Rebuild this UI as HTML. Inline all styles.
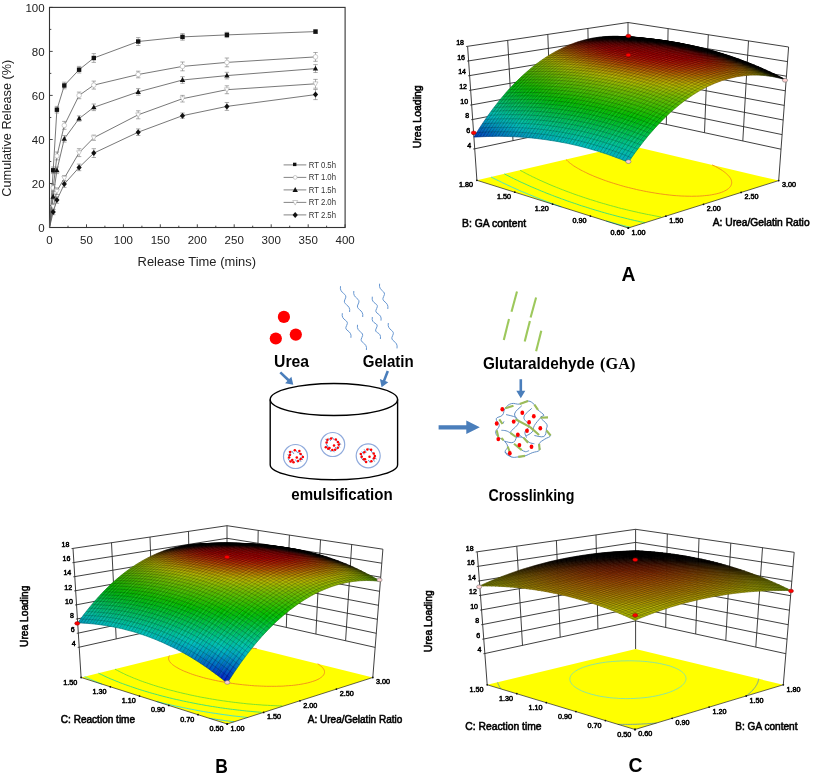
<!DOCTYPE html>
<html lang="en"><head><meta charset="utf-8"><title>Urea loading and release</title>
<style>html,body{margin:0;padding:0;background:#fff}svg{display:block}</style></head>
<body>
<svg width="813" height="777" viewBox="0 0 813 777">
<rect width="813" height="777" fill="#fff"/>
<g id="release-chart">
<rect x="49.5" y="7.4" width="295.6" height="220.1" fill="#fff" stroke="#333" stroke-width="1.1"/>
<path d="M49.5 227.5v-3.2M68 227.5v-1.8M86.5 227.5v-3.2M104.9 227.5v-1.8M123.4 227.5v-3.2M141.9 227.5v-1.8M160.3 227.5v-3.2M178.8 227.5v-1.8M197.3 227.5v-3.2M215.8 227.5v-1.8M234.2 227.5v-3.2M252.7 227.5v-1.8M271.2 227.5v-3.2M289.7 227.5v-1.8M308.2 227.5v-3.2M326.6 227.5v-1.8M345.1 227.5v-3.2M49.5 227.5h3.2M49.5 205.5h1.8M49.5 183.5h3.2M49.5 161.5h1.8M49.5 139.5h3.2M49.5 117.5h1.8M49.5 95.4h3.2M49.5 73.4h1.8M49.5 51.4h3.2M49.5 29.4h1.8M49.5 7.4h3.2" stroke="#333" stroke-width="0.9" fill="none"/>
<text x="49.5" y="243.8" font-size="11.5" text-anchor="middle" font-family='"Liberation Sans", sans-serif' fill="#222">0</text>
<text x="86.5" y="243.8" font-size="11.5" text-anchor="middle" font-family='"Liberation Sans", sans-serif' fill="#222">50</text>
<text x="123.4" y="243.8" font-size="11.5" text-anchor="middle" font-family='"Liberation Sans", sans-serif' fill="#222">100</text>
<text x="160.3" y="243.8" font-size="11.5" text-anchor="middle" font-family='"Liberation Sans", sans-serif' fill="#222">150</text>
<text x="197.3" y="243.8" font-size="11.5" text-anchor="middle" font-family='"Liberation Sans", sans-serif' fill="#222">200</text>
<text x="234.2" y="243.8" font-size="11.5" text-anchor="middle" font-family='"Liberation Sans", sans-serif' fill="#222">250</text>
<text x="271.2" y="243.8" font-size="11.5" text-anchor="middle" font-family='"Liberation Sans", sans-serif' fill="#222">300</text>
<text x="308.2" y="243.8" font-size="11.5" text-anchor="middle" font-family='"Liberation Sans", sans-serif' fill="#222">350</text>
<text x="345.1" y="243.8" font-size="11.5" text-anchor="middle" font-family='"Liberation Sans", sans-serif' fill="#222">400</text>
<text x="44.6" y="231.6" font-size="11.5" text-anchor="end" font-family='"Liberation Sans", sans-serif' fill="#222">0</text>
<text x="44.6" y="187.6" font-size="11.5" text-anchor="end" font-family='"Liberation Sans", sans-serif' fill="#222">20</text>
<text x="44.6" y="143.6" font-size="11.5" text-anchor="end" font-family='"Liberation Sans", sans-serif' fill="#222">40</text>
<text x="44.6" y="99.5" font-size="11.5" text-anchor="end" font-family='"Liberation Sans", sans-serif' fill="#222">60</text>
<text x="44.6" y="55.5" font-size="11.5" text-anchor="end" font-family='"Liberation Sans", sans-serif' fill="#222">80</text>
<text x="44.6" y="11.5" font-size="11.5" text-anchor="end" font-family='"Liberation Sans", sans-serif' fill="#222">100</text>
<text x="196.8" y="265.6" font-size="13.2" text-anchor="middle" font-family='"Liberation Sans", sans-serif' textLength="118.5" lengthAdjust="spacingAndGlyphs" fill="#222">Release Time (mins)</text>
<text x="11.4" y="128.2" font-size="13" text-anchor="middle" font-family='"Liberation Sans", sans-serif' textLength="137" lengthAdjust="spacingAndGlyphs" transform="rotate(-90 11.4 128.2)" fill="#222">Cumulative Release (%)</text>
<polyline points="49.5,227.5 53.2,170.3 56.9,109.7 64.3,85.5 79.1,69.7 93.8,58 138.2,41.5 182.5,36.9 226.9,34.9 315.5,31.6" fill="none" stroke="#555" stroke-width="0.8"/>
<path d="M53.2 167v6.6M51 167h4.4M51 173.6h4.4M56.9 106.4v6.6M54.7 106.4h4.4M54.7 113h4.4M64.3 82.2v6.6M62.1 82.2h4.4M62.1 88.8h4.4M79.1 66.4v6.6M76.9 66.4h4.4M76.9 73h4.4M93.8 53.6v8.8M91.6 53.6h4.4M91.6 62.4h4.4M138.2 37.6v7.9M136 37.6h4.4M136 45.5h4.4M182.5 33.6v6.6M180.3 33.6h4.4M180.3 40.2h4.4M226.9 32.3v5.3M224.7 32.3h4.4M224.7 37.6h4.4M315.5 29.9v3.5M313.3 29.9h4.4M313.3 33.4h4.4" stroke="#777" stroke-width="0.6" fill="none"/>
<rect x="51" y="168.1" width="4.4" height="4.4" fill="#111"/>
<rect x="54.7" y="107.5" width="4.4" height="4.4" fill="#111"/>
<rect x="62.1" y="83.3" width="4.4" height="4.4" fill="#111"/>
<rect x="76.9" y="67.5" width="4.4" height="4.4" fill="#111"/>
<rect x="91.6" y="55.8" width="4.4" height="4.4" fill="#111"/>
<rect x="136" y="39.3" width="4.4" height="4.4" fill="#111"/>
<rect x="180.3" y="34.7" width="4.4" height="4.4" fill="#111"/>
<rect x="224.7" y="32.7" width="4.4" height="4.4" fill="#111"/>
<rect x="313.3" y="29.4" width="4.4" height="4.4" fill="#111"/>
<polyline points="49.5,227.5 53.2,187.9 56.9,156 64.3,125.4 79.1,95.4 93.8,85.1 138.2,74.5 182.5,66.4 226.9,62.4 315.5,56.9" fill="none" stroke="#555" stroke-width="0.8"/>
<path d="M53.2 184.6v6.6M51 184.6h4.4M51 191.2h4.4M56.9 152v7.9M54.7 152h4.4M54.7 159.9h4.4M64.3 121.4v7.9M62.1 121.4h4.4M62.1 129.3h4.4M79.1 92.1v6.6M76.9 92.1h4.4M76.9 98.7h4.4M93.8 81.1v7.9M91.6 81.1h4.4M91.6 89.1h4.4M138.2 71.2v6.6M136 71.2h4.4M136 77.8h4.4M182.5 62v8.8M180.3 62h4.4M180.3 70.8h4.4M226.9 58v8.8M224.7 58h4.4M224.7 66.8h4.4M315.5 52.5v8.8M313.3 52.5h4.4M313.3 61.3h4.4" stroke="#777" stroke-width="0.6" fill="none"/>
<circle cx="53.2" cy="187.9" r="2.3" fill="#fff" stroke="#aaa" stroke-width="0.6"/>
<circle cx="56.9" cy="156" r="2.3" fill="#fff" stroke="#aaa" stroke-width="0.6"/>
<circle cx="64.3" cy="125.4" r="2.3" fill="#fff" stroke="#aaa" stroke-width="0.6"/>
<circle cx="79.1" cy="95.4" r="2.3" fill="#fff" stroke="#aaa" stroke-width="0.6"/>
<circle cx="93.8" cy="85.1" r="2.3" fill="#fff" stroke="#aaa" stroke-width="0.6"/>
<circle cx="138.2" cy="74.5" r="2.3" fill="#fff" stroke="#aaa" stroke-width="0.6"/>
<circle cx="182.5" cy="66.4" r="2.3" fill="#fff" stroke="#aaa" stroke-width="0.6"/>
<circle cx="226.9" cy="62.4" r="2.3" fill="#fff" stroke="#aaa" stroke-width="0.6"/>
<circle cx="315.5" cy="56.9" r="2.3" fill="#fff" stroke="#aaa" stroke-width="0.6"/>
<polyline points="49.5,227.5 53.2,196.7 56.9,170.3 64.3,138.8 79.1,118.6 93.8,107.3 138.2,91.9 182.5,80 226.9,75.6 315.5,68.6" fill="none" stroke="#555" stroke-width="0.8"/>
<path d="M53.2 194v5.3M51 194h4.4M51 199.3h4.4M56.9 167v6.6M54.7 167h4.4M54.7 173.6h4.4M64.3 135.5v6.6M62.1 135.5h4.4M62.1 142.1h4.4M79.1 115.9v5.3M76.9 115.9h4.4M76.9 121.2h4.4M93.8 104v6.6M91.6 104h4.4M91.6 110.6h4.4M138.2 88.6v6.6M136 88.6h4.4M136 95.2h4.4M182.5 76.7v6.6M180.3 76.7h4.4M180.3 83.3h4.4M226.9 72.3v6.6M224.7 72.3h4.4M224.7 78.9h4.4M315.5 64.6v7.9M313.3 64.6h4.4M313.3 72.5h4.4" stroke="#777" stroke-width="0.6" fill="none"/>
<polygon points="53.2,193.8 55.9,198.7 50.5,198.7" fill="#111"/>
<polygon points="56.9,167.4 59.6,172.3 54.2,172.3" fill="#111"/>
<polygon points="64.3,135.9 67,140.8 61.6,140.8" fill="#111"/>
<polygon points="79.1,115.7 81.8,120.6 76.4,120.6" fill="#111"/>
<polygon points="93.8,104.4 96.5,109.3 91.1,109.3" fill="#111"/>
<polygon points="138.2,89 140.9,93.9 135.5,93.9" fill="#111"/>
<polygon points="182.5,77.1 185.2,82 179.8,82" fill="#111"/>
<polygon points="226.9,72.7 229.6,77.6 224.2,77.6" fill="#111"/>
<polygon points="315.5,65.7 318.2,70.6 312.8,70.6" fill="#111"/>
<polyline points="49.5,227.5 53.2,206.6 56.9,191.2 64.3,178.2 79.1,152.7 93.8,137.7 138.2,114.8 182.5,98.7 226.9,89.7 315.5,83.8" fill="none" stroke="#555" stroke-width="0.8"/>
<path d="M53.2 204v5.3M51 204h4.4M51 209.2h4.4M56.9 187.9v6.6M54.7 187.9h4.4M54.7 194.5h4.4M64.3 175.6v5.3M62.1 175.6h4.4M62.1 180.8h4.4M79.1 148.7v7.9M76.9 148.7h4.4M76.9 156.6h4.4M93.8 135.1v5.3M91.6 135.1h4.4M91.6 140.3h4.4M138.2 110.8v7.9M136 110.8h4.4M136 118.8h4.4M182.5 95.4v6.6M180.3 95.4h4.4M180.3 102h4.4M226.9 85.8v7.9M224.7 85.8h4.4M224.7 93.7h4.4M315.5 79.4v8.8M313.3 79.4h4.4M313.3 88.2h4.4" stroke="#777" stroke-width="0.6" fill="none"/>
<polygon points="53.2,209.3 55.7,204.7 50.7,204.7" fill="#fff" stroke="#aaa" stroke-width="0.6"/>
<polygon points="56.9,193.9 59.4,189.3 54.4,189.3" fill="#fff" stroke="#aaa" stroke-width="0.6"/>
<polygon points="64.3,180.9 66.8,176.3 61.8,176.3" fill="#fff" stroke="#aaa" stroke-width="0.6"/>
<polygon points="79.1,155.4 81.6,150.8 76.6,150.8" fill="#fff" stroke="#aaa" stroke-width="0.6"/>
<polygon points="93.8,140.4 96.3,135.8 91.3,135.8" fill="#fff" stroke="#aaa" stroke-width="0.6"/>
<polygon points="138.2,117.5 140.7,112.9 135.7,112.9" fill="#fff" stroke="#aaa" stroke-width="0.6"/>
<polygon points="182.5,101.4 185,96.8 180,96.8" fill="#fff" stroke="#aaa" stroke-width="0.6"/>
<polygon points="226.9,92.4 229.4,87.8 224.4,87.8" fill="#fff" stroke="#aaa" stroke-width="0.6"/>
<polygon points="315.5,86.5 318,81.9 313,81.9" fill="#fff" stroke="#aaa" stroke-width="0.6"/>
<polyline points="49.5,227.5 53.2,212.1 56.9,200 64.3,184.1 79.1,167.4 93.8,153.1 138.2,132.2 182.5,115.7 226.9,106.4 315.5,94.6" fill="none" stroke="#555" stroke-width="0.8"/>
<path d="M53.2 209.5v5.3M51 209.5h4.4M51 214.7h4.4M56.9 196.7v6.6M54.7 196.7h4.4M54.7 203.3h4.4M64.3 180.8v6.6M62.1 180.8h4.4M62.1 187.4h4.4M79.1 164.1v6.6M76.9 164.1h4.4M76.9 170.7h4.4M93.8 148.7v8.8M91.6 148.7h4.4M91.6 157.5h4.4M138.2 128.9v6.6M136 128.9h4.4M136 135.5h4.4M182.5 113v5.3M180.3 113h4.4M180.3 118.3h4.4M226.9 102.5v7.9M224.7 102.5h4.4M224.7 110.4h4.4M315.5 89.5v10.1M313.3 89.5h4.4M313.3 99.6h4.4" stroke="#777" stroke-width="0.6" fill="none"/>
<polygon points="53.2,209.1 55.8,212.1 53.2,215.1 50.6,212.1" fill="#111"/>
<polygon points="56.9,197 59.5,200 56.9,203 54.3,200" fill="#111"/>
<polygon points="64.3,181.1 66.9,184.1 64.3,187.1 61.7,184.1" fill="#111"/>
<polygon points="79.1,164.4 81.7,167.4 79.1,170.4 76.5,167.4" fill="#111"/>
<polygon points="93.8,150.1 96.4,153.1 93.8,156.1 91.2,153.1" fill="#111"/>
<polygon points="138.2,129.2 140.8,132.2 138.2,135.2 135.6,132.2" fill="#111"/>
<polygon points="182.5,112.7 185.1,115.7 182.5,118.7 179.9,115.7" fill="#111"/>
<polygon points="226.9,103.4 229.5,106.4 226.9,109.4 224.3,106.4" fill="#111"/>
<polygon points="315.5,91.6 318.1,94.6 315.5,97.6 312.9,94.6" fill="#111"/>
<line x1="283.6" x2="306.3" y1="164.9" y2="164.9" stroke="#666" stroke-width="0.8"/>
<rect x="293" y="162.7" width="3.4" height="3.4" fill="#111"/>
<text x="308.7" y="167.8" font-size="8.2" text-anchor="start" font-family='"Liberation Sans", sans-serif' textLength="27.3" lengthAdjust="spacingAndGlyphs" fill="#333">RT 0.5h</text>
<line x1="283.6" x2="306.3" y1="177.4" y2="177.4" stroke="#666" stroke-width="0.8"/>
<circle cx="295.2" cy="177.4" r="1.9" fill="#fff" stroke="#aaa" stroke-width="0.6"/>
<text x="308.7" y="180.3" font-size="8.2" text-anchor="start" font-family='"Liberation Sans", sans-serif' textLength="27.3" lengthAdjust="spacingAndGlyphs" fill="#333">RT 1.0h</text>
<line x1="283.6" x2="306.3" y1="189.9" y2="189.9" stroke="#666" stroke-width="0.8"/>
<polygon points="295.2,187 297.9,191.9 292.5,191.9" fill="#111"/>
<text x="308.7" y="192.8" font-size="8.2" text-anchor="start" font-family='"Liberation Sans", sans-serif' textLength="27.3" lengthAdjust="spacingAndGlyphs" fill="#333">RT 1.5h</text>
<line x1="283.6" x2="306.3" y1="202.4" y2="202.4" stroke="#666" stroke-width="0.8"/>
<polygon points="295.2,205.1 297.7,200.5 292.7,200.5" fill="#fff" stroke="#aaa" stroke-width="0.6"/>
<text x="308.7" y="205.3" font-size="8.2" text-anchor="start" font-family='"Liberation Sans", sans-serif' textLength="27.3" lengthAdjust="spacingAndGlyphs" fill="#333">RT 2.0h</text>
<line x1="283.6" x2="306.3" y1="214.9" y2="214.9" stroke="#666" stroke-width="0.8"/>
<polygon points="295.2,211.9 297.8,214.9 295.2,217.9 292.6,214.9" fill="#111"/>
<text x="308.7" y="217.8" font-size="8.2" text-anchor="start" font-family='"Liberation Sans", sans-serif' textLength="27.3" lengthAdjust="spacingAndGlyphs" fill="#333">RT 2.5h</text>
</g>
<g id="schematic">
<circle cx="283.9" cy="316.9" r="6.1" fill="#f00"/>
<circle cx="275.8" cy="338.5" r="6.1" fill="#f00"/>
<circle cx="295.8" cy="334.6" r="6.1" fill="#f00"/>
<path d="M340.5 286.2C339 294.2 348.6 293.1 345.1 299.1S351.1 304 349.6 312M353.8 291C352.3 299 361.8 298 358.2 304S364.2 309 362.7 317M379.6 283.7C378.1 291.7 387.2 290.4 383.7 296.4S389.3 301 387.8 309M372.3 296.7C370.8 304.7 380.1 302.6 376.6 308.6S382.5 312.6 381 320.6M342.3 313.2C340.8 321.2 350.1 319.5 346.6 325.5S352.4 329.8 350.9 337.8M357.5 324.8C356 332.8 365.4 331.4 361.9 337.4S367.9 342 366.4 350M372.3 317C370.8 325 379.9 322 376.4 328S381.9 331 380.4 339M388.3 323C386.8 331 396.1 329.7 392.6 335.7S398.5 340.4 397 348.4" fill="none" stroke="#6797d2" stroke-width="1"/>
<text x="274.1" y="367.3" font-size="16" text-anchor="start" font-family='"Liberation Sans", sans-serif' textLength="35" lengthAdjust="spacingAndGlyphs" font-weight="bold" >Urea</text>
<text x="362.7" y="367.3" font-size="16" text-anchor="start" font-family='"Liberation Sans", sans-serif' textLength="51" lengthAdjust="spacingAndGlyphs" font-weight="bold" >Gelatin</text>
<polygon points="279.4,373.2 287.4,380.9 285.1,383.2 293.3,384.8 291.4,376.7 289.2,379 281.2,371.4" fill="#4a7ebb"/>
<polygon points="386.6,370.5 382.9,380.2 379.9,379.1 381.6,387.2 388.3,382.3 385.3,381.1 389,371.5" fill="#4a7ebb"/>
<polygon points="519.5,379.2 519.5,390.8 516.3,390.8 520.8,398.3 525.3,390.8 522.1,390.8 522.1,379.2" fill="#4a7ebb"/>
<polygon points="438.6,429.4 466.3,429.4 466.3,434.1 479.8,427.3 466.3,420.5 466.3,425.2 438.6,425.2" fill="#4a7ebb"/>
<path d="M270.2 399.5V464.7A63.7 15 0 0 0 397.6 464.7V399.5" fill="none" stroke="#000" stroke-width="1.4"/>
<ellipse cx="333.9" cy="399.5" rx="63.7" ry="16" fill="none" stroke="#000" stroke-width="1.4"/>
<circle cx="295.5" cy="456.5" r="12" fill="#fff" stroke="#8faadc" stroke-width="1.2"/>
<path d="M300.7 457.1l2.2 3M298.9 458.8l2.2 3M295.3 459.5l2.2 3M291.1 459.2l2.2 3M288 458.6l2.2 3M287.8 454.4l2.2 3M288.8 451.7l2.2 3M291.7 450.9l2.2 3M295.6 450.1l2.2 3M298.4 451.9l2.2 3M300.9 453.8l2.2 3" stroke="#3f78c0" stroke-width="0.8" fill="none"/>
<circle cx="302.9" cy="457.1" r="1.25" fill="#f00"/>
<circle cx="300.7" cy="458.9" r="1.25" fill="#f00"/>
<circle cx="298.1" cy="460.9" r="1.25" fill="#f00"/>
<circle cx="293.5" cy="462.2" r="1.25" fill="#f00"/>
<circle cx="290.6" cy="461.4" r="1.25" fill="#f00"/>
<circle cx="289" cy="457.5" r="1.25" fill="#f00"/>
<circle cx="289.9" cy="454.9" r="1.25" fill="#f00"/>
<circle cx="290.2" cy="452" r="1.25" fill="#f00"/>
<circle cx="294.8" cy="450.3" r="1.25" fill="#f00"/>
<circle cx="299.4" cy="451.1" r="1.25" fill="#f00"/>
<circle cx="300.6" cy="454.1" r="1.25" fill="#f00"/>
<circle cx="296.8" cy="457.5" r="1.25" fill="#f00"/>
<circle cx="292.3" cy="459.9" r="1.25" fill="#f00"/>
<circle cx="332.7" cy="444.5" r="12" fill="#fff" stroke="#8faadc" stroke-width="1.2"/>
<path d="M337.6 444.4l2.2 3M335 446.9l2.2 3M332.2 449.2l2.2 3M329 448.9l2.2 3M326.5 445.7l2.2 3M326 443.7l2.2 3M325.5 438.9l2.2 3M328.6 437.9l2.2 3M332.1 437.1l2.2 3M335.8 439.4l2.2 3M338.6 441.6l2.2 3" stroke="#3f78c0" stroke-width="0.8" fill="none"/>
<circle cx="338.9" cy="444.4" r="1.25" fill="#f00"/>
<circle cx="337.8" cy="447.8" r="1.25" fill="#f00"/>
<circle cx="335.1" cy="449.7" r="1.25" fill="#f00"/>
<circle cx="332.3" cy="449.9" r="1.25" fill="#f00"/>
<circle cx="328.2" cy="448.8" r="1.25" fill="#f00"/>
<circle cx="325.8" cy="447.2" r="1.25" fill="#f00"/>
<circle cx="326.6" cy="442.4" r="1.25" fill="#f00"/>
<circle cx="327.5" cy="439.8" r="1.25" fill="#f00"/>
<circle cx="331.1" cy="438.6" r="1.25" fill="#f00"/>
<circle cx="335.8" cy="439.5" r="1.25" fill="#f00"/>
<circle cx="337.9" cy="442" r="1.25" fill="#f00"/>
<circle cx="334" cy="445.5" r="1.25" fill="#f00"/>
<circle cx="329.5" cy="447.9" r="1.25" fill="#f00"/>
<circle cx="368.2" cy="455.8" r="12" fill="#fff" stroke="#8faadc" stroke-width="1.2"/>
<path d="M374.2 456.3l2.2 3M372.5 458.6l2.2 3M368.3 460l2.2 3M363.2 459.4l2.2 3M360.7 457.1l2.2 3M360.3 453.7l2.2 3M361.8 451.5l2.2 3M364.2 449.4l2.2 3M368.5 447.9l2.2 3M370.7 450.4l2.2 3M373.4 453.3l2.2 3" stroke="#3f78c0" stroke-width="0.8" fill="none"/>
<circle cx="374.8" cy="456" r="1.25" fill="#f00"/>
<circle cx="374" cy="458.3" r="1.25" fill="#f00"/>
<circle cx="371.4" cy="461.2" r="1.25" fill="#f00"/>
<circle cx="366.1" cy="462" r="1.25" fill="#f00"/>
<circle cx="363.8" cy="459.3" r="1.25" fill="#f00"/>
<circle cx="361.7" cy="456.8" r="1.25" fill="#f00"/>
<circle cx="360.8" cy="454" r="1.25" fill="#f00"/>
<circle cx="364.3" cy="452.2" r="1.25" fill="#f00"/>
<circle cx="367.4" cy="449.5" r="1.25" fill="#f00"/>
<circle cx="371.1" cy="449.8" r="1.25" fill="#f00"/>
<circle cx="373.7" cy="453.5" r="1.25" fill="#f00"/>
<circle cx="369.5" cy="456.8" r="1.25" fill="#f00"/>
<circle cx="365" cy="459.2" r="1.25" fill="#f00"/>
<text x="291.3" y="500.4" font-size="16" text-anchor="start" font-family='"Liberation Sans", sans-serif' textLength="101.4" lengthAdjust="spacingAndGlyphs" font-weight="bold" >emulsification</text>
<line x1="517" y1="291.4" x2="511.5" y2="311.7" stroke="#9dc85c" stroke-width="2.1"/>
<line x1="536.1" y1="297.5" x2="530.6" y2="317.5" stroke="#9dc85c" stroke-width="2.1"/>
<line x1="509" y1="319" x2="503.8" y2="340" stroke="#9dc85c" stroke-width="2.1"/>
<line x1="529.9" y1="320.9" x2="524.7" y2="341.5" stroke="#9dc85c" stroke-width="2.1"/>
<line x1="541.3" y1="330.7" x2="536.1" y2="351.3" stroke="#9dc85c" stroke-width="2.1"/>
<text x="482.9" y="369.2" font-size="16" text-anchor="start" font-family='"Liberation Sans", sans-serif' textLength="111.6" lengthAdjust="spacingAndGlyphs" font-weight="bold" >Glutaraldehyde</text>
<text x="600" y="369.2" font-size="16.5" text-anchor="start" font-family='"Liberation Serif", serif' textLength="35.4" lengthAdjust="spacingAndGlyphs" font-weight="bold" >(GA)</text>
<path d="M511.4 403.6C514.3 402.8 516.4 404.6 519.7 404.1C523.1 403.6 525.2 400.9 528.1 401C531 401.1 532.4 402.9 534.4 404.6C536.4 406.4 536.1 407.8 538 409.9C539.9 412 543.3 413.5 543.8 415.1C544.3 416.7 540 415.8 540.6 417.7C541.3 419.6 545.8 422 546.9 424.5C548.1 427 545.7 428.1 546.4 430.3C547.1 432.4 550.9 433.7 550.6 435.5C550.3 437.3 547.1 437.5 544.8 439.1C542.5 440.8 540.1 441.6 539.1 443.8C538 446 541 448.3 539.6 450.1C538.2 451.9 535.2 451.6 532.3 452.7C529.3 453.9 527.8 455 525 455.9C522.1 456.7 520.9 456.7 518.2 456.9C515.4 457.1 514 457.9 511.4 456.9C508.8 456 505.8 454.3 505.1 452.2C504.4 450.1 508 448.9 507.7 446.5C507.4 444.1 505.4 442.1 503.5 440.2C501.6 438.3 499.9 438.7 498.3 437C496.7 435.4 495.5 434.1 495.7 431.8C495.9 429.5 499.2 428.2 499.3 425.5C499.4 422.9 495.6 420.8 496.2 418.8C496.8 416.7 500.7 417.2 502.5 415.1C504.3 413 503.3 410.6 505.1 408.3C506.9 406 508.4 404.4 511.4 403.6M521.8 405.7C520.4 407.4 515.1 410.7 514.5 414C513.9 417.4 519.3 419.1 518.7 422.4C518.1 425.8 513 428.7 511.4 430.8C509.7 432.9 510.5 432.4 510.3 432.9M531.8 408.3C530.2 410.1 524.4 413.7 523.9 417.2C523.4 420.6 528.9 422.6 529.1 425.5C529.3 428.5 525.5 429.4 525 431.8C524.4 434.2 526.2 436.4 526.5 437.6M540.1 418.2C539 419.7 535.9 422.8 534.4 425.5C532.8 428.3 533.9 429.7 532.3 431.8C530.6 433.9 527.3 435.2 526 436M506.1 414.6C508 415.1 513.7 416.2 515.5 417.2C517.4 418.1 515.5 418.9 515.5 419.3M501.4 430.3C502.4 430.4 504.4 430.3 506.1 430.8C507.9 431.3 509.5 432.4 510.3 432.9M516.1 437C517.5 437.2 520.8 436.5 523.4 437.6C526 438.6 526.9 441 529.1 442.3C531.3 443.5 533.3 443.5 534.4 443.8M504.6 441.2C506.3 441.4 510.8 443.6 513.5 442.3C516.1 441 516.2 435.8 517.8 434.7C519.5 433.7 521 436.6 521.8 437M521.8 450.1C522.6 450.4 524 451.6 525.5 451.7C526.9 451.8 528.4 450.8 529.1 450.6M534.4 435.5C536.2 435.7 541.4 437.6 543.8 436.5C546.2 435.5 545.9 431.5 546.4 430.3M502.5 424L504 421.4M505.1 452.2L511.4 456.9" fill="none" stroke="#4f81bd" stroke-width="0.9"/>
<path d="M519.7 404.1L528.1 401M505.1 408.3L513.5 405.7M534.4 404.6L538 409.9M540.6 417.7L548 417.4M499.3 419.3L502.5 424M515.5 419.3L530.2 427.1M530.2 427.1L539.1 435M546.4 430.3L550.6 435.5M496.7 430.3L498.3 437M510.3 432.9L516.1 437M523.4 437.6L528.1 442.8M501.4 438.1L503.5 440.2M539.1 443.8L539.6 450.1M514 443.8L521.8 450.1M507.7 446.5L509.8 452.2M518.2 456.9L525 455.9" fill="none" stroke="#9bbb59" stroke-width="2.1"/>
<ellipse cx="502.3" cy="409.3" rx="1.9" ry="2.2" fill="#f00"/>
<ellipse cx="522.3" cy="412.8" rx="1.9" ry="2.2" fill="#f00"/>
<ellipse cx="533.8" cy="416.3" rx="1.9" ry="2.2" fill="#f00"/>
<ellipse cx="496.7" cy="423.5" rx="1.9" ry="2.2" fill="#f00"/>
<ellipse cx="513.7" cy="421.6" rx="1.9" ry="2.2" fill="#f00"/>
<ellipse cx="529.1" cy="422.2" rx="1.9" ry="2.2" fill="#f00"/>
<ellipse cx="540.3" cy="428.2" rx="1.9" ry="2.2" fill="#f00"/>
<ellipse cx="527" cy="430.8" rx="1.9" ry="2.2" fill="#f00"/>
<ellipse cx="517.8" cy="434.7" rx="1.9" ry="2.2" fill="#f00"/>
<ellipse cx="498.3" cy="439.1" rx="1.9" ry="2.2" fill="#f00"/>
<ellipse cx="519.4" cy="445.1" rx="1.9" ry="2.2" fill="#f00"/>
<ellipse cx="531.5" cy="446.8" rx="1.9" ry="2.2" fill="#f00"/>
<ellipse cx="509.8" cy="453.3" rx="1.9" ry="2.2" fill="#f00"/>
<text x="488.4" y="500.7" font-size="16" text-anchor="start" font-family='"Liberation Sans", sans-serif' textLength="86.1" lengthAdjust="spacingAndGlyphs" font-weight="bold" >Crosslinking</text>
</g>
<g id="plot-A">
<path d="M474.7 148.8L628 116.2M628 116.2L781 149.2M473.7 134.2L628 102.8M628 102.8L782.1 134.6M472.7 119.5L628 89.4M628 89.4L783.2 120M471.7 104.9L628 76.1M628 76.1L784.3 105.4M470.6 90.2L628 62.7M628 62.7L785.4 90.8M469.6 75.6L628 49.3M628 49.3L786.4 76.2M468.6 60.9L628 35.9M628 35.9L787.5 61.6M467.6 46.3L628 22.5M628 22.5L788.6 47M513 140.7L507.7 40.3M551.4 132.5L547.8 34.4M589.7 124.4L587.9 28.4M742.8 141L748.5 40.9M704.5 132.7L708.3 34.8M666.3 124.5L668.1 28.6M476.9 180.3L467.6 46.3M628 145L628 22.5M778.7 180.6L788.6 47" stroke="#2a2a2a" stroke-width="0.9" fill="none"/>
<polygon points="476.9,180.3 628.3,228 778.7,180.6 628,145" fill="#ffff00"/>
<polyline points="606.1,221 606.9,221.2 608.2,221.6 609.6,222 611,222.3 612.3,222.7 613.7,223.1 615.1,223.4 616.4,223.8 617.8,224.2 619.2,224.5 620.6,224.9 622,225.2 622,225.2 623.4,225.6 624.8,225.9 626.2,226.3 627.6,226.6 629,227 630.5,227.3" fill="none" stroke="#30e0e0" stroke-width="0.9"/>
<polyline points="491,177 491.9,177.5 493.8,178.4 495.2,179.1 496.6,179.8 498.5,180.7 499.4,181.2 501.3,182.1 502.8,182.9 504.2,183.5 506.2,184.4 507.1,184.9 509.1,185.8 511.1,186.7 512.1,187.2 514.1,188.1 516.2,189 517.2,189.5 519.3,190.4 521.3,191.3 522.7,191.9 524.5,192.6 526.6,193.5 528.7,194.4 529.8,194.8 532,195.7 534.1,196.6 536.3,197.5 537.4,197.9 539.6,198.8 541.9,199.7 544.1,200.5 546.4,201.4 547.5,201.8 549.8,202.7 552.1,203.6 554.4,204.4 556.7,205.2 559.1,206.1 561.4,206.9" fill="none" stroke="#30e0e0" stroke-width="0.9"/>
<polyline points="504.4,173.9 506.2,174.8 507.1,175.3 508.9,176.2 510.2,176.9 511.6,177.6 513.5,178.5 514.4,179 516.3,179.9 517.5,180.4 519.2,181.3 521.1,182.2 522.1,182.6 524.1,183.5 526.1,184.4 527.1,184.9 529.1,185.8 531.1,186.7 532.1,187.1 534.2,188 536.3,188.9 537.3,189.3 539.4,190.2 541.5,191.1 543.4,191.8 544.7,192.4 546.9,193.3 549.1,194.1 551.3,195 552.4,195.4 554.6,196.3 556.9,197.1 559.1,197.9 561.4,198.8 562.6,199.2 564.9,200 567.2,200.9 569.6,201.7 571.9,202.5 574.3,203.3 576.7,204.1 579.2,205 581.6,205.8 582.9,206.2 585.3,206.9 587.8,207.7 590.3,208.5 592.8,209.3 595.4,210.1 597.9,210.8 599.2,211.2 601.8,212 604.4,212.7 607.1,213.5 609.7,214.2 612.4,214.9 615.1,215.6 617.9,216.4 620.6,217.1 622,217.4 624.8,218.1 627.6,218.8 630.4,219.5 633.1,220.1 634.7,220.5 637.6,221.1 640.5,221.8 642.6,222.2 644.9,222.8" fill="none" stroke="#30e080" stroke-width="0.9"/>
<polyline points="520.1,170.2 520.9,170.7 522.6,171.6 523.5,172.1 525.2,173 526.3,173.6 527.9,174.4 529.4,175.2 530.6,175.7 532.4,176.7 533.4,177.1 535.2,178 536.5,178.6 538.1,179.4 540,180.3 541,180.7 543,181.6 545,182.5 546,182.9 548,183.8 550,184.7 551,185.1 553.1,186 555.2,186.8 556.3,187.3 558.4,188.1 560.6,189 562.7,189.8 563.8,190.2 566,191.1 568.2,191.9 570.5,192.7 572.8,193.6 573.9,194 576.2,194.8 578.5,195.6 580.9,196.4 583.2,197.2 585.6,198 588,198.8 590.4,199.6 592.9,200.3 595.3,201.1 596.6,201.5 599.1,202.3 601.6,203 603.3,203.5 605.5,204.1 608.1,204.9 610.7,205.6 613.3,206.3 616,207 618.7,207.8 621.4,208.5 624.1,209.1 626.5,209.7 628.3,210.2 631.1,210.8 634,211.5 636.8,212.1 638.3,212.5 641.2,213.1 644.1,213.7 646.7,214.3 648.6,214.6 651.6,215.2 654.1,215.7 656.2,216.1 659.3,216.7 660.9,216.9" fill="none" stroke="#70e030" stroke-width="0.9"/>
<polyline points="566.1,159.5 566.8,160.2 567.6,161 568.1,161.5 568.7,162 569.7,162.9 570.5,163.5 571.2,164 572.4,164.9 573.2,165.5 573.9,166 575.4,166.9 576.1,167.3 577.7,168.3 578.5,168.7 580,169.6 580.9,170.1 582.5,170.9 583.5,171.4 585.3,172.3 586.2,172.7 588,173.6 589,174.1 590.9,174.9 592.8,175.7 593.8,176.2 595.9,177 597.9,177.8 599,178.2 601.1,179 603.2,179.8 605.4,180.6 606.6,181 608.8,181.8 611.1,182.5 613.5,183.3 615.9,184 618.3,184.7 620.8,185.5 623.3,186.2 625.8,186.9 628.4,187.5 631.1,188.2 633.8,188.8 636.5,189.5 639.1,190.1 640.8,190.4 643.7,191 646.6,191.6 648.3,191.9 651.1,192.4 654.2,192.9 655.8,193.2 659.1,193.7 660.7,193.9 664.1,194.4 665.8,194.6 669.3,195 671.1,195.2 674,195.5 676.7,195.7 678.7,195.8 681.1,196 684.3,196.1 687,196.2 689.2,196.2 691.5,196.3 694,196.2 696.5,196.2 699.2,196.1 702.2,195.9 704.3,195.7 706.2,195.5 709.3,195.2 711.6,194.8 714.7,194.2 716.2,193.9 718.9,193.2 721.4,192.4 723.6,191.5 724.5,191 726.3,190.1 727.1,189.6 728.5,188.5 729.1,188 729.7,187.4 730.4,186.5 730.9,185.7 731.2,185 731.4,184.4 731.6,183.7 731.7,183 731.7,182.3 731.6,181.6 731.5,180.9 731.3,180.2 731,179.4 730.7,178.8 730.4,178.2 730,177.7 729.6,177 728.9,176.2 728.3,175.5 727.8,174.9 727.2,174.4 726.2,173.5 725.5,172.9 724.9,172.4 723.8,171.6 723,171 722.3,170.5 720.9,169.6 720.1,169.1 719,168.5 717.9,167.8 717,167.3 715.5,166.5 714.7,166.1 713,165.3 712.1,164.9" fill="none" stroke="#f08a1e" stroke-width="0.9"/>
<path d="M476.9 180.3L628.3 228L778.7 180.6" stroke="#222" stroke-width="0.7" fill="none"/>
<text x="631.6" y="234.8" font-size="7" text-anchor="start" font-family='"Liberation Sans", sans-serif' textLength="14" lengthAdjust="spacingAndGlyphs" stroke="#000" stroke-width="0.5">1.00</text>
<text x="669.2" y="223" font-size="7" text-anchor="start" font-family='"Liberation Sans", sans-serif' textLength="14" lengthAdjust="spacingAndGlyphs" stroke="#000" stroke-width="0.5">1.50</text>
<text x="706.8" y="211.1" font-size="7" text-anchor="start" font-family='"Liberation Sans", sans-serif' textLength="14" lengthAdjust="spacingAndGlyphs" stroke="#000" stroke-width="0.5">2.00</text>
<text x="744.4" y="199.2" font-size="7" text-anchor="start" font-family='"Liberation Sans", sans-serif' textLength="14" lengthAdjust="spacingAndGlyphs" stroke="#000" stroke-width="0.5">2.50</text>
<text x="782" y="187.4" font-size="7" text-anchor="start" font-family='"Liberation Sans", sans-serif' textLength="14" lengthAdjust="spacingAndGlyphs" stroke="#000" stroke-width="0.5">3.00</text>
<text x="624.5" y="235" font-size="7" text-anchor="end" font-family='"Liberation Sans", sans-serif' textLength="14" lengthAdjust="spacingAndGlyphs" stroke="#000" stroke-width="0.5">0.60</text>
<text x="586.6" y="223.1" font-size="7" text-anchor="end" font-family='"Liberation Sans", sans-serif' textLength="14" lengthAdjust="spacingAndGlyphs" stroke="#000" stroke-width="0.5">0.90</text>
<text x="548.8" y="211.2" font-size="7" text-anchor="end" font-family='"Liberation Sans", sans-serif' textLength="14" lengthAdjust="spacingAndGlyphs" stroke="#000" stroke-width="0.5">1.20</text>
<text x="510.9" y="199.2" font-size="7" text-anchor="end" font-family='"Liberation Sans", sans-serif' textLength="14" lengthAdjust="spacingAndGlyphs" stroke="#000" stroke-width="0.5">1.50</text>
<text x="473.1" y="187.3" font-size="7" text-anchor="end" font-family='"Liberation Sans", sans-serif' textLength="14" lengthAdjust="spacingAndGlyphs" stroke="#000" stroke-width="0.5">1.80</text>
<circle cx="628.3" cy="228" r="0.9" fill="#111"/>
<circle cx="665.9" cy="216.2" r="0.9" fill="#111"/>
<circle cx="703.5" cy="204.3" r="0.9" fill="#111"/>
<circle cx="741.1" cy="192.4" r="0.9" fill="#111"/>
<circle cx="778.7" cy="180.6" r="0.9" fill="#111"/>
<circle cx="628.3" cy="228" r="0.9" fill="#111"/>
<circle cx="590.4" cy="216.1" r="0.9" fill="#111"/>
<circle cx="552.6" cy="204.2" r="0.9" fill="#111"/>
<circle cx="514.8" cy="192.2" r="0.9" fill="#111"/>
<circle cx="476.9" cy="180.3" r="0.9" fill="#111"/>
<text x="471.1" y="147.6" font-size="7" text-anchor="end" font-family='"Liberation Sans", sans-serif' stroke="#000" stroke-width="0.5">4</text>
<line x1="473.2" y1="149" x2="474.7" y2="148.8" stroke="#222" stroke-width="0.8"/>
<text x="470.1" y="133" font-size="7" text-anchor="end" font-family='"Liberation Sans", sans-serif' stroke="#000" stroke-width="0.5">6</text>
<line x1="472.2" y1="134.4" x2="473.7" y2="134.2" stroke="#222" stroke-width="0.8"/>
<text x="469.1" y="118.3" font-size="7" text-anchor="end" font-family='"Liberation Sans", sans-serif' stroke="#000" stroke-width="0.5">8</text>
<line x1="471.2" y1="119.7" x2="472.7" y2="119.5" stroke="#222" stroke-width="0.8"/>
<text x="468.1" y="103.7" font-size="7" text-anchor="end" font-family='"Liberation Sans", sans-serif' stroke="#000" stroke-width="0.5">10</text>
<line x1="470.2" y1="105.1" x2="471.7" y2="104.9" stroke="#222" stroke-width="0.8"/>
<text x="467" y="89" font-size="7" text-anchor="end" font-family='"Liberation Sans", sans-serif' stroke="#000" stroke-width="0.5">12</text>
<line x1="469.1" y1="90.4" x2="470.6" y2="90.2" stroke="#222" stroke-width="0.8"/>
<text x="466" y="74.4" font-size="7" text-anchor="end" font-family='"Liberation Sans", sans-serif' stroke="#000" stroke-width="0.5">14</text>
<line x1="468.1" y1="75.8" x2="469.6" y2="75.6" stroke="#222" stroke-width="0.8"/>
<text x="465" y="59.7" font-size="7" text-anchor="end" font-family='"Liberation Sans", sans-serif' stroke="#000" stroke-width="0.5">16</text>
<line x1="467.1" y1="61.1" x2="468.6" y2="60.9" stroke="#222" stroke-width="0.8"/>
<text x="464" y="45.1" font-size="7" text-anchor="end" font-family='"Liberation Sans", sans-serif' stroke="#000" stroke-width="0.5">18</text>
<line x1="466.1" y1="46.5" x2="467.6" y2="46.3" stroke="#222" stroke-width="0.8"/>
<defs><linearGradient id="gA39" gradientUnits="userSpaceOnUse" x1="475.8" x2="630" y1="0" y2="0"><stop offset="0" stop-color="#003cb9"/><stop offset=".042" stop-color="#0078b8"/><stop offset=".084" stop-color="#00aeb7"/><stop offset=".127" stop-color="#00b588"/><stop offset=".17" stop-color="#00b456"/><stop offset=".214" stop-color="#00b225"/><stop offset=".258" stop-color="#06af00"/><stop offset=".303" stop-color="#2cad00"/><stop offset=".348" stop-color="#4fab00"/><stop offset=".393" stop-color="#6ea800"/><stop offset=".439" stop-color="#90a400"/><stop offset=".485" stop-color="#9e9100"/><stop offset=".531" stop-color="#956700"/><stop offset=".577" stop-color="#864000"/><stop offset=".624" stop-color="#6b2100"/><stop offset=".671" stop-color="#3c0b00"/><stop offset=".718" stop-color="#0d0100"/><stop offset=".765" stop-color="#000000"/><stop offset=".812" stop-color="#000000"/><stop offset=".859" stop-color="#000000"/><stop offset=".906" stop-color="#000000"/><stop offset=".953" stop-color="#000000"/><stop offset="1" stop-color="#000000"/></linearGradient><linearGradient id="gA38" gradientUnits="userSpaceOnUse" x1="479.6" x2="634" y1="0" y2="0"><stop offset="0" stop-color="#0045b9"/><stop offset=".042" stop-color="#0080b8"/><stop offset=".084" stop-color="#00b7b7"/><stop offset=".127" stop-color="#00b680"/><stop offset=".17" stop-color="#00b44d"/><stop offset=".214" stop-color="#00b21d"/><stop offset=".258" stop-color="#0db000"/><stop offset=".303" stop-color="#33ad00"/><stop offset=".348" stop-color="#56ab00"/><stop offset=".394" stop-color="#76a800"/><stop offset=".439" stop-color="#98a400"/><stop offset=".485" stop-color="#9f8800"/><stop offset=".531" stop-color="#975e00"/><stop offset=".578" stop-color="#883800"/><stop offset=".624" stop-color="#6f1b00"/><stop offset=".671" stop-color="#410800"/><stop offset=".718" stop-color="#100100"/><stop offset=".765" stop-color="#000000"/><stop offset=".812" stop-color="#000000"/><stop offset=".859" stop-color="#000000"/><stop offset=".906" stop-color="#000000"/><stop offset=".953" stop-color="#000000"/><stop offset="1" stop-color="#000000"/></linearGradient><linearGradient id="gA37" gradientUnits="userSpaceOnUse" x1="483.4" x2="638" y1="0" y2="0"><stop offset="0" stop-color="#004db9"/><stop offset=".042" stop-color="#0088b8"/><stop offset=".084" stop-color="#00b8b0"/><stop offset=".127" stop-color="#00b679"/><stop offset=".171" stop-color="#00b446"/><stop offset=".215" stop-color="#00b316"/><stop offset=".259" stop-color="#14b000"/><stop offset=".304" stop-color="#3aae00"/><stop offset=".349" stop-color="#5dab00"/><stop offset=".394" stop-color="#7ea900"/><stop offset=".44" stop-color="#a0a500"/><stop offset=".486" stop-color="#a07f00"/><stop offset=".532" stop-color="#995500"/><stop offset=".578" stop-color="#8a3100"/><stop offset=".625" stop-color="#731600"/><stop offset=".672" stop-color="#470600"/><stop offset=".718" stop-color="#160000"/><stop offset=".765" stop-color="#020000"/><stop offset=".812" stop-color="#000000"/><stop offset=".859" stop-color="#000000"/><stop offset=".906" stop-color="#000000"/><stop offset=".953" stop-color="#000000"/><stop offset="1" stop-color="#000000"/></linearGradient><linearGradient id="gA36" gradientUnits="userSpaceOnUse" x1="487.1" x2="642" y1="0" y2="0"><stop offset="0" stop-color="#0055b9"/><stop offset=".042" stop-color="#0090b8"/><stop offset=".084" stop-color="#00b8a8"/><stop offset=".127" stop-color="#00b672"/><stop offset=".171" stop-color="#00b53f"/><stop offset=".215" stop-color="#00b30f"/><stop offset=".259" stop-color="#1bb100"/><stop offset=".304" stop-color="#40ae00"/><stop offset=".349" stop-color="#63ac00"/><stop offset=".394" stop-color="#87a900"/><stop offset=".44" stop-color="#a5a200"/><stop offset=".486" stop-color="#a17600"/><stop offset=".532" stop-color="#9a4d00"/><stop offset=".579" stop-color="#8d2a00"/><stop offset=".625" stop-color="#771000"/><stop offset=".672" stop-color="#4d0300"/><stop offset=".719" stop-color="#1b0000"/><stop offset=".766" stop-color="#030000"/><stop offset=".813" stop-color="#000000"/><stop offset=".86" stop-color="#000000"/><stop offset=".906" stop-color="#000000"/><stop offset=".953" stop-color="#000000"/><stop offset="1" stop-color="#000000"/></linearGradient><linearGradient id="gA35" gradientUnits="userSpaceOnUse" x1="490.9" x2="645.9" y1="0" y2="0"><stop offset="0" stop-color="#005db9"/><stop offset=".042" stop-color="#0097b9"/><stop offset=".085" stop-color="#00b8a1"/><stop offset=".128" stop-color="#00b76b"/><stop offset=".171" stop-color="#00b538"/><stop offset=".215" stop-color="#00b308"/><stop offset=".26" stop-color="#21b100"/><stop offset=".304" stop-color="#46af00"/><stop offset=".349" stop-color="#69ac00"/><stop offset=".395" stop-color="#8eaa00"/><stop offset=".441" stop-color="#a69b00"/><stop offset=".487" stop-color="#a26f00"/><stop offset=".533" stop-color="#9b4500"/><stop offset=".579" stop-color="#8f2300"/><stop offset=".626" stop-color="#7a0c00"/><stop offset=".672" stop-color="#530100"/><stop offset=".719" stop-color="#210000"/><stop offset=".766" stop-color="#050000"/><stop offset=".813" stop-color="#000000"/><stop offset=".86" stop-color="#000000"/><stop offset=".907" stop-color="#000000"/><stop offset=".953" stop-color="#000000"/><stop offset="1" stop-color="#000000"/></linearGradient><linearGradient id="gA34" gradientUnits="userSpaceOnUse" x1="494.7" x2="649.9" y1="0" y2="0"><stop offset="0" stop-color="#0064b9"/><stop offset=".042" stop-color="#009fb9"/><stop offset=".085" stop-color="#00b89a"/><stop offset=".128" stop-color="#00b765"/><stop offset=".171" stop-color="#00b531"/><stop offset=".215" stop-color="#00b402"/><stop offset=".26" stop-color="#27b200"/><stop offset=".305" stop-color="#4caf00"/><stop offset=".35" stop-color="#6fad00"/><stop offset=".395" stop-color="#95aa00"/><stop offset=".441" stop-color="#a69400"/><stop offset=".487" stop-color="#a36700"/><stop offset=".533" stop-color="#9c3d00"/><stop offset=".58" stop-color="#911d00"/><stop offset=".626" stop-color="#7d0800"/><stop offset=".673" stop-color="#590000"/><stop offset=".72" stop-color="#270000"/><stop offset=".766" stop-color="#060000"/><stop offset=".813" stop-color="#000000"/><stop offset=".86" stop-color="#000000"/><stop offset=".907" stop-color="#000000"/><stop offset=".953" stop-color="#000000"/><stop offset="1" stop-color="#000000"/></linearGradient><linearGradient id="gA33" gradientUnits="userSpaceOnUse" x1="498.6" x2="653.9" y1="0" y2="0"><stop offset="0" stop-color="#006bba"/><stop offset=".042" stop-color="#00a5b9"/><stop offset=".085" stop-color="#00b893"/><stop offset=".128" stop-color="#00b75f"/><stop offset=".172" stop-color="#00b62b"/><stop offset=".216" stop-color="#02b400"/><stop offset=".26" stop-color="#2cb200"/><stop offset=".305" stop-color="#52af00"/><stop offset=".35" stop-color="#74ad00"/><stop offset=".396" stop-color="#9cab00"/><stop offset=".442" stop-color="#a78c00"/><stop offset=".488" stop-color="#a35f00"/><stop offset=".534" stop-color="#9d3600"/><stop offset=".58" stop-color="#921600"/><stop offset=".627" stop-color="#800500"/><stop offset=".673" stop-color="#5e0000"/><stop offset=".72" stop-color="#2c0000"/><stop offset=".767" stop-color="#080000"/><stop offset=".813" stop-color="#000000"/><stop offset=".86" stop-color="#000000"/><stop offset=".907" stop-color="#000000"/><stop offset=".953" stop-color="#000000"/><stop offset="1" stop-color="#000000"/></linearGradient><linearGradient id="gA32" gradientUnits="userSpaceOnUse" x1="502.4" x2="657.9" y1="0" y2="0"><stop offset="0" stop-color="#0072ba"/><stop offset=".042" stop-color="#00abb9"/><stop offset=".085" stop-color="#00b88e"/><stop offset=".128" stop-color="#00b759"/><stop offset=".172" stop-color="#00b625"/><stop offset=".216" stop-color="#08b400"/><stop offset=".261" stop-color="#31b200"/><stop offset=".306" stop-color="#57b000"/><stop offset=".351" stop-color="#7cad00"/><stop offset=".396" stop-color="#a3ab00"/><stop offset=".442" stop-color="#a78500"/><stop offset=".488" stop-color="#a45800"/><stop offset=".534" stop-color="#9e2f00"/><stop offset=".581" stop-color="#941200"/><stop offset=".627" stop-color="#830100"/><stop offset=".674" stop-color="#640000"/><stop offset=".72" stop-color="#310000"/><stop offset=".767" stop-color="#090000"/><stop offset=".814" stop-color="#000000"/><stop offset=".86" stop-color="#000000"/><stop offset=".907" stop-color="#000000"/><stop offset=".954" stop-color="#000000"/><stop offset="1" stop-color="#000000"/></linearGradient><linearGradient id="gA31" gradientUnits="userSpaceOnUse" x1="506.2" x2="661.9" y1="0" y2="0"><stop offset="0" stop-color="#0079ba"/><stop offset=".042" stop-color="#00b2b9"/><stop offset=".085" stop-color="#00b888"/><stop offset=".128" stop-color="#00b853"/><stop offset=".172" stop-color="#00b61f"/><stop offset=".216" stop-color="#0eb500"/><stop offset=".261" stop-color="#37b300"/><stop offset=".306" stop-color="#5cb000"/><stop offset=".351" stop-color="#82ae00"/><stop offset=".397" stop-color="#a9ab00"/><stop offset=".442" stop-color="#a87e00"/><stop offset=".488" stop-color="#a45000"/><stop offset=".535" stop-color="#9f2900"/><stop offset=".581" stop-color="#950d00"/><stop offset=".627" stop-color="#860000"/><stop offset=".674" stop-color="#690000"/><stop offset=".721" stop-color="#370000"/><stop offset=".767" stop-color="#0b0000"/><stop offset=".814" stop-color="#000000"/><stop offset=".861" stop-color="#000000"/><stop offset=".907" stop-color="#000000"/><stop offset=".954" stop-color="#000000"/><stop offset="1" stop-color="#000000"/></linearGradient><linearGradient id="gA30" gradientUnits="userSpaceOnUse" x1="510" x2="665.9" y1="0" y2="0"><stop offset="0" stop-color="#007fba"/><stop offset=".042" stop-color="#00b8b9"/><stop offset=".085" stop-color="#00b982"/><stop offset=".129" stop-color="#00b84d"/><stop offset=".173" stop-color="#00b61a"/><stop offset=".217" stop-color="#13b500"/><stop offset=".261" stop-color="#3bb300"/><stop offset=".306" stop-color="#61b100"/><stop offset=".352" stop-color="#88ae00"/><stop offset=".397" stop-color="#aca800"/><stop offset=".443" stop-color="#a87900"/><stop offset=".489" stop-color="#a54a00"/><stop offset=".535" stop-color="#a02400"/><stop offset=".581" stop-color="#970a00"/><stop offset=".628" stop-color="#880000"/><stop offset=".674" stop-color="#6e0000"/><stop offset=".721" stop-color="#3d0000"/><stop offset=".768" stop-color="#0c0000"/><stop offset=".814" stop-color="#000000"/><stop offset=".861" stop-color="#000000"/><stop offset=".907" stop-color="#000000"/><stop offset=".954" stop-color="#000000"/><stop offset="1" stop-color="#000000"/></linearGradient><linearGradient id="gA29" gradientUnits="userSpaceOnUse" x1="513.9" x2="669.9" y1="0" y2="0"><stop offset="0" stop-color="#0085ba"/><stop offset=".042" stop-color="#00bab4"/><stop offset=".085" stop-color="#00b97d"/><stop offset=".129" stop-color="#00b848"/><stop offset=".173" stop-color="#00b715"/><stop offset=".217" stop-color="#17b500"/><stop offset=".262" stop-color="#40b400"/><stop offset=".307" stop-color="#66b100"/><stop offset=".352" stop-color="#8eaf00"/><stop offset=".398" stop-color="#aca300"/><stop offset=".443" stop-color="#a97300"/><stop offset=".489" stop-color="#a54400"/><stop offset=".536" stop-color="#a11f00"/><stop offset=".582" stop-color="#990600"/><stop offset=".628" stop-color="#8b0000"/><stop offset=".675" stop-color="#720000"/><stop offset=".721" stop-color="#430000"/><stop offset=".768" stop-color="#100000"/><stop offset=".815" stop-color="#000000"/><stop offset=".861" stop-color="#000000"/><stop offset=".907" stop-color="#000000"/><stop offset=".954" stop-color="#000000"/><stop offset="1" stop-color="#000000"/></linearGradient><linearGradient id="gA28" gradientUnits="userSpaceOnUse" x1="517.7" x2="673.9" y1="0" y2="0"><stop offset="0" stop-color="#008aba"/><stop offset=".043" stop-color="#00bab0"/><stop offset=".086" stop-color="#00b978"/><stop offset=".129" stop-color="#00b843"/><stop offset=".173" stop-color="#00b710"/><stop offset=".217" stop-color="#1cb600"/><stop offset=".262" stop-color="#44b400"/><stop offset=".307" stop-color="#6ab200"/><stop offset=".352" stop-color="#93af00"/><stop offset=".398" stop-color="#ac9f00"/><stop offset=".444" stop-color="#aa6e00"/><stop offset=".49" stop-color="#a63f00"/><stop offset=".536" stop-color="#a21b00"/><stop offset=".582" stop-color="#9a0300"/><stop offset=".629" stop-color="#8d0000"/><stop offset=".675" stop-color="#750000"/><stop offset=".722" stop-color="#490000"/><stop offset=".768" stop-color="#160000"/><stop offset=".815" stop-color="#020000"/><stop offset=".861" stop-color="#000000"/><stop offset=".908" stop-color="#000000"/><stop offset=".954" stop-color="#000000"/><stop offset="1" stop-color="#000000"/></linearGradient><linearGradient id="gA27" gradientUnits="userSpaceOnUse" x1="521.5" x2="677.9" y1="0" y2="0"><stop offset="0" stop-color="#008fbb"/><stop offset=".043" stop-color="#00baab"/><stop offset=".086" stop-color="#00b973"/><stop offset=".129" stop-color="#00b83e"/><stop offset=".173" stop-color="#00b70c"/><stop offset=".218" stop-color="#20b600"/><stop offset=".262" stop-color="#49b400"/><stop offset=".307" stop-color="#6eb200"/><stop offset=".353" stop-color="#97af00"/><stop offset=".398" stop-color="#ad9b00"/><stop offset=".444" stop-color="#aa6900"/><stop offset=".49" stop-color="#a63b00"/><stop offset=".536" stop-color="#a21600"/><stop offset=".583" stop-color="#9c0100"/><stop offset=".629" stop-color="#8f0000"/><stop offset=".676" stop-color="#790000"/><stop offset=".722" stop-color="#4f0000"/><stop offset=".769" stop-color="#1c0000"/><stop offset=".815" stop-color="#030000"/><stop offset=".861" stop-color="#000000"/><stop offset=".908" stop-color="#000000"/><stop offset=".954" stop-color="#000000"/><stop offset="1" stop-color="#000000"/></linearGradient><linearGradient id="gA26" gradientUnits="userSpaceOnUse" x1="525.4" x2="681.9" y1="0" y2="0"><stop offset="0" stop-color="#0095bb"/><stop offset=".043" stop-color="#00baa6"/><stop offset=".086" stop-color="#00b96f"/><stop offset=".13" stop-color="#00b93a"/><stop offset=".174" stop-color="#00b707"/><stop offset=".218" stop-color="#23b600"/><stop offset=".263" stop-color="#4cb500"/><stop offset=".308" stop-color="#71b300"/><stop offset=".353" stop-color="#9cb000"/><stop offset=".399" stop-color="#ad9600"/><stop offset=".445" stop-color="#ab6400"/><stop offset=".491" stop-color="#a73700"/><stop offset=".537" stop-color="#a31300"/><stop offset=".583" stop-color="#9d0000"/><stop offset=".63" stop-color="#900000"/><stop offset=".676" stop-color="#7c0000"/><stop offset=".722" stop-color="#560000"/><stop offset=".769" stop-color="#220000"/><stop offset=".815" stop-color="#050000"/><stop offset=".862" stop-color="#000000"/><stop offset=".908" stop-color="#000000"/><stop offset=".954" stop-color="#000000"/><stop offset="1" stop-color="#000000"/></linearGradient><linearGradient id="gA25" gradientUnits="userSpaceOnUse" x1="529.3" x2="685.8" y1="0" y2="0"><stop offset="0" stop-color="#0099bb"/><stop offset=".043" stop-color="#00baa2"/><stop offset=".086" stop-color="#00ba6b"/><stop offset=".13" stop-color="#00b936"/><stop offset=".174" stop-color="#00b804"/><stop offset=".218" stop-color="#27b600"/><stop offset=".263" stop-color="#4fb500"/><stop offset=".308" stop-color="#75b300"/><stop offset=".354" stop-color="#a0b000"/><stop offset=".399" stop-color="#ae9200"/><stop offset=".445" stop-color="#ab6000"/><stop offset=".491" stop-color="#a73300"/><stop offset=".537" stop-color="#a31100"/><stop offset=".584" stop-color="#9e0000"/><stop offset=".63" stop-color="#920000"/><stop offset=".676" stop-color="#7f0000"/><stop offset=".723" stop-color="#5c0000"/><stop offset=".769" stop-color="#280000"/><stop offset=".816" stop-color="#070000"/><stop offset=".862" stop-color="#000000"/><stop offset=".908" stop-color="#000000"/><stop offset=".954" stop-color="#000000"/><stop offset="1" stop-color="#000000"/></linearGradient><linearGradient id="gA24" gradientUnits="userSpaceOnUse" x1="533.1" x2="689.8" y1="0" y2="0"><stop offset="0" stop-color="#009dbb"/><stop offset=".043" stop-color="#00bb9e"/><stop offset=".086" stop-color="#00ba67"/><stop offset=".13" stop-color="#00b932"/><stop offset=".174" stop-color="#00b801"/><stop offset=".219" stop-color="#2ab600"/><stop offset=".263" stop-color="#52b500"/><stop offset=".309" stop-color="#78b300"/><stop offset=".354" stop-color="#a3b100"/><stop offset=".4" stop-color="#ae8f00"/><stop offset=".446" stop-color="#ac5d00"/><stop offset=".492" stop-color="#a83100"/><stop offset=".538" stop-color="#a41000"/><stop offset=".584" stop-color="#9f0000"/><stop offset=".63" stop-color="#940000"/><stop offset=".677" stop-color="#820000"/><stop offset=".723" stop-color="#620000"/><stop offset=".77" stop-color="#2e0000"/><stop offset=".816" stop-color="#080000"/><stop offset=".862" stop-color="#000000"/><stop offset=".908" stop-color="#000000"/><stop offset=".954" stop-color="#000000"/><stop offset="1" stop-color="#000000"/></linearGradient><linearGradient id="gA23" gradientUnits="userSpaceOnUse" x1="537" x2="693.8" y1="0" y2="0"><stop offset="0" stop-color="#00a2bb"/><stop offset=".043" stop-color="#00bb9a"/><stop offset=".086" stop-color="#00ba64"/><stop offset=".13" stop-color="#00b92f"/><stop offset=".174" stop-color="#01b800"/><stop offset=".219" stop-color="#2db700"/><stop offset=".264" stop-color="#55b500"/><stop offset=".309" stop-color="#7bb400"/><stop offset=".354" stop-color="#a6b100"/><stop offset=".4" stop-color="#af8c00"/><stop offset=".446" stop-color="#ac5b00"/><stop offset=".492" stop-color="#a82f00"/><stop offset=".538" stop-color="#a40e00"/><stop offset=".584" stop-color="#a00000"/><stop offset=".631" stop-color="#950000"/><stop offset=".677" stop-color="#860000"/><stop offset=".723" stop-color="#680000"/><stop offset=".77" stop-color="#340000"/><stop offset=".816" stop-color="#0a0000"/><stop offset=".862" stop-color="#000000"/><stop offset=".908" stop-color="#000000"/><stop offset=".954" stop-color="#000000"/><stop offset="1" stop-color="#000000"/></linearGradient><linearGradient id="gA22" gradientUnits="userSpaceOnUse" x1="540.8" x2="697.8" y1="0" y2="0"><stop offset="0" stop-color="#00a5bc"/><stop offset=".043" stop-color="#00bb98"/><stop offset=".086" stop-color="#00ba61"/><stop offset=".13" stop-color="#00b92c"/><stop offset=".175" stop-color="#03b800"/><stop offset=".219" stop-color="#2fb700"/><stop offset=".264" stop-color="#57b600"/><stop offset=".309" stop-color="#7eb400"/><stop offset=".355" stop-color="#a9b200"/><stop offset=".401" stop-color="#af8a00"/><stop offset=".446" stop-color="#ac5900"/><stop offset=".492" stop-color="#a92d00"/><stop offset=".539" stop-color="#a50e00"/><stop offset=".585" stop-color="#a10000"/><stop offset=".631" stop-color="#970000"/><stop offset=".678" stop-color="#890000"/><stop offset=".724" stop-color="#6e0000"/><stop offset=".77" stop-color="#3a0000"/><stop offset=".816" stop-color="#0b0000"/><stop offset=".863" stop-color="#000000"/><stop offset=".909" stop-color="#000000"/><stop offset=".954" stop-color="#000000"/><stop offset="1" stop-color="#000000"/></linearGradient><linearGradient id="gA21" gradientUnits="userSpaceOnUse" x1="544.7" x2="701.8" y1="0" y2="0"><stop offset="0" stop-color="#00a9bc"/><stop offset=".043" stop-color="#00bb94"/><stop offset=".087" stop-color="#00ba5e"/><stop offset=".131" stop-color="#00b929"/><stop offset=".175" stop-color="#06b900"/><stop offset=".22" stop-color="#31b700"/><stop offset=".265" stop-color="#5ab600"/><stop offset=".31" stop-color="#81b400"/><stop offset=".355" stop-color="#abb200"/><stop offset=".401" stop-color="#af8900"/><stop offset=".447" stop-color="#ad5700"/><stop offset=".493" stop-color="#a92d00"/><stop offset=".539" stop-color="#a50e00"/><stop offset=".585" stop-color="#a20000"/><stop offset=".632" stop-color="#990000"/><stop offset=".678" stop-color="#8b0000"/><stop offset=".724" stop-color="#710000"/><stop offset=".77" stop-color="#400000"/><stop offset=".817" stop-color="#0e0000"/><stop offset=".863" stop-color="#000000"/><stop offset=".909" stop-color="#000000"/><stop offset=".954" stop-color="#000000"/><stop offset="1" stop-color="#000000"/></linearGradient><linearGradient id="gA20" gradientUnits="userSpaceOnUse" x1="548.6" x2="705.7" y1="0" y2="0"><stop offset="0" stop-color="#00acbc"/><stop offset=".043" stop-color="#00bb92"/><stop offset=".087" stop-color="#00ba5c"/><stop offset=".131" stop-color="#00ba27"/><stop offset=".175" stop-color="#08b900"/><stop offset=".22" stop-color="#33b700"/><stop offset=".265" stop-color="#5bb600"/><stop offset=".31" stop-color="#82b500"/><stop offset=".356" stop-color="#adb300"/><stop offset=".401" stop-color="#b08800"/><stop offset=".447" stop-color="#ad5700"/><stop offset=".493" stop-color="#aa2c00"/><stop offset=".539" stop-color="#a60e00"/><stop offset=".586" stop-color="#a20000"/><stop offset=".632" stop-color="#9b0000"/><stop offset=".678" stop-color="#8d0000"/><stop offset=".725" stop-color="#740000"/><stop offset=".771" stop-color="#470000"/><stop offset=".817" stop-color="#130000"/><stop offset=".863" stop-color="#000000"/><stop offset=".909" stop-color="#000000"/><stop offset=".955" stop-color="#000000"/><stop offset="1" stop-color="#000000"/></linearGradient><linearGradient id="gA19" gradientUnits="userSpaceOnUse" x1="552.5" x2="709.7" y1="0" y2="0"><stop offset="0" stop-color="#00aebc"/><stop offset=".043" stop-color="#00bb8f"/><stop offset=".087" stop-color="#00bb5a"/><stop offset=".131" stop-color="#00ba25"/><stop offset=".175" stop-color="#0ab900"/><stop offset=".22" stop-color="#35b800"/><stop offset=".265" stop-color="#5db600"/><stop offset=".311" stop-color="#84b500"/><stop offset=".356" stop-color="#aeb300"/><stop offset=".402" stop-color="#b08700"/><stop offset=".448" stop-color="#ae5700"/><stop offset=".494" stop-color="#aa2d00"/><stop offset=".54" stop-color="#a60f00"/><stop offset=".586" stop-color="#a30000"/><stop offset=".632" stop-color="#9c0000"/><stop offset=".679" stop-color="#8f0000"/><stop offset=".725" stop-color="#780000"/><stop offset=".771" stop-color="#4d0000"/><stop offset=".817" stop-color="#190000"/><stop offset=".863" stop-color="#020000"/><stop offset=".909" stop-color="#000000"/><stop offset=".955" stop-color="#000000"/><stop offset="1" stop-color="#000000"/></linearGradient><linearGradient id="gA18" gradientUnits="userSpaceOnUse" x1="556.3" x2="713.7" y1="0" y2="0"><stop offset="0" stop-color="#00b1bc"/><stop offset=".043" stop-color="#00bc8e"/><stop offset=".087" stop-color="#00bb58"/><stop offset=".131" stop-color="#00ba23"/><stop offset=".176" stop-color="#0bb900"/><stop offset=".22" stop-color="#36b800"/><stop offset=".266" stop-color="#5db600"/><stop offset=".311" stop-color="#85b500"/><stop offset=".356" stop-color="#aeb300"/><stop offset=".402" stop-color="#b18800"/><stop offset=".448" stop-color="#ae5700"/><stop offset=".494" stop-color="#ab2e00"/><stop offset=".54" stop-color="#a70f00"/><stop offset=".587" stop-color="#a30000"/><stop offset=".633" stop-color="#9e0000"/><stop offset=".679" stop-color="#900000"/><stop offset=".725" stop-color="#7b0000"/><stop offset=".771" stop-color="#530000"/><stop offset=".817" stop-color="#1f0000"/><stop offset=".863" stop-color="#040000"/><stop offset=".909" stop-color="#000000"/><stop offset=".955" stop-color="#000000"/><stop offset="1" stop-color="#000000"/></linearGradient><linearGradient id="gA17" gradientUnits="userSpaceOnUse" x1="560.2" x2="717.6" y1="0" y2="0"><stop offset="0" stop-color="#00b3bd"/><stop offset=".043" stop-color="#00bc8c"/><stop offset=".087" stop-color="#00bb56"/><stop offset=".131" stop-color="#00ba22"/><stop offset=".176" stop-color="#0cb900"/><stop offset=".221" stop-color="#37b800"/><stop offset=".266" stop-color="#5eb700"/><stop offset=".311" stop-color="#85b500"/><stop offset=".357" stop-color="#afb400"/><stop offset=".403" stop-color="#b18800"/><stop offset=".449" stop-color="#af5900"/><stop offset=".495" stop-color="#ac2f00"/><stop offset=".541" stop-color="#a71100"/><stop offset=".587" stop-color="#a30000"/><stop offset=".633" stop-color="#9f0000"/><stop offset=".679" stop-color="#920000"/><stop offset=".726" stop-color="#7f0000"/><stop offset=".772" stop-color="#5a0000"/><stop offset=".818" stop-color="#250000"/><stop offset=".864" stop-color="#060000"/><stop offset=".909" stop-color="#000000"/><stop offset=".955" stop-color="#000000"/><stop offset="1" stop-color="#000000"/></linearGradient><linearGradient id="gA16" gradientUnits="userSpaceOnUse" x1="564.1" x2="721.6" y1="0" y2="0"><stop offset="0" stop-color="#00b5bd"/><stop offset=".043" stop-color="#00bc8b"/><stop offset=".087" stop-color="#00bb55"/><stop offset=".132" stop-color="#00ba21"/><stop offset=".176" stop-color="#0dba00"/><stop offset=".221" stop-color="#37b800"/><stop offset=".266" stop-color="#5eb700"/><stop offset=".312" stop-color="#85b600"/><stop offset=".357" stop-color="#afb400"/><stop offset=".403" stop-color="#b28a00"/><stop offset=".449" stop-color="#af5a00"/><stop offset=".495" stop-color="#ac3200"/><stop offset=".541" stop-color="#a81300"/><stop offset=".587" stop-color="#a40100"/><stop offset=".634" stop-color="#a00000"/><stop offset=".68" stop-color="#940000"/><stop offset=".726" stop-color="#820000"/><stop offset=".772" stop-color="#600000"/><stop offset=".818" stop-color="#2b0000"/><stop offset=".864" stop-color="#070000"/><stop offset=".909" stop-color="#000000"/><stop offset=".955" stop-color="#000000"/><stop offset="1" stop-color="#000000"/></linearGradient><linearGradient id="gA15" gradientUnits="userSpaceOnUse" x1="568" x2="725.6" y1="0" y2="0"><stop offset="0" stop-color="#00b6bd"/><stop offset=".044" stop-color="#00bc8a"/><stop offset=".087" stop-color="#00bb54"/><stop offset=".132" stop-color="#00bb21"/><stop offset=".176" stop-color="#0dba00"/><stop offset=".221" stop-color="#37b900"/><stop offset=".267" stop-color="#5fb700"/><stop offset=".312" stop-color="#84b600"/><stop offset=".358" stop-color="#aeb400"/><stop offset=".404" stop-color="#b28c00"/><stop offset=".449" stop-color="#b05d00"/><stop offset=".496" stop-color="#ad3500"/><stop offset=".542" stop-color="#a91500"/><stop offset=".588" stop-color="#a40400"/><stop offset=".634" stop-color="#a10000"/><stop offset=".68" stop-color="#960000"/><stop offset=".726" stop-color="#850000"/><stop offset=".772" stop-color="#660000"/><stop offset=".818" stop-color="#310000"/><stop offset=".864" stop-color="#090000"/><stop offset=".91" stop-color="#000000"/><stop offset=".955" stop-color="#000000"/><stop offset="1" stop-color="#000000"/></linearGradient><linearGradient id="gA14" gradientUnits="userSpaceOnUse" x1="571.9" x2="729.5" y1="0" y2="0"><stop offset="0" stop-color="#00b8bd"/><stop offset=".044" stop-color="#00bc89"/><stop offset=".088" stop-color="#00bc54"/><stop offset=".132" stop-color="#00bb21"/><stop offset=".177" stop-color="#0dba00"/><stop offset=".222" stop-color="#37b900"/><stop offset=".267" stop-color="#5eb700"/><stop offset=".312" stop-color="#84b600"/><stop offset=".358" stop-color="#adb400"/><stop offset=".404" stop-color="#b28f00"/><stop offset=".45" stop-color="#b06000"/><stop offset=".496" stop-color="#ad3900"/><stop offset=".542" stop-color="#a91900"/><stop offset=".588" stop-color="#a50700"/><stop offset=".634" stop-color="#a10000"/><stop offset=".681" stop-color="#970000"/><stop offset=".727" stop-color="#890000"/><stop offset=".773" stop-color="#6b0000"/><stop offset=".818" stop-color="#380000"/><stop offset=".864" stop-color="#0b0000"/><stop offset=".91" stop-color="#000000"/><stop offset=".955" stop-color="#000000"/><stop offset="1" stop-color="#000000"/></linearGradient><linearGradient id="gA13" gradientUnits="userSpaceOnUse" x1="575.8" x2="733.5" y1="0" y2="0"><stop offset="0" stop-color="#00b9bd"/><stop offset=".044" stop-color="#00bd89"/><stop offset=".088" stop-color="#00bc54"/><stop offset=".132" stop-color="#00bb21"/><stop offset=".177" stop-color="#0dba00"/><stop offset=".222" stop-color="#37b900"/><stop offset=".267" stop-color="#5db800"/><stop offset=".313" stop-color="#83b600"/><stop offset=".358" stop-color="#acb500"/><stop offset=".404" stop-color="#b39200"/><stop offset=".45" stop-color="#b06500"/><stop offset=".496" stop-color="#ae3d00"/><stop offset=".543" stop-color="#aa1e00"/><stop offset=".589" stop-color="#a60b00"/><stop offset=".635" stop-color="#a20000"/><stop offset=".681" stop-color="#990000"/><stop offset=".727" stop-color="#8b0000"/><stop offset=".773" stop-color="#700000"/><stop offset=".819" stop-color="#3e0200"/><stop offset=".864" stop-color="#0d0100"/><stop offset=".91" stop-color="#000000"/><stop offset=".955" stop-color="#000000"/><stop offset="1" stop-color="#000000"/></linearGradient><linearGradient id="gA12" gradientUnits="userSpaceOnUse" x1="579.7" x2="737.4" y1="0" y2="0"><stop offset="0" stop-color="#00b9be"/><stop offset=".044" stop-color="#00bd89"/><stop offset=".088" stop-color="#00bc54"/><stop offset=".132" stop-color="#00bb21"/><stop offset=".177" stop-color="#0dba00"/><stop offset=".222" stop-color="#35b900"/><stop offset=".268" stop-color="#5cb800"/><stop offset=".313" stop-color="#81b700"/><stop offset=".359" stop-color="#aab500"/><stop offset=".405" stop-color="#b39500"/><stop offset=".451" stop-color="#b16900"/><stop offset=".497" stop-color="#ae4200"/><stop offset=".543" stop-color="#aa2400"/><stop offset=".589" stop-color="#a60f00"/><stop offset=".635" stop-color="#a20400"/><stop offset=".681" stop-color="#9b0000"/><stop offset=".727" stop-color="#8d0000"/><stop offset=".773" stop-color="#740100"/><stop offset=".819" stop-color="#450500"/><stop offset=".865" stop-color="#110300"/><stop offset=".91" stop-color="#000000"/><stop offset=".955" stop-color="#000000"/><stop offset="1" stop-color="#000000"/></linearGradient><linearGradient id="gA11" gradientUnits="userSpaceOnUse" x1="583.5" x2="741.3" y1="0" y2="0"><stop offset="0" stop-color="#00b9be"/><stop offset=".044" stop-color="#00bd89"/><stop offset=".088" stop-color="#00bc55"/><stop offset=".133" stop-color="#00bb21"/><stop offset=".177" stop-color="#0bbb00"/><stop offset=".223" stop-color="#35ba00"/><stop offset=".268" stop-color="#5bb800"/><stop offset=".314" stop-color="#7fb700"/><stop offset=".359" stop-color="#a7b500"/><stop offset=".405" stop-color="#b39a00"/><stop offset=".451" stop-color="#b16f00"/><stop offset=".497" stop-color="#af4800"/><stop offset=".543" stop-color="#ab2900"/><stop offset=".59" stop-color="#a71400"/><stop offset=".636" stop-color="#a30900"/><stop offset=".682" stop-color="#9d0300"/><stop offset=".728" stop-color="#8f0300"/><stop offset=".774" stop-color="#780600"/><stop offset=".819" stop-color="#4c0800"/><stop offset=".865" stop-color="#170500"/><stop offset=".91" stop-color="#010000"/><stop offset=".955" stop-color="#000000"/><stop offset="1" stop-color="#000000"/></linearGradient><linearGradient id="gA10" gradientUnits="userSpaceOnUse" x1="587.4" x2="745.3" y1="0" y2="0"><stop offset="0" stop-color="#00babe"/><stop offset=".044" stop-color="#00bd8a"/><stop offset=".088" stop-color="#00bc55"/><stop offset=".133" stop-color="#00bc23"/><stop offset=".178" stop-color="#0abb00"/><stop offset=".223" stop-color="#33ba00"/><stop offset=".268" stop-color="#59b800"/><stop offset=".314" stop-color="#7cb700"/><stop offset=".36" stop-color="#a4b600"/><stop offset=".406" stop-color="#b49f00"/><stop offset=".452" stop-color="#b27500"/><stop offset=".498" stop-color="#af4e00"/><stop offset=".544" stop-color="#ac3000"/><stop offset=".59" stop-color="#a71a00"/><stop offset=".636" stop-color="#a30e00"/><stop offset=".682" stop-color="#9f0900"/><stop offset=".728" stop-color="#910800"/><stop offset=".774" stop-color="#7b0b00"/><stop offset=".82" stop-color="#520d00"/><stop offset=".865" stop-color="#1d0800"/><stop offset=".91" stop-color="#030100"/><stop offset=".955" stop-color="#000000"/><stop offset="1" stop-color="#000000"/></linearGradient><linearGradient id="gA9" gradientUnits="userSpaceOnUse" x1="591.3" x2="749.2" y1="0" y2="0"><stop offset="0" stop-color="#00b9be"/><stop offset=".044" stop-color="#00bd8b"/><stop offset=".088" stop-color="#00bd56"/><stop offset=".133" stop-color="#00bc24"/><stop offset=".178" stop-color="#08bb00"/><stop offset=".223" stop-color="#31ba00"/><stop offset=".269" stop-color="#57b900"/><stop offset=".314" stop-color="#79b700"/><stop offset=".36" stop-color="#a0b600"/><stop offset=".406" stop-color="#b4a400"/><stop offset=".452" stop-color="#b27b00"/><stop offset=".498" stop-color="#b05500"/><stop offset=".544" stop-color="#ac3700"/><stop offset=".59" stop-color="#a82200"/><stop offset=".636" stop-color="#a41400"/><stop offset=".683" stop-color="#a00f00"/><stop offset=".728" stop-color="#920e00"/><stop offset=".774" stop-color="#7f1100"/><stop offset=".82" stop-color="#591300"/><stop offset=".865" stop-color="#240c00"/><stop offset=".91" stop-color="#050200"/><stop offset=".955" stop-color="#000000"/><stop offset="1" stop-color="#000000"/></linearGradient><linearGradient id="gA8" gradientUnits="userSpaceOnUse" x1="595.2" x2="753.1" y1="0" y2="0"><stop offset="0" stop-color="#00b8be"/><stop offset=".044" stop-color="#00be8c"/><stop offset=".088" stop-color="#00bd58"/><stop offset=".133" stop-color="#00bc26"/><stop offset=".178" stop-color="#06bb00"/><stop offset=".224" stop-color="#2fba00"/><stop offset=".269" stop-color="#54b900"/><stop offset=".315" stop-color="#76b700"/><stop offset=".361" stop-color="#9cb600"/><stop offset=".406" stop-color="#b4aa00"/><stop offset=".453" stop-color="#b28200"/><stop offset=".499" stop-color="#b05d00"/><stop offset=".545" stop-color="#ad3f00"/><stop offset=".591" stop-color="#a82a00"/><stop offset=".637" stop-color="#a41d00"/><stop offset=".683" stop-color="#a11600"/><stop offset=".729" stop-color="#941500"/><stop offset=".775" stop-color="#821900"/><stop offset=".82" stop-color="#5f1b00"/><stop offset=".865" stop-color="#2a1100"/><stop offset=".911" stop-color="#070400"/><stop offset=".955" stop-color="#000000"/><stop offset="1" stop-color="#000000"/></linearGradient><linearGradient id="gA7" gradientUnits="userSpaceOnUse" x1="599.1" x2="757" y1="0" y2="0"><stop offset="0" stop-color="#00b7bf"/><stop offset=".044" stop-color="#00be8d"/><stop offset=".089" stop-color="#00bd5a"/><stop offset=".133" stop-color="#00bc28"/><stop offset=".179" stop-color="#04bb00"/><stop offset=".224" stop-color="#2cbb00"/><stop offset=".269" stop-color="#51b900"/><stop offset=".315" stop-color="#73b800"/><stop offset=".361" stop-color="#98b600"/><stop offset=".407" stop-color="#b4af00"/><stop offset=".453" stop-color="#b28900"/><stop offset=".499" stop-color="#b06600"/><stop offset=".545" stop-color="#ad4800"/><stop offset=".591" stop-color="#a93300"/><stop offset=".637" stop-color="#a52600"/><stop offset=".683" stop-color="#a11f00"/><stop offset=".729" stop-color="#961f00"/><stop offset=".775" stop-color="#852200"/><stop offset=".82" stop-color="#652300"/><stop offset=".866" stop-color="#311700"/><stop offset=".911" stop-color="#090600"/><stop offset=".956" stop-color="#000000"/><stop offset="1" stop-color="#000000"/></linearGradient><linearGradient id="gA6" gradientUnits="userSpaceOnUse" x1="603" x2="760.9" y1="0" y2="0"><stop offset="0" stop-color="#00b6bf"/><stop offset=".044" stop-color="#00be90"/><stop offset=".089" stop-color="#00bd5d"/><stop offset=".134" stop-color="#00bc2a"/><stop offset=".179" stop-color="#01bc00"/><stop offset=".224" stop-color="#29bb00"/><stop offset=".27" stop-color="#4eb900"/><stop offset=".315" stop-color="#70b800"/><stop offset=".361" stop-color="#93b700"/><stop offset=".407" stop-color="#b4b500"/><stop offset=".453" stop-color="#b39000"/><stop offset=".499" stop-color="#b16f00"/><stop offset=".546" stop-color="#ae5200"/><stop offset=".592" stop-color="#aa3c00"/><stop offset=".638" stop-color="#a52f00"/><stop offset=".684" stop-color="#a12900"/><stop offset=".729" stop-color="#982900"/><stop offset=".775" stop-color="#882c00"/><stop offset=".821" stop-color="#6a2c00"/><stop offset=".866" stop-color="#371f00"/><stop offset=".911" stop-color="#0a0700"/><stop offset=".956" stop-color="#000000"/><stop offset="1" stop-color="#000000"/></linearGradient><linearGradient id="gA5" gradientUnits="userSpaceOnUse" x1="606.9" x2="764.8" y1="0" y2="0"><stop offset="0" stop-color="#00b5bf"/><stop offset=".044" stop-color="#00be92"/><stop offset=".089" stop-color="#00bd5f"/><stop offset=".134" stop-color="#00bd2d"/><stop offset=".179" stop-color="#00bc00"/><stop offset=".224" stop-color="#26bb00"/><stop offset=".27" stop-color="#4bba00"/><stop offset=".316" stop-color="#6bb800"/><stop offset=".362" stop-color="#8eb700"/><stop offset=".408" stop-color="#aeb500"/><stop offset=".454" stop-color="#b39900"/><stop offset=".5" stop-color="#b17900"/><stop offset=".546" stop-color="#af5c00"/><stop offset=".592" stop-color="#aa4700"/><stop offset=".638" stop-color="#a63a00"/><stop offset=".684" stop-color="#a23400"/><stop offset=".73" stop-color="#9a3400"/><stop offset=".775" stop-color="#8a3700"/><stop offset=".821" stop-color="#6f3700"/><stop offset=".866" stop-color="#3e2700"/><stop offset=".911" stop-color="#0e0b00"/><stop offset=".956" stop-color="#000000"/><stop offset="1" stop-color="#000000"/></linearGradient><linearGradient id="gA4" gradientUnits="userSpaceOnUse" x1="610.8" x2="768.7" y1="0" y2="0"><stop offset="0" stop-color="#00b2bf"/><stop offset=".044" stop-color="#00bf95"/><stop offset=".089" stop-color="#00be62"/><stop offset=".134" stop-color="#00bd31"/><stop offset=".179" stop-color="#00bc04"/><stop offset=".225" stop-color="#23bb00"/><stop offset=".27" stop-color="#46ba00"/><stop offset=".316" stop-color="#67b900"/><stop offset=".362" stop-color="#88b700"/><stop offset=".408" stop-color="#a9b500"/><stop offset=".454" stop-color="#b3a200"/><stop offset=".5" stop-color="#b18200"/><stop offset=".546" stop-color="#af6800"/><stop offset=".593" stop-color="#ab5200"/><stop offset=".639" stop-color="#a64500"/><stop offset=".684" stop-color="#a23f00"/><stop offset=".73" stop-color="#9c4000"/><stop offset=".776" stop-color="#8d4300"/><stop offset=".821" stop-color="#744300"/><stop offset=".866" stop-color="#443100"/><stop offset=".911" stop-color="#121000"/><stop offset=".956" stop-color="#000000"/><stop offset="1" stop-color="#000000"/></linearGradient><linearGradient id="gA3" gradientUnits="userSpaceOnUse" x1="614.7" x2="772.6" y1="0" y2="0"><stop offset="0" stop-color="#00b0bf"/><stop offset=".044" stop-color="#00bf98"/><stop offset=".089" stop-color="#00be65"/><stop offset=".134" stop-color="#00bd34"/><stop offset=".18" stop-color="#00bc08"/><stop offset=".225" stop-color="#1fbc00"/><stop offset=".271" stop-color="#42ba00"/><stop offset=".317" stop-color="#63b900"/><stop offset=".363" stop-color="#81b700"/><stop offset=".409" stop-color="#a2b600"/><stop offset=".455" stop-color="#b4ab00"/><stop offset=".501" stop-color="#b28c00"/><stop offset=".547" stop-color="#b07300"/><stop offset=".593" stop-color="#ab5e00"/><stop offset=".639" stop-color="#a75100"/><stop offset=".685" stop-color="#a34c00"/><stop offset=".731" stop-color="#9d4d00"/><stop offset=".776" stop-color="#8f4f00"/><stop offset=".821" stop-color="#784f00"/><stop offset=".867" stop-color="#4b3b00"/><stop offset=".911" stop-color="#151400"/><stop offset=".956" stop-color="#000000"/><stop offset="1" stop-color="#000000"/></linearGradient><linearGradient id="gA2" gradientUnits="userSpaceOnUse" x1="618.6" x2="776.5" y1="0" y2="0"><stop offset="0" stop-color="#00adc0"/><stop offset=".045" stop-color="#00bf9b"/><stop offset=".089" stop-color="#00be69"/><stop offset=".134" stop-color="#00bd38"/><stop offset=".18" stop-color="#00bd0b"/><stop offset=".225" stop-color="#1bbc00"/><stop offset=".271" stop-color="#3ebb00"/><stop offset=".317" stop-color="#5eb900"/><stop offset=".363" stop-color="#7ab800"/><stop offset=".409" stop-color="#9bb600"/><stop offset=".455" stop-color="#b4b200"/><stop offset=".501" stop-color="#b29700"/><stop offset=".547" stop-color="#b07e00"/><stop offset=".593" stop-color="#ac6b00"/><stop offset=".639" stop-color="#a85e00"/><stop offset=".685" stop-color="#a45900"/><stop offset=".731" stop-color="#9e5a00"/><stop offset=".776" stop-color="#915c00"/><stop offset=".822" stop-color="#7b5b00"/><stop offset=".867" stop-color="#524700"/><stop offset=".911" stop-color="#1c1c00"/><stop offset=".956" stop-color="#020300"/><stop offset="1" stop-color="#000000"/></linearGradient><linearGradient id="gA1" gradientUnits="userSpaceOnUse" x1="622.5" x2="780.4" y1="0" y2="0"><stop offset="0" stop-color="#00abc0"/><stop offset=".045" stop-color="#00bf9f"/><stop offset=".089" stop-color="#00be6d"/><stop offset=".135" stop-color="#00be3d"/><stop offset=".18" stop-color="#00bd10"/><stop offset=".226" stop-color="#16bc00"/><stop offset=".271" stop-color="#3abb00"/><stop offset=".317" stop-color="#59b900"/><stop offset=".363" stop-color="#75b800"/><stop offset=".409" stop-color="#93b600"/><stop offset=".456" stop-color="#acb400"/><stop offset=".502" stop-color="#b2a200"/><stop offset=".548" stop-color="#b08a00"/><stop offset=".594" stop-color="#ad7800"/><stop offset=".64" stop-color="#a86c00"/><stop offset=".686" stop-color="#a46700"/><stop offset=".731" stop-color="#9f6800"/><stop offset=".777" stop-color="#936900"/><stop offset=".822" stop-color="#7f6800"/><stop offset=".867" stop-color="#595400"/><stop offset=".912" stop-color="#202300"/><stop offset=".956" stop-color="#040500"/><stop offset="1" stop-color="#000000"/></linearGradient><linearGradient id="gA0" gradientUnits="userSpaceOnUse" x1="626.4" x2="784.2" y1="0" y2="0"><stop offset="0" stop-color="#00a7c0"/><stop offset=".045" stop-color="#00bfa3"/><stop offset=".09" stop-color="#00be71"/><stop offset=".135" stop-color="#00be41"/><stop offset=".18" stop-color="#00bd15"/><stop offset=".226" stop-color="#11bc00"/><stop offset=".272" stop-color="#34bb00"/><stop offset=".318" stop-color="#53ba00"/><stop offset=".364" stop-color="#6fb800"/><stop offset=".41" stop-color="#8bb700"/><stop offset=".456" stop-color="#a4b500"/><stop offset=".502" stop-color="#b2ac00"/><stop offset=".548" stop-color="#b09600"/><stop offset=".594" stop-color="#ad8500"/><stop offset=".64" stop-color="#a97900"/><stop offset=".686" stop-color="#a57400"/><stop offset=".732" stop-color="#a07500"/><stop offset=".777" stop-color="#957700"/><stop offset=".822" stop-color="#827500"/><stop offset=".867" stop-color="#5d5f00"/><stop offset=".912" stop-color="#232a00"/><stop offset=".956" stop-color="#050700"/><stop offset="1" stop-color="#000000"/></linearGradient></defs>
<g stroke-width="0.6" stroke-linejoin="round"><path d="M477.7,136.9L484.1,126.7L490.6,117L497.3,108L503.9,99.5L510.7,91.6L517.5,84.2L524.4,77.4L531.4,71.1L538.4,65.4L545.4,60.2L552.5,55.6L559.6,51.4L566.8,47.8L574,44.7L581.2,42.1L588.5,40L595.7,38.4L603,37.3L610.2,36.6L617.5,36.4L624.7,36.7L632,37.5L628,37.3L620.8,36.6L613.5,36.3L606.2,36.5L599,37.2L591.7,38.3L584.5,40L577.2,42.1L570,44.7L562.8,47.9L555.7,51.5L548.6,55.6L541.5,60.3L534.4,65.5L527.5,71.3L520.5,77.5L513.6,84.4L506.8,91.7L500.1,99.7L493.4,108.2L486.8,117.3L480.3,126.9L473.9,137.1Z" fill="url(#gA39)" stroke="url(#gA39)"/><path d="M481.5,136.7L487.9,126.5L494.5,116.8L501.1,107.8L507.8,99.3L514.6,91.4L521.4,84L528.3,77.3L535.3,71L542.3,65.3L549.4,60.1L556.5,55.5L563.6,51.4L570.8,47.8L578,44.7L585.2,42.1L592.4,40.1L599.7,38.5L607,37.4L614.2,36.8L621.5,36.6L628.7,37L636,37.8L632,37.5L624.7,36.7L617.5,36.4L610.2,36.6L603,37.3L595.7,38.4L588.5,40L581.2,42.1L574,44.7L566.8,47.8L559.6,51.4L552.5,55.6L545.4,60.2L538.4,65.4L531.4,71.1L524.4,77.4L517.5,84.2L510.7,91.6L503.9,99.5L497.3,108L490.6,117L484.1,126.7L477.7,136.9Z" fill="url(#gA38)" stroke="url(#gA38)"/><path d="M485.2,136.6L491.7,126.3L498.3,116.7L504.9,107.7L511.7,99.2L518.5,91.3L525.3,83.9L532.2,77.2L539.2,70.9L546.2,65.2L553.3,60.1L560.4,55.5L567.6,51.4L574.8,47.8L582,44.8L589.2,42.2L596.4,40.2L603.7,38.6L610.9,37.6L618.2,37L625.5,36.9L632.7,37.2L640,38L636,37.8L628.7,37L621.5,36.6L614.2,36.8L607,37.4L599.7,38.5L592.4,40.1L585.2,42.1L578,44.7L570.8,47.8L563.6,51.4L556.5,55.5L549.4,60.1L542.3,65.3L535.3,71L528.3,77.3L521.4,84L514.6,91.4L507.8,99.3L501.1,107.8L494.5,116.8L487.9,126.5L481.5,136.7Z" fill="url(#gA37)" stroke="url(#gA37)"/><path d="M489,136.4L495.5,126.2L502.1,116.6L508.8,107.6L515.5,99.1L522.3,91.2L529.2,83.9L536.2,77.1L543.1,70.9L550.2,65.2L557.3,60.1L564.4,55.5L571.5,51.4L578.7,47.9L585.9,44.9L593.2,42.3L600.4,40.3L607.7,38.8L614.9,37.8L622.2,37.2L629.5,37.1L636.7,37.5L644,38.4L640,38L632.7,37.2L625.5,36.9L618.2,37L610.9,37.6L603.7,38.6L596.4,40.2L589.2,42.2L582,44.8L574.8,47.8L567.6,51.4L560.4,55.5L553.3,60.1L546.2,65.2L539.2,70.9L532.2,77.2L525.3,83.9L518.5,91.3L511.7,99.2L504.9,107.7L498.3,116.7L491.7,126.3L485.2,136.6Z" fill="url(#gA36)" stroke="url(#gA36)"/><path d="M492.8,136.4L499.4,126.2L506,116.5L512.7,107.5L519.4,99.1L526.2,91.2L533.1,83.9L540.1,77.1L547.1,70.9L554.1,65.3L561.2,60.2L568.4,55.6L575.5,51.5L582.7,48L589.9,45L597.2,42.5L604.4,40.5L611.7,39L618.9,38L626.2,37.5L633.5,37.4L640.7,37.9L647.9,38.7L644,38.4L636.7,37.5L629.5,37.1L622.2,37.2L614.9,37.8L607.7,38.8L600.4,40.3L593.2,42.3L585.9,44.9L578.7,47.9L571.5,51.4L564.4,55.5L557.3,60.1L550.2,65.2L543.1,70.9L536.2,77.1L529.2,83.9L522.3,91.2L515.5,99.1L508.8,107.6L502.1,116.6L495.5,126.2L489,136.4Z" fill="url(#gA35)" stroke="url(#gA35)"/><path d="M496.7,136.3L503.2,126.1L509.8,116.5L516.5,107.5L523.3,99L530.1,91.2L537,83.9L544,77.1L551,71L558.1,65.3L565.2,60.2L572.3,55.7L579.5,51.7L586.7,48.2L593.9,45.2L601.2,42.7L608.4,40.7L615.7,39.3L622.9,38.3L630.2,37.8L637.5,37.8L644.7,38.2L651.9,39.2L647.9,38.7L640.7,37.9L633.5,37.4L626.2,37.5L618.9,38L611.7,39L604.4,40.5L597.2,42.5L589.9,45L582.7,48L575.5,51.5L568.4,55.6L561.2,60.2L554.1,65.3L547.1,70.9L540.1,77.1L533.1,83.9L526.2,91.2L519.4,99.1L512.7,107.5L506,116.5L499.4,126.2L492.8,136.4Z" fill="url(#gA34)" stroke="url(#gA34)"/><path d="M500.5,136.3L507,126.1L513.7,116.5L520.4,107.5L527.2,99.1L534,91.2L541,83.9L547.9,77.2L555,71.1L562,65.4L569.1,60.4L576.3,55.8L583.5,51.8L590.7,48.4L597.9,45.4L605.2,43L612.4,41L619.7,39.6L626.9,38.6L634.2,38.2L641.5,38.2L648.7,38.7L655.9,39.6L651.9,39.2L644.7,38.2L637.5,37.8L630.2,37.8L622.9,38.3L615.7,39.3L608.4,40.7L601.2,42.7L593.9,45.2L586.7,48.2L579.5,51.7L572.3,55.7L565.2,60.2L558.1,65.3L551,71L544,77.1L537,83.9L530.1,91.2L523.3,99L516.5,107.5L509.8,116.5L503.2,126.1L496.7,136.3Z" fill="url(#gA33)" stroke="url(#gA33)"/><path d="M504.3,136.4L510.9,126.2L517.5,116.6L524.3,107.6L531.1,99.2L537.9,91.3L544.9,84L551.9,77.3L558.9,71.2L566,65.6L573.1,60.5L580.3,56L587.5,52.1L594.7,48.6L601.9,45.7L609.2,43.2L616.4,41.3L623.7,39.9L630.9,39L638.2,38.6L645.5,38.6L652.7,39.1L659.9,40.1L655.9,39.6L648.7,38.7L641.5,38.2L634.2,38.2L626.9,38.6L619.7,39.6L612.4,41L605.2,43L597.9,45.4L590.7,48.4L583.5,51.8L576.3,55.8L569.1,60.4L562,65.4L555,71.1L547.9,77.2L541,83.9L534,91.2L527.2,99.1L520.4,107.5L513.7,116.5L507,126.1L500.5,136.3Z" fill="url(#gA32)" stroke="url(#gA32)"/><path d="M508.1,136.5L514.7,126.3L521.4,116.7L528.1,107.7L535,99.3L541.9,91.4L548.8,84.2L555.8,77.5L562.9,71.4L569.9,65.8L577.1,60.8L584.2,56.3L591.4,52.3L598.7,48.9L605.9,46L613.2,43.6L620.4,41.7L627.7,40.3L634.9,39.4L642.2,39L649.5,39.1L656.7,39.6L663.9,40.6L659.9,40.1L652.7,39.1L645.5,38.6L638.2,38.6L630.9,39L623.7,39.9L616.4,41.3L609.2,43.2L601.9,45.7L594.7,48.6L587.5,52.1L580.3,56L573.1,60.5L566,65.6L558.9,71.2L551.9,77.3L544.9,84L537.9,91.3L531.1,99.2L524.3,107.6L517.5,116.6L510.9,126.2L504.3,136.4Z" fill="url(#gA31)" stroke="url(#gA31)"/><path d="M511.9,136.6L518.6,126.4L525.3,116.8L532,107.8L538.9,99.4L545.8,91.6L552.7,84.4L559.7,77.7L566.8,71.6L573.9,66L581,61L588.2,56.5L595.4,52.6L602.7,49.2L609.9,46.3L617.2,44L624.4,42.1L631.7,40.7L639,39.9L646.2,39.5L653.5,39.6L660.7,40.2L667.9,41.2L663.9,40.6L656.7,39.6L649.5,39.1L642.2,39L634.9,39.4L627.7,40.3L620.4,41.7L613.2,43.6L605.9,46L598.7,48.9L591.4,52.3L584.2,56.3L577.1,60.8L569.9,65.8L562.9,71.4L555.8,77.5L548.8,84.2L541.9,91.4L535,99.3L528.1,107.7L521.4,116.7L514.7,126.3L508.1,136.5Z" fill="url(#gA30)" stroke="url(#gA30)"/><path d="M515.8,136.8L522.4,126.6L529.1,117L535.9,108L542.8,99.6L549.7,91.8L556.7,84.6L563.7,77.9L570.8,71.8L577.9,66.3L585,61.3L592.2,56.9L599.4,53L606.6,49.6L613.9,46.7L621.2,44.4L628.4,42.5L635.7,41.2L643,40.4L650.2,40L657.5,40.2L664.7,40.8L671.9,41.8L667.9,41.2L660.7,40.2L653.5,39.6L646.2,39.5L639,39.9L631.7,40.7L624.4,42.1L617.2,44L609.9,46.3L602.7,49.2L595.4,52.6L588.2,56.5L581,61L573.9,66L566.8,71.6L559.7,77.7L552.7,84.4L545.8,91.6L538.9,99.4L532,107.8L525.3,116.8L518.6,126.4L511.9,136.6Z" fill="url(#gA29)" stroke="url(#gA29)"/><path d="M519.6,137L526.3,126.8L533,117.3L539.8,108.3L546.7,99.9L553.6,92.1L560.6,84.9L567.6,78.2L574.7,72.1L581.8,66.6L589,61.6L596.2,57.2L603.4,53.3L610.6,50L617.9,47.1L625.2,44.8L632.4,43L639.7,41.7L647,40.9L654.2,40.6L661.5,40.8L668.7,41.4L675.9,42.5L671.9,41.8L664.7,40.8L657.5,40.2L650.2,40L643,40.4L635.7,41.2L628.4,42.5L621.2,44.4L613.9,46.7L606.6,49.6L599.4,53L592.2,56.9L585,61.3L577.9,66.3L570.8,71.8L563.7,77.9L556.7,84.6L549.7,91.8L542.8,99.6L535.9,108L529.1,117L522.4,126.6L515.8,136.8Z" fill="url(#gA28)" stroke="url(#gA28)"/><path d="M523.5,137.3L530.1,127.1L536.9,117.5L543.7,108.6L550.6,100.2L557.5,92.4L564.5,85.2L571.6,78.6L578.7,72.5L585.8,67L593,62L600.2,57.6L607.4,53.8L614.6,50.4L621.9,47.6L629.2,45.3L636.4,43.6L643.7,42.3L651,41.5L658.2,41.2L665.5,41.4L672.7,42.1L679.9,43.2L675.9,42.5L668.7,41.4L661.5,40.8L654.2,40.6L647,40.9L639.7,41.7L632.4,43L625.2,44.8L617.9,47.1L610.6,50L603.4,53.3L596.2,57.2L589,61.6L581.8,66.6L574.7,72.1L567.6,78.2L560.6,84.9L553.6,92.1L546.7,99.9L539.8,108.3L533,117.3L526.3,126.8L519.6,137Z" fill="url(#gA27)" stroke="url(#gA27)"/><path d="M527.3,137.6L534,127.4L540.8,117.8L547.6,108.9L554.5,100.5L561.5,92.7L568.5,85.5L575.5,78.9L582.6,72.9L589.8,67.4L597,62.5L604.2,58.1L611.4,54.2L618.6,50.9L625.9,48.1L633.2,45.9L640.4,44.1L647.7,42.9L655,42.1L662.2,41.9L669.5,42.1L676.7,42.8L683.9,44L679.9,43.2L672.7,42.1L665.5,41.4L658.2,41.2L651,41.5L643.7,42.3L636.4,43.6L629.2,45.3L621.9,47.6L614.6,50.4L607.4,53.8L600.2,57.6L593,62L585.8,67L578.7,72.5L571.6,78.6L564.5,85.2L557.5,92.4L550.6,100.2L543.7,108.6L536.9,117.5L530.1,127.1L523.5,137.3Z" fill="url(#gA26)" stroke="url(#gA26)"/><path d="M531.2,137.9L537.9,127.8L544.7,118.2L551.5,109.2L558.4,100.9L565.4,93.1L572.4,85.9L579.5,79.3L586.6,73.3L593.8,67.8L600.9,62.9L608.2,58.6L615.4,54.8L622.6,51.5L629.9,48.7L637.2,46.5L644.4,44.8L651.7,43.5L659,42.8L666.2,42.6L673.5,42.8L680.7,43.6L687.8,44.8L683.9,44L676.7,42.8L669.5,42.1L662.2,41.9L655,42.1L647.7,42.9L640.4,44.1L633.2,45.9L625.9,48.1L618.6,50.9L611.4,54.2L604.2,58.1L597,62.5L589.8,67.4L582.6,72.9L575.5,78.9L568.5,85.5L561.5,92.7L554.5,100.5L547.6,108.9L540.8,117.8L534,127.4L527.3,137.6Z" fill="url(#gA25)" stroke="url(#gA25)"/><path d="M535,138.3L541.8,128.2L548.6,118.6L555.4,109.7L562.4,101.3L569.3,93.6L576.4,86.4L583.5,79.8L590.6,73.8L597.7,68.3L604.9,63.5L612.1,59.1L619.4,55.3L626.6,52.1L633.9,49.3L641.2,47.1L648.4,45.4L655.7,44.2L663,43.5L670.2,43.3L677.4,43.6L684.6,44.4L691.8,45.6L687.8,44.8L680.7,43.6L673.5,42.8L666.2,42.6L659,42.8L651.7,43.5L644.4,44.8L637.2,46.5L629.9,48.7L622.6,51.5L615.4,54.8L608.2,58.6L600.9,62.9L593.8,67.8L586.6,73.3L579.5,79.3L572.4,85.9L565.4,93.1L558.4,100.9L551.5,109.2L544.7,118.2L537.9,127.8L531.2,137.9Z" fill="url(#gA24)" stroke="url(#gA24)"/><path d="M538.9,138.8L545.6,128.6L552.5,119.1L559.3,110.1L566.3,101.8L573.3,94L580.3,86.9L587.4,80.3L594.5,74.3L601.7,68.9L608.9,64L616.1,59.7L623.4,55.9L630.6,52.7L637.9,50L645.2,47.8L652.4,46.1L659.7,45L667,44.3L674.2,44.1L681.4,44.5L688.6,45.2L695.8,46.5L691.8,45.6L684.6,44.4L677.4,43.6L670.2,43.3L663,43.5L655.7,44.2L648.4,45.4L641.2,47.1L633.9,49.3L626.6,52.1L619.4,55.3L612.1,59.1L604.9,63.5L597.7,68.3L590.6,73.8L583.5,79.8L576.4,86.4L569.3,93.6L562.4,101.3L555.4,109.7L548.6,118.6L541.8,128.2L535,138.3Z" fill="url(#gA23)" stroke="url(#gA23)"/><path d="M542.8,139.3L549.5,129.1L556.4,119.5L563.3,110.6L570.2,102.3L577.2,94.6L584.3,87.4L591.4,80.9L598.5,74.9L605.7,69.5L612.9,64.6L620.1,60.3L627.4,56.6L634.6,53.4L641.9,50.7L649.2,48.5L656.5,46.9L663.7,45.8L671,45.1L678.2,45L685.4,45.3L692.6,46.1L699.8,47.4L695.8,46.5L688.6,45.2L681.4,44.5L674.2,44.1L667,44.3L659.7,45L652.4,46.1L645.2,47.8L637.9,50L630.6,52.7L623.4,55.9L616.1,59.7L608.9,64L601.7,68.9L594.5,74.3L587.4,80.3L580.3,86.9L573.3,94L566.3,101.8L559.3,110.1L552.5,119.1L545.6,128.6L538.9,138.8Z" fill="url(#gA22)" stroke="url(#gA22)"/><path d="M546.6,139.8L553.4,129.6L560.3,120.1L567.2,111.2L574.1,102.9L581.2,95.1L588.2,88L595.3,81.5L602.5,75.5L609.7,70.1L616.9,65.3L624.1,61L631.4,57.3L638.6,54.1L645.9,51.4L653.2,49.3L660.5,47.7L667.7,46.6L675,46L682.2,45.9L689.4,46.2L696.6,47.1L703.8,48.4L699.8,47.4L692.6,46.1L685.4,45.3L678.2,45L671,45.1L663.7,45.8L656.5,46.9L649.2,48.5L641.9,50.7L634.6,53.4L627.4,56.6L620.1,60.3L612.9,64.6L605.7,69.5L598.5,74.9L591.4,80.9L584.3,87.4L577.2,94.6L570.2,102.3L563.3,110.6L556.4,119.5L549.5,129.1L542.8,139.3Z" fill="url(#gA21)" stroke="url(#gA21)"/><path d="M550.5,140.4L557.3,130.2L564.2,120.7L571.1,111.8L578.1,103.5L585.1,95.8L592.2,88.6L599.3,82.1L606.5,76.2L613.7,70.8L620.9,66L628.1,61.7L635.4,58L642.6,54.9L649.9,52.2L657.2,50.1L664.5,48.5L671.7,47.5L679,46.9L686.2,46.8L693.4,47.2L700.6,48.1L707.7,49.4L703.8,48.4L696.6,47.1L689.4,46.2L682.2,45.9L675,46L667.7,46.6L660.5,47.7L653.2,49.3L645.9,51.4L638.6,54.1L631.4,57.3L624.1,61L616.9,65.3L609.7,70.1L602.5,75.5L595.3,81.5L588.2,88L581.2,95.1L574.1,102.9L567.2,111.2L560.3,120.1L553.4,129.6L546.6,139.8Z" fill="url(#gA20)" stroke="url(#gA20)"/><path d="M554.4,141L561.2,130.8L568.1,121.3L575,112.4L582,104.1L589.1,96.4L596.1,89.3L603.3,82.8L610.4,76.9L617.6,71.5L624.9,66.7L632.1,62.5L639.4,58.8L646.6,55.7L653.9,53.1L661.2,51L668.5,49.4L675.7,48.4L683,47.8L690.2,47.8L697.4,48.2L704.6,49.1L711.7,50.5L707.7,49.4L700.6,48.1L693.4,47.2L686.2,46.8L679,46.9L671.7,47.5L664.5,48.5L657.2,50.1L649.9,52.2L642.6,54.9L635.4,58L628.1,61.7L620.9,66L613.7,70.8L606.5,76.2L599.3,82.1L592.2,88.6L585.1,95.8L578.1,103.5L571.1,111.8L564.2,120.7L557.3,130.2L550.5,140.4Z" fill="url(#gA19)" stroke="url(#gA19)"/><path d="M558.3,141.7L565.1,131.5L572,122L578.9,113.1L585.9,104.8L593,97.1L600.1,90.1L607.2,83.6L614.4,77.6L621.6,72.3L628.8,67.5L636.1,63.3L643.4,59.7L650.6,56.5L657.9,54L665.2,51.9L672.5,50.4L679.7,49.3L687,48.8L694.2,48.8L701.4,49.3L708.5,50.2L715.7,51.6L711.7,50.5L704.6,49.1L697.4,48.2L690.2,47.8L683,47.8L675.7,48.4L668.5,49.4L661.2,51L653.9,53.1L646.6,55.7L639.4,58.8L632.1,62.5L624.9,66.7L617.6,71.5L610.4,76.9L603.3,82.8L596.1,89.3L589.1,96.4L582,104.1L575,112.4L568.1,121.3L561.2,130.8L554.4,141Z" fill="url(#gA18)" stroke="url(#gA18)"/><path d="M562.2,142.4L569,132.2L575.9,122.7L582.9,113.8L589.9,105.6L596.9,97.9L604.1,90.8L611.2,84.3L618.4,78.5L625.6,73.1L632.8,68.4L640.1,64.2L647.4,60.6L654.6,57.5L661.9,54.9L669.2,52.9L676.4,51.4L683.7,50.4L690.9,49.9L698.2,49.9L705.4,50.4L712.5,51.3L719.6,52.8L715.7,51.6L708.5,50.2L701.4,49.3L694.2,48.8L687,48.8L679.7,49.3L672.5,50.4L665.2,51.9L657.9,54L650.6,56.5L643.4,59.7L636.1,63.3L628.8,67.5L621.6,72.3L614.4,77.6L607.2,83.6L600.1,90.1L593,97.1L585.9,104.8L578.9,113.1L572,122L565.1,131.5L558.3,141.7Z" fill="url(#gA17)" stroke="url(#gA17)"/><path d="M566,143.1L572.9,133L579.8,123.5L586.8,114.6L593.8,106.4L600.9,98.7L608,91.6L615.2,85.2L622.4,79.3L629.6,74L636.8,69.3L644.1,65.1L651.3,61.5L658.6,58.4L665.9,55.9L673.2,53.9L680.4,52.4L687.7,51.4L694.9,51L702.1,51L709.3,51.5L716.5,52.5L723.6,54L719.6,52.8L712.5,51.3L705.4,50.4L698.2,49.9L690.9,49.9L683.7,50.4L676.4,51.4L669.2,52.9L661.9,54.9L654.6,57.5L647.4,60.6L640.1,64.2L632.8,68.4L625.6,73.1L618.4,78.5L611.2,84.3L604.1,90.8L596.9,97.9L589.9,105.6L582.9,113.8L575.9,122.7L569,132.2L562.2,142.4Z" fill="url(#gA16)" stroke="url(#gA16)"/><path d="M569.9,143.9L576.8,133.8L583.7,124.3L590.7,115.5L597.8,107.2L604.8,99.6L612,92.5L619.1,86.1L626.3,80.2L633.6,74.9L640.8,70.2L648.1,66.1L655.3,62.5L662.6,59.4L669.9,56.9L677.2,54.9L684.4,53.5L691.7,52.5L698.9,52.1L706.1,52.2L713.3,52.7L720.4,53.7L727.5,55.3L723.6,54L716.5,52.5L709.3,51.5L702.1,51L694.9,51L687.7,51.4L680.4,52.4L673.2,53.9L665.9,55.9L658.6,58.4L651.3,61.5L644.1,65.1L636.8,69.3L629.6,74L622.4,79.3L615.2,85.2L608,91.6L600.9,98.7L593.8,106.4L586.8,114.6L579.8,123.5L572.9,133L566,143.1Z" fill="url(#gA15)" stroke="url(#gA15)"/><path d="M573.8,144.8L580.7,134.7L587.6,125.2L594.6,116.3L601.7,108.1L608.8,100.5L615.9,93.4L623.1,87L630.3,81.2L637.5,75.9L644.8,71.2L652.1,67.1L659.3,63.5L666.6,60.5L673.9,58L681.2,56L688.4,54.6L695.7,53.7L702.9,53.3L710.1,53.4L717.3,54L724.4,55L731.5,56.6L727.5,55.3L720.4,53.7L713.3,52.7L706.1,52.2L698.9,52.1L691.7,52.5L684.4,53.5L677.2,54.9L669.9,56.9L662.6,59.4L655.3,62.5L648.1,66.1L640.8,70.2L633.6,74.9L626.3,80.2L619.1,86.1L612,92.5L604.8,99.6L597.8,107.2L590.7,115.5L583.7,124.3L576.8,133.8L569.9,143.9Z" fill="url(#gA14)" stroke="url(#gA14)"/><path d="M577.7,145.7L584.6,135.6L591.6,126.1L598.6,117.3L605.6,109L612.7,101.4L619.9,94.4L627.1,88L634.3,82.2L641.5,76.9L648.8,72.2L656,68.1L663.3,64.6L670.6,61.6L677.9,59.1L685.1,57.2L692.4,55.8L699.6,54.9L706.9,54.5L714.1,54.6L721.2,55.2L728.4,56.3L735.4,57.9L731.5,56.6L724.4,55L717.3,54L710.1,53.4L702.9,53.3L695.7,53.7L688.4,54.6L681.2,56L673.9,58L666.6,60.5L659.3,63.5L652.1,67.1L644.8,71.2L637.5,75.9L630.3,81.2L623.1,87L615.9,93.4L608.8,100.5L601.7,108.1L594.6,116.3L587.6,125.2L580.7,134.7L573.8,144.8Z" fill="url(#gA13)" stroke="url(#gA13)"/><path d="M581.6,146.7L588.5,136.6L595.5,127.1L602.5,118.2L609.6,110L616.7,102.4L623.9,95.4L631,89L638.3,83.2L645.5,78L652.8,73.3L660,69.2L667.3,65.7L674.6,62.7L681.9,60.3L689.1,58.4L696.4,57L703.6,56.2L710.8,55.8L718,55.9L725.2,56.6L732.3,57.7L739.4,59.3L735.4,57.9L728.4,56.3L721.2,55.2L714.1,54.6L706.9,54.5L699.6,54.9L692.4,55.8L685.1,57.2L677.9,59.1L670.6,61.6L663.3,64.6L656,68.1L648.8,72.2L641.5,76.9L634.3,82.2L627.1,88L619.9,94.4L612.7,101.4L605.6,109L598.6,117.3L591.6,126.1L584.6,135.6L577.7,145.7Z" fill="url(#gA12)" stroke="url(#gA12)"/><path d="M585.5,147.7L592.4,137.6L599.4,128.1L606.4,119.3L613.5,111.1L620.6,103.5L627.8,96.5L635,90.1L642.2,84.3L649.5,79.1L656.7,74.5L664,70.4L671.3,66.9L678.6,63.9L685.8,61.5L693.1,59.6L700.4,58.3L707.6,57.5L714.8,57.1L722,57.3L729.1,58L736.2,59.1L743.3,60.8L739.4,59.3L732.3,57.7L725.2,56.6L718,55.9L710.8,55.8L703.6,56.2L696.4,57L689.1,58.4L681.9,60.3L674.6,62.7L667.3,65.7L660,69.2L652.8,73.3L645.5,78L638.3,83.2L631,89L623.9,95.4L616.7,102.4L609.6,110L602.5,118.2L595.5,127.1L588.5,136.6L581.6,146.7Z" fill="url(#gA11)" stroke="url(#gA11)"/><path d="M589.4,148.8L596.3,138.7L603.3,129.2L610.4,120.4L617.5,112.2L624.6,104.6L631.8,97.6L639,91.2L646.2,85.5L653.4,80.3L660.7,75.6L668,71.6L675.3,68.1L682.5,65.2L689.8,62.8L697.1,60.9L704.3,59.6L711.6,58.8L718.8,58.5L725.9,58.7L733.1,59.4L740.2,60.6L747.2,62.3L743.3,60.8L736.2,59.1L729.1,58L722,57.3L714.8,57.1L707.6,57.5L700.4,58.3L693.1,59.6L685.8,61.5L678.6,63.9L671.3,66.9L664,70.4L656.7,74.5L649.5,79.1L642.2,84.3L635,90.1L627.8,96.5L620.6,103.5L613.5,111.1L606.4,119.3L599.4,128.1L592.4,137.6L585.5,147.7Z" fill="url(#gA10)" stroke="url(#gA10)"/><path d="M593.3,149.9L600.2,139.8L607.2,130.3L614.3,121.5L621.4,113.3L628.5,105.7L635.7,98.8L642.9,92.4L650.2,86.7L657.4,81.5L664.7,76.9L672,72.9L679.2,69.4L686.5,66.5L693.8,64.1L701.1,62.3L708.3,61L715.5,60.2L722.7,59.9L729.9,60.2L737,60.9L744.1,62.1L751.2,63.8L747.2,62.3L740.2,60.6L733.1,59.4L725.9,58.7L718.8,58.5L711.6,58.8L704.3,59.6L697.1,60.9L689.8,62.8L682.5,65.2L675.3,68.1L668,71.6L660.7,75.6L653.4,80.3L646.2,85.5L639,91.2L631.8,97.6L624.6,104.6L617.5,112.2L610.4,120.4L603.3,129.2L596.3,138.7L589.4,148.8Z" fill="url(#gA9)" stroke="url(#gA9)"/><path d="M597.2,151L604.1,140.9L611.2,131.5L618.2,122.7L625.3,114.5L632.5,106.9L639.7,100L646.9,93.6L654.1,87.9L661.4,82.8L668.7,78.2L675.9,74.2L683.2,70.7L690.5,67.8L697.8,65.5L705,63.7L712.3,62.4L719.5,61.7L726.7,61.4L733.8,61.7L741,62.4L748,63.7L755.1,65.4L751.2,63.8L744.1,62.1L737,60.9L729.9,60.2L722.7,59.9L715.5,60.2L708.3,61L701.1,62.3L693.8,64.1L686.5,66.5L679.2,69.4L672,72.9L664.7,76.9L657.4,81.5L650.2,86.7L642.9,92.4L635.7,98.8L628.5,105.7L621.4,113.3L614.3,121.5L607.2,130.3L600.2,139.8L593.3,149.9Z" fill="url(#gA8)" stroke="url(#gA8)"/><path d="M601.1,152.3L608,142.2L615.1,132.7L622.2,123.9L629.3,115.7L636.4,108.2L643.6,101.3L650.8,94.9L658.1,89.2L665.4,84.1L672.6,79.5L679.9,75.5L687.2,72.1L694.5,69.2L701.7,66.9L709,65.1L716.2,63.9L723.5,63.2L730.6,62.9L737.8,63.2L744.9,64L752,65.3L759,67L755.1,65.4L748,63.7L741,62.4L733.8,61.7L726.7,61.4L719.5,61.7L712.3,62.4L705,63.7L697.8,65.5L690.5,67.8L683.2,70.7L675.9,74.2L668.7,78.2L661.4,82.8L654.1,87.9L646.9,93.6L639.7,100L632.5,106.9L625.3,114.5L618.2,122.7L611.2,131.5L604.1,140.9L597.2,151Z" fill="url(#gA7)" stroke="url(#gA7)"/><path d="M605,153.5L611.9,143.4L619,134L626.1,125.2L633.2,117L640.4,109.5L647.6,102.6L654.8,96.3L662.1,90.6L669.3,85.4L676.6,80.9L683.9,76.9L691.2,73.5L698.4,70.7L705.7,68.4L713,66.6L720.2,65.4L727.4,64.7L734.6,64.5L741.7,64.8L748.8,65.7L755.9,67L762.9,68.7L759,67L752,65.3L744.9,64L737.8,63.2L730.6,62.9L723.5,63.2L716.2,63.9L709,65.1L701.7,66.9L694.5,69.2L687.2,72.1L679.9,75.5L672.6,79.5L665.4,84.1L658.1,89.2L650.8,94.9L643.6,101.3L636.4,108.2L629.3,115.7L622.2,123.9L615.1,132.7L608,142.2L601.1,152.3Z" fill="url(#gA6)" stroke="url(#gA6)"/><path d="M608.8,154.8L615.9,144.8L622.9,135.3L630,126.5L637.1,118.4L644.3,110.9L651.5,104L658.8,97.7L666,92L673.3,86.9L680.6,82.3L687.8,78.4L695.1,75L702.4,72.2L709.7,69.9L716.9,68.2L724.1,67L731.3,66.3L738.5,66.2L745.7,66.5L752.7,67.3L759.8,68.7L766.8,70.5L762.9,68.7L755.9,67L748.8,65.7L741.7,64.8L734.6,64.5L727.4,64.7L720.2,65.4L713,66.6L705.7,68.4L698.4,70.7L691.2,73.5L683.9,76.9L676.6,80.9L669.3,85.4L662.1,90.6L654.8,96.3L647.6,102.6L640.4,109.5L633.2,117L626.1,125.2L619,134L611.9,143.4L605,153.5Z" fill="url(#gA5)" stroke="url(#gA5)"/><path d="M612.7,156.2L619.8,146.1L626.8,136.7L633.9,127.9L641.1,119.8L648.3,112.3L655.5,105.4L662.7,99.1L670,93.4L677.2,88.3L684.5,83.8L691.8,79.9L699.1,76.6L706.4,73.8L713.6,71.5L720.9,69.8L728.1,68.6L735.3,68L742.5,67.8L749.6,68.2L756.7,69.1L763.7,70.4L770.7,72.3L766.8,70.5L759.8,68.7L752.7,67.3L745.7,66.5L738.5,66.2L731.3,66.3L724.1,67L716.9,68.2L709.7,69.9L702.4,72.2L695.1,75L687.8,78.4L680.6,82.3L673.3,86.9L666,92L658.8,97.7L651.5,104L644.3,110.9L637.1,118.4L630,126.5L622.9,135.3L615.9,144.8L608.8,154.8Z" fill="url(#gA4)" stroke="url(#gA4)"/><path d="M616.6,157.7L623.7,147.6L630.7,138.2L637.9,129.4L645,121.2L652.2,113.7L659.4,106.9L666.7,100.6L673.9,94.9L681.2,89.9L688.5,85.4L695.8,81.5L703,78.1L710.3,75.4L717.6,73.1L724.8,71.5L732,70.3L739.2,69.7L746.4,69.6L753.5,70L760.6,70.9L767.6,72.2L774.6,74.1L770.7,72.3L763.7,70.4L756.7,69.1L749.6,68.2L742.5,67.8L735.3,68L728.1,68.6L720.9,69.8L713.6,71.5L706.4,73.8L699.1,76.6L691.8,79.9L684.5,83.8L677.2,88.3L670,93.4L662.7,99.1L655.5,105.4L648.3,112.3L641.1,119.8L633.9,127.9L626.8,136.7L619.8,146.1L612.7,156.2Z" fill="url(#gA3)" stroke="url(#gA3)"/><path d="M620.5,159.1L627.6,149.1L634.6,139.6L641.8,130.9L648.9,122.8L656.1,115.3L663.4,108.4L670.6,102.1L677.9,96.5L685.1,91.5L692.4,87L699.7,83.1L707,79.8L714.3,77L721.5,74.8L728.8,73.2L736,72L743.1,71.4L750.3,71.4L757.4,71.8L764.5,72.7L771.5,74.1L778.4,76L774.6,74.1L767.6,72.2L760.6,70.9L753.5,70L746.4,69.6L739.2,69.7L732,70.3L724.8,71.5L717.6,73.1L710.3,75.4L703,78.1L695.8,81.5L688.5,85.4L681.2,89.9L673.9,94.9L666.7,100.6L659.4,106.9L652.2,113.7L645,121.2L637.9,129.4L630.7,138.2L623.7,147.6L616.6,157.7Z" fill="url(#gA2)" stroke="url(#gA2)"/><path d="M624.4,160.7L631.5,150.6L638.6,141.2L645.7,132.4L652.9,124.3L660.1,116.8L667.3,110L674.5,103.8L681.8,98.1L689.1,93.1L696.4,88.6L703.7,84.8L710.9,81.5L718.2,78.7L725.5,76.6L732.7,74.9L739.9,73.8L747.1,73.3L754.2,73.2L761.3,73.6L768.4,74.6L775.4,76L782.3,77.9L778.4,76L771.5,74.1L764.5,72.7L757.4,71.8L750.3,71.4L743.1,71.4L736,72L728.8,73.2L721.5,74.8L714.3,77L707,79.8L699.7,83.1L692.4,87L685.1,91.5L677.9,96.5L670.6,102.1L663.4,108.4L656.1,115.3L648.9,122.8L641.8,130.9L634.6,139.6L627.6,149.1L620.5,159.1Z" fill="url(#gA1)" stroke="url(#gA1)"/><path d="M628.3,162.3L635.4,152.2L642.5,142.8L649.6,134L656.8,125.9L664,118.5L671.2,111.6L678.5,105.4L685.8,99.8L693,94.8L700.3,90.3L707.6,86.5L714.9,83.2L722.1,80.5L729.4,78.4L736.6,76.7L743.8,75.7L751,75.1L758.1,75.1L765.2,75.6L772.2,76.5L779.2,78L786.2,79.9L782.3,77.9L775.4,76L768.4,74.6L761.3,73.6L754.2,73.2L747.1,73.3L739.9,73.8L732.7,74.9L725.5,76.6L718.2,78.7L710.9,81.5L703.7,84.8L696.4,88.6L689.1,93.1L681.8,98.1L674.5,103.8L667.3,110L660.1,116.8L652.9,124.3L645.7,132.4L638.6,141.2L631.5,150.6L624.4,160.7Z" fill="url(#gA0)" stroke="url(#gA0)"/></g>
<path d="M628.3 162.3l-3.1-1.3l-3.1-1.3l-3.1-1.2l-3.1-1.1l-3.2-1.2l-3.1-1.1l-3.1-1.1l-3.1-1l-3.1-1l-3.1-1l-3.1-.9l-3.2-.9l-3.1-.9l-3.1-.8l-3.1-.8l-3.1-.8l-3.1-.7l-3.1-.7l-3.1-.7l-3.2-.7l-3.1-.6l-3.1-.6l-3.1-.5l-3.1-.5l-3.1-.5l-3.1-.5l-3.1-.4l-3.1-.4l-3.1-.4l-3.1-.4l-3-.3l-3.1-.3l-3.1-.2l-3.1-.3l-3.1-.2l-3.1-.2l-3-.1l-3.1-.1l-3.1-.1l-3-.1l-3.1 0l-3-.1l-3.1 0l-3 .1l-3.1 0l-3 .1l-3 .1l-3.1 .2l-3 .1l-3 .2M631.4 157.8l-3.1-1.3l-3.1-1.3l-3.1-1.2l-3.2-1.2l-3.1-1.1l-3.1-1.1l-3.1-1.1l-3.1-1l-3.2-1l-3.1-1l-3.1-.9l-3.1-.9l-3.1-.9l-3.1-.8l-3.2-.8l-3.1-.8l-3.1-.8l-3.1-.7l-3.1-.7l-3.1-.6l-3.2-.6l-3.1-.6l-3.1-.6l-3.1-.5l-3.1-.5l-3.1-.5l-3.1-.4l-3.1-.4l-3.1-.4l-3.1-.3l-3.1-.3l-3.1-.3l-3.1-.3l-3.1-.2l-3.1-.2l-3-.2l-3.1-.2l-3.1-.1l-3.1-.1l-3-.1l-3.1 0l-3.1 0l-3 0l-3.1 0l-3 .1l-3.1 .1l-3 .1l-3 .1l-3.1 .2l-3 .1M634.5 153.4l-3.1-1.3l-3.1-1.3l-3.1-1.2l-3.2-1.1l-3.1-1.2l-3.1-1.1l-3.1-1.1l-3.2-1l-3.1-1l-3.1-1l-3.1-.9l-3.2-.9l-3.1-.9l-3.1-.8l-3.1-.9l-3.1-.7l-3.2-.8l-3.1-.7l-3.1-.7l-3.1-.6l-3.1-.6l-3.2-.6l-3.1-.6l-3.1-.5l-3.1-.5l-3.1-.5l-3.1-.4l-3.1-.4l-3.1-.4l-3.1-.4l-3.1-.3l-3.1-.3l-3.1-.2l-3.1-.3l-3.1-.2l-3.1-.2l-3.1-.1l-3.1-.1l-3.1-.1l-3-.1l-3.1-.1l-3.1 0l-3 0l-3.1 .1l-3 0l-3.1 .1l-3 .1l-3.1 .1l-3 .2l-3.1 .2M637.6 149.1l-3.1-1.3l-3.1-1.2l-3.1-1.2l-3.2-1.2l-3.1-1.1l-3.1-1.2l-3.1-1l-3.2-1.1l-3.1-1l-3.1-1l-3.2-.9l-3.1-.9l-3.1-.9l-3.1-.8l-3.2-.8l-3.1-.8l-3.1-.8l-3.1-.7l-3.2-.7l-3.1-.6l-3.1-.6l-3.1-.6l-3.2-.6l-3.1-.5l-3.1-.5l-3.1-.5l-3.1-.4l-3.1-.4l-3.2-.4l-3.1-.4l-3.1-.3l-3.1-.3l-3.1-.3l-3.1-.2l-3.1-.2l-3.1-.2l-3.1-.1l-3-.2l-3.1-.1l-3.1 0l-3.1-.1l-3.1 0l-3 0l-3.1 0l-3.1 .1l-3 .1l-3.1 .1l-3 .1l-3.1 .2l-3 .1M640.8 145l-3.2-1.3l-3.1-1.2l-3.1-1.3l-3.2-1.1l-3.1-1.2l-3.1-1.1l-3.1-1.1l-3.2-1l-3.1-1l-3.1-1l-3.2-.9l-3.1-1l-3.1-.8l-3.2-.9l-3.1-.8l-3.1-.8l-3.2-.7l-3.1-.7l-3.1-.7l-3.2-.7l-3.1-.6l-3.1-.6l-3.1-.6l-3.2-.5l-3.1-.5l-3.1-.5l-3.1-.4l-3.1-.4l-3.2-.4l-3.1-.4l-3.1-.3l-3.1-.3l-3.1-.3l-3.1-.2l-3.1-.2l-3.1-.2l-3.1-.1l-3.1-.2l-3.1-.1l-3.1-.1l-3.1 0l-3 0l-3.1 0l-3.1 0l-3.1 .1l-3 0l-3.1 .1l-3 .2l-3.1 .1l-3 .2M643.9 141l-3.1-1.3l-3.2-1.2l-3.1-1.3l-3.1-1.1l-3.2-1.2l-3.1-1.1l-3.1-1.1l-3.2-1l-3.1-1l-3.1-1l-3.2-1l-3.1-.9l-3.1-.9l-3.2-.8l-3.1-.8l-3.2-.8l-3.1-.8l-3.1-.7l-3.2-.7l-3.1-.6l-3.1-.7l-3.2-.6l-3.1-.5l-3.1-.6l-3.1-.5l-3.2-.4l-3.1-.5l-3.1-.4l-3.1-.4l-3.2-.3l-3.1-.4l-3.1-.3l-3.1-.2l-3.1-.3l-3.1-.2l-3.1-.2l-3.1-.1l-3.1-.2l-3.1-.1l-3.1-.1l-3.1 0l-3.1 0l-3.1 0l-3.1 0l-3 0l-3.1 .1l-3.1 .1l-3 .2l-3.1 .1l-3.1 .2M647 137.1l-3.1-1.3l-3.1-1.2l-3.2-1.2l-3.1-1.2l-3.1-1.2l-3.2-1.1l-3.1-1.1l-3.1-1l-3.2-1l-3.1-1l-3.2-1l-3.1-.9l-3.1-.9l-3.2-.8l-3.1-.8l-3.2-.8l-3.1-.8l-3.1-.7l-3.2-.7l-3.1-.7l-3.2-.6l-3.1-.6l-3.1-.6l-3.2-.5l-3.1-.5l-3.1-.5l-3.2-.4l-3.1-.4l-3.1-.4l-3.1-.4l-3.2-.3l-3.1-.3l-3.1-.3l-3.1-.2l-3.1-.3l-3.2-.2l-3.1-.1l-3.1-.2l-3.1-.1l-3.1 0l-3.1-.1l-3.1 0l-3 0l-3.1 0l-3.1 0l-3.1 .1l-3.1 .1l-3 .2l-3.1 .1l-3.1 .2M650.2 133.4l-3.2-1.3l-3.1-1.3l-3.1-1.2l-3.2-1.2l-3.1-1.1l-3.1-1.2l-3.2-1l-3.1-1.1l-3.2-1l-3.1-1l-3.2-1l-3.1-.9l-3.1-.9l-3.2-.8l-3.1-.8l-3.2-.8l-3.1-.8l-3.2-.7l-3.1-.7l-3.1-.7l-3.2-.6l-3.1-.6l-3.2-.6l-3.1-.5l-3.1-.5l-3.2-.5l-3.1-.5l-3.2-.4l-3.1-.4l-3.1-.3l-3.1-.4l-3.2-.3l-3.1-.3l-3.1-.2l-3.1-.2l-3.2-.2l-3.1-.2l-3.1-.1l-3.1-.1l-3.1-.1l-3.1-.1l-3.1 0l-3.1 0l-3.1 0l-3.1 .1l-3.1 0l-3 .1l-3.1 .2l-3.1 .1l-3 .2M653.3 129.8l-3.1-1.3l-3.1-1.3l-3.2-1.2l-3.1-1.2l-3.2-1.2l-3.1-1.1l-3.1-1.1l-3.2-1l-3.1-1.1l-3.2-1l-3.1-.9l-3.2-.9l-3.1-.9l-3.2-.9l-3.1-.8l-3.2-.8l-3.1-.8l-3.2-.7l-3.1-.7l-3.2-.7l-3.1-.6l-3.2-.6l-3.1-.6l-3.1-.5l-3.2-.5l-3.1-.5l-3.2-.5l-3.1-.4l-3.1-.4l-3.2-.4l-3.1-.3l-3.1-.3l-3.2-.3l-3.1-.2l-3.1-.3l-3.1-.2l-3.2-.1l-3.1-.2l-3.1-.1l-3.1-.1l-3.1 0l-3.1-.1l-3.1 0l-3.1 0l-3.1 .1l-3.1 .1l-3.1 .1l-3.1 .1l-3 .1l-3.1 .2M656.5 126.3l-3.1-1.3l-3.2-1.3l-3.1-1.2l-3.2-1.2l-3.1-1.2l-3.2-1.1l-3.1-1.1l-3.2-1.1l-3.1-1l-3.1-1l-3.2-.9l-3.1-1l-3.2-.9l-3.2-.8l-3.1-.9l-3.2-.8l-3.1-.7l-3.2-.8l-3.1-.7l-3.2-.6l-3.1-.7l-3.2-.6l-3.1-.6l-3.2-.5l-3.1-.5l-3.2-.5l-3.1-.5l-3.1-.4l-3.2-.4l-3.1-.4l-3.2-.3l-3.1-.3l-3.1-.3l-3.2-.3l-3.1-.2l-3.1-.2l-3.1-.2l-3.2-.1l-3.1-.1l-3.1-.1l-3.1-.1l-3.1 0l-3.1 0l-3.1 0l-3.1 0l-3.1 .1l-3.1 .1l-3.1 .1l-3.1 .1l-3.1 .2M659.7 122.9l-3.2-1.3l-3.1-1.3l-3.2-1.2l-3.1-1.2l-3.2-1.2l-3.1-1.1l-3.2-1.1l-3.1-1.1l-3.2-1l-3.1-1l-3.2-1l-3.1-.9l-3.2-.9l-3.1-.9l-3.2-.8l-3.1-.8l-3.2-.8l-3.1-.7l-3.2-.7l-3.2-.7l-3.1-.6l-3.2-.6l-3.1-.6l-3.2-.6l-3.1-.5l-3.2-.5l-3.1-.4l-3.2-.5l-3.1-.4l-3.2-.4l-3.1-.3l-3.1-.3l-3.2-.3l-3.1-.3l-3.2-.2l-3.1-.2l-3.1-.2l-3.1-.1l-3.2-.2l-3.1 0l-3.1-.1l-3.1-.1l-3.1 0l-3.1 0l-3.1 .1l-3.1 0l-3.1 .1l-3.1 .1l-3.1 .2l-3.1 .1M662.8 119.6l-3.1-1.3l-3.1-1.3l-3.2-1.2l-3.1-1.2l-3.2-1.2l-3.1-1.1l-3.2-1.1l-3.1-1.1l-3.2-1l-3.2-1l-3.1-1l-3.2-.9l-3.1-.9l-3.2-.9l-3.1-.8l-3.2-.8l-3.2-.8l-3.1-.7l-3.2-.7l-3.1-.7l-3.2-.7l-3.2-.6l-3.1-.6l-3.2-.5l-3.1-.6l-3.2-.4l-3.1-.5l-3.2-.5l-3.1-.4l-3.2-.3l-3.1-.4l-3.2-.3l-3.1-.3l-3.2-.3l-3.1-.2l-3.1-.2l-3.2-.2l-3.1-.1l-3.1-.2l-3.2-.1l-3.1 0l-3.1-.1l-3.1 0l-3.1 0l-3.1 0l-3.2 .1l-3.1 .1l-3.1 .1l-3.1 .1l-3 .2M666 116.5l-3.1-1.3l-3.2-1.3l-3.1-1.2l-3.2-1.2l-3.1-1.2l-3.2-1.2l-3.1-1.1l-3.2-1l-3.1-1.1l-3.2-1l-3.2-.9l-3.1-1l-3.2-.9l-3.1-.9l-3.2-.8l-3.2-.8l-3.1-.8l-3.2-.7l-3.2-.8l-3.1-.6l-3.2-.7l-3.1-.6l-3.2-.6l-3.2-.6l-3.1-.5l-3.2-.5l-3.1-.5l-3.2-.4l-3.1-.4l-3.2-.4l-3.1-.4l-3.2-.3l-3.1-.3l-3.2-.3l-3.1-.2l-3.2-.2l-3.1-.2l-3.2-.1l-3.1-.2l-3.1-.1l-3.1-.1l-3.2 0l-3.1 0l-3.1 0l-3.1 0l-3.1 .1l-3.2 0l-3.1 .1l-3.1 .2l-3.1 .1M669.2 113.5l-3.1-1.3l-3.2-1.3l-3.1-1.3l-3.2-1.2l-3.1-1.1l-3.2-1.2l-3.2-1.1l-3.1-1.1l-3.2-1l-3.1-1l-3.2-1l-3.2-.9l-3.1-1l-3.2-.8l-3.2-.9l-3.1-.8l-3.2-.8l-3.2-.7l-3.1-.8l-3.2-.6l-3.1-.7l-3.2-.6l-3.2-.6l-3.1-.6l-3.2-.5l-3.2-.5l-3.1-.5l-3.2-.5l-3.1-.4l-3.2-.4l-3.2-.3l-3.1-.3l-3.2-.3l-3.1-.3l-3.2-.3l-3.1-.2l-3.2-.2l-3.1-.1l-3.1-.2l-3.2-.1l-3.1-.1l-3.1 0l-3.2 0l-3.1 0l-3.1 0l-3.1 0l-3.1 .1l-3.2 .1l-3.1 .1l-3.1 .2M672.4 110.6l-3.2-1.3l-3.1-1.3l-3.2-1.3l-3.1-1.2l-3.2-1.2l-3.1-1.1l-3.2-1.1l-3.1-1.1l-3.2-1.1l-3.2-1l-3.1-.9l-3.2-1l-3.2-.9l-3.1-.9l-3.2-.8l-3.2-.9l-3.1-.8l-3.2-.7l-3.2-.7l-3.1-.7l-3.2-.7l-3.2-.6l-3.1-.6l-3.2-.6l-3.2-.5l-3.1-.5l-3.2-.5l-3.2-.5l-3.1-.4l-3.2-.4l-3.2-.4l-3.1-.3l-3.2-.3l-3.1-.3l-3.2-.2l-3.1-.3l-3.2-.2l-3.1-.1l-3.2-.2l-3.1-.1l-3.1-.1l-3.2 0l-3.1-.1l-3.1 0l-3.2 .1l-3.1 0l-3.1 .1l-3.1 .1l-3.1 .1l-3.2 .1M675.6 107.8l-3.2-1.3l-3.1-1.3l-3.2-1.2l-3.1-1.3l-3.2-1.2l-3.1-1.1l-3.2-1.1l-3.2-1.1l-3.1-1.1l-3.2-1l-3.2-1l-3.1-.9l-3.2-.9l-3.2-.9l-3.1-.9l-3.2-.8l-3.2-.8l-3.2-.8l-3.1-.7l-3.2-.7l-3.2-.7l-3.1-.6l-3.2-.6l-3.2-.6l-3.1-.5l-3.2-.6l-3.2-.4l-3.2-.5l-3.1-.4l-3.2-.4l-3.1-.4l-3.2-.3l-3.2-.3l-3.1-.3l-3.2-.3l-3.1-.2l-3.2-.2l-3.1-.2l-3.2-.1l-3.1-.2l-3.2 0l-3.1-.1l-3.2 0l-3.1-.1l-3.1 .1l-3.2 0l-3.1 .1l-3.1 .1l-3.1 .1l-3.1 .1M678.8 105.2l-3.2-1.4l-3.1-1.3l-3.2-1.2l-3.1-1.2l-3.2-1.2l-3.2-1.2l-3.1-1.1l-3.2-1.1l-3.2-1.1l-3.1-1l-3.2-1l-3.2-.9l-3.1-1l-3.2-.9l-3.2-.8l-3.1-.9l-3.2-.8l-3.2-.7l-3.2-.8l-3.1-.7l-3.2-.6l-3.2-.7l-3.2-.6l-3.1-.6l-3.2-.5l-3.2-.5l-3.2-.5l-3.1-.5l-3.2-.4l-3.2-.4l-3.1-.4l-3.2-.4l-3.2-.3l-3.1-.3l-3.2-.2l-3.1-.3l-3.2-.2l-3.2-.2l-3.1-.1l-3.2-.1l-3.1-.1l-3.1-.1l-3.2 0l-3.1-.1l-3.2 .1l-3.1 0l-3.1 .1l-3.2 0l-3.1 .2l-3.1 .1M682 102.6l-3.2-1.3l-3.1-1.3l-3.2-1.3l-3.1-1.2l-3.2-1.2l-3.2-1.2l-3.1-1.1l-3.2-1.1l-3.2-1.1l-3.1-1l-3.2-1l-3.2-.9l-3.2-1l-3.1-.9l-3.2-.8l-3.2-.9l-3.2-.8l-3.1-.8l-3.2-.7l-3.2-.7l-3.2-.7l-3.1-.6l-3.2-.7l-3.2-.5l-3.2-.6l-3.1-.5l-3.2-.5l-3.2-.5l-3.2-.4l-3.1-.4l-3.2-.4l-3.2-.4l-3.1-.3l-3.2-.3l-3.2-.3l-3.1-.2l-3.2-.2l-3.2-.2l-3.1-.2l-3.2-.1l-3.1-.1l-3.2-.1l-3.1 0l-3.2 0l-3.1 0l-3.1 0l-3.2 0l-3.1 .1l-3.1 .1l-3.2 .2M685.2 100.2l-3.2-1.3l-3.1-1.3l-3.2-1.3l-3.2-1.2l-3.1-1.2l-3.2-1.2l-3.1-1.1l-3.2-1.2l-3.2-1l-3.2-1.1l-3.1-1l-3.2-.9l-3.2-1l-3.1-.9l-3.2-.8l-3.2-.9l-3.2-.8l-3.2-.8l-3.1-.7l-3.2-.7l-3.2-.7l-3.2-.7l-3.2-.6l-3.1-.6l-3.2-.6l-3.2-.5l-3.2-.5l-3.1-.5l-3.2-.4l-3.2-.4l-3.2-.4l-3.1-.4l-3.2-.3l-3.2-.3l-3.2-.3l-3.1-.2l-3.2-.3l-3.1-.1l-3.2-.2l-3.2-.1l-3.1-.2l-3.2 0l-3.1-.1l-3.2 0l-3.1 0l-3.2 0l-3.1 .1l-3.1 0l-3.2 .1l-3.1 .2M688.4 97.9l-3.2-1.3l-3.1-1.3l-3.2-1.3l-3.2-1.3l-3.1-1.2l-3.2-1.1l-3.1-1.2l-3.2-1.1l-3.2-1.1l-3.2-1l-3.1-1l-3.2-1l-3.2-.9l-3.2-1l-3.1-.8l-3.2-.9l-3.2-.8l-3.2-.8l-3.2-.7l-3.1-.8l-3.2-.7l-3.2-.6l-3.2-.7l-3.2-.6l-3.2-.5l-3.1-.6l-3.2-.5l-3.2-.5l-3.2-.4l-3.1-.4l-3.2-.4l-3.2-.4l-3.2-.3l-3.2-.3l-3.1-.3l-3.2-.3l-3.2-.2l-3.1-.2l-3.2-.2l-3.2-.1l-3.1-.1l-3.2-.1l-3.1-.1l-3.2 0l-3.1 0l-3.2 0l-3.1 .1l-3.2 0l-3.1 .1l-3.1 .1M691.6 95.7l-3.2-1.3l-3.1-1.3l-3.2-1.3l-3.2-1.3l-3.1-1.2l-3.2-1.2l-3.2-1.1l-3.1-1.1l-3.2-1.1l-3.2-1.1l-3.1-1l-3.2-1l-3.2-.9l-3.2-.9l-3.2-.9l-3.1-.9l-3.2-.8l-3.2-.8l-3.2-.8l-3.2-.7l-3.2-.7l-3.1-.6l-3.2-.7l-3.2-.6l-3.2-.6l-3.2-.5l-3.2-.5l-3.1-.5l-3.2-.5l-3.2-.4l-3.2-.4l-3.2-.4l-3.1-.3l-3.2-.3l-3.2-.3l-3.2-.3l-3.1-.2l-3.2-.2l-3.2-.2l-3.1-.1l-3.2-.2l-3.2-.1l-3.1 0l-3.2-.1l-3.1 0l-3.2 0l-3.1 .1l-3.2 0l-3.1 .1l-3.2 .1M694.8 93.7l-3.2-1.4l-3.1-1.3l-3.2-1.3l-3.2-1.3l-3.1-1.2l-3.2-1.2l-3.2-1.1l-3.1-1.2l-3.2-1l-3.2-1.1l-3.1-1l-3.2-1l-3.2-1l-3.2-.9l-3.2-.9l-3.1-.9l-3.2-.8l-3.2-.8l-3.2-.7l-3.2-.8l-3.2-.7l-3.2-.7l-3.1-.6l-3.2-.6l-3.2-.6l-3.2-.6l-3.2-.5l-3.2-.5l-3.2-.4l-3.1-.5l-3.2-.4l-3.2-.4l-3.2-.3l-3.2-.3l-3.1-.3l-3.2-.3l-3.2-.2l-3.2-.2l-3.1-.2l-3.2-.2l-3.2-.1l-3.1-.1l-3.2-.1l-3.2 0l-3.1 0l-3.2 0l-3.1 0l-3.2 0l-3.1 .1l-3.2 .1M698 91.7l-3.2-1.4l-3.1-1.3l-3.2-1.3l-3.1-1.3l-3.2-1.2l-3.2-1.2l-3.1-1.1l-3.2-1.2l-3.2-1.1l-3.2-1l-3.1-1.1l-3.2-.9l-3.2-1l-3.2-.9l-3.2-.9l-3.2-.9l-3.1-.9l-3.2-.8l-3.2-.7l-3.2-.8l-3.2-.7l-3.2-.7l-3.2-.6l-3.2-.6l-3.1-.6l-3.2-.6l-3.2-.5l-3.2-.5l-3.2-.5l-3.2-.4l-3.2-.5l-3.1-.3l-3.2-.4l-3.2-.3l-3.2-.3l-3.2-.3l-3.2-.2l-3.1-.3l-3.2-.1l-3.2-.2l-3.1-.1l-3.2-.1l-3.2-.1l-3.1-.1l-3.2 0l-3.2 0l-3.1 0l-3.2 .1l-3.1 0l-3.2 .1M701.2 89.9l-3.2-1.4l-3.1-1.4l-3.2-1.3l-3.1-1.2l-3.2-1.3l-3.2-1.2l-3.1-1.1l-3.2-1.2l-3.2-1.1l-3.2-1l-3.1-1.1l-3.2-1l-3.2-.9l-3.2-1l-3.2-.9l-3.2-.9l-3.1-.8l-3.2-.8l-3.2-.8l-3.2-.8l-3.2-.7l-3.2-.7l-3.2-.6l-3.2-.6l-3.2-.6l-3.2-.6l-3.1-.6l-3.2-.5l-3.2-.4l-3.2-.5l-3.2-.4l-3.2-.4l-3.2-.4l-3.2-.3l-3.1-.3l-3.2-.3l-3.2-.2l-3.2-.3l-3.2-.2l-3.1-.1l-3.2-.2l-3.2-.1l-3.2-.1l-3.1 0l-3.2-.1l-3.1 0l-3.2 0l-3.2 .1l-3.1 0l-3.2 .1M704.4 88.1l-3.2-1.4l-3.1-1.3l-3.2-1.3l-3.1-1.3l-3.2-1.2l-3.2-1.2l-3.1-1.2l-3.2-1.2l-3.2-1.1l-3.2-1l-3.1-1.1l-3.2-1l-3.2-1l-3.2-.9l-3.2-.9l-3.2-.9l-3.2-.9l-3.1-.8l-3.2-.8l-3.2-.7l-3.2-.8l-3.2-.7l-3.2-.6l-3.2-.7l-3.2-.6l-3.2-.5l-3.2-.6l-3.2-.5l-3.1-.5l-3.2-.4l-3.2-.5l-3.2-.4l-3.2-.3l-3.2-.4l-3.2-.3l-3.2-.3l-3.1-.2l-3.2-.3l-3.2-.2l-3.2-.2l-3.2-.1l-3.1-.1l-3.2-.1l-3.2-.1l-3.2 0l-3.1 0l-3.2 0l-3.1 0l-3.2 .1l-3.2 0M707.6 86.5l-3.2-1.4l-3.1-1.3l-3.2-1.4l-3.1-1.2l-3.2-1.3l-3.2-1.2l-3.1-1.2l-3.2-1.1l-3.2-1.1l-3.2-1.1l-3.1-1.1l-3.2-1l-3.2-1l-3.2-.9l-3.2-1l-3.2-.8l-3.2-.9l-3.1-.8l-3.2-.8l-3.2-.8l-3.2-.7l-3.2-.7l-3.2-.7l-3.2-.6l-3.2-.7l-3.2-.5l-3.2-.6l-3.2-.5l-3.2-.5l-3.2-.5l-3.1-.4l-3.2-.4l-3.2-.4l-3.2-.4l-3.2-.3l-3.2-.3l-3.2-.2l-3.2-.3l-3.2-.2l-3.1-.2l-3.2-.1l-3.2-.2l-3.2-.1l-3.1 0l-3.2-.1l-3.2 0l-3.1 0l-3.2 0l-3.2 .1l-3.1 0M710.8 85l-3.2-1.4l-3.1-1.4l-3.2-1.3l-3.1-1.3l-3.2-1.2l-3.2-1.3l-3.1-1.1l-3.2-1.2l-3.2-1.1l-3.2-1.1l-3.1-1.1l-3.2-1l-3.2-1l-3.2-1l-3.2-.9l-3.2-.9l-3.2-.8l-3.1-.9l-3.2-.8l-3.2-.8l-3.2-.7l-3.2-.7l-3.2-.7l-3.2-.6l-3.2-.7l-3.2-.6l-3.2-.5l-3.2-.5l-3.2-.5l-3.2-.5l-3.2-.5l-3.2-.4l-3.2-.4l-3.1-.3l-3.2-.4l-3.2-.3l-3.2-.2l-3.2-.3l-3.2-.2l-3.2-.2l-3.2-.2l-3.1-.1l-3.2-.1l-3.2-.1l-3.2 0l-3.1-.1l-3.2 0l-3.2 0l-3.1 .1l-3.2 .1M714 83.6l-3.1-1.4l-3.2-1.4l-3.2-1.3l-3.1-1.3l-3.2-1.3l-3.2-1.2l-3.1-1.2l-3.2-1.2l-3.2-1.1l-3.2-1.1l-3.1-1.1l-3.2-1l-3.2-1l-3.2-1l-3.2-.9l-3.2-.9l-3.2-.9l-3.1-.8l-3.2-.8l-3.2-.8l-3.2-.8l-3.2-.7l-3.2-.7l-3.2-.6l-3.2-.7l-3.2-.6l-3.2-.5l-3.2-.6l-3.2-.5l-3.2-.5l-3.2-.4l-3.2-.4l-3.2-.4l-3.2-.4l-3.2-.3l-3.2-.3l-3.1-.3l-3.2-.3l-3.2-.2l-3.2-.2l-3.2-.2l-3.2-.1l-3.2-.1l-3.1-.1l-3.2-.1l-3.2 0l-3.2 0l-3.1 0l-3.2 0l-3.2 .1M717.2 82.3l-3.1-1.4l-3.2-1.4l-3.2-1.3l-3.1-1.3l-3.2-1.3l-3.2-1.2l-3.1-1.2l-3.2-1.2l-3.2-1.1l-3.2-1.2l-3.1-1l-3.2-1.1l-3.2-1l-3.2-1l-3.2-.9l-3.2-.9l-3.1-.9l-3.2-.8l-3.2-.9l-3.2-.8l-3.2-.7l-3.2-.7l-3.2-.7l-3.2-.7l-3.2-.6l-3.2-.6l-3.2-.6l-3.2-.6l-3.2-.5l-3.2-.5l-3.2-.4l-3.2-.5l-3.2-.4l-3.2-.3l-3.2-.4l-3.2-.3l-3.2-.3l-3.2-.3l-3.2-.2l-3.1-.2l-3.2-.2l-3.2-.1l-3.2-.2l-3.2-.1l-3.2 0l-3.1-.1l-3.2 0l-3.2 0l-3.2 0l-3.1 .1M720.4 81.1l-3.2-1.4l-3.1-1.4l-3.2-1.3l-3.1-1.3l-3.2-1.3l-3.2-1.3l-3.1-1.2l-3.2-1.2l-3.2-1.1l-3.1-1.1l-3.2-1.1l-3.2-1l-3.2-1.1l-3.2-.9l-3.2-1l-3.2-.9l-3.1-.9l-3.2-.9l-3.2-.8l-3.2-.8l-3.2-.8l-3.2-.7l-3.2-.7l-3.2-.7l-3.2-.6l-3.2-.6l-3.2-.6l-3.2-.6l-3.2-.5l-3.2-.5l-3.2-.5l-3.2-.4l-3.2-.4l-3.2-.4l-3.2-.4l-3.2-.3l-3.2-.3l-3.2-.3l-3.2-.2l-3.2-.2l-3.2-.2l-3.1-.2l-3.2-.1l-3.2-.1l-3.2-.1l-3.2-.1l-3.2 0l-3.1 0l-3.2 0l-3.2 .1M723.6 80l-3.2-1.4l-3.1-1.4l-3.2-1.3l-3.1-1.3l-3.2-1.3l-3.2-1.3l-3.1-1.2l-3.2-1.2l-3.2-1.1l-3.1-1.2l-3.2-1.1l-3.2-1l-3.2-1l-3.2-1l-3.2-1l-3.2-.9l-3.1-.9l-3.2-.9l-3.2-.8l-3.2-.8l-3.2-.8l-3.2-.8l-3.2-.7l-3.2-.7l-3.2-.6l-3.2-.6l-3.2-.6l-3.2-.6l-3.2-.5l-3.2-.5l-3.2-.5l-3.2-.5l-3.2-.4l-3.2-.4l-3.2-.3l-3.2-.4l-3.2-.3l-3.2-.3l-3.2-.2l-3.2-.2l-3.2-.2l-3.2-.2l-3.2-.1l-3.1-.2l-3.2 0l-3.2-.1l-3.2-.1l-3.2 0l-3.1 0l-3.2 .1M726.8 79.1l-3.2-1.5l-3.1-1.4l-3.2-1.3l-3.1-1.3l-3.2-1.3l-3.2-1.3l-3.1-1.2l-3.2-1.2l-3.2-1.2l-3.1-1.1l-3.2-1.1l-3.2-1.1l-3.2-1l-3.2-1l-3.2-1l-3.1-.9l-3.2-.9l-3.2-.9l-3.2-.9l-3.2-.8l-3.2-.8l-3.2-.7l-3.2-.7l-3.2-.7l-3.2-.7l-3.2-.6l-3.2-.6l-3.2-.6l-3.2-.5l-3.2-.5l-3.2-.5l-3.2-.5l-3.2-.4l-3.2-.4l-3.2-.4l-3.2-.3l-3.2-.4l-3.2-.2l-3.2-.3l-3.2-.2l-3.2-.2l-3.2-.2l-3.2-.2l-3.2-.1l-3.2-.1l-3.1-.1l-3.2 0l-3.2 0l-3.2 0l-3.2 0M730 78.2l-3.2-1.4l-3.1-1.4l-3.2-1.4l-3.1-1.3l-3.2-1.3l-3.2-1.3l-3.1-1.3l-3.2-1.2l-3.2-1.1l-3.1-1.2l-3.2-1.1l-3.2-1l-3.2-1.1l-3.2-1l-3.2-1l-3.1-.9l-3.2-.9l-3.2-.9l-3.2-.9l-3.2-.8l-3.2-.8l-3.2-.8l-3.2-.7l-3.2-.7l-3.2-.7l-3.2-.6l-3.2-.6l-3.2-.6l-3.2-.5l-3.2-.6l-3.2-.5l-3.2-.4l-3.2-.5l-3.2-.4l-3.2-.4l-3.2-.3l-3.2-.3l-3.2-.3l-3.2-.3l-3.2-.2l-3.2-.3l-3.2-.1l-3.2-.2l-3.2-.1l-3.2-.2l-3.2 0l-3.1-.1l-3.2 0l-3.2 0l-3.2 0M733.2 77.5l-3.2-1.5l-3.1-1.4l-3.2-1.4l-3.1-1.3l-3.2-1.3l-3.2-1.3l-3.1-1.3l-3.2-1.2l-3.2-1.2l-3.2-1.1l-3.1-1.1l-3.2-1.1l-3.2-1.1l-3.2-1l-3.2-1l-3.1-.9l-3.2-.9l-3.2-.9l-3.2-.9l-3.2-.8l-3.2-.8l-3.2-.8l-3.2-.7l-3.2-.7l-3.2-.7l-3.2-.7l-3.2-.6l-3.2-.6l-3.2-.6l-3.2-.5l-3.2-.5l-3.2-.5l-3.2-.4l-3.2-.4l-3.2-.4l-3.2-.4l-3.2-.3l-3.2-.3l-3.2-.3l-3.2-.3l-3.2-.2l-3.2-.2l-3.2-.1l-3.2-.2l-3.2-.1l-3.2-.1l-3.2-.1l-3.2 0l-3.1 0l-3.2 0M736.3 76.8l-3.1-1.5l-3.2-1.4l-3.1-1.4l-3.2-1.3l-3.1-1.3l-3.2-1.3l-3.1-1.3l-3.2-1.2l-3.2-1.2l-3.2-1.1l-3.1-1.2l-3.2-1.1l-3.2-1l-3.2-1l-3.2-1l-3.1-1l-3.2-.9l-3.2-.9l-3.2-.9l-3.2-.9l-3.2-.8l-3.2-.7l-3.2-.8l-3.2-.7l-3.2-.7l-3.2-.7l-3.2-.6l-3.2-.6l-3.2-.6l-3.2-.5l-3.2-.5l-3.2-.5l-3.2-.5l-3.2-.4l-3.2-.4l-3.2-.4l-3.2-.3l-3.2-.3l-3.2-.3l-3.2-.3l-3.2-.2l-3.2-.2l-3.2-.2l-3.2-.1l-3.2-.2l-3.2-.1l-3.2 0l-3.2-.1l-3.2 0l-3.1 0M739.5 76.2l-3.1-1.4l-3.2-1.4l-3.1-1.4l-3.2-1.4l-3.1-1.3l-3.2-1.3l-3.2-1.3l-3.1-1.2l-3.2-1.2l-3.2-1.2l-3.1-1.1l-3.2-1.1l-3.2-1.1l-3.2-1l-3.2-1l-3.2-1l-3.1-.9l-3.2-1l-3.2-.8l-3.2-.9l-3.2-.8l-3.2-.8l-3.2-.7l-3.2-.8l-3.2-.7l-3.2-.6l-3.2-.7l-3.2-.6l-3.2-.6l-3.2-.5l-3.2-.5l-3.2-.5l-3.2-.5l-3.2-.4l-3.2-.5l-3.2-.3l-3.2-.4l-3.2-.3l-3.2-.3l-3.2-.3l-3.2-.2l-3.2-.2l-3.2-.2l-3.2-.2l-3.2-.1l-3.2-.1l-3.2-.1l-3.2-.1l-3.2 0l-3.2 0M742.7 75.8l-3.2-1.5l-3.1-1.4l-3.2-1.4l-3.1-1.4l-3.2-1.3l-3.1-1.3l-3.2-1.3l-3.1-1.2l-3.2-1.2l-3.2-1.2l-3.2-1.2l-3.1-1.1l-3.2-1l-3.2-1.1l-3.2-1l-3.2-1l-3.1-.9l-3.2-1l-3.2-.8l-3.2-.9l-3.2-.8l-3.2-.8l-3.2-.8l-3.2-.7l-3.2-.7l-3.2-.7l-3.2-.7l-3.2-.6l-3.2-.6l-3.2-.5l-3.2-.6l-3.2-.5l-3.2-.5l-3.2-.4l-3.2-.4l-3.2-.4l-3.2-.4l-3.2-.3l-3.2-.3l-3.2-.3l-3.2-.2l-3.2-.3l-3.2-.2l-3.2-.1l-3.2-.2l-3.2-.1l-3.2-.1l-3.2-.1l-3.2 0l-3.2 0M745.8 75.5l-3.1-1.5l-3.1-1.5l-3.2-1.4l-3.1-1.4l-3.2-1.3l-3.1-1.3l-3.2-1.3l-3.2-1.2l-3.1-1.3l-3.2-1.1l-3.2-1.2l-3.1-1.1l-3.2-1.1l-3.2-1.1l-3.2-1l-3.2-1l-3.2-.9l-3.1-1l-3.2-.9l-3.2-.8l-3.2-.9l-3.2-.8l-3.2-.8l-3.2-.7l-3.2-.7l-3.2-.7l-3.2-.7l-3.2-.6l-3.2-.6l-3.2-.6l-3.2-.5l-3.2-.5l-3.2-.5l-3.2-.5l-3.2-.4l-3.2-.4l-3.2-.4l-3.2-.3l-3.3-.3l-3.2-.3l-3.2-.3l-3.2-.2l-3.2-.2l-3.1-.2l-3.2-.2l-3.2-.1l-3.2-.1l-3.2-.1l-3.2 0l-3.2 0M749 75.2l-3.2-1.5l-3.1-1.4l-3.1-1.4l-3.2-1.4l-3.1-1.4l-3.2-1.3l-3.1-1.3l-3.2-1.3l-3.2-1.2l-3.1-1.2l-3.2-1.1l-3.2-1.2l-3.1-1.1l-3.2-1l-3.2-1.1l-3.2-1l-3.2-.9l-3.2-1l-3.1-.9l-3.2-.9l-3.2-.8l-3.2-.8l-3.2-.8l-3.2-.8l-3.2-.7l-3.2-.7l-3.2-.7l-3.2-.6l-3.2-.6l-3.2-.6l-3.2-.5l-3.2-.6l-3.2-.5l-3.2-.4l-3.2-.5l-3.2-.4l-3.2-.4l-3.3-.3l-3.2-.3l-3.2-.3l-3.2-.3l-3.2-.3l-3.2-.2l-3.2-.2l-3.2-.1l-3.1-.2l-3.2-.1l-3.2-.1l-3.2 0l-3.2-.1M752.1 75.1l-3.1-1.5l-3.1-1.5l-3.2-1.4l-3.1-1.4l-3.2-1.4l-3.1-1.3l-3.2-1.3l-3.1-1.3l-3.2-1.2l-3.2-1.2l-3.1-1.2l-3.2-1.1l-3.2-1.1l-3.1-1.1l-3.2-1l-3.2-1.1l-3.2-.9l-3.2-1l-3.2-.9l-3.1-.9l-3.2-.8l-3.2-.9l-3.2-.8l-3.2-.7l-3.2-.8l-3.2-.7l-3.2-.7l-3.2-.6l-3.2-.6l-3.2-.6l-3.2-.6l-3.2-.5l-3.2-.5l-3.2-.5l-3.2-.4l-3.2-.5l-3.3-.4l-3.2-.3l-3.2-.4l-3.2-.3l-3.2-.2l-3.2-.3l-3.2-.2l-3.2-.2l-3.2-.2l-3.2-.2l-3.1-.1l-3.2-.1l-3.2 0l-3.2-.1M755.3 75l-3.2-1.5l-3.1-1.4l-3.1-1.5l-3.2-1.4l-3.1-1.4l-3.2-1.3l-3.1-1.3l-3.2-1.3l-3.1-1.2l-3.2-1.2l-3.2-1.2l-3.1-1.2l-3.2-1.1l-3.2-1.1l-3.1-1l-3.2-1l-3.2-1l-3.2-1l-3.2-.9l-3.2-.9l-3.2-.9l-3.1-.8l-3.2-.8l-3.2-.8l-3.2-.8l-3.2-.7l-3.2-.7l-3.2-.6l-3.2-.6l-3.2-.6l-3.2-.6l-3.2-.6l-3.2-.5l-3.2-.5l-3.2-.4l-3.2-.4l-3.3-.5l-3.2-.3l-3.2-.4l-3.2-.3l-3.2-.3l-3.2-.3l-3.2-.2l-3.2-.2l-3.2-.2l-3.2-.1l-3.2-.2l-3.1-.1l-3.2-.1l-3.2 0M758.4 75.1l-3.1-1.5l-3.2-1.5l-3.1-1.5l-3.1-1.4l-3.2-1.4l-3.1-1.3l-3.2-1.3l-3.1-1.3l-3.2-1.3l-3.1-1.2l-3.2-1.2l-3.2-1.1l-3.1-1.1l-3.2-1.1l-3.2-1.1l-3.1-1l-3.2-1l-3.2-1l-3.2-.9l-3.2-.9l-3.2-.9l-3.2-.9l-3.2-.8l-3.1-.8l-3.2-.7l-3.2-.8l-3.2-.7l-3.2-.6l-3.2-.7l-3.2-.6l-3.2-.6l-3.2-.5l-3.2-.5l-3.2-.5l-3.2-.5l-3.3-.4l-3.2-.5l-3.2-.3l-3.2-.4l-3.2-.3l-3.2-.3l-3.2-.3l-3.2-.3l-3.2-.2l-3.2-.2l-3.2-.1l-3.2-.2l-3.2-.1l-3.1-.1l-3.2-.1M761.5 75.2l-3.1-1.5l-3.1-1.5l-3.2-1.4l-3.1-1.5l-3.1-1.3l-3.2-1.4l-3.1-1.3l-3.2-1.3l-3.1-1.3l-3.2-1.2l-3.1-1.2l-3.2-1.2l-3.2-1.1l-3.1-1.1l-3.2-1.1l-3.2-1l-3.2-1l-3.1-1l-3.2-1l-3.2-.9l-3.2-.9l-3.2-.8l-3.2-.9l-3.2-.8l-3.2-.7l-3.2-.8l-3.2-.7l-3.1-.6l-3.2-.7l-3.2-.6l-3.2-.6l-3.2-.6l-3.3-.5l-3.2-.5l-3.2-.5l-3.2-.4l-3.2-.5l-3.2-.4l-3.2-.3l-3.2-.4l-3.2-.3l-3.2-.3l-3.2-.2l-3.2-.3l-3.2-.2l-3.2-.1l-3.2-.2l-3.2-.1l-3.1-.1l-3.2-.1M764.6 75.5l-3.1-1.5l-3.1-1.5l-3.1-1.5l-3.2-1.4l-3.1-1.4l-3.1-1.4l-3.2-1.3l-3.1-1.3l-3.2-1.3l-3.1-1.3l-3.2-1.2l-3.1-1.1l-3.2-1.2l-3.2-1.1l-3.1-1.1l-3.2-1l-3.2-1.1l-3.2-.9l-3.2-1l-3.1-.9l-3.2-.9l-3.2-.9l-3.2-.8l-3.2-.8l-3.2-.8l-3.2-.8l-3.2-.7l-3.2-.7l-3.2-.6l-3.2-.7l-3.2-.6l-3.2-.5l-3.2-.6l-3.2-.5l-3.2-.5l-3.2-.5l-3.2-.4l-3.2-.4l-3.2-.4l-3.2-.3l-3.2-.3l-3.2-.3l-3.2-.3l-3.2-.3l-3.2-.2l-3.2-.2l-3.2-.1l-3.2-.2l-3.2-.1l-3.1-.1M767.7 75.8l-3.1-1.5l-3.1-1.5l-3.1-1.5l-3.1-1.4l-3.2-1.4l-3.1-1.4l-3.1-1.4l-3.2-1.3l-3.1-1.3l-3.2-1.2l-3.1-1.2l-3.2-1.2l-3.2-1.2l-3.1-1.1l-3.2-1.1l-3.2-1l-3.1-1.1l-3.2-1l-3.2-.9l-3.2-1l-3.2-.9l-3.1-.9l-3.2-.8l-3.2-.8l-3.2-.8l-3.2-.8l-3.2-.7l-3.2-.7l-3.2-.7l-3.2-.6l-3.2-.6l-3.2-.6l-3.2-.6l-3.2-.5l-3.2-.5l-3.2-.5l-3.2-.4l-3.2-.4l-3.2-.4l-3.2-.4l-3.2-.3l-3.2-.3l-3.2-.3l-3.2-.3l-3.2-.2l-3.2-.2l-3.2-.2l-3.2-.1l-3.2-.1l-3.1-.1M770.8 76.3l-3.1-1.6l-3.1-1.5l-3.1-1.5l-3.1-1.4l-3.2-1.4l-3.1-1.4l-3.1-1.4l-3.2-1.3l-3.1-1.3l-3.2-1.3l-3.1-1.2l-3.2-1.2l-3.1-1.1l-3.2-1.2l-3.1-1.1l-3.2-1.1l-3.2-1l-3.2-1l-3.1-1l-3.2-.9l-3.2-.9l-3.2-.9l-3.2-.9l-3.1-.8l-3.2-.8l-3.2-.8l-3.2-.7l-3.2-.7l-3.2-.7l-3.2-.7l-3.2-.6l-3.2-.6l-3.2-.6l-3.2-.5l-3.2-.5l-3.2-.5l-3.2-.4l-3.2-.5l-3.2-.4l-3.2-.3l-3.2-.4l-3.2-.3l-3.2-.3l-3.2-.3l-3.2-.2l-3.2-.2l-3.2-.2l-3.2-.2l-3.2-.1l-3.2-.1M773.9 76.8l-3.1-1.5l-3.1-1.6l-3.1-1.5l-3.1-1.4l-3.1-1.4l-3.2-1.4l-3.1-1.4l-3.1-1.3l-3.2-1.3l-3.1-1.3l-3.2-1.3l-3.1-1.2l-3.2-1.1l-3.1-1.2l-3.2-1.1l-3.2-1.1l-3.1-1l-3.2-1l-3.2-1l-3.2-1l-3.1-.9l-3.2-.9l-3.2-.9l-3.2-.8l-3.2-.8l-3.2-.8l-3.1-.8l-3.2-.7l-3.2-.7l-3.2-.6l-3.2-.7l-3.2-.6l-3.2-.6l-3.2-.5l-3.2-.5l-3.2-.5l-3.2-.5l-3.2-.4l-3.2-.4l-3.2-.4l-3.2-.4l-3.2-.3l-3.2-.3l-3.2-.3l-3.2-.2l-3.2-.2l-3.2-.2l-3.2-.2l-3.2-.2l-3.2-.1M777 77.5l-3.1-1.6l-3.1-1.5l-3.1-1.5l-3.1-1.5l-3.2-1.5l-3.1-1.4l-3.1-1.3l-3.1-1.4l-3.2-1.3l-3.1-1.3l-3.2-1.2l-3.1-1.2l-3.2-1.2l-3.1-1.2l-3.2-1.1l-3.1-1.1l-3.2-1.1l-3.2-1l-3.1-1l-3.2-1l-3.2-.9l-3.2-.9l-3.1-.9l-3.2-.8l-3.2-.8l-3.2-.8l-3.2-.8l-3.2-.7l-3.2-.7l-3.2-.7l-3.1-.7l-3.2-.6l-3.2-.6l-3.2-.5l-3.2-.6l-3.2-.5l-3.2-.4l-3.2-.5l-3.2-.4l-3.2-.4l-3.2-.4l-3.2-.3l-3.2-.3l-3.2-.3l-3.2-.3l-3.2-.2l-3.2-.2l-3.2-.2l-3.2-.1M780.1 78.2l-3.1-1.6l-3.1-1.5l-3.1-1.5l-3.1-1.5l-3.2-1.5l-3.1-1.4l-3.1-1.4l-3.1-1.3l-3.2-1.4l-3.1-1.2l-3.1-1.3l-3.2-1.2l-3.1-1.2l-3.2-1.2l-3.1-1.1l-3.2-1.1l-3.2-1.1l-3.1-1l-3.2-1l-3.2-1l-3.1-1l-3.2-.9l-3.2-.9l-3.2-.8l-3.2-.9l-3.1-.8l-3.2-.7l-3.2-.8l-3.2-.7l-3.2-.7l-3.2-.6l-3.2-.7l-3.2-.6l-3.2-.5l-3.2-.6l-3.1-.5l-3.2-.5l-3.2-.4l-3.2-.5l-3.2-.4l-3.2-.4l-3.2-.3l-3.2-.3l-3.2-.3M783.1 79l-3.1-1.6l-3.1-1.5l-3.1-1.6l-3.1-1.4l-3.1-1.5l-3.1-1.4l-3.1-1.4l-3.1-1.4l-3.2-1.3l-3.1-1.3l-3.1-1.3l-3.2-1.2l-3.1-1.2l-3.2-1.2l-3.1-1.1l-3.2-1.2l-3.1-1l-3.2-1.1l-3.2-1l-3.1-1l-3.2-1l-3.2-.9l-3.2-.9l-3.1-.9l-3.2-.8l-3.2-.8l-3.2-.8l-3.2-.8l-3.1-.7l-3.2-.7l-3.2-.6l-3.2-.7l-3.2-.6l-3.2-.6l-3.2-.5l-3.2-.6l-3.2-.5l-3.2-.4l-3.2-.5M786.2 79.9l-3.1-1.6l-3.1-1.5l-3.1-1.6l-3.1-1.5l-3.1-1.4l-3.1-1.5l-3.2-1.4l-3.1-1.4l-3.1-1.3l-3.1-1.3l-3.2-1.3l-3.1-1.2l-3.1-1.2l-3.2-1.2l-3.1-1.2l-3.2-1.1l-3.1-1.1l-3.2-1.1l-3.1-1l-3.2-1l-3.2-1l-3.1-.9l-3.2-.9l-3.2-.9l-3.2-.9l-3.1-.8l-3.2-.8l-3.2-.7l-3.2-.8l-3.2-.7l-3.2-.7l-3.1-.6l-3.2-.6l-3.2-.6M628.3 162.3l3.1-4.5l3.1-4.4l3.1-4.3l3.2-4.1l3.1-4l3.1-3.9l3.2-3.7l3.1-3.6l3.2-3.5l3.2-3.4l3.1-3.3l3.2-3.1l3.2-3l3.2-2.9l3.2-2.8l3.2-2.6l3.2-2.6l3.2-2.4l3.2-2.3l3.2-2.2l3.2-2l3.2-2l3.2-1.8l3.2-1.8l3.2-1.6l3.2-1.5l3.2-1.4l3.2-1.3l3.2-1.2l3.2-1.1l3.2-.9l3.2-.9l3.2-.7l3.1-.7l3.2-.6l3.2-.4l3.1-.3l3.2-.3l3.1-.1l3.2-.1l3.1 .1l3.1 .1l3.1 .3l3.1 .3l3.1 .5l3.1 .5l3.1 .7l3.1 .7l3 .8l3.1 .9M625.2 161l3.1-4.5l3.1-4.4l3.1-4.3l3.1-4.1l3.2-4l3.1-3.9l3.1-3.7l3.2-3.6l3.2-3.5l3.1-3.4l3.2-3.3l3.2-3.1l3.2-3l3.1-2.9l3.2-2.8l3.2-2.7l3.2-2.5l3.2-2.4l3.2-2.3l3.2-2.2l3.2-2.1l3.2-2l3.2-1.8l3.2-1.8l3.2-1.6l3.2-1.5l3.3-1.4l3.2-1.3l3.1-1.2l3.2-1.1l3.2-1l3.2-.8l3.2-.8l3.2-.7l3.2-.5l3.1-.5l3.2-.3l3.1-.3l3.2-.1l3.1-.1l3.2 .1l3.1 .1l3.1 .3l3.1 .3l3.1 .4l3.1 .6l3.1 .6l3.1 .7l3 .8l3.1 .9M622.1 159.7l3.1-4.5l3.1-4.4l3.1-4.2l3.1-4.1l3.1-4l3.2-3.9l3.1-3.8l3.2-3.6l3.1-3.5l3.2-3.4l3.2-3.3l3.1-3.1l3.2-3l3.2-2.9l3.2-2.8l3.2-2.7l3.2-2.5l3.2-2.4l3.2-2.3l3.2-2.2l3.2-2.1l3.2-2l3.2-1.9l3.2-1.7l3.2-1.6l3.2-1.6l3.2-1.4l3.2-1.3l3.2-1.2l3.2-1.1l3.2-1l3.2-.8l3.2-.8l3.1-.7l3.2-.5l3.2-.5l3.2-.4l3.1-.2l3.2-.2l3.1 0l3.1 0l3.2 .1l3.1 .3l3.1 .3l3.1 .4l3.1 .5l3.1 .7l3.1 .7l3 .8l3.1 .9M619 158.5l3.1-4.5l3.1-4.4l3.1-4.2l3.1-4.2l3.1-4l3.1-3.8l3.2-3.8l3.1-3.6l3.2-3.5l3.1-3.4l3.2-3.3l3.2-3.1l3.2-3.1l3.1-2.9l3.2-2.7l3.2-2.7l3.2-2.6l3.2-2.4l3.2-2.3l3.2-2.2l3.2-2.1l3.2-2l3.2-1.9l3.2-1.7l3.2-1.7l3.2-1.5l3.2-1.4l3.2-1.3l3.2-1.2l3.2-1.1l3.2-1l3.2-.9l3.2-.8l3.2-.7l3.2-.5l3.1-.5l3.2-.4l3.2-.2l3.1-.2l3.2-.1l3.1 0l3.1 .2l3.2 .2l3.1 .3l3.1 .4l3.1 .5l3.1 .7l3.1 .7l3 .7l3.1 .9M615.9 157.4l3-4.6l3.1-4.3l3.1-4.3l3.1-4.1l3.2-4l3.1-3.9l3.1-3.8l3.2-3.6l3.1-3.5l3.2-3.4l3.2-3.3l3.1-3.1l3.2-3.1l3.2-2.9l3.2-2.8l3.2-2.6l3.2-2.6l3.1-2.4l3.2-2.4l3.2-2.2l3.2-2.1l3.3-2l3.2-1.8l3.2-1.8l3.2-1.6l3.2-1.6l3.2-1.4l3.2-1.3l3.2-1.2l3.2-1.1l3.2-1l3.2-.9l3.2-.8l3.1-.7l3.2-.6l3.2-.5l3.2-.4l3.1-.2l3.2-.2l3.1-.1l3.2 0l3.1 .1l3.1 .3l3.2 .3l3.1 .4l3.1 .5l3.1 .6l3.1 .7l3 .8l3.1 .8M612.7 156.2l3.1-4.5l3.1-4.4l3.1-4.2l3.1-4.2l3.1-4l3.2-3.9l3.1-3.7l3.1-3.7l3.2-3.5l3.1-3.4l3.2-3.3l3.2-3.1l3.2-3l3.1-3l3.2-2.8l3.2-2.6l3.2-2.6l3.2-2.4l3.2-2.4l3.2-2.2l3.2-2.1l3.2-2l3.2-1.9l3.2-1.7l3.2-1.7l3.2-1.5l3.2-1.5l3.2-1.3l3.2-1.2l3.2-1.1l3.2-1l3.2-.9l3.2-.8l3.2-.7l3.2-.6l3.1-.5l3.2-.4l3.2-.3l3.1-.2l3.2-.1l3.1 0l3.2 .2l3.1 .2l3.1 .3l3.1 .4l3.2 .5l3 .5l3.1 .7l3.1 .8l3.1 .9M609.6 155.1l3.1-4.5l3.1-4.4l3.1-4.3l3.1-4.1l3.1-4l3.1-3.9l3.2-3.8l3.1-3.6l3.1-3.5l3.2-3.4l3.2-3.3l3.1-3.2l3.2-3l3.2-2.9l3.2-2.8l3.1-2.7l3.2-2.6l3.2-2.4l3.2-2.3l3.2-2.3l3.2-2.1l3.2-2l3.2-1.9l3.2-1.7l3.2-1.7l3.2-1.6l3.2-1.4l3.2-1.3l3.2-1.3l3.2-1.1l3.2-1l3.2-.9l3.2-.8l3.2-.7l3.2-.6l3.2-.5l3.2-.4l3.1-.3l3.2-.2l3.1-.1l3.2 0l3.1 .1l3.2 .2l3.1 .3l3.1 .4l3.1 .5l3.1 .5l3.1 .7l3.1 .8l3.1 .8M606.5 154l3.1-4.5l3.1-4.4l3.1-4.2l3.1-4.2l3.1-4l3.1-3.9l3.1-3.7l3.2-3.7l3.1-3.5l3.1-3.4l3.2-3.3l3.2-3.2l3.1-3l3.2-2.9l3.2-2.8l3.2-2.7l3.2-2.6l3.2-2.4l3.2-2.4l3.1-2.2l3.2-2.1l3.3-2l3.2-1.9l3.2-1.8l3.2-1.7l3.2-1.5l3.2-1.5l3.2-1.3l3.2-1.3l3.2-1.1l3.2-1l3.2-1l3.2-.8l3.2-.7l3.1-.6l3.2-.5l3.2-.4l3.2-.3l3.1-.2l3.2-.1l3.1 0l3.2 .1l3.1 .2l3.2 .2l3.1 .4l3.1 .5l3.1 .6l3.1 .6l3.1 .8l3 .8M603.4 153l3.1-4.5l3-4.4l3.1-4.3l3.1-4.1l3.1-4l3.2-3.9l3.1-3.8l3.1-3.6l3.1-3.6l3.2-3.4l3.2-3.3l3.1-3.1l3.2-3.1l3.2-2.9l3.1-2.8l3.2-2.7l3.2-2.6l3.2-2.5l3.2-2.3l3.2-2.2l3.2-2.2l3.2-2l3.2-1.9l3.2-1.8l3.2-1.6l3.2-1.6l3.2-1.5l3.2-1.3l3.2-1.3l3.2-1.1l3.2-1l3.2-1l3.2-.8l3.2-.7l3.2-.6l3.2-.5l3.1-.4l3.2-.4l3.2-.2l3.1-.1l3.2 0l3.1 .1l3.2 .2l3.1 .2l3.1 .4l3.2 .5l3.1 .5l3.1 .7l3.1 .7l3 .8M600.3 152l3-4.5l3.1-4.4l3.1-4.3l3.1-4.1l3.1-4l3.1-3.9l3.1-3.8l3.2-3.7l3.1-3.5l3.1-3.4l3.2-3.3l3.2-3.2l3.1-3l3.2-3l3.2-2.8l3.1-2.7l3.2-2.6l3.2-2.4l3.2-2.4l3.2-2.2l3.2-2.1l3.2-2.1l3.2-1.9l3.2-1.8l3.2-1.6l3.2-1.6l3.2-1.5l3.2-1.3l3.2-1.3l3.2-1.1l3.2-1.1l3.2-.9l3.2-.9l3.2-.7l3.2-.6l3.2-.5l3.2-.5l3.1-.3l3.2-.2l3.2-.1l3.1-.1l3.2 .1l3.1 .2l3.2 .2l3.1 .4l3.1 .5l3.1 .5l3.1 .6l3.1 .8l3.1 .8M597.2 151l3-4.5l3.1-4.4l3.1-4.3l3.1-4.1l3.1-4l3.1-3.9l3.1-3.8l3.1-3.7l3.2-3.5l3.1-3.4l3.1-3.3l3.2-3.2l3.2-3l3.1-3l3.2-2.8l3.2-2.7l3.2-2.6l3.1-2.5l3.2-2.3l3.2-2.3l3.2-2.1l3.2-2l3.2-1.9l3.2-1.8l3.2-1.7l3.2-1.6l3.2-1.5l3.2-1.4l3.3-1.2l3.2-1.2l3.2-1l3.2-1l3.1-.8l3.2-.7l3.2-.7l3.2-.5l3.2-.4l3.2-.4l3.1-.2l3.2-.1l3.2-.1l3.1 .1l3.2 .1l3.1 .3l3.1 .3l3.2 .5l3.1 .5l3.1 .7l3.1 .7l3.1 .8M594.1 150.1l3-4.5l3.1-4.4l3-4.3l3.1-4.1l3.1-4.1l3.1-3.9l3.1-3.8l3.2-3.6l3.1-3.5l3.1-3.5l3.2-3.3l3.1-3.1l3.2-3.1l3.2-2.9l3.1-2.9l3.2-2.7l3.2-2.6l3.2-2.5l3.2-2.3l3.2-2.3l3.2-2.1l3.2-2.1l3.2-1.9l3.2-1.8l3.2-1.7l3.2-1.6l3.2-1.5l3.2-1.3l3.2-1.3l3.2-1.2l3.2-1l3.2-1l3.2-.8l3.2-.8l3.2-.6l3.1-.6l3.2-.4l3.2-.3l3.2-.3l3.1-.1l3.2-.1l3.2 .1l3.1 .1l3.2 .3l3.1 .3l3.1 .4l3.1 .6l3.2 .6l3.1 .7l3 .8M590.9 149.2l3.1-4.5l3-4.4l3.1-4.3l3.1-4.2l3.1-4l3.1-3.9l3.1-3.8l3.1-3.6l3.2-3.6l3.1-3.4l3.1-3.3l3.2-3.2l3.1-3l3.2-3l3.2-2.8l3.1-2.7l3.2-2.6l3.2-2.5l3.2-2.4l3.2-2.3l3.2-2.1l3.2-2l3.2-2l3.2-1.8l3.2-1.7l3.2-1.6l3.2-1.5l3.2-1.4l3.2-1.2l3.2-1.2l3.2-1.1l3.2-.9l3.2-.9l3.2-.8l3.2-.6l3.2-.6l3.2-.4l3.1-.4l3.2-.2l3.2-.2l3.1 0l3.2 0l3.2 .2l3.1 .2l3.1 .3l3.2 .4l3.1 .6l3.1 .6l3.1 .7l3.1 .8M587.8 148.3l3.1-4.5l3-4.4l3.1-4.3l3.1-4.1l3.1-4.1l3.1-3.9l3.1-3.8l3.1-3.6l3.1-3.6l3.1-3.4l3.2-3.3l3.1-3.2l3.2-3.1l3.1-2.9l3.2-2.8l3.2-2.8l3.1-2.6l3.2-2.5l3.2-2.3l3.2-2.3l3.2-2.2l3.2-2l3.2-1.9l3.2-1.9l3.2-1.7l3.2-1.6l3.2-1.5l3.2-1.4l3.2-1.3l3.2-1.1l3.2-1.1l3.2-1l3.2-.9l3.2-.7l3.2-.7l3.2-.5l3.2-.5l3.2-.4l3.1-.2l3.2-.2l3.2 0l3.1 0l3.2 .1l3.1 .2l3.2 .4l3.1 .4l3.1 .5l3.2 .6l3.1 .7l3.1 .8M584.7 147.5l3.1-4.5l3-4.4l3.1-4.3l3-4.2l3.1-4l3.1-3.9l3.1-3.8l3.1-3.7l3.1-3.5l3.2-3.5l3.1-3.3l3.2-3.2l3.1-3l3.2-3l3.1-2.8l3.2-2.8l3.2-2.6l3.2-2.5l3.1-2.4l3.2-2.2l3.2-2.2l3.2-2l3.2-2l3.2-1.8l3.2-1.7l3.2-1.7l3.2-1.5l3.2-1.4l3.2-1.2l3.2-1.2l3.2-1.1l3.2-1l3.2-.9l3.2-.7l3.2-.7l3.2-.6l3.2-.5l3.2-.3l3.2-.3l3.1-.2l3.2 0l3.2 0l3.1 .1l3.2 .2l3.1 .3l3.2 .4l3.1 .5l3.1 .6l3.1 .7l3.1 .8M581.6 146.7l3-4.5l3.1-4.5l3-4.2l3.1-4.2l3.1-4l3.1-3.9l3.1-3.8l3.1-3.7l3.1-3.6l3.1-3.4l3.2-3.3l3.1-3.2l3.1-3.1l3.2-2.9l3.2-2.9l3.1-2.7l3.2-2.6l3.2-2.5l3.2-2.4l3.1-2.3l3.2-2.2l3.2-2l3.2-2l3.2-1.8l3.2-1.8l3.2-1.6l3.2-1.5l3.2-1.4l3.2-1.3l3.2-1.2l3.2-1.1l3.2-1l3.2-.9l3.2-.7l3.2-.7l3.2-.6l3.2-.5l3.2-.4l3.2-.2l3.2-.2l3.1-.1l3.2 0l3.2 .1l3.1 .2l3.2 .3l3.1 .4l3.1 .5l3.2 .6l3.1 .7l3.1 .7M578.5 145.9l3-4.5l3.1-4.4l3-4.3l3.1-4.2l3-4l3.1-3.9l3.1-3.8l3.1-3.7l3.1-3.6l3.2-3.4l3.1-3.3l3.1-3.2l3.2-3.1l3.1-3l3.2-2.8l3.2-2.8l3.1-2.6l3.2-2.5l3.2-2.4l3.2-2.3l3.2-2.2l3.1-2l3.2-2l3.2-1.8l3.2-1.7l3.2-1.7l3.2-1.5l3.2-1.4l3.2-1.3l3.2-1.2l3.3-1.1l3.2-1l3.2-.9l3.2-.8l3.1-.7l3.2-.6l3.2-.5l3.2-.4l3.2-.3l3.2-.1l3.2-.1l3.1 0l3.2 .1l3.1 .2l3.2 .2l3.1 .4l3.2 .5l3.1 .6l3.1 .6l3.1 .8M575.4 145.2l3-4.6l3-4.4l3.1-4.3l3-4.1l3.1-4.1l3.1-3.9l3.1-3.8l3.1-3.7l3.1-3.5l3.1-3.5l3.1-3.3l3.2-3.2l3.1-3.1l3.2-3l3.1-2.8l3.2-2.8l3.1-2.6l3.2-2.5l3.2-2.4l3.2-2.3l3.2-2.2l3.2-2.1l3.2-1.9l3.1-1.9l3.2-1.7l3.2-1.6l3.2-1.6l3.3-1.4l3.2-1.3l3.2-1.2l3.2-1.1l3.2-1l3.2-.9l3.2-.8l3.2-.7l3.2-.6l3.1-.5l3.2-.4l3.2-.3l3.2-.2l3.2-.1l3.1 0l3.2 0l3.2 .2l3.1 .3l3.2 .4l3.1 .4l3.1 .6l3.2 .7l3.1 .7M572.3 144.5l3-4.6l3-4.4l3.1-4.3l3-4.1l3.1-4.1l3.1-3.9l3-3.8l3.1-3.7l3.1-3.6l3.2-3.4l3.1-3.3l3.1-3.2l3.1-3.1l3.2-3l3.1-2.9l3.2-2.7l3.2-2.7l3.1-2.5l3.2-2.4l3.2-2.3l3.2-2.2l3.2-2.1l3.2-1.9l3.2-1.9l3.2-1.7l3.2-1.7l3.2-1.5l3.2-1.4l3.2-1.4l3.2-1.2l3.2-1.1l3.2-1l3.2-.9l3.2-.8l3.2-.8l3.2-.6l3.2-.5l3.1-.4l3.2-.3l3.2-.2l3.2-.1l3.2 0l3.1 .1l3.2 .1l3.1 .3l3.2 .4l3.1 .4l3.2 .6l3.1 .6l3.1 .7M569.2 143.8l3-4.6l3-4.4l3-4.3l3.1-4.1l3-4.1l3.1-3.9l3.1-3.8l3.1-3.7l3.1-3.6l3.1-3.4l3.1-3.3l3.1-3.3l3.2-3.1l3.1-2.9l3.2-2.9l3.1-2.8l3.2-2.6l3.2-2.5l3.1-2.4l3.2-2.4l3.2-2.1l3.2-2.1l3.2-2l3.2-1.9l3.2-1.7l3.2-1.7l3.2-1.5l3.2-1.5l3.2-1.3l3.2-1.2l3.2-1.2l3.2-1l3.2-.9l3.2-.8l3.2-.7l3.2-.6l3.2-.6l3.2-.4l3.1-.3l3.2-.2l3.2-.1l3.2-.1l3.1 .1l3.2 .2l3.2 .2l3.1 .4l3.2 .4l3.1 .6l3.1 .6l3.2 .7M566 143.1l3.1-4.5l3-4.4l3-4.3l3-4.2l3.1-4l3.1-4l3.1-3.8l3-3.7l3.1-3.5l3.1-3.5l3.2-3.3l3.1-3.2l3.1-3.1l3.2-3l3.1-2.9l3.2-2.8l3.1-2.6l3.2-2.5l3.2-2.5l3.1-2.3l3.2-2.2l3.2-2.1l3.2-2l3.2-1.8l3.2-1.8l3.2-1.7l3.2-1.5l3.2-1.5l3.2-1.3l3.2-1.2l3.2-1.2l3.2-1l3.2-.9l3.2-.9l3.2-.7l3.2-.6l3.2-.5l3.2-.5l3.2-.3l3.1-.2l3.2-.1l3.2-.1l3.2 .1l3.1 .1l3.2 .3l3.1 .3l3.2 .4l3.1 .6l3.2 .6l3.1 .7M562.9 142.5l3-4.5l3.1-4.4l3-4.3l3-4.2l3.1-4.1l3-3.9l3.1-3.8l3.1-3.7l3.1-3.6l3.1-3.4l3.1-3.4l3.1-3.2l3.2-3.1l3.1-3l3.1-2.9l3.2-2.7l3.1-2.7l3.2-2.5l3.2-2.5l3.1-2.3l3.2-2.2l3.2-2.1l3.2-2l3.2-1.9l3.2-1.7l3.2-1.7l3.2-1.6l3.2-1.4l3.2-1.4l3.2-1.2l3.2-1.2l3.2-1l3.2-.9l3.2-.9l3.2-.7l3.2-.6l3.2-.6l3.2-.4l3.2-.3l3.1-.3l3.2-.1l3.2-.1l3.2 .1l3.1 .1l3.2 .3l3.2 .3l3.1 .4l3.2 .5l3.1 .6l3.1 .7M559.8 141.9l3-4.5l3-4.4l3.1-4.3l3-4.2l3-4.1l3.1-3.9l3.1-3.8l3-3.7l3.1-3.6l3.1-3.4l3.1-3.4l3.2-3.2l3.1-3.1l3.1-3l3.2-2.9l3.1-2.8l3.2-2.6l3.1-2.6l3.2-2.4l3.2-2.3l3.1-2.3l3.2-2.1l3.2-2l3.2-1.9l3.2-1.7l3.2-1.7l3.2-1.6l3.2-1.4l3.2-1.4l3.2-1.3l3.2-1.1l3.2-1.1l3.2-.9l3.2-.8l3.2-.8l3.2-.6l3.2-.6l3.2-.4l3.2-.4l3.2-.2l3.1-.2l3.2 0l3.2 0l3.2 .1l3.1 .3l3.2 .3l3.1 .4l3.2 .5l3.1 .6l3.2 .7M556.7 141.4l3-4.6l3-4.4l3-4.3l3.1-4.2l3-4l3.1-4l3-3.8l3.1-3.7l3.1-3.6l3.1-3.4l3.1-3.4l3.1-3.2l3.1-3.1l3.2-3l3.1-2.9l3.1-2.8l3.2-2.7l3.1-2.5l3.2-2.5l3.2-2.3l3.2-2.2l3.1-2.1l3.2-2l3.2-1.9l3.2-1.8l3.2-1.7l3.2-1.6l3.2-1.4l3.2-1.4l3.2-1.3l3.2-1.1l3.2-1.1l3.2-.9l3.2-.9l3.2-.7l3.2-.7l3.2-.6l3.2-.4l3.2-.4l3.2-.2l3.1-.2l3.2-.1l3.2 .1l3.2 .1l3.1 .2l3.2 .3l3.2 .4l3.1 .5l3.1 .6l3.2 .7M553.6 140.9l3-4.6l3-4.4l3-4.3l3-4.2l3.1-4.1l3-3.9l3.1-3.8l3.1-3.7l3-3.6l3.1-3.5l3.1-3.3l3.1-3.3l3.2-3.1l3.1-3l3.1-2.9l3.2-2.8l3.1-2.6l3.2-2.6l3.1-2.5l3.2-2.3l3.2-2.2l3.1-2.1l3.2-2l3.2-2l3.2-1.7l3.2-1.7l3.2-1.6l3.2-1.5l3.2-1.4l3.2-1.3l3.2-1.1l3.2-1.1l3.2-.9l3.2-.9l3.2-.8l3.2-.6l3.2-.6l3.2-.5l3.2-.3l3.2-.3l3.2-.2l3.1-.1l3.2 .1l3.2 .1l3.2 .2l3.1 .3l3.2 .4l3.1 .5l3.2 .5l3.1 .7M550.5 140.4l3-4.6l3-4.4l3-4.3l3-4.2l3.1-4.1l3-3.9l3.1-3.8l3-3.7l3.1-3.6l3.1-3.5l3.1-3.4l3.1-3.2l3.1-3.1l3.1-3l3.2-2.9l3.1-2.8l3.1-2.7l3.2-2.6l3.1-2.4l3.2-2.4l3.2-2.2l3.2-2.1l3.1-2l3.2-2l3.2-1.8l3.2-1.7l3.2-1.6l3.2-1.4l3.2-1.4l3.2-1.3l3.2-1.2l3.2-1.1l3.2-.9l3.2-.9l3.2-.8l3.2-.6l3.2-.6l3.2-.5l3.2-.4l3.2-.3l3.2-.1l3.1-.1l3.2 0l3.2 .1l3.2 .2l3.1 .3l3.2 .4l3.1 .4l3.2 .6l3.1 .6M547.4 139.9l3-4.6l3-4.4l3-4.3l3-4.2l3-4l3.1-4l3-3.8l3.1-3.7l3-3.6l3.1-3.5l3.1-3.3l3.1-3.3l3.1-3.1l3.2-3l3.1-3l3.1-2.7l3.2-2.7l3.1-2.6l3.2-2.5l3.1-2.3l3.2-2.3l3.2-2.1l3.1-2l3.2-1.9l3.2-1.8l3.2-1.8l3.2-1.6l3.2-1.4l3.2-1.4l3.2-1.3l3.2-1.2l3.2-1.1l3.2-1l3.2-.9l3.2-.7l3.2-.7l3.2-.6l3.2-.5l3.2-.4l3.2-.3l3.2-.2l3.1-.1l3.2 0l3.2 .1l3.2 .2l3.1 .3l3.2 .4l3.2 .4l3.1 .6l3.2 .6M544.3 139.5l3-4.6l3-4.4l3-4.3l3-4.2l3-4.1l3-3.9l3.1-3.9l3-3.7l3.1-3.6l3.1-3.4l3.1-3.4l3.1-3.3l3.1-3.1l3.1-3l3.1-2.9l3.1-2.8l3.2-2.7l3.1-2.6l3.2-2.5l3.1-2.3l3.2-2.3l3.2-2.1l3.2-2.1l3.1-1.9l3.2-1.8l3.2-1.7l3.2-1.6l3.2-1.5l3.2-1.4l3.2-1.3l3.2-1.2l3.2-1.1l3.2-1l3.2-.9l3.2-.8l3.2-.7l3.2-.6l3.2-.5l3.2-.4l3.2-.3l3.2-.2l3.1-.1l3.2 0l3.2 .1l3.2 .2l3.2 .2l3.1 .4l3.2 .5l3.1 .5l3.2 .6M541.2 139.1l3-4.6l3-4.4l3-4.3l3-4.2l3-4.1l3-3.9l3-3.9l3.1-3.7l3.1-3.6l3-3.5l3.1-3.4l3.1-3.2l3.1-3.2l3.1-3l3.1-2.9l3.2-2.8l3.1-2.7l3.2-2.6l3.1-2.5l3.2-2.3l3.1-2.3l3.2-2.1l3.2-2.1l3.1-1.9l3.2-1.8l3.2-1.7l3.2-1.7l3.2-1.5l3.2-1.4l3.2-1.3l3.2-1.2l3.2-1.1l3.2-1l3.2-.9l3.2-.8l3.2-.7l3.2-.6l3.2-.5l3.2-.4l3.2-.3l3.2-.2l3.2-.1l3.1-.1l3.2 .1l3.2 .2l3.2 .2l3.1 .4l3.2 .4l3.1 .5l3.2 .7M538.1 138.7l3-4.6l3-4.4l2.9-4.3l3-4.2l3.1-4.1l3-3.9l3-3.9l3.1-3.7l3-3.6l3.1-3.5l3.1-3.4l3.1-3.2l3.1-3.2l3.1-3l3.1-2.9l3.1-2.8l3.1-2.7l3.2-2.6l3.1-2.5l3.2-2.4l3.1-2.2l3.2-2.2l3.2-2l3.2-2l3.1-1.8l3.2-1.7l3.2-1.7l3.2-1.5l3.2-1.4l3.2-1.3l3.2-1.2l3.2-1.1l3.2-1.1l3.2-.9l3.2-.8l3.2-.7l3.2-.6l3.2-.5l3.2-.4l3.2-.3l3.2-.3l3.2-.1l3.1 0l3.2 0l3.2 .2l3.2 .2l3.1 .4l3.2 .4l3.2 .5l3.1 .6M535 138.3l3-4.5l3-4.5l2.9-4.3l3-4.2l3-4l3.1-4l3-3.8l3-3.8l3.1-3.6l3-3.5l3.1-3.3l3.1-3.3l3.1-3.2l3.1-3l3.1-2.9l3.1-2.8l3.2-2.7l3.1-2.6l3.2-2.5l3.1-2.4l3.2-2.3l3.1-2.1l3.2-2.1l3.2-1.9l3.1-1.9l3.2-1.7l3.2-1.7l3.2-1.5l3.2-1.4l3.2-1.3l3.2-1.2l3.2-1.2l3.2-1l3.2-.9l3.2-.8l3.2-.7l3.2-.7l3.2-.5l3.2-.4l3.2-.3l3.2-.3l3.2-.1l3.1-.1l3.2 .1l3.2 .1l3.2 .3l3.1 .3l3.2 .4l3.2 .5l3.1 .6M532 138l2.9-4.5l3-4.5l2.9-4.3l3-4.2l3-4.1l3-3.9l3.1-3.9l3-3.7l3-3.6l3.1-3.5l3.1-3.4l3.1-3.3l3-3.1l3.1-3.1l3.2-2.9l3.1-2.8l3.1-2.7l3.1-2.6l3.2-2.5l3.1-2.4l3.2-2.3l3.1-2.2l3.2-2l3.2-2l3.2-1.8l3.1-1.8l3.2-1.6l3.2-1.5l3.2-1.5l3.2-1.3l3.2-1.2l3.2-1.2l3.2-1l3.2-.9l3.2-.8l3.2-.8l3.2-.6l3.2-.5l3.2-.5l3.2-.3l3.2-.3l3.2-.1l3.1-.1l3.2 .1l3.2 .1l3.2 .2l3.2 .3l3.1 .5l3.2 .5l3.1 .5M528.9 137.7l2.9-4.5l3-4.5l2.9-4.3l3-4.2l3-4.1l3-3.9l3-3.9l3.1-3.7l3-3.6l3.1-3.5l3-3.4l3.1-3.3l3.1-3.1l3.1-3.1l3.1-2.9l3.1-2.9l3.1-2.7l3.2-2.6l3.1-2.5l3.1-2.4l3.2-2.3l3.2-2.1l3.1-2.1l3.2-2l3.2-1.8l3.1-1.8l3.2-1.6l3.2-1.6l3.2-1.4l3.2-1.4l3.2-1.2l3.2-1.1l3.2-1.1l3.2-.9l3.2-.8l3.2-.8l3.2-.6l3.2-.6l3.2-.4l3.2-.4l3.2-.2l3.2-.2l3.1 0l3.2 0l3.2 .1l3.2 .2l3.2 .3l3.1 .4l3.2 .5l3.2 .6M525.8 137.5l2.9-4.6l3-4.4l2.9-4.4l3-4.2l3-4l3-4l3-3.9l3-3.7l3.1-3.6l3-3.5l3.1-3.4l3.1-3.3l3-3.1l3.1-3.1l3.1-2.9l3.1-2.9l3.2-2.7l3.1-2.6l3.1-2.5l3.2-2.4l3.1-2.3l3.2-2.2l3.1-2.1l3.2-1.9l3.2-1.9l3.1-1.8l3.2-1.6l3.2-1.6l3.2-1.4l3.2-1.4l3.2-1.2l3.2-1.2l3.2-1l3.2-1l3.2-.8l3.2-.8l3.2-.6l3.2-.6l3.2-.4l3.2-.4l3.2-.2l3.1-.2l3.2-.1l3.2 0l3.2 .1l3.2 .2l3.2 .3l3.1 .4l3.2 .5l3.2 .6M522.7 137.2l2.9-4.5l3-4.5l2.9-4.3l3-4.2l3-4.1l3-3.9l3-3.9l3-3.7l3-3.7l3.1-3.5l3-3.4l3.1-3.3l3.1-3.1l3.1-3.1l3.1-2.9l3.1-2.9l3.1-2.7l3.1-2.6l3.1-2.5l3.2-2.4l3.1-2.3l3.2-2.2l3.1-2.1l3.2-2l3.2-1.9l3.2-1.7l3.1-1.7l3.2-1.5l3.2-1.5l3.2-1.4l3.2-1.2l3.2-1.2l3.2-1l3.2-1l3.2-.8l3.2-.8l3.2-.7l3.2-.5l3.2-.5l3.2-.4l3.2-.2l3.1-.2l3.2-.1l3.2 0l3.2 .1l3.2 .2l3.2 .3l3.1 .4l3.2 .4l3.2 .6M519.6 137l2.9-4.5l3-4.5l2.9-4.3l3-4.2l3-4.1l3-4l3-3.8l3-3.8l3-3.6l3-3.5l3.1-3.4l3.1-3.3l3-3.2l3.1-3l3.1-3l3.1-2.8l3.1-2.8l3.1-2.6l3.2-2.5l3.1-2.4l3.2-2.3l3.1-2.2l3.2-2.1l3.1-2l3.2-1.9l3.2-1.8l3.1-1.6l3.2-1.6l3.2-1.5l3.2-1.3l3.2-1.3l3.2-1.2l3.2-1l3.2-1l3.2-.9l3.2-.7l3.2-.7l3.2-.6l3.2-.4l3.2-.4l3.2-.3l3.1-.2l3.2-.1l3.2 0l3.2 .1l3.2 .2l3.2 .2l3.1 .4l3.2 .5M516.5 136.8l3-4.5l2.9-4.5l2.9-4.3l3-4.2l3-4.1l2.9-4l3-3.8l3.1-3.8l3-3.6l3-3.5l3.1-3.4l3-3.3l3.1-3.2l3.1-3.1l3.1-2.9l3.1-2.9l3.1-2.7l3.1-2.6l3.1-2.6l3.1-2.4l3.2-2.3l3.1-2.2l3.2-2.1l3.1-2l3.2-1.9l3.2-1.8l3.1-1.6l3.2-1.6l3.2-1.5l3.2-1.4l3.2-1.2l3.2-1.2l3.2-1.1l3.2-1l3.2-.8l3.2-.8l3.2-.7l3.2-.6l3.2-.5l3.2-.3l3.1-.3l3.2-.2l3.2-.2l3.2 0l3.2 .1l3.2 .2l3.2 .2l3.2 .4l3.1 .4M513.5 136.7l2.9-4.6l2.9-4.4l2.9-4.3l3-4.2l3-4.1l2.9-4l3-3.9l3-3.7l3.1-3.7l3-3.5l3-3.4l3.1-3.3l3-3.2l3.1-3.1l3.1-2.9l3.1-2.9l3.1-2.7l3.1-2.7l3.1-2.5l3.2-2.4l3.1-2.3l3.1-2.2l3.2-2.1l3.2-2l3.1-1.9l3.2-1.8l3.2-1.7l3.1-1.6l3.2-1.5l3.2-1.4l3.2-1.3l3.2-1.1l3.2-1.1l3.2-1l3.2-.9l3.2-.8l3.2-.7l3.2-.6l3.1-.5l3.2-.4l3.2-.3l3.2-.2l3.2-.1l3.2 0l3.2 .1l3.2 .1l3.2 .3l3.2 .3l3.1 .4M510.4 136.6l2.9-4.6l2.9-4.4l3-4.4l2.9-4.2l3-4.1l2.9-4l3-3.8l3-3.8l3-3.6l3.1-3.5l3-3.4l3-3.3l3.1-3.2l3.1-3.1l3.1-3l3-2.9l3.1-2.7l3.2-2.6l3.1-2.6l3.1-2.4l3.1-2.3l3.2-2.3l3.1-2.1l3.2-2l3.1-1.9l3.2-1.8l3.2-1.7l3.1-1.6l3.2-1.5l3.2-1.4l3.2-1.2l3.2-1.2l3.2-1.1l3.2-1l3.2-.9l3.2-.8l3.2-.7l3.1-.6l3.2-.5l3.2-.4l3.2-.3l3.2-.3l3.2-.1l3.2 0l3.2 0l3.2 .2l3.2 .2l3.2 .4l3.1 .4M507.3 136.5l2.9-4.6l2.9-4.4l3-4.4l2.9-4.2l3-4.1l2.9-4l3-3.8l3-3.8l3-3.6l3-3.6l3.1-3.4l3-3.3l3.1-3.2l3-3.1l3.1-2.9l3.1-2.9l3.1-2.8l3.1-2.6l3.1-2.6l3.1-2.4l3.2-2.3l3.1-2.2l3.1-2.2l3.2-2l3.1-1.9l3.2-1.8l3.2-1.7l3.1-1.6l3.2-1.5l3.2-1.4l3.2-1.3l3.2-1.2l3.2-1.1l3.2-1l3.2-.9l3.2-.8l3.1-.7l3.2-.6l3.2-.6l3.2-.4l3.2-.3l3.2-.2l3.2-.2l3.2 0l3.2 0l3.2 .2l3.2 .2l3.2 .3l3.1 .4M504.3 136.4l2.9-4.6l2.9-4.4l2.9-4.3l2.9-4.3l3-4.1l2.9-3.9l3-3.9l3-3.8l3-3.6l3-3.5l3-3.5l3.1-3.3l3-3.2l3.1-3.1l3.1-3l3-2.8l3.1-2.8l3.1-2.6l3.1-2.6l3.2-2.4l3.1-2.4l3.1-2.2l3.2-2.1l3.1-2.1l3.2-1.9l3.1-1.8l3.2-1.7l3.2-1.6l3.1-1.5l3.2-1.4l3.2-1.3l3.2-1.2l3.2-1.2l3.2-1l3.2-.9l3.2-.8l3.1-.7l3.2-.6l3.2-.6l3.2-.4l3.2-.3l3.2-.3l3.2-.1l3.2-.1l3.2 .1l3.2 .1l3.2 .2l3.2 .3M501.2 136.4l2.9-4.6l2.9-4.5l2.9-4.3l2.9-4.2l3-4.1l2.9-4l3-3.9l3-3.7l3-3.7l3-3.5l3-3.4l3.1-3.4l3-3.2l3.1-3.1l3-2.9l3.1-2.9l3.1-2.8l3.1-2.7l3.1-2.5l3.1-2.5l3.1-2.3l3.2-2.2l3.1-2.2l3.1-2l3.2-1.9l3.1-1.9l3.2-1.7l3.2-1.6l3.1-1.5l3.2-1.4l3.2-1.3l3.2-1.3l3.2-1.1l3.2-1l3.2-.9l3.2-.8l3.1-.8l3.2-.6l3.2-.5l3.2-.5l3.2-.3l3.2-.3l3.2-.1l3.2-.1l3.2 0l3.2 .1l3.2 .2l3.2 .3M498.2 136.3l2.8-4.5l2.9-4.5l2.9-4.3l3-4.2l2.9-4.1l2.9-4l3-3.9l3-3.8l3-3.6l3-3.6l3-3.4l3-3.3l3.1-3.2l3-3.1l3.1-3l3.1-2.9l3-2.8l3.1-2.6l3.1-2.6l3.1-2.5l3.2-2.3l3.1-2.2l3.1-2.2l3.2-2l3.1-2l3.2-1.8l3.1-1.7l3.2-1.6l3.2-1.6l3.1-1.4l3.2-1.3l3.2-1.2l3.2-1.2l3.2-1l3.2-.9l3.2-.9l3.1-.7l3.2-.7l3.2-.5l3.2-.5l3.2-.3l3.2-.3l3.2-.1l3.2-.1l3.2 0l3.2 .1l3.2 .2l3.2 .3M495.1 136.3l2.9-4.5l2.9-4.5l2.9-4.3l2.9-4.2l2.9-4.1l3-4l2.9-3.9l3-3.8l3-3.6l3-3.6l3-3.4l3-3.3l3-3.2l3.1-3.2l3-2.9l3.1-2.9l3.1-2.8l3.1-2.7l3.1-2.6l3.1-2.4l3.1-2.4l3.1-2.2l3.1-2.2l3.2-2l3.1-2l3.2-1.8l3.1-1.7l3.2-1.7l3.2-1.5l3.1-1.4l3.2-1.4l3.2-1.2l3.2-1.1l3.2-1.1l3.2-.9l3.2-.9l3.1-.7l3.2-.7l3.2-.5l3.2-.5l3.2-.4l3.2-.2l3.2-.2l3.2-.1l3.2 0l3.2 .1l3.2 .2l3.2 .3M492.1 136.4l2.8-4.6l2.9-4.4l2.9-4.4l2.9-4.2l2.9-4.1l3-4l2.9-3.9l3-3.8l3-3.6l3-3.6l3-3.4l3-3.3l3-3.2l3.1-3.2l3-3l3.1-2.9l3-2.7l3.1-2.7l3.1-2.6l3.1-2.5l3.1-2.3l3.2-2.3l3.1-2.1l3.1-2.1l3.2-1.9l3.1-1.9l3.2-1.7l3.1-1.7l3.2-1.5l3.2-1.5l3.1-1.3l3.2-1.2l3.2-1.2l3.2-1l3.2-1l3.2-.8l3.2-.8l3.1-.7l3.2-.5l3.2-.5l3.2-.4l3.2-.3l3.2-.2l3.2-.1l3.2 0l3.2 .1l3.2 .2l3.2 .3M489 136.4l2.9-4.5l2.9-4.5l2.8-4.3l2.9-4.2l3-4.2l2.9-4l2.9-3.8l3-3.8l3-3.7l3-3.5l3-3.5l3-3.3l3-3.2l3-3.1l3.1-3l3-2.9l3.1-2.8l3.1-2.7l3.1-2.6l3.1-2.5l3.1-2.3l3.1-2.3l3.1-2.2l3.1-2l3.2-2l3.1-1.8l3.2-1.8l3.1-1.6l3.2-1.6l3.2-1.4l3.1-1.4l3.2-1.3l3.2-1.1l3.2-1.1l3.2-.9l3.2-.9l3.2-.8l3.1-.6l3.2-.6l3.2-.5l3.2-.4l3.2-.3l3.2-.2l3.2-.1l3.2 0l3.2 .1l3.2 .1M486 136.5l2.8-4.5l2.9-4.5l2.9-4.3l2.9-4.3l2.9-4.1l2.9-4l2.9-3.9l3-3.7l3-3.7l3-3.6l2.9-3.4l3.1-3.3l3-3.3l3-3.1l3-3l3.1-2.9l3.1-2.8l3-2.7l3.1-2.6l3.1-2.5l3.1-2.3l3.1-2.3l3.2-2.2l3.1-2l3.1-2l3.2-1.9l3.1-1.7l3.2-1.7l3.1-1.6l3.2-1.4l3.2-1.4l3.1-1.2l3.2-1.2l3.2-1.1l3.2-.9l3.2-.9l3.2-.8l3.2-.7l3.1-.6l3.2-.4l3.2-.4l3.2-.3l3.2-.3l3.2-.1l3.2 0l3.2 .1l3.2 .1M483 136.6l2.8-4.5l2.9-4.5l2.8-4.3l2.9-4.3l2.9-4.1l2.9-4l3-3.9l2.9-3.7l3-3.7l3-3.6l2.9-3.4l3-3.4l3.1-3.2l3-3.1l3-3l3.1-2.9l3-2.9l3.1-2.6l3.1-2.6l3.1-2.5l3.1-2.4l3.1-2.3l3.1-2.2l3.1-2l3.2-2l3.1-1.9l3.1-1.7l3.2-1.7l3.1-1.6l3.2-1.5l3.2-1.3l3.2-1.3l3.1-1.2l3.2-1l3.2-1l3.2-.9l3.2-.8l3.2-.7l3.2-.6l3.1-.5l3.2-.4l3.2-.3l3.2-.2l3.2-.2l3.2 0l3.2 .1l3.2 .1M479.9 136.8l2.9-4.6l2.8-4.5l2.9-4.3l2.9-4.2l2.9-4.1l2.9-4l2.9-3.9l2.9-3.8l3-3.7l3-3.6l2.9-3.4l3-3.4l3-3.2l3.1-3.1l3-3l3-3l3.1-2.8l3.1-2.7l3-2.6l3.1-2.5l3.1-2.4l3.1-2.2l3.1-2.2l3.2-2.1l3.1-2l3.1-1.9l3.2-1.7l3.1-1.7l3.2-1.6l3.1-1.5l3.2-1.3l3.2-1.3l3.1-1.2l3.2-1.1l3.2-1l3.2-.9l3.2-.8l3.2-.7l3.2-.6l3.2-.5l3.1-.4l3.2-.3l3.2-.3l3.2-.1l3.2-.1l3.2 .1l3.2 .1M476.9 136.9l2.8-4.5l2.9-4.5l2.8-4.3l2.9-4.3l2.9-4.1l2.9-4l2.9-3.9l3-3.8l2.9-3.7l3-3.5l2.9-3.5l3-3.3l3-3.3l3.1-3.1l3-3l3-2.9l3.1-2.9l3-2.7l3.1-2.6l3.1-2.5l3.1-2.4l3.1-2.3l3.1-2.2l3.1-2l3.1-2l3.2-1.9l3.1-1.8l3.1-1.7l3.2-1.6l3.2-1.5l3.1-1.3l3.2-1.3l3.2-1.2l3.1-1.1l3.2-1l3.2-.9l3.2-.8l3.2-.7l3.2-.6l3.2-.6l3.2-.4l3.2-.3l3.1-.3l3.2-.1l3.2-.1l3.2 0l3.2 .2M473.9 137.1l2.8-4.6l2.8-4.4l2.9-4.4l2.9-4.2l2.8-4.1l2.9-4l3-3.9l2.9-3.8l2.9-3.7l3-3.6l3-3.4l2.9-3.4l3-3.2l3-3.2l3.1-3l3-2.9l3-2.8l3.1-2.7l3.1-2.7l3-2.5l3.1-2.4l3.1-2.3l3.1-2.2l3.1-2.1l3.2-2l3.1-1.8l3.1-1.8l3.2-1.7l3.1-1.6l3.2-1.5l3.1-1.4l3.2-1.3l3.2-1.2l3.2-1.1l3.1-1l3.2-.9l3.2-.8l3.2-.8l3.2-.6l3.2-.5l3.2-.5l3.2-.3l3.2-.3l3.2-.1l3.1-.1l3.2 0" fill="none" stroke="#000" stroke-width="0.2" stroke-opacity="1"/>
<ellipse cx="473.7" cy="132.8" rx="2.5" ry="1.8" fill="#f00" stroke="#900" stroke-width="0.5"/>
<ellipse cx="628.4" cy="161.6" rx="2.6" ry="1.9" fill="#ffd0d0" stroke="#777" stroke-width="0.6"/>
<ellipse cx="785" cy="80.3" rx="2.6" ry="1.9" fill="#ffd0d0" stroke="#777" stroke-width="0.6"/>
<ellipse cx="628.3" cy="55" rx="2.5" ry="1.8" fill="#f00" stroke="#900" stroke-width="0.5"/>
<ellipse cx="628.4" cy="36" rx="2.5" ry="1.8" fill="#f00" stroke="#900" stroke-width="0.5"/>
<text x="462.1" y="226.6" font-size="10.3" text-anchor="start" font-family='"Liberation Sans", sans-serif' textLength="64" lengthAdjust="spacingAndGlyphs" stroke="#000" stroke-width="0.55">B: GA content</text>
<text x="712.7" y="226.4" font-size="10.3" text-anchor="start" font-family='"Liberation Sans", sans-serif' textLength="96.9" lengthAdjust="spacingAndGlyphs" stroke="#000" stroke-width="0.55">A: Urea/Gelatin Ratio</text>
<text x="420.6" y="116.8" font-size="10.4" text-anchor="middle" font-family='"Liberation Sans", sans-serif' textLength="62.8" lengthAdjust="spacingAndGlyphs" transform="rotate(-90 420.6 116.8)" stroke="#000" stroke-width="0.55">Urea Loading</text>
<text x="628.6" y="281" font-size="21" text-anchor="middle" font-family='"Liberation Sans", sans-serif' textLength="14" lengthAdjust="spacingAndGlyphs" font-weight="bold" >A</text>
</g>
<g id="plot-B">
<path d="M79.2 647.2L227.1 614.1M227.1 614.1L375.2 647.4M78.3 633.1L227.1 601.5M227.1 601.5L376.3 633.3M77.4 618.9L227.1 588.9M227.1 588.9L377.4 619.3M76.5 604.8L227 576.2M227 576.2L378.5 605.3M75.7 590.7L227 563.6M227 563.6L379.6 591.3M74.8 576.6L227 551M227 551L380.7 577.2M73.9 562.5L227 538.3M227 538.3L381.8 563.2M73 548.4L227 525.7M227 525.7L382.9 549.2M116.2 638.9L111.5 542.7M153.1 630.7L150 537M190.1 622.4L188.5 531.4M345.6 640.7L351.7 544.5M315.9 634.1L320.5 539.8M286.3 627.4L289.4 535.1M256.7 620.8L258.2 530.4M81.1 677.5L73 548.4M227.1 641.3L227 525.7M372.8 677.5L382.9 549.2" stroke="#2a2a2a" stroke-width="0.9" fill="none"/>
<polygon points="81.1,677.5 227.2,724 372.8,677.5 227.1,641.3" fill="#ffff00"/>
<polyline points="209.3,718.3 210.4,718.5 212.1,718.7 213.7,719 214,719 215.4,719.2 217,719.5 218.6,719.7 218.7,719.7 220.4,720 222.1,720.2 223,720.3 223.8,720.5 225.5,720.7 227.2,720.9 227.2,720.9 228.9,721.1 230.6,721.4 231.4,721.5 232.3,721.6 234.1,721.8" fill="none" stroke="#30c0f0" stroke-width="0.9"/>
<polyline points="156.7,701.6 159.3,702.2 162.1,702.9 164.8,703.6 166.8,704 169.1,704.6 171.9,705.2 174.8,705.9 176.3,706.2 179.2,706.8 182.1,707.4 183.6,707.7 186.6,708.3 188.8,708.8 191.1,709.2 194.2,709.8 195.7,710.1 198.8,710.7 200.4,711 203.5,711.5 205.7,711.9 208.3,712.3 210.7,712.7 213.2,713.1 215.5,713.4 218.1,713.8 220.1,714.1 223.1,714.5 224.8,714.8 228.2,715.2 229.9,715.5 233,715.9 235.1,716.1 237,716.3 240.4,716.7 242.2,716.9 244.7,717.2 247.6,717.5" fill="none" stroke="#30e0e0" stroke-width="0.9"/>
<polyline points="84.7,676.6 85.6,677.1 86.6,677.5 87.5,678 88.5,678.4 88.9,678.6 89.5,678.9 90.5,679.3 91.5,679.7 92.5,680.2 93.5,680.6 94.5,681.1 94.5,681.1 95.5,681.5 96.6,681.9 97.6,682.4 98.6,682.8 99.7,683.2 100.8,683.7 101.8,684.1 102,684.1" fill="none" stroke="#30e0e0" stroke-width="0.9"/>
<polyline points="98.5,673.2 99.6,673.7 101.3,674.5 103.1,675.4 104.1,675.9 106,676.8 107.9,677.7 108.9,678.1 110.9,679 113,679.8 114.2,680.3 116.1,681.1 118.2,681.9 120.3,682.8 122.5,683.6 123.6,684 125.8,684.8 128.1,685.6 130.4,686.4 132.7,687.2 135,688 137.4,688.8 139.8,689.6 142.2,690.3 144.7,691.1 147.2,691.8 149.7,692.6 152.2,693.3 154.8,694 157.4,694.7 160,695.5 162.1,696 164,696.5 166.7,697.2 169.5,697.9 172.2,698.5 173.6,698.9 176.4,699.5 179.3,700.1 182.1,700.8 183.6,701.1 186.5,701.7 189.4,702.3 190.9,702.6 193.9,703.2 195.9,703.6 198.4,704.1 201.5,704.6 203.1,704.9 206.2,705.5 207.8,705.7 210.9,706.3 212.6,706.5 215.7,707 217.5,707.3 220.7,707.8 222.3,708 225.7,708.5 227.3,708.7 230.7,709.2 232.5,709.4 235,709.7 237.7,710 239.4,710.2 242.9,710.6 244.8,710.8 246.6,711 250.2,711.3 252.1,711.5 253.9,711.7 257.3,712 259.6,712.2 261.5,712.3" fill="none" stroke="#30e080" stroke-width="0.9"/>
<polyline points="115,669.1 116.6,670 117.5,670.5 119.2,671.4 120.2,671.9 121.9,672.8 123.7,673.6 124.6,674.1 126.5,675 128.2,675.7 129.5,676.3 131.5,677.1 133.5,678 134.5,678.4 136.6,679.2 138.7,680 140.9,680.9 142.7,681.5 144.2,682.1 146.5,682.8 148.8,683.6 151.1,684.4 153.5,685.2 155.8,685.9 158.3,686.7 160.7,687.4 163.2,688.1 165.8,688.9 168.3,689.6 170.9,690.3 173.5,690.9 174.9,691.3 177.6,692 180.3,692.6 183,693.3 185.4,693.8 187.2,694.2 190,694.9 192.9,695.5 194.4,695.8 197.3,696.4 200.3,697 201.8,697.3 204.8,697.8 206.9,698.2 209.4,698.6 212.5,699.2 214.1,699.4 217.3,700 218.9,700.2 222.1,700.7 223.7,700.9 227.1,701.4 228.7,701.6 231.6,702 233.8,702.3 235.8,702.5 239,702.9 240.8,703.1 243.7,703.4 246.1,703.7 248,703.9 251,704.1 253.5,704.4 255.4,704.5 257.9,704.7 261.1,704.9 263,705.1 265,705.2 267.6,705.3 270.6,705.5 273.1,705.6 275.1,705.7 277.2,705.8 279.4,705.9 282.2,705.9" fill="none" stroke="#70e030" stroke-width="0.9"/>
<polyline points="256.8,648.7 254.4,648.4 252.5,648.2 249.2,647.9 247.4,647.8 244.8,647.6 241.8,647.3 239.9,647.2 238,647.1 234.9,646.9 232,646.8 229.9,646.7 227.7,646.6 225.5,646.6 223.3,646.5 221,646.5 218.6,646.5 216.1,646.5 213.5,646.5 210.8,646.6 208,646.6 205.3,646.8" fill="none" stroke="#f08a1e" stroke-width="0.9"/>
<polyline points="169.5,655.6 169.1,656.3 168.8,657 168.6,657.7 168.6,658.3 168.6,659 168.7,659.6 169,660.2 169.2,660.8 169.6,661.4 169.9,661.9 170.6,662.8 171.4,663.5 171.9,664 172.6,664.7 173.8,665.5 174.5,666 175.8,666.9 176.7,667.4 178,668.1 179.1,668.8 180.8,669.6 181.8,670.1 183.6,670.9 184.9,671.5 186.6,672.1 188.6,672.9 190.7,673.7 192.3,674.3 194.1,674.9 196.4,675.6 198.7,676.3 201.2,677 203.7,677.7 206.2,678.4 208.5,678.9 210.2,679.3 212.9,679.9 215.7,680.5 218.5,681.1 220,681.4 223,681.9 225.2,682.3 227.5,682.7 230.7,683.2 232.3,683.4 235.6,683.9 237.2,684.1 239.9,684.4 242.4,684.7 244.1,684.9 247.7,685.2 249.6,685.4 251.4,685.5 254.5,685.8 257.3,685.9 259.3,686 261.3,686.1 263.6,686.2 266.4,686.3 269.1,686.3 271.7,686.3 274.2,686.3 276.6,686.3 278.9,686.2 281.2,686.2 283.3,686.1 285.5,685.9 288.3,685.7 291.4,685.5 293.3,685.3 295.1,685.1 298.6,684.6 300.2,684.4 303.3,683.8 304.8,683.5 307.7,682.9 310.3,682.2 312.8,681.4 315,680.7 317,679.8 318,679.4 319.7,678.4 320.4,677.9 321.8,676.9 322.4,676.4 322.9,675.8 323.6,675 324,674.2 324.3,673.5 324.5,672.8 324.5,672.2 324.5,671.5 324.4,670.8 324.2,670.1 323.9,669.5 323.6,669 323.2,668.4 322.6,667.7 321.8,666.8 321.2,666.3 320.6,665.8 319.4,664.9 318.7,664.4 317.7,663.8" fill="none" stroke="#f08a1e" stroke-width="0.9"/>
<path d="M81.1 677.5L227.2 724L372.8 677.5" stroke="#222" stroke-width="0.7" fill="none"/>
<text x="230.5" y="730.8" font-size="7" text-anchor="start" font-family='"Liberation Sans", sans-serif' textLength="14" lengthAdjust="spacingAndGlyphs" stroke="#000" stroke-width="0.5">1.00</text>
<text x="266.9" y="719.2" font-size="7" text-anchor="start" font-family='"Liberation Sans", sans-serif' textLength="14" lengthAdjust="spacingAndGlyphs" stroke="#000" stroke-width="0.5">1.50</text>
<text x="303.3" y="707.5" font-size="7" text-anchor="start" font-family='"Liberation Sans", sans-serif' textLength="14" lengthAdjust="spacingAndGlyphs" stroke="#000" stroke-width="0.5">2.00</text>
<text x="339.7" y="695.9" font-size="7" text-anchor="start" font-family='"Liberation Sans", sans-serif' textLength="14" lengthAdjust="spacingAndGlyphs" stroke="#000" stroke-width="0.5">2.50</text>
<text x="376.1" y="684.3" font-size="7" text-anchor="start" font-family='"Liberation Sans", sans-serif' textLength="14" lengthAdjust="spacingAndGlyphs" stroke="#000" stroke-width="0.5">3.00</text>
<text x="223.4" y="731" font-size="7" text-anchor="end" font-family='"Liberation Sans", sans-serif' textLength="14" lengthAdjust="spacingAndGlyphs" stroke="#000" stroke-width="0.5">0.50</text>
<text x="194.2" y="721.7" font-size="7" text-anchor="end" font-family='"Liberation Sans", sans-serif' textLength="14" lengthAdjust="spacingAndGlyphs" stroke="#000" stroke-width="0.5">0.70</text>
<text x="165" y="712.4" font-size="7" text-anchor="end" font-family='"Liberation Sans", sans-serif' textLength="14" lengthAdjust="spacingAndGlyphs" stroke="#000" stroke-width="0.5">0.90</text>
<text x="135.7" y="703.1" font-size="7" text-anchor="end" font-family='"Liberation Sans", sans-serif' textLength="14" lengthAdjust="spacingAndGlyphs" stroke="#000" stroke-width="0.5">1.10</text>
<text x="106.5" y="693.8" font-size="7" text-anchor="end" font-family='"Liberation Sans", sans-serif' textLength="14" lengthAdjust="spacingAndGlyphs" stroke="#000" stroke-width="0.5">1.30</text>
<text x="77.3" y="684.5" font-size="7" text-anchor="end" font-family='"Liberation Sans", sans-serif' textLength="14" lengthAdjust="spacingAndGlyphs" stroke="#000" stroke-width="0.5">1.50</text>
<circle cx="227.2" cy="724" r="0.9" fill="#111"/>
<circle cx="263.6" cy="712.4" r="0.9" fill="#111"/>
<circle cx="300" cy="700.8" r="0.9" fill="#111"/>
<circle cx="336.4" cy="689.1" r="0.9" fill="#111"/>
<circle cx="372.8" cy="677.5" r="0.9" fill="#111"/>
<circle cx="227.2" cy="724" r="0.9" fill="#111"/>
<circle cx="198" cy="714.7" r="0.9" fill="#111"/>
<circle cx="168.8" cy="705.4" r="0.9" fill="#111"/>
<circle cx="139.5" cy="696.1" r="0.9" fill="#111"/>
<circle cx="110.3" cy="686.8" r="0.9" fill="#111"/>
<circle cx="81.1" cy="677.5" r="0.9" fill="#111"/>
<text x="75.6" y="646" font-size="7" text-anchor="end" font-family='"Liberation Sans", sans-serif' stroke="#000" stroke-width="0.5">4</text>
<line x1="77.7" y1="647.4" x2="79.2" y2="647.2" stroke="#222" stroke-width="0.8"/>
<text x="74.7" y="631.9" font-size="7" text-anchor="end" font-family='"Liberation Sans", sans-serif' stroke="#000" stroke-width="0.5">6</text>
<line x1="76.8" y1="633.3" x2="78.3" y2="633.1" stroke="#222" stroke-width="0.8"/>
<text x="73.8" y="617.7" font-size="7" text-anchor="end" font-family='"Liberation Sans", sans-serif' stroke="#000" stroke-width="0.5">8</text>
<line x1="75.9" y1="619.1" x2="77.4" y2="618.9" stroke="#222" stroke-width="0.8"/>
<text x="72.9" y="603.6" font-size="7" text-anchor="end" font-family='"Liberation Sans", sans-serif' stroke="#000" stroke-width="0.5">10</text>
<line x1="75" y1="605" x2="76.5" y2="604.8" stroke="#222" stroke-width="0.8"/>
<text x="72.1" y="589.5" font-size="7" text-anchor="end" font-family='"Liberation Sans", sans-serif' stroke="#000" stroke-width="0.5">12</text>
<line x1="74.2" y1="590.9" x2="75.7" y2="590.7" stroke="#222" stroke-width="0.8"/>
<text x="71.2" y="575.4" font-size="7" text-anchor="end" font-family='"Liberation Sans", sans-serif' stroke="#000" stroke-width="0.5">14</text>
<line x1="73.3" y1="576.8" x2="74.8" y2="576.6" stroke="#222" stroke-width="0.8"/>
<text x="70.3" y="561.3" font-size="7" text-anchor="end" font-family='"Liberation Sans", sans-serif' stroke="#000" stroke-width="0.5">16</text>
<line x1="72.4" y1="562.7" x2="73.9" y2="562.5" stroke="#222" stroke-width="0.8"/>
<text x="69.4" y="547.2" font-size="7" text-anchor="end" font-family='"Liberation Sans", sans-serif' stroke="#000" stroke-width="0.5">18</text>
<line x1="71.5" y1="548.6" x2="73" y2="548.4" stroke="#222" stroke-width="0.8"/>
<defs><linearGradient id="gB39" gradientUnits="userSpaceOnUse" x1="79.5" x2="228.9" y1="0" y2="0"><stop offset="0" stop-color="#0096b8"/><stop offset=".043" stop-color="#00b6a4"/><stop offset=".086" stop-color="#00b472"/><stop offset=".129" stop-color="#00b244"/><stop offset=".173" stop-color="#00b018"/><stop offset=".217" stop-color="#0dad00"/><stop offset=".262" stop-color="#2eaa00"/><stop offset=".307" stop-color="#4ca700"/><stop offset=".352" stop-color="#66a200"/><stop offset=".397" stop-color="#7e9a00"/><stop offset=".443" stop-color="#8c8e00"/><stop offset=".489" stop-color="#786400"/><stop offset=".535" stop-color="#4c3300"/><stop offset=".581" stop-color="#160c00"/><stop offset=".627" stop-color="#010000"/><stop offset=".674" stop-color="#000000"/><stop offset=".72" stop-color="#000000"/><stop offset=".767" stop-color="#000000"/><stop offset=".814" stop-color="#000000"/><stop offset=".86" stop-color="#000000"/><stop offset=".907" stop-color="#000000"/><stop offset=".954" stop-color="#010000"/><stop offset="1" stop-color="#0c0c00"/></linearGradient><linearGradient id="gB38" gradientUnits="userSpaceOnUse" x1="83.2" x2="232.8" y1="0" y2="0"><stop offset="0" stop-color="#009cb8"/><stop offset=".043" stop-color="#00b79f"/><stop offset=".086" stop-color="#00b56d"/><stop offset=".129" stop-color="#00b33e"/><stop offset=".173" stop-color="#00b112"/><stop offset=".217" stop-color="#13ae00"/><stop offset=".262" stop-color="#35ab00"/><stop offset=".307" stop-color="#53a800"/><stop offset=".352" stop-color="#6da400"/><stop offset=".397" stop-color="#889d00"/><stop offset=".443" stop-color="#938c00"/><stop offset=".489" stop-color="#7f6200"/><stop offset=".535" stop-color="#5a3600"/><stop offset=".581" stop-color="#251100"/><stop offset=".628" stop-color="#050100"/><stop offset=".674" stop-color="#000000"/><stop offset=".721" stop-color="#000000"/><stop offset=".767" stop-color="#000000"/><stop offset=".814" stop-color="#000000"/><stop offset=".861" stop-color="#000000"/><stop offset=".907" stop-color="#000000"/><stop offset=".954" stop-color="#000000"/><stop offset="1" stop-color="#090800"/></linearGradient><linearGradient id="gB37" gradientUnits="userSpaceOnUse" x1="86.9" x2="236.7" y1="0" y2="0"><stop offset="0" stop-color="#00a1b8"/><stop offset=".043" stop-color="#00b79a"/><stop offset=".086" stop-color="#00b668"/><stop offset=".129" stop-color="#00b439"/><stop offset=".173" stop-color="#00b10d"/><stop offset=".218" stop-color="#19af00"/><stop offset=".262" stop-color="#3aac00"/><stop offset=".307" stop-color="#5aa900"/><stop offset=".352" stop-color="#76a500"/><stop offset=".398" stop-color="#919f00"/><stop offset=".443" stop-color="#978700"/><stop offset=".489" stop-color="#855d00"/><stop offset=".535" stop-color="#673600"/><stop offset=".582" stop-color="#331300"/><stop offset=".628" stop-color="#090200"/><stop offset=".674" stop-color="#000000"/><stop offset=".721" stop-color="#000000"/><stop offset=".768" stop-color="#000000"/><stop offset=".814" stop-color="#000000"/><stop offset=".861" stop-color="#000000"/><stop offset=".907" stop-color="#000000"/><stop offset=".954" stop-color="#000000"/><stop offset="1" stop-color="#060500"/></linearGradient><linearGradient id="gB36" gradientUnits="userSpaceOnUse" x1="90.6" x2="240.5" y1="0" y2="0"><stop offset="0" stop-color="#00a6b9"/><stop offset=".043" stop-color="#00b895"/><stop offset=".086" stop-color="#00b664"/><stop offset=".129" stop-color="#00b533"/><stop offset=".173" stop-color="#00b207"/><stop offset=".218" stop-color="#1eb000"/><stop offset=".262" stop-color="#40ad00"/><stop offset=".307" stop-color="#60aa00"/><stop offset=".353" stop-color="#7ea600"/><stop offset=".398" stop-color="#9ba100"/><stop offset=".444" stop-color="#9a8100"/><stop offset=".49" stop-color="#8b5900"/><stop offset=".536" stop-color="#723400"/><stop offset=".582" stop-color="#411400"/><stop offset=".628" stop-color="#0d0200"/><stop offset=".675" stop-color="#000000"/><stop offset=".721" stop-color="#000000"/><stop offset=".768" stop-color="#000000"/><stop offset=".814" stop-color="#000000"/><stop offset=".861" stop-color="#000000"/><stop offset=".907" stop-color="#000000"/><stop offset=".954" stop-color="#000000"/><stop offset="1" stop-color="#020200"/></linearGradient><linearGradient id="gB35" gradientUnits="userSpaceOnUse" x1="94.3" x2="244.4" y1="0" y2="0"><stop offset="0" stop-color="#00aab9"/><stop offset=".043" stop-color="#00b891"/><stop offset=".086" stop-color="#00b75f"/><stop offset=".13" stop-color="#00b52f"/><stop offset=".174" stop-color="#00b302"/><stop offset=".218" stop-color="#23b000"/><stop offset=".263" stop-color="#45ae00"/><stop offset=".308" stop-color="#65ab00"/><stop offset=".353" stop-color="#85a700"/><stop offset=".398" stop-color="#a3a300"/><stop offset=".444" stop-color="#9c7a00"/><stop offset=".49" stop-color="#905300"/><stop offset=".536" stop-color="#7a3000"/><stop offset=".582" stop-color="#501400"/><stop offset=".629" stop-color="#1a0400"/><stop offset=".675" stop-color="#020000"/><stop offset=".721" stop-color="#000000"/><stop offset=".768" stop-color="#000000"/><stop offset=".814" stop-color="#000000"/><stop offset=".861" stop-color="#000000"/><stop offset=".907" stop-color="#000000"/><stop offset=".954" stop-color="#000000"/><stop offset="1" stop-color="#000000"/></linearGradient><linearGradient id="gB34" gradientUnits="userSpaceOnUse" x1="98" x2="248.3" y1="0" y2="0"><stop offset="0" stop-color="#00afb9"/><stop offset=".043" stop-color="#00b88e"/><stop offset=".086" stop-color="#00b75c"/><stop offset=".13" stop-color="#00b62a"/><stop offset=".174" stop-color="#00b400"/><stop offset=".218" stop-color="#27b100"/><stop offset=".263" stop-color="#4aae00"/><stop offset=".308" stop-color="#6aac00"/><stop offset=".353" stop-color="#8ca900"/><stop offset=".399" stop-color="#a49e00"/><stop offset=".444" stop-color="#9e7500"/><stop offset=".49" stop-color="#944d00"/><stop offset=".536" stop-color="#822b00"/><stop offset=".583" stop-color="#5e1200"/><stop offset=".629" stop-color="#280400"/><stop offset=".675" stop-color="#060000"/><stop offset=".722" stop-color="#000000"/><stop offset=".768" stop-color="#000000"/><stop offset=".815" stop-color="#000000"/><stop offset=".861" stop-color="#000000"/><stop offset=".907" stop-color="#000000"/><stop offset=".954" stop-color="#000000"/><stop offset="1" stop-color="#000000"/></linearGradient><linearGradient id="gB33" gradientUnits="userSpaceOnUse" x1="101.7" x2="252.1" y1="0" y2="0"><stop offset="0" stop-color="#00b2ba"/><stop offset=".043" stop-color="#00b98a"/><stop offset=".086" stop-color="#00b858"/><stop offset=".13" stop-color="#00b627"/><stop offset=".174" stop-color="#04b500"/><stop offset=".218" stop-color="#2cb200"/><stop offset=".263" stop-color="#4faf00"/><stop offset=".308" stop-color="#6fad00"/><stop offset=".353" stop-color="#92aa00"/><stop offset=".399" stop-color="#a59a00"/><stop offset=".445" stop-color="#a16f00"/><stop offset=".49" stop-color="#984700"/><stop offset=".537" stop-color="#882700"/><stop offset=".583" stop-color="#6b0f00"/><stop offset=".629" stop-color="#360300"/><stop offset=".675" stop-color="#0a0000"/><stop offset=".722" stop-color="#000000"/><stop offset=".768" stop-color="#000000"/><stop offset=".815" stop-color="#000000"/><stop offset=".861" stop-color="#000000"/><stop offset=".908" stop-color="#000000"/><stop offset=".954" stop-color="#000000"/><stop offset="1" stop-color="#000000"/></linearGradient><linearGradient id="gB32" gradientUnits="userSpaceOnUse" x1="105.5" x2="256" y1="0" y2="0"><stop offset="0" stop-color="#00b6ba"/><stop offset=".043" stop-color="#00b988"/><stop offset=".086" stop-color="#00b855"/><stop offset=".13" stop-color="#00b723"/><stop offset=".174" stop-color="#07b500"/><stop offset=".218" stop-color="#2fb300"/><stop offset=".263" stop-color="#53b000"/><stop offset=".308" stop-color="#73ad00"/><stop offset=".354" stop-color="#99ab00"/><stop offset=".399" stop-color="#a79400"/><stop offset=".445" stop-color="#a36a00"/><stop offset=".491" stop-color="#9b4200"/><stop offset=".537" stop-color="#8e2200"/><stop offset=".583" stop-color="#750c00"/><stop offset=".629" stop-color="#450200"/><stop offset=".676" stop-color="#0f0000"/><stop offset=".722" stop-color="#000000"/><stop offset=".769" stop-color="#000000"/><stop offset=".815" stop-color="#000000"/><stop offset=".861" stop-color="#000000"/><stop offset=".908" stop-color="#000000"/><stop offset=".954" stop-color="#000000"/><stop offset="1" stop-color="#000000"/></linearGradient><linearGradient id="gB31" gradientUnits="userSpaceOnUse" x1="109.2" x2="259.9" y1="0" y2="0"><stop offset="0" stop-color="#00b9ba"/><stop offset=".043" stop-color="#00b985"/><stop offset=".086" stop-color="#00b852"/><stop offset=".13" stop-color="#00b721"/><stop offset=".174" stop-color="#0ab600"/><stop offset=".219" stop-color="#32b400"/><stop offset=".263" stop-color="#56b100"/><stop offset=".308" stop-color="#77ae00"/><stop offset=".354" stop-color="#9dac00"/><stop offset=".399" stop-color="#a88f00"/><stop offset=".445" stop-color="#a46500"/><stop offset=".491" stop-color="#9d3d00"/><stop offset=".537" stop-color="#921e00"/><stop offset=".583" stop-color="#7d0900"/><stop offset=".63" stop-color="#540000"/><stop offset=".676" stop-color="#1e0000"/><stop offset=".722" stop-color="#030000"/><stop offset=".769" stop-color="#000000"/><stop offset=".815" stop-color="#000000"/><stop offset=".862" stop-color="#000000"/><stop offset=".908" stop-color="#000000"/><stop offset=".954" stop-color="#000000"/><stop offset="1" stop-color="#000000"/></linearGradient><linearGradient id="gB30" gradientUnits="userSpaceOnUse" x1="112.9" x2="263.7" y1="0" y2="0"><stop offset="0" stop-color="#00bbb9"/><stop offset=".043" stop-color="#00ba83"/><stop offset=".086" stop-color="#00b950"/><stop offset=".13" stop-color="#00b71f"/><stop offset=".174" stop-color="#0db600"/><stop offset=".219" stop-color="#35b500"/><stop offset=".264" stop-color="#59b200"/><stop offset=".309" stop-color="#7caf00"/><stop offset=".354" stop-color="#a2ac00"/><stop offset=".4" stop-color="#a98c00"/><stop offset=".445" stop-color="#a55f00"/><stop offset=".491" stop-color="#a03900"/><stop offset=".537" stop-color="#961900"/><stop offset=".584" stop-color="#850700"/><stop offset=".63" stop-color="#630000"/><stop offset=".676" stop-color="#2c0000"/><stop offset=".723" stop-color="#070000"/><stop offset=".769" stop-color="#000000"/><stop offset=".815" stop-color="#000000"/><stop offset=".862" stop-color="#000000"/><stop offset=".908" stop-color="#000000"/><stop offset=".954" stop-color="#000000"/><stop offset="1" stop-color="#000000"/></linearGradient><linearGradient id="gB29" gradientUnits="userSpaceOnUse" x1="116.7" x2="267.6" y1="0" y2="0"><stop offset="0" stop-color="#00bbb8"/><stop offset=".043" stop-color="#00ba82"/><stop offset=".086" stop-color="#00b94e"/><stop offset=".13" stop-color="#00b81c"/><stop offset=".174" stop-color="#0fb600"/><stop offset=".219" stop-color="#37b500"/><stop offset=".264" stop-color="#5cb300"/><stop offset=".309" stop-color="#7fb000"/><stop offset=".354" stop-color="#a5ad00"/><stop offset=".4" stop-color="#aa8900"/><stop offset=".446" stop-color="#a65c00"/><stop offset=".492" stop-color="#a23500"/><stop offset=".538" stop-color="#9a1600"/><stop offset=".584" stop-color="#8b0400"/><stop offset=".63" stop-color="#6f0000"/><stop offset=".677" stop-color="#3b0000"/><stop offset=".723" stop-color="#0b0000"/><stop offset=".769" stop-color="#000000"/><stop offset=".816" stop-color="#000000"/><stop offset=".862" stop-color="#000000"/><stop offset=".908" stop-color="#000000"/><stop offset=".954" stop-color="#000000"/><stop offset="1" stop-color="#000000"/></linearGradient><linearGradient id="gB28" gradientUnits="userSpaceOnUse" x1="120.4" x2="271.5" y1="0" y2="0"><stop offset="0" stop-color="#00bbb8"/><stop offset=".043" stop-color="#00ba80"/><stop offset=".087" stop-color="#00ba4d"/><stop offset=".13" stop-color="#00b81c"/><stop offset=".175" stop-color="#10b700"/><stop offset=".219" stop-color="#39b500"/><stop offset=".264" stop-color="#5eb400"/><stop offset=".309" stop-color="#82b100"/><stop offset=".355" stop-color="#a9ae00"/><stop offset=".4" stop-color="#ab8700"/><stop offset=".446" stop-color="#a75900"/><stop offset=".492" stop-color="#a33200"/><stop offset=".538" stop-color="#9d1300"/><stop offset=".584" stop-color="#8f0200"/><stop offset=".63" stop-color="#780000"/><stop offset=".677" stop-color="#4a0000"/><stop offset=".723" stop-color="#140000"/><stop offset=".769" stop-color="#000000"/><stop offset=".816" stop-color="#000000"/><stop offset=".862" stop-color="#000000"/><stop offset=".908" stop-color="#000000"/><stop offset=".954" stop-color="#000000"/><stop offset="1" stop-color="#000000"/></linearGradient><linearGradient id="gB27" gradientUnits="userSpaceOnUse" x1="124.2" x2="275.4" y1="0" y2="0"><stop offset="0" stop-color="#00bcb7"/><stop offset=".043" stop-color="#00bb80"/><stop offset=".087" stop-color="#00ba4c"/><stop offset=".131" stop-color="#00b91a"/><stop offset=".175" stop-color="#11b700"/><stop offset=".219" stop-color="#39b600"/><stop offset=".264" stop-color="#5fb500"/><stop offset=".309" stop-color="#84b200"/><stop offset=".355" stop-color="#abaf00"/><stop offset=".4" stop-color="#ac8600"/><stop offset=".446" stop-color="#a85700"/><stop offset=".492" stop-color="#a42f00"/><stop offset=".538" stop-color="#9f1200"/><stop offset=".584" stop-color="#930000"/><stop offset=".631" stop-color="#800000"/><stop offset=".677" stop-color="#5a0000"/><stop offset=".723" stop-color="#230000"/><stop offset=".77" stop-color="#040000"/><stop offset=".816" stop-color="#000000"/><stop offset=".862" stop-color="#000000"/><stop offset=".908" stop-color="#000000"/><stop offset=".954" stop-color="#000000"/><stop offset="1" stop-color="#000000"/></linearGradient><linearGradient id="gB26" gradientUnits="userSpaceOnUse" x1="127.9" x2="279.2" y1="0" y2="0"><stop offset="0" stop-color="#00bcb7"/><stop offset=".043" stop-color="#00bb80"/><stop offset=".087" stop-color="#00ba4c"/><stop offset=".131" stop-color="#00b91a"/><stop offset=".175" stop-color="#12b800"/><stop offset=".22" stop-color="#3ab600"/><stop offset=".264" stop-color="#60b500"/><stop offset=".31" stop-color="#86b300"/><stop offset=".355" stop-color="#adb000"/><stop offset=".401" stop-color="#ad8500"/><stop offset=".447" stop-color="#aa5600"/><stop offset=".492" stop-color="#a52e00"/><stop offset=".539" stop-color="#a11100"/><stop offset=".585" stop-color="#970000"/><stop offset=".631" stop-color="#880000"/><stop offset=".677" stop-color="#680000"/><stop offset=".724" stop-color="#310000"/><stop offset=".77" stop-color="#080000"/><stop offset=".816" stop-color="#000000"/><stop offset=".862" stop-color="#000000"/><stop offset=".908" stop-color="#000000"/><stop offset=".954" stop-color="#000000"/><stop offset="1" stop-color="#000000"/></linearGradient><linearGradient id="gB25" gradientUnits="userSpaceOnUse" x1="131.6" x2="283.1" y1="0" y2="0"><stop offset="0" stop-color="#00bcb8"/><stop offset=".043" stop-color="#00bb81"/><stop offset=".087" stop-color="#00bb4d"/><stop offset=".131" stop-color="#00ba1b"/><stop offset=".175" stop-color="#12b800"/><stop offset=".22" stop-color="#3ab700"/><stop offset=".265" stop-color="#61b500"/><stop offset=".31" stop-color="#86b400"/><stop offset=".355" stop-color="#aeb100"/><stop offset=".401" stop-color="#ae8500"/><stop offset=".447" stop-color="#ab5600"/><stop offset=".493" stop-color="#a72e00"/><stop offset=".539" stop-color="#a21000"/><stop offset=".585" stop-color="#9b0000"/><stop offset=".631" stop-color="#8d0000"/><stop offset=".678" stop-color="#730000"/><stop offset=".724" stop-color="#400000"/><stop offset=".77" stop-color="#0c0000"/><stop offset=".816" stop-color="#000000"/><stop offset=".862" stop-color="#000000"/><stop offset=".908" stop-color="#000000"/><stop offset=".954" stop-color="#000000"/><stop offset="1" stop-color="#000000"/></linearGradient><linearGradient id="gB24" gradientUnits="userSpaceOnUse" x1="135.4" x2="287" y1="0" y2="0"><stop offset="0" stop-color="#00bdb9"/><stop offset=".043" stop-color="#00bc82"/><stop offset=".087" stop-color="#00bb4d"/><stop offset=".131" stop-color="#00ba1b"/><stop offset=".175" stop-color="#11b900"/><stop offset=".22" stop-color="#3ab700"/><stop offset=".265" stop-color="#60b600"/><stop offset=".31" stop-color="#86b400"/><stop offset=".356" stop-color="#aeb200"/><stop offset=".401" stop-color="#af8600"/><stop offset=".447" stop-color="#ac5700"/><stop offset=".493" stop-color="#a82e00"/><stop offset=".539" stop-color="#a41000"/><stop offset=".585" stop-color="#9e0000"/><stop offset=".632" stop-color="#910000"/><stop offset=".678" stop-color="#7b0000"/><stop offset=".724" stop-color="#500000"/><stop offset=".77" stop-color="#190000"/><stop offset=".816" stop-color="#010000"/><stop offset=".863" stop-color="#000000"/><stop offset=".909" stop-color="#000000"/><stop offset=".954" stop-color="#000000"/><stop offset="1" stop-color="#000000"/></linearGradient><linearGradient id="gB23" gradientUnits="userSpaceOnUse" x1="139.2" x2="290.9" y1="0" y2="0"><stop offset="0" stop-color="#00bdbb"/><stop offset=".043" stop-color="#00bc83"/><stop offset=".087" stop-color="#00bb4f"/><stop offset=".131" stop-color="#00ba1d"/><stop offset=".175" stop-color="#10b900"/><stop offset=".22" stop-color="#39b800"/><stop offset=".265" stop-color="#60b600"/><stop offset=".31" stop-color="#86b500"/><stop offset=".356" stop-color="#aeb300"/><stop offset=".401" stop-color="#b08800"/><stop offset=".447" stop-color="#ad5900"/><stop offset=".493" stop-color="#a92f00"/><stop offset=".539" stop-color="#a51100"/><stop offset=".586" stop-color="#a10000"/><stop offset=".632" stop-color="#950000"/><stop offset=".678" stop-color="#830000"/><stop offset=".724" stop-color="#5f0000"/><stop offset=".77" stop-color="#280000"/><stop offset=".817" stop-color="#060000"/><stop offset=".863" stop-color="#000000"/><stop offset=".909" stop-color="#000000"/><stop offset=".954" stop-color="#000000"/><stop offset="1" stop-color="#000000"/></linearGradient><linearGradient id="gB22" gradientUnits="userSpaceOnUse" x1="142.9" x2="294.7" y1="0" y2="0"><stop offset="0" stop-color="#00bdbd"/><stop offset=".043" stop-color="#00bc86"/><stop offset=".087" stop-color="#00bc51"/><stop offset=".131" stop-color="#00bb1e"/><stop offset=".176" stop-color="#0eba00"/><stop offset=".22" stop-color="#37b800"/><stop offset=".265" stop-color="#5eb700"/><stop offset=".311" stop-color="#84b500"/><stop offset=".356" stop-color="#adb300"/><stop offset=".402" stop-color="#b18b00"/><stop offset=".448" stop-color="#ae5b00"/><stop offset=".494" stop-color="#aa3200"/><stop offset=".54" stop-color="#a61200"/><stop offset=".586" stop-color="#a20000"/><stop offset=".632" stop-color="#990000"/><stop offset=".678" stop-color="#8b0000"/><stop offset=".724" stop-color="#6e0000"/><stop offset=".771" stop-color="#370000"/><stop offset=".817" stop-color="#0a0000"/><stop offset=".863" stop-color="#000000"/><stop offset=".909" stop-color="#000000"/><stop offset=".954" stop-color="#000000"/><stop offset="1" stop-color="#000000"/></linearGradient><linearGradient id="gB21" gradientUnits="userSpaceOnUse" x1="146.7" x2="298.6" y1="0" y2="0"><stop offset="0" stop-color="#00bbbe"/><stop offset=".043" stop-color="#00bd88"/><stop offset=".087" stop-color="#00bc54"/><stop offset=".131" stop-color="#00bb21"/><stop offset=".176" stop-color="#0cba00"/><stop offset=".22" stop-color="#36b900"/><stop offset=".265" stop-color="#5cb700"/><stop offset=".311" stop-color="#82b600"/><stop offset=".356" stop-color="#abb400"/><stop offset=".402" stop-color="#b28f00"/><stop offset=".448" stop-color="#af5f00"/><stop offset=".494" stop-color="#ac3600"/><stop offset=".54" stop-color="#a71500"/><stop offset=".586" stop-color="#a30100"/><stop offset=".632" stop-color="#9d0000"/><stop offset=".679" stop-color="#8f0000"/><stop offset=".725" stop-color="#760000"/><stop offset=".771" stop-color="#470000"/><stop offset=".817" stop-color="#0f0000"/><stop offset=".863" stop-color="#000000"/><stop offset=".909" stop-color="#000000"/><stop offset=".954" stop-color="#000000"/><stop offset="1" stop-color="#000000"/></linearGradient><linearGradient id="gB20" gradientUnits="userSpaceOnUse" x1="150.4" x2="302.5" y1="0" y2="0"><stop offset="0" stop-color="#00b8be"/><stop offset=".043" stop-color="#00bd8b"/><stop offset=".087" stop-color="#00bc57"/><stop offset=".131" stop-color="#00bb24"/><stop offset=".176" stop-color="#0abb00"/><stop offset=".221" stop-color="#33b900"/><stop offset=".266" stop-color="#5ab800"/><stop offset=".311" stop-color="#7fb600"/><stop offset=".357" stop-color="#a8b500"/><stop offset=".402" stop-color="#b29400"/><stop offset=".448" stop-color="#b06400"/><stop offset=".494" stop-color="#ad3a00"/><stop offset=".54" stop-color="#a81800"/><stop offset=".586" stop-color="#a40400"/><stop offset=".633" stop-color="#a00000"/><stop offset=".679" stop-color="#930000"/><stop offset=".725" stop-color="#7f0000"/><stop offset=".771" stop-color="#570000"/><stop offset=".817" stop-color="#1f0000"/><stop offset=".863" stop-color="#030000"/><stop offset=".909" stop-color="#000000"/><stop offset=".955" stop-color="#000000"/><stop offset="1" stop-color="#000000"/></linearGradient><linearGradient id="gB19" gradientUnits="userSpaceOnUse" x1="154.2" x2="306.3" y1="0" y2="0"><stop offset="0" stop-color="#00b5be"/><stop offset=".043" stop-color="#00be8f"/><stop offset=".087" stop-color="#00bd5a"/><stop offset=".131" stop-color="#00bc27"/><stop offset=".176" stop-color="#06bb00"/><stop offset=".221" stop-color="#30ba00"/><stop offset=".266" stop-color="#57b800"/><stop offset=".311" stop-color="#7bb700"/><stop offset=".357" stop-color="#a5b500"/><stop offset=".403" stop-color="#b39900"/><stop offset=".448" stop-color="#b16a00"/><stop offset=".494" stop-color="#ae3f00"/><stop offset=".54" stop-color="#aa1d00"/><stop offset=".587" stop-color="#a50700"/><stop offset=".633" stop-color="#a10000"/><stop offset=".679" stop-color="#970000"/><stop offset=".725" stop-color="#870000"/><stop offset=".771" stop-color="#660000"/><stop offset=".817" stop-color="#2e0000"/><stop offset=".863" stop-color="#070000"/><stop offset=".909" stop-color="#000000"/><stop offset=".955" stop-color="#000000"/><stop offset="1" stop-color="#000000"/></linearGradient><linearGradient id="gB18" gradientUnits="userSpaceOnUse" x1="157.9" x2="310.2" y1="0" y2="0"><stop offset="0" stop-color="#00b2bf"/><stop offset=".043" stop-color="#00be93"/><stop offset=".087" stop-color="#00bd5e"/><stop offset=".132" stop-color="#00bc2b"/><stop offset=".176" stop-color="#02bb00"/><stop offset=".221" stop-color="#2dba00"/><stop offset=".266" stop-color="#54b900"/><stop offset=".311" stop-color="#78b700"/><stop offset=".357" stop-color="#a1b600"/><stop offset=".403" stop-color="#b49f00"/><stop offset=".449" stop-color="#b27100"/><stop offset=".495" stop-color="#af4600"/><stop offset=".541" stop-color="#ab2200"/><stop offset=".587" stop-color="#a70b00"/><stop offset=".633" stop-color="#a20000"/><stop offset=".679" stop-color="#9b0000"/><stop offset=".725" stop-color="#8d0000"/><stop offset=".771" stop-color="#720000"/><stop offset=".817" stop-color="#3e0000"/><stop offset=".863" stop-color="#0b0000"/><stop offset=".909" stop-color="#000000"/><stop offset=".955" stop-color="#000000"/><stop offset="1" stop-color="#000000"/></linearGradient><linearGradient id="gB17" gradientUnits="userSpaceOnUse" x1="161.7" x2="314" y1="0" y2="0"><stop offset="0" stop-color="#00aebf"/><stop offset=".044" stop-color="#00be97"/><stop offset=".087" stop-color="#00bd63"/><stop offset=".132" stop-color="#00bd2f"/><stop offset=".176" stop-color="#00bc00"/><stop offset=".221" stop-color="#29bb00"/><stop offset=".266" stop-color="#50b900"/><stop offset=".312" stop-color="#74b800"/><stop offset=".357" stop-color="#9cb600"/><stop offset=".403" stop-color="#b4a600"/><stop offset=".449" stop-color="#b27800"/><stop offset=".495" stop-color="#b04d00"/><stop offset=".541" stop-color="#ac2a00"/><stop offset=".587" stop-color="#a81000"/><stop offset=".633" stop-color="#a40100"/><stop offset=".679" stop-color="#9f0000"/><stop offset=".726" stop-color="#910000"/><stop offset=".772" stop-color="#7a0000"/><stop offset=".818" stop-color="#4e0000"/><stop offset=".864" stop-color="#160000"/><stop offset=".909" stop-color="#000000"/><stop offset=".955" stop-color="#000000"/><stop offset="1" stop-color="#000000"/></linearGradient><linearGradient id="gB16" gradientUnits="userSpaceOnUse" x1="165.5" x2="317.9" y1="0" y2="0"><stop offset="0" stop-color="#00a9bf"/><stop offset=".044" stop-color="#00be9c"/><stop offset=".088" stop-color="#00be67"/><stop offset=".132" stop-color="#00bd34"/><stop offset=".176" stop-color="#00bc05"/><stop offset=".221" stop-color="#25bb00"/><stop offset=".267" stop-color="#4bba00"/><stop offset=".312" stop-color="#70b800"/><stop offset=".358" stop-color="#97b700"/><stop offset=".403" stop-color="#b5ad00"/><stop offset=".449" stop-color="#b38000"/><stop offset=".495" stop-color="#b15600"/><stop offset=".541" stop-color="#ae3200"/><stop offset=".587" stop-color="#a91600"/><stop offset=".634" stop-color="#a50700"/><stop offset=".68" stop-color="#a10000"/><stop offset=".726" stop-color="#950000"/><stop offset=".772" stop-color="#820000"/><stop offset=".818" stop-color="#5e0000"/><stop offset=".864" stop-color="#260100"/><stop offset=".909" stop-color="#050000"/><stop offset=".955" stop-color="#000000"/><stop offset="1" stop-color="#000000"/></linearGradient><linearGradient id="gB15" gradientUnits="userSpaceOnUse" x1="169.2" x2="321.7" y1="0" y2="0"><stop offset="0" stop-color="#00a4bf"/><stop offset=".044" stop-color="#00bfa1"/><stop offset=".088" stop-color="#00be6d"/><stop offset=".132" stop-color="#00bd3a"/><stop offset=".177" stop-color="#00bc0a"/><stop offset=".222" stop-color="#20bc00"/><stop offset=".267" stop-color="#46ba00"/><stop offset=".312" stop-color="#6bb900"/><stop offset=".358" stop-color="#91b700"/><stop offset=".404" stop-color="#b5b400"/><stop offset=".449" stop-color="#b38900"/><stop offset=".495" stop-color="#b15f00"/><stop offset=".542" stop-color="#af3b00"/><stop offset=".588" stop-color="#aa1e00"/><stop offset=".634" stop-color="#a60d00"/><stop offset=".68" stop-color="#a20300"/><stop offset=".726" stop-color="#990000"/><stop offset=".772" stop-color="#8a0000"/><stop offset=".818" stop-color="#6c0200"/><stop offset=".864" stop-color="#360400"/><stop offset=".909" stop-color="#090100"/><stop offset=".955" stop-color="#000000"/><stop offset="1" stop-color="#000000"/></linearGradient><linearGradient id="gB14" gradientUnits="userSpaceOnUse" x1="173" x2="325.6" y1="0" y2="0"><stop offset="0" stop-color="#009ec0"/><stop offset=".044" stop-color="#00bfa8"/><stop offset=".088" stop-color="#00be73"/><stop offset=".132" stop-color="#00be40"/><stop offset=".177" stop-color="#00bd10"/><stop offset=".222" stop-color="#1abc00"/><stop offset=".267" stop-color="#41bb00"/><stop offset=".312" stop-color="#65b900"/><stop offset=".358" stop-color="#89b800"/><stop offset=".404" stop-color="#b0b600"/><stop offset=".45" stop-color="#b49300"/><stop offset=".496" stop-color="#b26a00"/><stop offset=".542" stop-color="#b04500"/><stop offset=".588" stop-color="#ac2800"/><stop offset=".634" stop-color="#a71400"/><stop offset=".68" stop-color="#a30a00"/><stop offset=".726" stop-color="#9d0400"/><stop offset=".772" stop-color="#8f0300"/><stop offset=".818" stop-color="#760600"/><stop offset=".864" stop-color="#460700"/><stop offset=".909" stop-color="#100300"/><stop offset=".955" stop-color="#000000"/><stop offset="1" stop-color="#000000"/></linearGradient><linearGradient id="gB13" gradientUnits="userSpaceOnUse" x1="176.7" x2="329.4" y1="0" y2="0"><stop offset="0" stop-color="#0099c0"/><stop offset=".044" stop-color="#00bfae"/><stop offset=".088" stop-color="#00be79"/><stop offset=".132" stop-color="#00be46"/><stop offset=".177" stop-color="#00bd16"/><stop offset=".222" stop-color="#14bc00"/><stop offset=".267" stop-color="#3bbb00"/><stop offset=".313" stop-color="#5fba00"/><stop offset=".358" stop-color="#82b800"/><stop offset=".404" stop-color="#a8b700"/><stop offset=".45" stop-color="#b59e00"/><stop offset=".496" stop-color="#b27500"/><stop offset=".542" stop-color="#b05000"/><stop offset=".588" stop-color="#ad3300"/><stop offset=".634" stop-color="#a91d00"/><stop offset=".68" stop-color="#a41100"/><stop offset=".727" stop-color="#a00b00"/><stop offset=".772" stop-color="#930a00"/><stop offset=".818" stop-color="#7e0c00"/><stop offset=".864" stop-color="#560e00"/><stop offset=".91" stop-color="#1e0800"/><stop offset=".955" stop-color="#030100"/><stop offset="1" stop-color="#000000"/></linearGradient><linearGradient id="gB12" gradientUnits="userSpaceOnUse" x1="180.5" x2="333.2" y1="0" y2="0"><stop offset="0" stop-color="#0092c0"/><stop offset=".044" stop-color="#00bfb5"/><stop offset=".088" stop-color="#00bf80"/><stop offset=".132" stop-color="#00be4d"/><stop offset=".177" stop-color="#00bd1d"/><stop offset=".222" stop-color="#0ebd00"/><stop offset=".267" stop-color="#35bc00"/><stop offset=".313" stop-color="#59ba00"/><stop offset=".358" stop-color="#79b900"/><stop offset=".404" stop-color="#a0b700"/><stop offset=".45" stop-color="#b5a900"/><stop offset=".496" stop-color="#b38100"/><stop offset=".542" stop-color="#b15d00"/><stop offset=".588" stop-color="#af3f00"/><stop offset=".635" stop-color="#aa2900"/><stop offset=".681" stop-color="#a51a00"/><stop offset=".727" stop-color="#a11300"/><stop offset=".773" stop-color="#971100"/><stop offset=".819" stop-color="#861400"/><stop offset=".864" stop-color="#651600"/><stop offset=".91" stop-color="#2e0f00"/><stop offset=".955" stop-color="#070300"/><stop offset="1" stop-color="#000000"/></linearGradient><linearGradient id="gB11" gradientUnits="userSpaceOnUse" x1="184.2" x2="337" y1="0" y2="0"><stop offset="0" stop-color="#008bc0"/><stop offset=".044" stop-color="#00c0bd"/><stop offset=".088" stop-color="#00bf87"/><stop offset=".132" stop-color="#00be55"/><stop offset=".177" stop-color="#00be25"/><stop offset=".222" stop-color="#06bd00"/><stop offset=".268" stop-color="#2ebc00"/><stop offset=".313" stop-color="#52bb00"/><stop offset=".359" stop-color="#73b900"/><stop offset=".405" stop-color="#97b800"/><stop offset=".45" stop-color="#b6b300"/><stop offset=".497" stop-color="#b48d00"/><stop offset=".543" stop-color="#b26a00"/><stop offset=".589" stop-color="#b04c00"/><stop offset=".635" stop-color="#ab3500"/><stop offset=".681" stop-color="#a72600"/><stop offset=".727" stop-color="#a31e00"/><stop offset=".773" stop-color="#9b1c00"/><stop offset=".819" stop-color="#8c1e00"/><stop offset=".864" stop-color="#712000"/><stop offset=".91" stop-color="#3e1900"/><stop offset=".955" stop-color="#0c0700"/><stop offset="1" stop-color="#000000"/></linearGradient><linearGradient id="gB10" gradientUnits="userSpaceOnUse" x1="188" x2="340.9" y1="0" y2="0"><stop offset="0" stop-color="#0084c0"/><stop offset=".044" stop-color="#00bac0"/><stop offset=".088" stop-color="#00bf8f"/><stop offset=".133" stop-color="#00be5d"/><stop offset=".177" stop-color="#00be2c"/><stop offset=".222" stop-color="#00bd00"/><stop offset=".268" stop-color="#27bc00"/><stop offset=".313" stop-color="#4bbb00"/><stop offset=".359" stop-color="#6cba00"/><stop offset=".405" stop-color="#8db800"/><stop offset=".451" stop-color="#afb600"/><stop offset=".497" stop-color="#b49b00"/><stop offset=".543" stop-color="#b27800"/><stop offset=".589" stop-color="#b05a00"/><stop offset=".635" stop-color="#ad4300"/><stop offset=".681" stop-color="#a83300"/><stop offset=".727" stop-color="#a42b00"/><stop offset=".773" stop-color="#9e2800"/><stop offset=".819" stop-color="#912a00"/><stop offset=".864" stop-color="#7a2c00"/><stop offset=".91" stop-color="#4e2500"/><stop offset=".955" stop-color="#160e00"/><stop offset="1" stop-color="#020100"/></linearGradient><linearGradient id="gB9" gradientUnits="userSpaceOnUse" x1="191.7" x2="344.7" y1="0" y2="0"><stop offset="0" stop-color="#007cc1"/><stop offset=".044" stop-color="#00b2c0"/><stop offset=".088" stop-color="#00bf97"/><stop offset=".133" stop-color="#00bf65"/><stop offset=".177" stop-color="#00be35"/><stop offset=".223" stop-color="#00bd08"/><stop offset=".268" stop-color="#1fbd00"/><stop offset=".313" stop-color="#42bc00"/><stop offset=".359" stop-color="#64ba00"/><stop offset=".405" stop-color="#83b900"/><stop offset=".451" stop-color="#a4b700"/><stop offset=".497" stop-color="#b5a900"/><stop offset=".543" stop-color="#b38700"/><stop offset=".589" stop-color="#b16900"/><stop offset=".635" stop-color="#ae5200"/><stop offset=".681" stop-color="#a94100"/><stop offset=".727" stop-color="#a53800"/><stop offset=".773" stop-color="#a13500"/><stop offset=".819" stop-color="#953700"/><stop offset=".865" stop-color="#833a00"/><stop offset=".91" stop-color="#5e3400"/><stop offset=".955" stop-color="#261b00"/><stop offset="1" stop-color="#070600"/></linearGradient><linearGradient id="gB8" gradientUnits="userSpaceOnUse" x1="195.5" x2="348.5" y1="0" y2="0"><stop offset="0" stop-color="#0073c1"/><stop offset=".044" stop-color="#00a9c0"/><stop offset=".088" stop-color="#00c0a1"/><stop offset=".133" stop-color="#00bf6f"/><stop offset=".178" stop-color="#00be3e"/><stop offset=".223" stop-color="#00be11"/><stop offset=".268" stop-color="#16bd00"/><stop offset=".314" stop-color="#3abc00"/><stop offset=".359" stop-color="#5bbb00"/><stop offset=".405" stop-color="#78b900"/><stop offset=".451" stop-color="#9ab800"/><stop offset=".497" stop-color="#b6b500"/><stop offset=".543" stop-color="#b39500"/><stop offset=".59" stop-color="#b17a00"/><stop offset=".636" stop-color="#af6200"/><stop offset=".682" stop-color="#ab5100"/><stop offset=".728" stop-color="#a64700"/><stop offset=".773" stop-color="#a24400"/><stop offset=".819" stop-color="#994600"/><stop offset=".865" stop-color="#894800"/><stop offset=".91" stop-color="#6b4400"/><stop offset=".955" stop-color="#362a00"/><stop offset="1" stop-color="#0c0b00"/></linearGradient><linearGradient id="gB7" gradientUnits="userSpaceOnUse" x1="199.2" x2="352.2" y1="0" y2="0"><stop offset="0" stop-color="#006ac1"/><stop offset=".044" stop-color="#00a1c0"/><stop offset=".088" stop-color="#00c0aa"/><stop offset=".133" stop-color="#00bf78"/><stop offset=".178" stop-color="#00be48"/><stop offset=".223" stop-color="#00be1a"/><stop offset=".268" stop-color="#0dbd00"/><stop offset=".314" stop-color="#31bc00"/><stop offset=".36" stop-color="#52bb00"/><stop offset=".406" stop-color="#70ba00"/><stop offset=".452" stop-color="#8eb800"/><stop offset=".498" stop-color="#abb600"/><stop offset=".544" stop-color="#b4a500"/><stop offset=".59" stop-color="#b28900"/><stop offset=".636" stop-color="#b07300"/><stop offset=".682" stop-color="#ac6200"/><stop offset=".728" stop-color="#a75700"/><stop offset=".774" stop-color="#a35400"/><stop offset=".819" stop-color="#9d5500"/><stop offset=".865" stop-color="#8f5800"/><stop offset=".91" stop-color="#765500"/><stop offset=".955" stop-color="#463c00"/><stop offset="1" stop-color="#141400"/></linearGradient><linearGradient id="gB6" gradientUnits="userSpaceOnUse" x1="203" x2="356" y1="0" y2="0"><stop offset="0" stop-color="#0060c1"/><stop offset=".044" stop-color="#0098c1"/><stop offset=".088" stop-color="#00c0b4"/><stop offset=".133" stop-color="#00bf82"/><stop offset=".178" stop-color="#00bf52"/><stop offset=".223" stop-color="#00be25"/><stop offset=".268" stop-color="#03bd00"/><stop offset=".314" stop-color="#28bd00"/><stop offset=".36" stop-color="#48bb00"/><stop offset=".406" stop-color="#66ba00"/><stop offset=".452" stop-color="#82b900"/><stop offset=".498" stop-color="#9eb700"/><stop offset=".544" stop-color="#b5b300"/><stop offset=".59" stop-color="#b39900"/><stop offset=".636" stop-color="#b18300"/><stop offset=".682" stop-color="#ae7400"/><stop offset=".728" stop-color="#a96800"/><stop offset=".774" stop-color="#a46400"/><stop offset=".82" stop-color="#9f6600"/><stop offset=".865" stop-color="#936800"/><stop offset=".91" stop-color="#7f6600"/><stop offset=".955" stop-color="#565100"/><stop offset="1" stop-color="#222500"/></linearGradient><linearGradient id="gB5" gradientUnits="userSpaceOnUse" x1="206.7" x2="359.8" y1="0" y2="0"><stop offset="0" stop-color="#0056c1"/><stop offset=".044" stop-color="#008dc1"/><stop offset=".088" stop-color="#00c0be"/><stop offset=".133" stop-color="#00c08c"/><stop offset=".178" stop-color="#00bf5d"/><stop offset=".223" stop-color="#00be2f"/><stop offset=".269" stop-color="#00be05"/><stop offset=".314" stop-color="#1ebd00"/><stop offset=".36" stop-color="#3ebc00"/><stop offset=".406" stop-color="#5cbb00"/><stop offset=".452" stop-color="#76b900"/><stop offset=".498" stop-color="#92b800"/><stop offset=".544" stop-color="#a9b500"/><stop offset=".59" stop-color="#b3aa00"/><stop offset=".636" stop-color="#b19500"/><stop offset=".682" stop-color="#af8500"/><stop offset=".728" stop-color="#aa7a00"/><stop offset=".774" stop-color="#a67500"/><stop offset=".82" stop-color="#a27700"/><stop offset=".865" stop-color="#987900"/><stop offset=".91" stop-color="#867700"/><stop offset=".955" stop-color="#646400"/><stop offset="1" stop-color="#2e3500"/></linearGradient><linearGradient id="gB4" gradientUnits="userSpaceOnUse" x1="210.5" x2="363.6" y1="0" y2="0"><stop offset="0" stop-color="#004cc2"/><stop offset=".044" stop-color="#0083c1"/><stop offset=".088" stop-color="#00b7c0"/><stop offset=".133" stop-color="#00c096"/><stop offset=".178" stop-color="#00bf68"/><stop offset=".223" stop-color="#00be3b"/><stop offset=".269" stop-color="#00be11"/><stop offset=".315" stop-color="#13bd00"/><stop offset=".36" stop-color="#34bc00"/><stop offset=".406" stop-color="#51bb00"/><stop offset=".452" stop-color="#6cba00"/><stop offset=".498" stop-color="#85b800"/><stop offset=".544" stop-color="#9cb600"/><stop offset=".591" stop-color="#afb400"/><stop offset=".637" stop-color="#b2a700"/><stop offset=".683" stop-color="#b09700"/><stop offset=".729" stop-color="#ac8c00"/><stop offset=".774" stop-color="#a78600"/><stop offset=".82" stop-color="#a38700"/><stop offset=".865" stop-color="#9b8b00"/><stop offset=".91" stop-color="#8c8800"/><stop offset=".955" stop-color="#687100"/><stop offset="1" stop-color="#374500"/></linearGradient><linearGradient id="gB3" gradientUnits="userSpaceOnUse" x1="214.2" x2="367.3" y1="0" y2="0"><stop offset="0" stop-color="#0040c2"/><stop offset=".044" stop-color="#0078c1"/><stop offset=".089" stop-color="#00acc1"/><stop offset=".133" stop-color="#00c0a2"/><stop offset=".178" stop-color="#00bf73"/><stop offset=".224" stop-color="#00bf46"/><stop offset=".269" stop-color="#00be1d"/><stop offset=".315" stop-color="#08bd00"/><stop offset=".361" stop-color="#29bc00"/><stop offset=".407" stop-color="#46bb00"/><stop offset=".453" stop-color="#61ba00"/><stop offset=".499" stop-color="#77b900"/><stop offset=".545" stop-color="#8eb700"/><stop offset=".591" stop-color="#a1b400"/><stop offset=".637" stop-color="#afb200"/><stop offset=".683" stop-color="#b0a800"/><stop offset=".729" stop-color="#ad9f00"/><stop offset=".774" stop-color="#a89800"/><stop offset=".82" stop-color="#a49900"/><stop offset=".865" stop-color="#9d9a00"/><stop offset=".911" stop-color="#899100"/><stop offset=".955" stop-color="#687b00"/><stop offset="1" stop-color="#3d5500"/></linearGradient><linearGradient id="gB2" gradientUnits="userSpaceOnUse" x1="217.9" x2="371.1" y1="0" y2="0"><stop offset="0" stop-color="#0034c2"/><stop offset=".044" stop-color="#006dc1"/><stop offset=".089" stop-color="#00a1c1"/><stop offset=".133" stop-color="#00c0ae"/><stop offset=".178" stop-color="#00c07f"/><stop offset=".224" stop-color="#00bf52"/><stop offset=".269" stop-color="#00be29"/><stop offset=".315" stop-color="#00be02"/><stop offset=".361" stop-color="#1ebd00"/><stop offset=".407" stop-color="#3bbc00"/><stop offset=".453" stop-color="#55ba00"/><stop offset=".499" stop-color="#6cb900"/><stop offset=".545" stop-color="#80b700"/><stop offset=".591" stop-color="#93b500"/><stop offset=".637" stop-color="#a1b300"/><stop offset=".683" stop-color="#aab100"/><stop offset=".729" stop-color="#adae00"/><stop offset=".775" stop-color="#aaa800"/><stop offset=".82" stop-color="#a3a500"/><stop offset=".866" stop-color="#96a000"/><stop offset=".911" stop-color="#829600"/><stop offset=".955" stop-color="#648200"/><stop offset="1" stop-color="#406300"/></linearGradient><linearGradient id="gB1" gradientUnits="userSpaceOnUse" x1="221.6" x2="374.8" y1="0" y2="0"><stop offset="0" stop-color="#0027c2"/><stop offset=".044" stop-color="#0061c2"/><stop offset=".089" stop-color="#0095c1"/><stop offset=".134" stop-color="#00c0ba"/><stop offset=".179" stop-color="#00c08b"/><stop offset=".224" stop-color="#00bf5f"/><stop offset=".269" stop-color="#00bf35"/><stop offset=".315" stop-color="#00be0e"/><stop offset=".361" stop-color="#11bd00"/><stop offset=".407" stop-color="#2fbc00"/><stop offset=".453" stop-color="#49bb00"/><stop offset=".499" stop-color="#60ba00"/><stop offset=".545" stop-color="#73b800"/><stop offset=".591" stop-color="#84b600"/><stop offset=".637" stop-color="#92b400"/><stop offset=".683" stop-color="#9bb200"/><stop offset=".729" stop-color="#9faf00"/><stop offset=".775" stop-color="#9dab00"/><stop offset=".82" stop-color="#96a700"/><stop offset=".866" stop-color="#8ba200"/><stop offset=".911" stop-color="#789900"/><stop offset=".956" stop-color="#5e8900"/><stop offset="1" stop-color="#416f00"/></linearGradient><linearGradient id="gB0" gradientUnits="userSpaceOnUse" x1="225.3" x2="378.5" y1="0" y2="0"><stop offset="0" stop-color="#001ac2"/><stop offset=".044" stop-color="#0054c2"/><stop offset=".089" stop-color="#0089c1"/><stop offset=".134" stop-color="#00bac1"/><stop offset=".179" stop-color="#00c097"/><stop offset=".224" stop-color="#00bf6c"/><stop offset=".27" stop-color="#00bf42"/><stop offset=".315" stop-color="#00be1c"/><stop offset=".361" stop-color="#05be00"/><stop offset=".407" stop-color="#23bc00"/><stop offset=".453" stop-color="#3dbb00"/><stop offset=".499" stop-color="#54ba00"/><stop offset=".546" stop-color="#67b900"/><stop offset=".592" stop-color="#75b600"/><stop offset=".638" stop-color="#82b400"/><stop offset=".684" stop-color="#8cb200"/><stop offset=".729" stop-color="#90b000"/><stop offset=".775" stop-color="#8fac00"/><stop offset=".821" stop-color="#88a800"/><stop offset=".866" stop-color="#7ea400"/><stop offset=".911" stop-color="#6d9c00"/><stop offset=".956" stop-color="#588f00"/><stop offset="1" stop-color="#407a00"/></linearGradient></defs>
<g stroke-width="0.6" stroke-linejoin="round"><path d="M81.4,623L87.7,614.4L94.2,606.3L100.7,598.7L107.2,591.6L113.8,585.1L120.5,579L127.2,573.5L134,568.4L140.8,563.9L147.6,559.8L154.5,556.2L161.3,553.1L168.3,550.4L175.2,548.2L182.1,546.4L189.1,545.1L196.1,544.2L203,543.7L210,543.7L217,544L223.9,544.8L230.9,546L227,546.3L220.1,545.1L213.1,544.3L206.2,543.9L199.2,544L192.2,544.4L185.3,545.3L178.3,546.7L171.4,548.4L164.4,550.6L157.5,553.3L150.6,556.4L143.8,560L137,564L130.2,568.6L123.4,573.6L116.7,579.1L110.1,585.1L103.5,591.6L96.9,598.7L90.5,606.2L84,614.3L77.7,622.9Z" fill="url(#gB39)" stroke="url(#gB39)"/><path d="M85.1,623.2L91.4,614.6L97.9,606.4L104.4,598.8L111,591.7L117.6,585.1L124.3,579L131,573.5L137.8,568.4L144.6,563.8L151.4,559.7L158.3,556.1L165.2,552.9L172.1,550.2L179,548L186,546.2L192.9,544.9L199.9,544L206.9,543.5L213.9,543.4L220.8,543.8L227.8,544.5L234.7,545.7L230.9,546L223.9,544.8L217,544L210,543.7L203,543.7L196.1,544.2L189.1,545.1L182.1,546.4L175.2,548.2L168.3,550.4L161.3,553.1L154.5,556.2L147.6,559.8L140.8,563.9L134,568.4L127.2,573.5L120.5,579L113.8,585.1L107.2,591.6L100.7,598.7L94.2,606.3L87.7,614.4L81.4,623Z" fill="url(#gB38)" stroke="url(#gB38)"/><path d="M88.8,623.5L95.1,614.8L101.6,606.6L108.1,598.9L114.7,591.8L121.4,585.2L128,579.1L134.8,573.5L141.6,568.4L148.4,563.8L155.2,559.7L162.1,556L169,552.9L175.9,550.1L182.9,547.9L189.8,546.1L196.8,544.7L203.8,543.8L210.7,543.3L217.7,543.2L224.7,543.6L231.6,544.3L238.6,545.5L234.7,545.7L227.8,544.5L220.8,543.8L213.9,543.4L206.9,543.5L199.9,544L192.9,544.9L186,546.2L179,548L172.1,550.2L165.2,552.9L158.3,556.1L151.4,559.7L144.6,563.8L137.8,568.4L131,573.5L124.3,579L117.6,585.1L111,591.7L104.4,598.8L97.9,606.4L91.4,614.6L85.1,623.2Z" fill="url(#gB37)" stroke="url(#gB37)"/><path d="M92.5,623.8L98.9,615.1L105.3,606.8L111.9,599.2L118.5,592L125.1,585.4L131.8,579.2L138.6,573.6L145.4,568.5L152.2,563.8L159,559.7L165.9,556L172.8,552.8L179.8,550.1L186.7,547.8L193.7,546L200.7,544.6L207.6,543.7L214.6,543.2L221.6,543.1L228.6,543.4L235.5,544.2L242.5,545.3L238.6,545.5L231.6,544.3L224.7,543.6L217.7,543.2L210.7,543.3L203.8,543.8L196.8,544.7L189.8,546.1L182.9,547.9L175.9,550.1L169,552.9L162.1,556L155.2,559.7L148.4,563.8L141.6,568.4L134.8,573.5L128,579.1L121.4,585.2L114.7,591.8L108.1,598.9L101.6,606.6L95.1,614.8L88.8,623.5Z" fill="url(#gB36)" stroke="url(#gB36)"/><path d="M96.2,624.2L102.6,615.4L109.1,607.2L115.6,599.4L122.2,592.2L128.9,585.6L135.6,579.4L142.4,573.8L149.2,568.6L156,563.9L162.9,559.8L169.8,556.1L176.7,552.9L183.6,550.1L190.6,547.8L197.5,546L204.5,544.6L211.5,543.7L218.5,543.1L225.5,543L232.4,543.4L239.4,544.1L246.3,545.3L242.5,545.3L235.5,544.2L228.6,543.4L221.6,543.1L214.6,543.2L207.6,543.7L200.7,544.6L193.7,546L186.7,547.8L179.8,550.1L172.8,552.8L165.9,556L159,559.7L152.2,563.8L145.4,568.5L138.6,573.6L131.8,579.2L125.1,585.4L118.5,592L111.9,599.2L105.3,606.8L98.9,615.1L92.5,623.8Z" fill="url(#gB35)" stroke="url(#gB35)"/><path d="M99.9,624.7L106.3,615.8L112.8,607.5L119.4,599.8L126,592.6L132.7,585.8L139.4,579.7L146.2,574L153,568.8L159.8,564.1L166.7,559.9L173.6,556.2L180.5,553L187.5,550.2L194.4,547.9L201.4,546L208.4,544.6L215.4,543.7L222.3,543.1L229.3,543L236.3,543.4L243.3,544.1L250.2,545.2L246.3,545.3L239.4,544.1L232.4,543.4L225.5,543L218.5,543.1L211.5,543.7L204.5,544.6L197.5,546L190.6,547.8L183.6,550.1L176.7,552.9L169.8,556.1L162.9,559.8L156,563.9L149.2,568.6L142.4,573.8L135.6,579.4L128.9,585.6L122.2,592.2L115.6,599.4L109.1,607.2L102.6,615.4L96.2,624.2Z" fill="url(#gB34)" stroke="url(#gB34)"/><path d="M103.6,625.2L110.1,616.3L116.6,608L123.1,600.2L129.8,592.9L136.5,586.2L143.2,580L150,574.3L156.8,569L163.6,564.3L170.5,560.1L177.4,556.4L184.4,553.1L191.3,550.3L198.3,548L205.3,546.1L212.2,544.7L219.2,543.7L226.2,543.2L233.2,543.1L240.2,543.4L247.1,544.1L254.1,545.2L250.2,545.2L243.3,544.1L236.3,543.4L229.3,543L222.3,543.1L215.4,543.7L208.4,544.6L201.4,546L194.4,547.9L187.5,550.2L180.5,553L173.6,556.2L166.7,559.9L159.8,564.1L153,568.8L146.2,574L139.4,579.7L132.7,585.8L126,592.6L119.4,599.8L112.8,607.5L106.3,615.8L99.9,624.7Z" fill="url(#gB33)" stroke="url(#gB33)"/><path d="M107.3,625.8L113.8,616.9L120.3,608.5L126.9,600.7L133.6,593.4L140.2,586.6L147,580.3L153.8,574.6L160.6,569.4L167.5,564.6L174.3,560.4L181.3,556.6L188.2,553.3L195.2,550.5L202.1,548.2L209.1,546.3L216.1,544.9L223.1,543.9L230.1,543.3L237.1,543.2L244,543.5L251,544.2L257.9,545.3L254.1,545.2L247.1,544.1L240.2,543.4L233.2,543.1L226.2,543.2L219.2,543.7L212.2,544.7L205.3,546.1L198.3,548L191.3,550.3L184.4,553.1L177.4,556.4L170.5,560.1L163.6,564.3L156.8,569L150,574.3L143.2,580L136.5,586.2L129.8,592.9L123.1,600.2L116.6,608L110.1,616.3L103.6,625.2Z" fill="url(#gB32)" stroke="url(#gB32)"/><path d="M111.1,626.5L117.5,617.5L124.1,609.1L130.7,601.2L137.3,593.9L144,587.1L150.8,580.8L157.6,575L164.4,569.7L171.3,565L178.2,560.7L185.1,556.9L192.1,553.6L199,550.8L206,548.4L213,546.5L220,545.1L227,544.1L234,543.5L240.9,543.4L247.9,543.6L254.9,544.3L261.8,545.5L257.9,545.3L251,544.2L244,543.5L237.1,543.2L230.1,543.3L223.1,543.9L216.1,544.9L209.1,546.3L202.1,548.2L195.2,550.5L188.2,553.3L181.3,556.6L174.3,560.4L167.5,564.6L160.6,569.4L153.8,574.6L147,580.3L140.2,586.6L133.6,593.4L126.9,600.7L120.3,608.5L113.8,616.9L107.3,625.8Z" fill="url(#gB31)" stroke="url(#gB31)"/><path d="M114.8,627.2L121.3,618.2L127.8,609.7L134.4,601.8L141.1,594.4L147.8,587.6L154.6,581.3L161.4,575.5L168.2,570.2L175.1,565.4L182,561.1L189,557.3L195.9,554L202.9,551.1L209.9,548.7L216.9,546.8L223.9,545.3L230.8,544.3L237.8,543.7L244.8,543.6L251.8,543.9L258.8,544.6L265.7,545.7L261.8,545.5L254.9,544.3L247.9,543.6L240.9,543.4L234,543.5L227,544.1L220,545.1L213,546.5L206,548.4L199,550.8L192.1,553.6L185.1,556.9L178.2,560.7L171.3,565L164.4,569.7L157.6,575L150.8,580.8L144,587.1L137.3,593.9L130.7,601.2L124.1,609.1L117.5,617.5L111.1,626.5Z" fill="url(#gB30)" stroke="url(#gB30)"/><path d="M118.5,628L125,618.9L131.6,610.4L138.2,602.5L144.9,595.1L151.6,588.2L158.4,581.8L165.2,576L172.1,570.7L179,565.9L185.9,561.6L192.8,557.7L199.8,554.4L206.7,551.5L213.7,549.1L220.7,547.2L227.7,545.7L234.7,544.6L241.7,544L248.7,543.9L255.7,544.1L262.6,544.8L269.6,545.9L265.7,545.7L258.8,544.6L251.8,543.9L244.8,543.6L237.8,543.7L230.8,544.3L223.9,545.3L216.9,546.8L209.9,548.7L202.9,551.1L195.9,554L189,557.3L182,561.1L175.1,565.4L168.2,570.2L161.4,575.5L154.6,581.3L147.8,587.6L141.1,594.4L134.4,601.8L127.8,609.7L121.3,618.2L114.8,627.2Z" fill="url(#gB29)" stroke="url(#gB29)"/><path d="M122.3,628.8L128.8,619.7L135.4,611.2L142,603.2L148.7,595.8L155.4,588.9L162.2,582.5L169,576.6L175.9,571.3L182.8,566.4L189.7,562.1L196.7,558.2L203.6,554.8L210.6,552L217.6,549.5L224.6,547.6L231.6,546.1L238.6,545L245.6,544.4L252.6,544.2L259.6,544.5L266.5,545.1L273.4,546.2L269.6,545.9L262.6,544.8L255.7,544.1L248.7,543.9L241.7,544L234.7,544.6L227.7,545.7L220.7,547.2L213.7,549.1L206.7,551.5L199.8,554.4L192.8,557.7L185.9,561.6L179,565.9L172.1,570.7L165.2,576L158.4,581.8L151.6,588.2L144.9,595.1L138.2,602.5L131.6,610.4L125,618.9L118.5,628Z" fill="url(#gB28)" stroke="url(#gB28)"/><path d="M126,629.8L132.5,620.6L139.1,612L145.8,604L152.5,596.5L159.2,589.6L166,583.2L172.9,577.3L179.7,571.9L186.6,567L193.6,562.7L200.5,558.8L207.5,555.4L214.5,552.5L221.5,550L228.5,548L235.5,546.5L242.5,545.5L249.5,544.8L256.5,544.6L263.4,544.9L270.4,545.5L277.3,546.6L273.4,546.2L266.5,545.1L259.6,544.5L252.6,544.2L245.6,544.4L238.6,545L231.6,546.1L224.6,547.6L217.6,549.5L210.6,552L203.6,554.8L196.7,558.2L189.7,562.1L182.8,566.4L175.9,571.3L169,576.6L162.2,582.5L155.4,588.9L148.7,595.8L142,603.2L135.4,611.2L128.8,619.7L122.3,628.8Z" fill="url(#gB27)" stroke="url(#gB27)"/><path d="M129.8,630.8L136.3,621.6L142.9,613L149.6,604.9L156.3,597.4L163,590.4L169.8,583.9L176.7,578L183.6,572.6L190.5,567.7L197.4,563.3L204.4,559.4L211.3,556L218.3,553L225.3,550.6L232.3,548.6L239.3,547L246.4,546L253.4,545.3L260.3,545.1L267.3,545.3L274.3,546L281.2,547L277.3,546.6L270.4,545.5L263.4,544.9L256.5,544.6L249.5,544.8L242.5,545.5L235.5,546.5L228.5,548L221.5,550L214.5,552.5L207.5,555.4L200.5,558.8L193.6,562.7L186.6,567L179.7,571.9L172.9,577.3L166,583.2L159.2,589.6L152.5,596.5L145.8,604L139.1,612L132.5,620.6L126,629.8Z" fill="url(#gB26)" stroke="url(#gB26)"/><path d="M133.5,631.8L140.1,622.6L146.7,613.9L153.3,605.8L160.1,598.3L166.8,591.3L173.6,584.8L180.5,578.8L187.4,573.4L194.3,568.4L201.2,564L208.2,560.1L215.2,556.6L222.2,553.7L229.2,551.2L236.2,549.2L243.2,547.6L250.2,546.5L257.2,545.9L264.2,545.6L271.2,545.9L278.1,546.5L285.1,547.5L281.2,547L274.3,546L267.3,545.3L260.3,545.1L253.4,545.3L246.4,546L239.3,547L232.3,548.6L225.3,550.6L218.3,553L211.3,556L204.4,559.4L197.4,563.3L190.5,567.7L183.6,572.6L176.7,578L169.8,583.9L163,590.4L156.3,597.4L149.6,604.9L142.9,613L136.3,621.6L129.8,630.8Z" fill="url(#gB25)" stroke="url(#gB25)"/><path d="M137.3,633L143.8,623.7L150.5,615L157.1,606.8L163.9,599.3L170.6,592.2L177.5,585.7L184.3,579.7L191.2,574.2L198.1,569.3L205.1,564.8L212.1,560.8L219.1,557.4L226.1,554.4L233.1,551.9L240.1,549.8L247.1,548.3L254.1,547.1L261.1,546.5L268.1,546.2L275.1,546.4L282,547.1L288.9,548.1L285.1,547.5L278.1,546.5L271.2,545.9L264.2,545.6L257.2,545.9L250.2,546.5L243.2,547.6L236.2,549.2L229.2,551.2L222.2,553.7L215.2,556.6L208.2,560.1L201.2,564L194.3,568.4L187.4,573.4L180.5,578.8L173.6,584.8L166.8,591.3L160.1,598.3L153.3,605.8L146.7,613.9L140.1,622.6L133.5,631.8Z" fill="url(#gB24)" stroke="url(#gB24)"/><path d="M141,634.2L147.6,624.9L154.2,616.1L160.9,607.9L167.7,600.3L174.4,593.2L181.3,586.6L188.1,580.6L195,575.1L202,570.1L208.9,565.6L215.9,561.7L222.9,558.2L229.9,555.2L236.9,552.6L244,550.6L251,549L258,547.8L265,547.1L272,546.9L278.9,547.1L285.9,547.7L292.8,548.7L288.9,548.1L282,547.1L275.1,546.4L268.1,546.2L261.1,546.5L254.1,547.1L247.1,548.3L240.1,549.8L233.1,551.9L226.1,554.4L219.1,557.4L212.1,560.8L205.1,564.8L198.1,569.3L191.2,574.2L184.3,579.7L177.5,585.7L170.6,592.2L163.9,599.3L157.1,606.8L150.5,615L143.8,623.7L137.3,633Z" fill="url(#gB23)" stroke="url(#gB23)"/><path d="M144.8,635.4L151.4,626.1L158,617.3L164.7,609.1L171.5,601.4L178.3,594.3L185.1,587.7L192,581.6L198.9,576.1L205.8,571.1L212.8,566.6L219.8,562.5L226.8,559L233.8,556L240.8,553.5L247.8,551.4L254.8,549.8L261.9,548.6L268.9,547.9L275.8,547.6L282.8,547.8L289.8,548.4L296.7,549.4L292.8,548.7L285.9,547.7L278.9,547.1L272,546.9L265,547.1L258,547.8L251,549L244,550.6L236.9,552.6L229.9,555.2L222.9,558.2L215.9,561.7L208.9,565.6L202,570.1L195,575.1L188.1,580.6L181.3,586.6L174.4,593.2L167.7,600.3L160.9,607.9L154.2,616.1L147.6,624.9L141,634.2Z" fill="url(#gB22)" stroke="url(#gB22)"/><path d="M148.5,636.8L155.1,627.4L161.8,618.6L168.5,610.3L175.3,602.6L182.1,595.4L188.9,588.8L195.8,582.7L202.7,577.1L209.7,572.1L216.6,567.5L223.6,563.5L230.6,560L237.6,556.9L244.7,554.3L251.7,552.2L258.7,550.6L265.7,549.4L272.7,548.7L279.7,548.4L286.7,548.6L293.6,549.1L300.5,550.1L296.7,549.4L289.8,548.4L282.8,547.8L275.8,547.6L268.9,547.9L261.9,548.6L254.8,549.8L247.8,551.4L240.8,553.5L233.8,556L226.8,559L219.8,562.5L212.8,566.6L205.8,571.1L198.9,576.1L192,581.6L185.1,587.7L178.3,594.3L171.5,601.4L164.7,609.1L158,617.3L151.4,626.1L144.8,635.4Z" fill="url(#gB21)" stroke="url(#gB21)"/><path d="M152.3,638.2L158.9,628.8L165.6,619.9L172.3,611.6L179.1,603.8L185.9,596.6L192.7,590L199.6,583.8L206.5,578.2L213.5,573.2L220.5,568.6L227.5,564.5L234.5,561L241.5,557.9L248.5,555.3L255.6,553.2L262.6,551.5L269.6,550.3L276.6,549.6L283.6,549.3L290.5,549.4L297.5,550L304.4,551L300.5,550.1L293.6,549.1L286.7,548.6L279.7,548.4L272.7,548.7L265.7,549.4L258.7,550.6L251.7,552.2L244.7,554.3L237.6,556.9L230.6,560L223.6,563.5L216.6,567.5L209.7,572.1L202.7,577.1L195.8,582.7L188.9,588.8L182.1,595.4L175.3,602.6L168.5,610.3L161.8,618.6L155.1,627.4L148.5,636.8Z" fill="url(#gB20)" stroke="url(#gB20)"/><path d="M156.1,639.7L162.7,630.2L169.4,621.3L176.1,613L182.9,605.2L189.7,597.9L196.5,591.2L203.4,585.1L210.4,579.4L217.3,574.3L224.3,569.7L231.3,565.6L238.3,562L245.4,558.9L252.4,556.3L259.4,554.2L266.4,552.5L273.5,551.3L280.5,550.5L287.5,550.2L294.4,550.3L301.3,550.9L308.3,551.8L304.4,551L297.5,550L290.5,549.4L283.6,549.3L276.6,549.6L269.6,550.3L262.6,551.5L255.6,553.2L248.5,555.3L241.5,557.9L234.5,561L227.5,564.5L220.5,568.6L213.5,573.2L206.5,578.2L199.6,583.8L192.7,590L185.9,596.6L179.1,603.8L172.3,611.6L165.6,619.9L158.9,628.8L152.3,638.2Z" fill="url(#gB19)" stroke="url(#gB19)"/><path d="M159.8,641.3L166.4,631.8L173.1,622.8L179.9,614.4L186.7,606.6L193.5,599.3L200.4,592.5L207.3,586.4L214.2,580.7L221.2,575.5L228.2,570.9L235.2,566.8L242.2,563.2L249.2,560L256.3,557.4L263.3,555.2L270.3,553.5L277.3,552.3L284.3,551.5L291.3,551.2L298.3,551.3L305.2,551.8L312.1,552.8L308.3,551.8L301.3,550.9L294.4,550.3L287.5,550.2L280.5,550.5L273.5,551.3L266.4,552.5L259.4,554.2L252.4,556.3L245.4,558.9L238.3,562L231.3,565.6L224.3,569.7L217.3,574.3L210.4,579.4L203.4,585.1L196.5,591.2L189.7,597.9L182.9,605.2L176.1,613L169.4,621.3L162.7,630.2L156.1,639.7Z" fill="url(#gB18)" stroke="url(#gB18)"/><path d="M163.6,642.9L170.2,633.4L176.9,624.4L183.7,615.9L190.5,608L197.3,600.7L204.2,593.9L211.1,587.7L218,582L225,576.8L232,572.2L239,568L246,564.4L253.1,561.2L260.1,558.5L267.1,556.3L274.2,554.6L281.2,553.4L288.2,552.6L295.2,552.2L302.1,552.3L309.1,552.8L316,553.8L312.1,552.8L305.2,551.8L298.3,551.3L291.3,551.2L284.3,551.5L277.3,552.3L270.3,553.5L263.3,555.2L256.3,557.4L249.2,560L242.2,563.2L235.2,566.8L228.2,570.9L221.2,575.5L214.2,580.7L207.3,586.4L200.4,592.5L193.5,599.3L186.7,606.6L179.9,614.4L173.1,622.8L166.4,631.8L159.8,641.3Z" fill="url(#gB17)" stroke="url(#gB17)"/><path d="M167.3,644.7L174,635L180.7,626L187.4,617.5L194.3,609.6L201.1,602.2L208,595.4L214.9,589.1L221.9,583.4L228.8,578.2L235.8,573.5L242.9,569.3L249.9,565.6L256.9,562.5L264,559.8L271,557.5L278,555.8L285,554.5L292,553.7L299,553.3L306,553.4L312.9,553.9L319.8,554.8L316,553.8L309.1,552.8L302.1,552.3L295.2,552.2L288.2,552.6L281.2,553.4L274.2,554.6L267.1,556.3L260.1,558.5L253.1,561.2L246,564.4L239,568L232,572.2L225,576.8L218,582L211.1,587.7L204.2,593.9L197.3,600.7L190.5,608L183.7,615.9L176.9,624.4L170.2,633.4L163.6,642.9Z" fill="url(#gB16)" stroke="url(#gB16)"/><path d="M171.1,646.5L177.8,636.8L184.5,627.7L191.2,619.2L198,611.2L204.9,603.8L211.8,597L218.7,590.6L225.7,584.9L232.7,579.6L239.7,574.9L246.7,570.7L253.7,567L260.8,563.8L267.8,561.1L274.8,558.8L281.9,557.1L288.9,555.8L295.9,554.9L302.9,554.5L309.8,554.6L316.8,555.1L323.6,556L319.8,554.8L312.9,553.9L306,553.4L299,553.3L292,553.7L285,554.5L278,555.8L271,557.5L264,559.8L256.9,562.5L249.9,565.6L242.9,569.3L235.8,573.5L228.8,578.2L221.9,583.4L214.9,589.1L208,595.4L201.1,602.2L194.3,609.6L187.4,617.5L180.7,626L174,635L167.3,644.7Z" fill="url(#gB15)" stroke="url(#gB15)"/><path d="M174.9,648.3L181.5,638.6L188.2,629.5L195,620.9L201.8,612.9L208.7,605.5L215.6,598.6L222.5,592.2L229.5,586.4L236.5,581.1L243.5,576.4L250.5,572.1L257.6,568.4L264.6,565.2L271.7,562.4L278.7,560.2L285.7,558.4L292.7,557L299.7,556.2L306.7,555.8L313.7,555.8L320.6,556.3L327.5,557.2L323.6,556L316.8,555.1L309.8,554.6L302.9,554.5L295.9,554.9L288.9,555.8L281.9,557.1L274.8,558.8L267.8,561.1L260.8,563.8L253.7,567L246.7,570.7L239.7,574.9L232.7,579.6L225.7,584.9L218.7,590.6L211.8,597L204.9,603.8L198,611.2L191.2,619.2L184.5,627.7L177.8,636.8L171.1,646.5Z" fill="url(#gB14)" stroke="url(#gB14)"/><path d="M178.6,650.3L185.3,640.5L192,631.3L198.8,622.7L205.6,614.7L212.5,607.2L219.4,600.3L226.4,593.9L233.3,588L240.3,582.7L247.3,577.9L254.4,573.7L261.4,569.9L268.5,566.6L275.5,563.9L282.5,561.6L289.6,559.7L296.6,558.4L303.6,557.5L310.6,557.1L317.5,557.1L324.4,557.6L331.3,558.5L327.5,557.2L320.6,556.3L313.7,555.8L306.7,555.8L299.7,556.2L292.7,557L285.7,558.4L278.7,560.2L271.7,562.4L264.6,565.2L257.6,568.4L250.5,572.1L243.5,576.4L236.5,581.1L229.5,586.4L222.5,592.2L215.6,598.6L208.7,605.5L201.8,612.9L195,620.9L188.2,629.5L181.5,638.6L174.9,648.3Z" fill="url(#gB13)" stroke="url(#gB13)"/><path d="M182.4,652.3L189.1,642.5L195.8,633.3L202.6,624.6L209.4,616.5L216.3,609L223.2,602L230.2,595.6L237.1,589.7L244.1,584.4L251.2,579.6L258.2,575.2L265.2,571.5L272.3,568.2L279.3,565.4L286.4,563L293.4,561.2L300.4,559.8L307.4,558.9L314.4,558.5L321.3,558.5L328.3,558.9L335.1,559.8L331.3,558.5L324.4,557.6L317.5,557.1L310.6,557.1L303.6,557.5L296.6,558.4L289.6,559.7L282.5,561.6L275.5,563.9L268.5,566.6L261.4,569.9L254.4,573.7L247.3,577.9L240.3,582.7L233.3,588L226.4,593.9L219.4,600.3L212.5,607.2L205.6,614.7L198.8,622.7L192,631.3L185.3,640.5L178.6,650.3Z" fill="url(#gB12)" stroke="url(#gB12)"/><path d="M186.1,654.4L192.8,644.6L199.6,635.3L206.4,626.6L213.2,618.4L220.1,610.9L227,603.9L234,597.4L241,591.5L248,586.1L255,581.2L262,576.9L269.1,573.1L276.1,569.8L283.2,566.9L290.2,564.6L297.2,562.7L304.3,561.3L311.3,560.4L318.2,559.9L325.2,559.9L332.1,560.3L338.9,561.2L335.1,559.8L328.3,558.9L321.3,558.5L314.4,558.5L307.4,558.9L300.4,559.8L293.4,561.2L286.4,563L279.3,565.4L272.3,568.2L265.2,571.5L258.2,575.2L251.2,579.6L244.1,584.4L237.1,589.7L230.2,595.6L223.2,602L216.3,609L209.4,616.5L202.6,624.6L195.8,633.3L189.1,642.5L182.4,652.3Z" fill="url(#gB11)" stroke="url(#gB11)"/><path d="M189.9,656.6L196.6,646.7L203.3,637.4L210.1,628.6L217,620.4L223.9,612.8L230.8,605.8L237.8,599.3L244.8,593.3L251.8,587.9L258.8,583L265.8,578.6L272.9,574.8L279.9,571.4L287,568.6L294,566.2L301.1,564.3L308.1,562.9L315.1,562L322,561.5L329,561.4L335.9,561.8L342.8,562.7L338.9,561.2L332.1,560.3L325.2,559.9L318.2,559.9L311.3,560.4L304.3,561.3L297.2,562.7L290.2,564.6L283.2,566.9L276.1,569.8L269.1,573.1L262,576.9L255,581.2L248,586.1L241,591.5L234,597.4L227,603.9L220.1,610.9L213.2,618.4L206.4,626.6L199.6,635.3L192.8,644.6L186.1,654.4Z" fill="url(#gB10)" stroke="url(#gB10)"/><path d="M193.6,658.9L200.3,648.9L207.1,639.5L213.9,630.7L220.8,622.5L227.7,614.9L234.6,607.8L241.6,601.2L248.6,595.2L255.6,589.8L262.6,584.9L269.7,580.5L276.7,576.6L283.8,573.2L290.8,570.3L297.9,567.9L304.9,566L311.9,564.6L318.9,563.6L325.9,563.1L332.8,563L339.7,563.4L346.6,564.2L342.8,562.7L335.9,561.8L329,561.4L322,561.5L315.1,562L308.1,562.9L301.1,564.3L294,566.2L287,568.6L279.9,571.4L272.9,574.8L265.8,578.6L258.8,583L251.8,587.9L244.8,593.3L237.8,599.3L230.8,605.8L223.9,612.8L217,620.4L210.1,628.6L203.3,637.4L196.6,646.7L189.9,656.6Z" fill="url(#gB9)" stroke="url(#gB9)"/><path d="M197.4,661.2L204.1,651.2L210.9,641.8L217.7,632.9L224.5,624.7L231.5,617L238.4,609.8L245.4,603.3L252.4,597.2L259.4,591.7L266.4,586.8L273.5,582.3L280.5,578.4L287.6,575L294.6,572.1L301.7,569.7L308.7,567.7L315.7,566.3L322.7,565.3L329.7,564.7L336.6,564.7L343.5,565L350.4,565.8L346.6,564.2L339.7,563.4L332.8,563L325.9,563.1L318.9,563.6L311.9,564.6L304.9,566L297.9,567.9L290.8,570.3L283.8,573.2L276.7,576.6L269.7,580.5L262.6,584.9L255.6,589.8L248.6,595.2L241.6,601.2L234.6,607.8L227.7,614.9L220.8,622.5L213.9,630.7L207.1,639.5L200.3,648.9L193.6,658.9Z" fill="url(#gB8)" stroke="url(#gB8)"/><path d="M201.1,663.7L207.8,653.6L214.6,644.1L221.4,635.2L228.3,626.9L235.2,619.2L242.2,612L249.2,605.4L256.2,599.3L263.2,593.8L270.2,588.8L277.3,584.3L284.3,580.4L291.4,576.9L298.4,574L305.5,571.5L312.5,569.6L319.5,568.1L326.5,567L333.5,566.5L340.4,566.4L347.3,566.7L354.1,567.5L350.4,565.8L343.5,565L336.6,564.7L329.7,564.7L322.7,565.3L315.7,566.3L308.7,567.7L301.7,569.7L294.6,572.1L287.6,575L280.5,578.4L273.5,582.3L266.4,586.8L259.4,591.7L252.4,597.2L245.4,603.3L238.4,609.8L231.5,617L224.5,624.7L217.7,632.9L210.9,641.8L204.1,651.2L197.4,661.2Z" fill="url(#gB7)" stroke="url(#gB7)"/><path d="M204.9,666.2L211.6,656.1L218.4,646.5L225.2,637.6L232.1,629.2L239,621.4L246,614.2L252.9,607.6L260,601.4L267,595.9L274,590.8L281.1,586.3L288.1,582.4L295.2,578.9L302.2,575.9L309.3,573.4L316.3,571.4L323.3,569.9L330.3,568.9L337.3,568.3L344.2,568.2L351.1,568.5L357.9,569.3L354.1,567.5L347.3,566.7L340.4,566.4L333.5,566.5L326.5,567L319.5,568.1L312.5,569.6L305.5,571.5L298.4,574L291.4,576.9L284.3,580.4L277.3,584.3L270.2,588.8L263.2,593.8L256.2,599.3L249.2,605.4L242.2,612L235.2,619.2L228.3,626.9L221.4,635.2L214.6,644.1L207.8,653.6L201.1,663.7Z" fill="url(#gB6)" stroke="url(#gB6)"/><path d="M208.6,668.8L215.3,658.6L222.1,649L229,640L235.9,631.6L242.8,623.8L249.7,616.5L256.7,609.8L263.7,603.7L270.8,598.1L277.8,593L284.9,588.5L291.9,584.4L299,580.9L306,577.9L313.1,575.4L320.1,573.4L327.1,571.9L334.1,570.8L341,570.2L348,570L354.8,570.3L361.7,571.1L357.9,569.3L351.1,568.5L344.2,568.2L337.3,568.3L330.3,568.9L323.3,569.9L316.3,571.4L309.3,573.4L302.2,575.9L295.2,578.9L288.1,582.4L281.1,586.3L274,590.8L267,595.9L260,601.4L252.9,607.6L246,614.2L239,621.4L232.1,629.2L225.2,637.6L218.4,646.5L211.6,656.1L204.9,666.2Z" fill="url(#gB5)" stroke="url(#gB5)"/><path d="M212.3,671.5L219.1,661.2L225.9,651.6L232.7,642.5L239.6,634.1L246.5,626.2L253.5,618.9L260.5,612.2L267.5,606L274.5,600.3L281.6,595.2L288.6,590.7L295.7,586.6L302.8,583.1L309.8,580L316.9,577.5L323.9,575.4L330.9,573.9L337.9,572.8L344.8,572.2L351.7,572L358.6,572.3L365.4,573L361.7,571.1L354.8,570.3L348,570L341,570.2L334.1,570.8L327.1,571.9L320.1,573.4L313.1,575.4L306,577.9L299,580.9L291.9,584.4L284.9,588.5L277.8,593L270.8,598.1L263.7,603.7L256.7,609.8L249.7,616.5L242.8,623.8L235.9,631.6L229,640L222.1,649L215.3,658.6L208.6,668.8Z" fill="url(#gB4)" stroke="url(#gB4)"/><path d="M216,674.2L222.8,663.9L229.6,654.2L236.5,645.1L243.4,636.6L250.3,628.7L257.3,621.4L264.3,614.6L271.3,608.4L278.3,602.7L285.4,597.5L292.4,592.9L299.5,588.8L306.5,585.3L313.6,582.2L320.6,579.6L327.7,577.6L334.7,576L341.6,574.8L348.6,574.2L355.5,574L362.4,574.3L369.2,575L365.4,573L358.6,572.3L351.7,572L344.8,572.2L337.9,572.8L330.9,573.9L323.9,575.4L316.9,577.5L309.8,580L302.8,583.1L295.7,586.6L288.6,590.7L281.6,595.2L274.5,600.3L267.5,606L260.5,612.2L253.5,618.9L246.5,626.2L239.6,634.1L232.7,642.5L225.9,651.6L219.1,661.2L212.3,671.5Z" fill="url(#gB3)" stroke="url(#gB3)"/><path d="M219.8,677.1L226.5,666.7L233.3,657L240.2,647.8L247.1,639.3L254.1,631.3L261,623.9L268,617.1L275,610.8L282.1,605.1L289.1,599.9L296.2,595.3L303.3,591.1L310.3,587.5L317.4,584.4L324.4,581.8L331.4,579.7L338.4,578.1L345.4,577L352.3,576.3L359.3,576.1L366.1,576.3L372.9,577L369.2,575L362.4,574.3L355.5,574L348.6,574.2L341.6,574.8L334.7,576L327.7,577.6L320.6,579.6L313.6,582.2L306.5,585.3L299.5,588.8L292.4,592.9L285.4,597.5L278.3,602.7L271.3,608.4L264.3,614.6L257.3,621.4L250.3,628.7L243.4,636.6L236.5,645.1L229.6,654.2L222.8,663.9L216,674.2Z" fill="url(#gB2)" stroke="url(#gB2)"/><path d="M223.5,680L230.3,669.6L237.1,659.8L243.9,650.6L250.9,642L257.8,634L264.8,626.5L271.8,619.7L278.8,613.4L285.8,607.6L292.9,602.4L300,597.7L307,593.5L314.1,589.9L321.1,586.8L328.2,584.1L335.2,582L342.2,580.4L349.2,579.2L356.1,578.5L363,578.2L369.8,578.5L376.7,579.1L372.9,577L366.1,576.3L359.3,576.1L352.3,576.3L345.4,577L338.4,578.1L331.4,579.7L324.4,581.8L317.4,584.4L310.3,587.5L303.3,591.1L296.2,595.3L289.1,599.9L282.1,605.1L275,610.8L268,617.1L261,623.9L254.1,631.3L247.1,639.3L240.2,647.8L233.3,657L226.5,666.7L219.8,677.1Z" fill="url(#gB1)" stroke="url(#gB1)"/><path d="M227.2,683L234,672.5L240.8,662.7L247.7,653.5L254.6,644.8L261.5,636.7L268.5,629.3L275.5,622.3L282.6,616L289.6,610.2L296.7,604.9L303.7,600.2L310.8,596L317.8,592.3L324.9,589.2L331.9,586.5L338.9,584.3L345.9,582.7L352.9,581.5L359.8,580.7L366.7,580.5L373.6,580.7L380.4,581.3L376.7,579.1L369.8,578.5L363,578.2L356.1,578.5L349.2,579.2L342.2,580.4L335.2,582L328.2,584.1L321.1,586.8L314.1,589.9L307,593.5L300,597.7L292.9,602.4L285.8,607.6L278.8,613.4L271.8,619.7L264.8,626.5L257.8,634L250.9,642L243.9,650.6L237.1,659.8L230.3,669.6L223.5,680Z" fill="url(#gB0)" stroke="url(#gB0)"/></g>
<path d="M227.2 683l-3-2.4l-2.9-2.4l-3-2.3l-3-2.2l-3-2.2l-3-2.2l-3-2.1l-2.9-2l-3-2l-3-2l-3-1.8l-3-1.9l-3-1.8l-3-1.7l-3-1.7l-3-1.6l-3-1.6l-3-1.5l-3.1-1.5l-3-1.4l-3-1.4l-3-1.4l-3-1.2l-3-1.3l-3-1.2l-3-1.1l-3-1.1l-3-1.1l-3-1l-3-.9l-3-1l-3-.8l-3-.8l-3-.8l-3-.8l-3-.7l-3-.6l-3-.6l-3-.6l-3-.5l-2.9-.5l-3-.4l-3-.4l-3-.4l-2.9-.3l-3-.2l-3-.3l-2.9-.1l-3-.2l-2.9-.1M230.2 678.3l-3-2.4l-3-2.3l-3-2.3l-2.9-2.2l-3-2.2l-3-2.2l-3-2l-3-2.1l-3-1.9l-3-1.9l-3-1.9l-3-1.8l-3-1.8l-3-1.7l-3-1.7l-3-1.6l-3-1.5l-3-1.6l-3-1.4l-3-1.4l-3.1-1.4l-3-1.3l-3-1.3l-3-1.2l-3-1.2l-3-1.1l-3-1.1l-3-1.1l-3-.9l-3-1l-3.1-.9l-3-.8l-3-.8l-3-.8l-3-.7l-3-.7l-3-.6l-3-.6l-2.9-.6l-3-.5l-3-.5l-3-.4l-3-.4l-3-.3l-2.9-.3l-3-.2l-3-.3l-2.9-.1l-3-.2l-2.9-.1M233.2 673.8l-3-2.4l-3-2.3l-3-2.3l-3-2.2l-2.9-2.2l-3-2.1l-3-2.1l-3-2l-3-1.9l-3-1.9l-3-1.9l-3-1.8l-3-1.7l-3-1.7l-3.1-1.7l-3-1.5l-3-1.6l-3-1.5l-3-1.4l-3-1.4l-3-1.4l-3-1.3l-3.1-1.3l-3-1.2l-3-1.1l-3-1.1l-3-1.1l-3-1l-3-1l-3.1-.9l-3-.9l-3-.8l-3-.8l-3-.8l-3-.7l-3-.7l-3-.6l-3-.6l-3-.5l-3-.5l-3-.4l-3-.4l-2.9-.4l-3-.3l-3-.3l-3-.2l-2.9-.2l-3-.2l-3-.1l-2.9-.1M236.2 669.3l-3-2.3l-3-2.3l-3-2.3l-3-2.2l-3-2.1l-3-2.1l-2.9-2.1l-3-2l-3-1.9l-3.1-1.9l-3-1.8l-3-1.8l-3-1.7l-3-1.7l-3-1.6l-3-1.6l-3-1.5l-3-1.5l-3.1-1.4l-3-1.4l-3-1.4l-3-1.2l-3-1.3l-3-1.2l-3.1-1.1l-3-1.1l-3-1.1l-3-1l-3-.9l-3.1-1l-3-.8l-3-.8l-3-.8l-3-.8l-3-.7l-3-.6l-3-.6l-3-.6l-3-.5l-3-.5l-3-.4l-3-.4l-3-.3l-3-.3l-3-.3l-2.9-.2l-3-.2l-3-.2l-3-.1l-2.9-.1M239.2 665l-3-2.3l-3-2.3l-3-2.3l-3-2.1l-3-2.2l-3-2l-3-2.1l-3-1.9l-3-1.9l-3-1.9l-3-1.8l-3-1.8l-3-1.7l-3-1.7l-3-1.6l-3-1.5l-3.1-1.6l-3-1.4l-3-1.4l-3-1.4l-3-1.3l-3.1-1.3l-3-1.2l-3-1.2l-3-1.1l-3.1-1.1l-3-1l-3-1l-3-1l-3-.9l-3.1-.8l-3-.8l-3-.8l-3-.7l-3-.7l-3-.6l-3-.6l-3-.6l-3-.5l-3.1-.4l-2.9-.5l-3-.3l-3-.4l-3-.3l-3-.2l-3-.2l-3-.2l-3-.2l-2.9 0l-3-.1M242.2 660.8l-3-2.3l-3-2.3l-3-2.2l-3-2.2l-3-2.1l-3-2l-3-2l-3-2l-3-1.9l-3-1.8l-3-1.8l-3-1.8l-3-1.7l-3-1.6l-3.1-1.6l-3-1.6l-3-1.5l-3-1.4l-3-1.4l-3.1-1.4l-3-1.3l-3-1.2l-3-1.2l-3.1-1.2l-3-1.1l-3-1.1l-3-1l-3.1-1l-3-.9l-3-.9l-3-.8l-3.1-.8l-3-.8l-3-.7l-3-.6l-3-.7l-3-.5l-3.1-.6l-3-.5l-3-.4l-3-.4l-3-.4l-3-.3l-3-.3l-3-.2l-2.9-.2l-3-.2l-3-.1l-3-.1l-3 0M245.2 656.7l-3-2.3l-3-2.2l-3-2.2l-3-2.2l-3-2.1l-3-2l-3-2l-3-1.9l-3-1.9l-3-1.8l-3-1.8l-3-1.8l-3-1.6l-3-1.7l-3.1-1.5l-3-1.6l-3-1.5l-3-1.4l-3.1-1.4l-3-1.3l-3-1.3l-3-1.2l-3.1-1.2l-3-1.2l-3-1.1l-3.1-1l-3-1l-3-1l-3-.9l-3.1-.9l-3-.8l-3-.8l-3.1-.7l-3-.7l-3-.7l-3-.6l-3-.5l-3-.6l-3.1-.4l-3-.5l-3-.4l-3-.3l-3-.3l-3-.3l-3-.2l-3-.2l-3-.2l-2.9-.1l-3-.1l-3 0M248.2 652.7l-3-2.2l-2.9-2.3l-3-2.2l-3-2.1l-3-2.1l-3-2l-3-2l-3-1.9l-3.1-1.8l-3-1.8l-3-1.8l-3-1.7l-3-1.7l-3-1.6l-3.1-1.6l-3-1.5l-3-1.4l-3.1-1.5l-3-1.3l-3-1.4l-3-1.2l-3.1-1.3l-3-1.1l-3-1.2l-3.1-1l-3-1.1l-3-1l-3.1-.9l-3-.9l-3-.9l-3.1-.8l-3-.8l-3-.7l-3-.7l-3.1-.6l-3-.6l-3-.5l-3-.5l-3-.5l-3.1-.4l-3-.4l-3-.4l-3-.3l-3-.2l-3-.2l-3-.2l-3-.2l-3 0l-3-.1l-2.9 0M251.3 648.9l-3-2.3l-3-2.2l-3-2.2l-3-2.1l-3-2l-3-2l-3-2l-3-1.9l-3-1.8l-3.1-1.8l-3-1.8l-3-1.7l-3-1.6l-3-1.6l-3.1-1.6l-3-1.5l-3-1.4l-3.1-1.4l-3-1.4l-3-1.3l-3.1-1.2l-3-1.3l-3-1.1l-3.1-1.1l-3-1.1l-3-1l-3.1-1l-3-.9l-3-.9l-3.1-.9l-3-.8l-3-.7l-3.1-.7l-3-.7l-3-.6l-3.1-.6l-3-.5l-3-.5l-3-.5l-3-.4l-3.1-.4l-3-.3l-3-.3l-3-.2l-3-.2l-3-.2l-3-.1l-3-.1l-3-.1l-3 0M254.3 645.1l-3-2.2l-3-2.2l-3-2.2l-3-2l-3-2.1l-3-2l-3-1.9l-3-1.9l-3-1.8l-3-1.8l-3-1.7l-3.1-1.7l-3-1.7l-3-1.5l-3.1-1.6l-3-1.5l-3-1.4l-3-1.4l-3.1-1.3l-3-1.3l-3.1-1.3l-3-1.2l-3-1.1l-3.1-1.1l-3-1.1l-3.1-1l-3-.9l-3-1l-3.1-.8l-3-.9l-3-.7l-3.1-.8l-3-.7l-3-.6l-3.1-.6l-3-.6l-3-.5l-3.1-.5l-3-.5l-3-.4l-3-.3l-3.1-.3l-3-.3l-3-.2l-3-.2l-3-.2l-3-.1l-3-.1l-3 0l-3 0M257.4 641.5l-3-2.2l-3-2.2l-3-2.1l-3-2.1l-3-2l-3-2l-3-1.9l-3.1-1.9l-3-1.8l-3-1.8l-3-1.7l-3-1.7l-3.1-1.6l-3-1.5l-3-1.6l-3.1-1.4l-3-1.5l-3-1.3l-3.1-1.4l-3-1.2l-3.1-1.3l-3-1.1l-3-1.2l-3.1-1.1l-3-1l-3.1-1l-3-1l-3-.9l-3.1-.8l-3-.8l-3.1-.8l-3-.7l-3-.7l-3.1-.7l-3-.6l-3.1-.5l-3-.5l-3-.5l-3.1-.4l-3-.4l-3-.4l-3-.3l-3-.2l-3.1-.2l-3-.2l-3-.2l-3-.1l-3 0l-3-.1l-3 .1M260.4 638l-3-2.2l-3-2.2l-3-2.1l-3-2.1l-3-2l-3-1.9l-3-1.9l-3-1.9l-3-1.8l-3.1-1.7l-3-1.7l-3-1.7l-3-1.6l-3.1-1.5l-3-1.5l-3-1.5l-3.1-1.4l-3-1.4l-3.1-1.3l-3-1.2l-3-1.3l-3.1-1.1l-3-1.1l-3.1-1.1l-3-1l-3.1-1l-3-1l-3.1-.9l-3-.8l-3-.8l-3.1-.8l-3-.7l-3.1-.7l-3-.6l-3.1-.6l-3-.5l-3-.5l-3.1-.5l-3-.4l-3-.4l-3.1-.3l-3-.3l-3-.2l-3-.2l-3-.2l-3.1-.2l-3 0l-3-.1l-3 0l-3 0M263.5 634.6l-3-2.2l-3-2.2l-3-2.1l-3-2l-3-2l-3-1.9l-3-1.9l-3.1-1.9l-3-1.7l-3-1.8l-3-1.7l-3.1-1.6l-3-1.6l-3-1.5l-3.1-1.5l-3-1.5l-3-1.4l-3.1-1.3l-3-1.3l-3.1-1.2l-3-1.2l-3.1-1.2l-3-1.1l-3.1-1.1l-3-1l-3.1-1l-3-.9l-3.1-.9l-3-.8l-3.1-.8l-3-.7l-3-.7l-3.1-.7l-3-.6l-3.1-.6l-3-.5l-3.1-.5l-3-.4l-3-.5l-3.1-.3l-3-.3l-3-.3l-3.1-.3l-3-.2l-3-.1l-3-.1l-3-.1l-3-.1l-3.1 0l-3 .1M266.6 631.3l-3-2.2l-3-2.1l-3-2.1l-3-2l-3-2l-3.1-1.9l-3-1.9l-3-1.8l-3-1.8l-3-1.7l-3.1-1.7l-3-1.6l-3-1.6l-3.1-1.5l-3-1.5l-3.1-1.4l-3-1.4l-3-1.3l-3.1-1.3l-3-1.2l-3.1-1.2l-3-1.2l-3.1-1.1l-3-1l-3.1-1l-3-1l-3.1-.9l-3-.8l-3.1-.9l-3.1-.8l-3-.7l-3.1-.7l-3-.6l-3-.6l-3.1-.6l-3-.5l-3.1-.5l-3-.4l-3.1-.4l-3-.4l-3-.3l-3.1-.2l-3-.3l-3-.2l-3.1-.1l-3-.1l-3-.1l-3 0l-3 0l-3 0M269.6 628.1l-3-2.2l-3-2.1l-3-2l-3-2.1l-3-1.9l-3-1.9l-3-1.9l-3-1.8l-3.1-1.7l-3-1.8l-3-1.6l-3.1-1.6l-3-1.6l-3-1.5l-3.1-1.4l-3-1.5l-3.1-1.3l-3-1.3l-3.1-1.3l-3-1.2l-3.1-1.2l-3-1.1l-3.1-1.1l-3-1l-3.1-1l-3-1l-3.1-.9l-3-.8l-3.1-.9l-3-.7l-3.1-.7l-3-.7l-3.1-.7l-3.1-.5l-3-.6l-3.1-.5l-3-.5l-3-.4l-3.1-.4l-3-.3l-3.1-.3l-3-.3l-3-.2l-3.1-.2l-3-.1l-3-.1l-3-.1l-3.1 0l-3 0l-3 .1M272.7 625l-3-2.1l-3-2.1l-3-2.1l-3-2l-3-1.9l-3-1.9l-3-1.8l-3.1-1.8l-3-1.8l-3-1.7l-3.1-1.6l-3-1.6l-3-1.6l-3.1-1.5l-3-1.4l-3.1-1.4l-3-1.3l-3.1-1.4l-3-1.2l-3.1-1.2l-3-1.2l-3.1-1.1l-3-1.1l-3.1-1l-3-1l-3.1-.9l-3.1-.9l-3-.8l-3.1-.8l-3-.8l-3.1-.7l-3-.7l-3.1-.6l-3-.6l-3.1-.5l-3.1-.5l-3-.5l-3.1-.4l-3-.3l-3-.4l-3.1-.3l-3-.2l-3.1-.2l-3-.2l-3-.1l-3.1-.1l-3-.1l-3 0l-3 .1l-3 0M275.8 622.1l-3-2.2l-3-2.1l-3-2l-3-2l-3-1.9l-3-1.9l-3.1-1.8l-3-1.8l-3-1.7l-3-1.7l-3.1-1.6l-3-1.6l-3.1-1.5l-3-1.5l-3.1-1.4l-3-1.4l-3-1.4l-3.1-1.3l-3.1-1.2l-3-1.2l-3.1-1.1l-3-1.2l-3.1-1l-3-1l-3.1-1l-3.1-.9l-3-.9l-3.1-.8l-3-.8l-3.1-.7l-3.1-.7l-3-.7l-3.1-.6l-3-.6l-3.1-.5l-3-.5l-3.1-.4l-3.1-.4l-3-.4l-3.1-.3l-3-.3l-3-.2l-3.1-.2l-3-.2l-3.1-.1l-3-.1l-3 0l-3 0l-3.1 0l-3 .1M278.9 619.2l-3-2.1l-3-2.1l-3-2l-3-2l-3-1.9l-3.1-1.8l-3-1.9l-3-1.7l-3-1.7l-3.1-1.7l-3-1.6l-3-1.6l-3.1-1.5l-3-1.5l-3.1-1.4l-3-1.4l-3.1-1.3l-3-1.3l-3.1-1.2l-3.1-1.2l-3-1.1l-3.1-1.1l-3-1.1l-3.1-1l-3.1-.9l-3-.9l-3.1-.9l-3-.8l-3.1-.8l-3.1-.7l-3-.7l-3.1-.6l-3.1-.6l-3-.6l-3.1-.5l-3-.5l-3.1-.4l-3-.4l-3.1-.4l-3.1-.3l-3-.2l-3.1-.3l-3-.2l-3-.1l-3.1-.1l-3-.1l-3 0l-3.1 0l-3 0l-3 .1M282 616.5l-3-2.1l-3-2.1l-3-2l-3-2l-3-1.9l-3.1-1.8l-3-1.8l-3-1.8l-3.1-1.7l-3-1.6l-3-1.6l-3.1-1.6l-3-1.5l-3.1-1.4l-3-1.4l-3.1-1.4l-3-1.3l-3.1-1.3l-3-1.2l-3.1-1.2l-3.1-1.1l-3-1.1l-3.1-1l-3-1l-3.1-.9l-3.1-.9l-3-.9l-3.1-.8l-3.1-.7l-3-.8l-3.1-.6l-3.1-.7l-3-.6l-3.1-.5l-3.1-.5l-3-.5l-3.1-.4l-3-.4l-3.1-.3l-3-.3l-3.1-.3l-3.1-.2l-3-.2l-3-.1l-3.1-.1l-3-.1l-3.1 0l-3 0l-3 0l-3.1 .1M285.1 613.8l-3-2.1l-3-2l-3-2l-3-1.9l-3.1-1.9l-3-1.9l-3-1.7l-3-1.8l-3.1-1.7l-3-1.6l-3-1.6l-3.1-1.5l-3-1.5l-3.1-1.5l-3-1.4l-3.1-1.3l-3-1.3l-3.1-1.3l-3.1-1.2l-3-1.1l-3.1-1.1l-3.1-1.1l-3-1l-3.1-1l-3.1-.9l-3-.9l-3.1-.9l-3.1-.8l-3-.7l-3.1-.7l-3.1-.7l-3-.6l-3.1-.6l-3.1-.5l-3-.5l-3.1-.5l-3.1-.4l-3-.4l-3.1-.3l-3-.3l-3.1-.3l-3-.2l-3.1-.1l-3-.2l-3.1-.1l-3 0l-3.1 0l-3 0l-3 .1l-3.1 .1M288.2 611.3l-3-2.1l-3-2l-3-2l-3-1.9l-3.1-1.9l-3-1.8l-3-1.8l-3-1.7l-3.1-1.7l-3-1.6l-3.1-1.6l-3-1.5l-3.1-1.5l-3-1.4l-3.1-1.4l-3-1.3l-3.1-1.3l-3-1.3l-3.1-1.2l-3.1-1.1l-3-1.1l-3.1-1.1l-3.1-1l-3-.9l-3.1-1l-3.1-.8l-3-.9l-3.1-.8l-3.1-.7l-3-.7l-3.1-.7l-3.1-.6l-3.1-.5l-3-.6l-3.1-.5l-3.1-.4l-3-.4l-3.1-.4l-3.1-.3l-3-.3l-3.1-.2l-3-.2l-3.1-.2l-3-.1l-3.1-.1l-3 0l-3.1 0l-3 0l-3.1 .1l-3 .1M291.3 608.9l-3-2.1l-3-2l-3-2l-3-1.9l-3.1-1.8l-3-1.9l-3-1.7l-3-1.7l-3.1-1.7l-3-1.6l-3.1-1.6l-3-1.5l-3.1-1.4l-3-1.5l-3.1-1.3l-3-1.4l-3.1-1.2l-3-1.3l-3.1-1.1l-3.1-1.2l-3-1.1l-3.1-1l-3.1-1l-3.1-1l-3-.9l-3.1-.8l-3.1-.9l-3-.7l-3.1-.8l-3.1-.7l-3.1-.6l-3-.6l-3.1-.6l-3.1-.5l-3.1-.5l-3-.4l-3.1-.4l-3.1-.4l-3-.3l-3.1-.2l-3.1-.3l-3-.2l-3.1-.1l-3-.1l-3.1-.1l-3 0l-3.1 0l-3 0l-3.1 .1l-3 .1M294.4 606.5l-3-2l-3-2l-3-2l-3-1.9l-3.1-1.8l-3-1.8l-3-1.7l-3.1-1.7l-3-1.7l-3-1.6l-3.1-1.5l-3-1.5l-3.1-1.5l-3-1.4l-3.1-1.4l-3-1.3l-3.1-1.2l-3.1-1.3l-3-1.1l-3.1-1.2l-3.1-1l-3-1.1l-3.1-1l-3.1-.9l-3.1-.9l-3-.9l-3.1-.8l-3.1-.7l-3.1-.8l-3-.6l-3.1-.7l-3.1-.6l-3.1-.5l-3-.5l-3.1-.5l-3.1-.4l-3.1-.4l-3-.3l-3.1-.4l-3.1-.2l-3-.2l-3.1-.2l-3-.2l-3.1-.1l-3.1 0l-3-.1l-3.1 .1l-3 0l-3.1 .1l-3 .1M297.5 604.3l-3-2l-3-2l-3-1.9l-3-1.9l-3.1-1.9l-3-1.7l-3-1.8l-3.1-1.7l-3-1.6l-3-1.6l-3.1-1.5l-3-1.5l-3.1-1.5l-3-1.3l-3.1-1.4l-3.1-1.3l-3-1.2l-3.1-1.3l-3-1.1l-3.1-1.1l-3.1-1.1l-3.1-1l-3-1l-3.1-.9l-3.1-.9l-3.1-.9l-3-.8l-3.1-.7l-3.1-.7l-3.1-.7l-3.1-.6l-3-.6l-3.1-.6l-3.1-.5l-3.1-.4l-3-.4l-3.1-.4l-3.1-.3l-3.1-.3l-3-.3l-3.1-.2l-3.1-.2l-3-.1l-3.1-.1l-3-.1l-3.1 0l-3 0l-3.1 .1l-3 .1l-3.1 .1M300.6 602.2l-3-2l-3-2l-3-1.9l-3-1.9l-3.1-1.8l-3-1.8l-3-1.7l-3-1.7l-3.1-1.6l-3-1.6l-3.1-1.5l-3-1.5l-3.1-1.4l-3-1.4l-3.1-1.3l-3.1-1.3l-3-1.3l-3.1-1.1l-3.1-1.2l-3-1.1l-3.1-1.1l-3.1-1l-3.1-.9l-3-1l-3.1-.8l-3.1-.9l-3.1-.8l-3-.7l-3.1-.7l-3.1-.7l-3.1-.6l-3.1-.6l-3-.5l-3.1-.5l-3.1-.4l-3.1-.5l-3.1-.3l-3-.3l-3.1-.3l-3.1-.3l-3.1-.2l-3-.2l-3.1-.1l-3-.1l-3.1 0l-3.1 0l-3 0l-3.1 .1l-3 .1l-3.1 .1M303.7 600.2l-3-2l-3-2l-3-1.9l-3-1.8l-3.1-1.8l-3-1.8l-3-1.7l-3-1.7l-3.1-1.6l-3-1.6l-3.1-1.5l-3-1.4l-3.1-1.5l-3-1.3l-3.1-1.4l-3.1-1.2l-3-1.3l-3.1-1.1l-3.1-1.2l-3-1.1l-3.1-1l-3.1-1l-3.1-1l-3-.9l-3.1-.9l-3.1-.8l-3.1-.8l-3.1-.7l-3.1-.7l-3-.7l-3.1-.6l-3.1-.5l-3.1-.6l-3.1-.4l-3-.5l-3.1-.4l-3.1-.3l-3.1-.4l-3.1-.2l-3-.3l-3.1-.2l-3.1-.1l-3-.2l-3.1 0l-3.1-.1l-3 0l-3.1 .1l-3.1 0l-3 .1l-3.1 .2M306.8 598.3l-3-2l-3-2l-3-1.9l-3-1.8l-3-1.8l-3.1-1.7l-3-1.7l-3-1.7l-3.1-1.6l-3-1.5l-3.1-1.5l-3-1.5l-3.1-1.4l-3-1.4l-3.1-1.3l-3.1-1.3l-3-1.2l-3.1-1.1l-3.1-1.2l-3-1.1l-3.1-1l-3.1-1l-3.1-.9l-3.1-.9l-3-.9l-3.1-.8l-3.1-.8l-3.1-.7l-3.1-.7l-3.1-.6l-3-.6l-3.1-.6l-3.1-.5l-3.1-.5l-3.1-.4l-3.1-.4l-3-.4l-3.1-.3l-3.1-.2l-3.1-.3l-3.1-.2l-3-.1l-3.1-.1l-3.1-.1l-3 0l-3.1 0l-3.1 0l-3 .1l-3.1 .1l-3 .2M309.9 596.5l-3-2l-3-1.9l-3-1.9l-3-1.9l-3-1.7l-3.1-1.8l-3-1.7l-3-1.6l-3.1-1.6l-3-1.5l-3.1-1.5l-3-1.5l-3.1-1.4l-3-1.3l-3.1-1.3l-3.1-1.3l-3-1.2l-3.1-1.2l-3.1-1.1l-3.1-1l-3-1.1l-3.1-1l-3.1-.9l-3.1-.9l-3.1-.8l-3-.8l-3.1-.8l-3.1-.7l-3.1-.7l-3.1-.6l-3.1-.6l-3.1-.6l-3-.5l-3.1-.4l-3.1-.5l-3.1-.4l-3.1-.3l-3.1-.3l-3-.3l-3.1-.2l-3.1-.2l-3.1-.1l-3.1-.1l-3-.1l-3.1 0l-3.1 0l-3 0l-3.1 .1l-3 .2l-3.1 .1M313 594.8l-3-2l-3-1.9l-3-1.9l-3-1.8l-3-1.8l-3.1-1.7l-3-1.7l-3-1.6l-3.1-1.6l-3-1.5l-3.1-1.5l-3-1.4l-3.1-1.4l-3-1.4l-3.1-1.3l-3.1-1.2l-3-1.2l-3.1-1.2l-3.1-1.1l-3.1-1l-3-1l-3.1-1l-3.1-1l-3.1-.8l-3.1-.9l-3.1-.8l-3-.7l-3.1-.7l-3.1-.7l-3.1-.6l-3.1-.6l-3.1-.6l-3.1-.5l-3.1-.4l-3-.4l-3.1-.4l-3.1-.3l-3.1-.3l-3.1-.3l-3.1-.2l-3-.2l-3.1-.1l-3.1-.1l-3.1-.1l-3 0l-3.1 0l-3.1 .1l-3 .1l-3.1 .1l-3.1 .2M316.1 593.2l-3-2l-3-1.9l-3-1.9l-3-1.8l-3-1.7l-3.1-1.8l-3-1.6l-3-1.6l-3.1-1.6l-3-1.5l-3.1-1.5l-3-1.4l-3.1-1.4l-3-1.3l-3.1-1.3l-3.1-1.2l-3-1.2l-3.1-1.2l-3.1-1.1l-3.1-1l-3-1l-3.1-1l-3.1-.9l-3.1-.9l-3.1-.8l-3.1-.8l-3.1-.8l-3-.7l-3.1-.6l-3.1-.6l-3.1-.6l-3.1-.5l-3.1-.5l-3.1-.5l-3.1-.4l-3.1-.4l-3.1-.3l-3-.3l-3.1-.2l-3.1-.2l-3.1-.2l-3.1-.1l-3-.1l-3.1-.1l-3.1 0l-3.1 0l-3 .1l-3.1 .1l-3.1 .1l-3 .2M319.2 591.7l-3-2l-3-1.9l-3-1.8l-3-1.8l-3-1.8l-3-1.7l-3.1-1.6l-3-1.6l-3.1-1.6l-3-1.5l-3.1-1.5l-3-1.4l-3.1-1.4l-3-1.3l-3.1-1.2l-3.1-1.3l-3-1.2l-3.1-1.1l-3.1-1.1l-3.1-1l-3.1-1l-3-1l-3.1-.9l-3.1-.9l-3.1-.8l-3.1-.8l-3.1-.7l-3.1-.7l-3.1-.6l-3-.6l-3.1-.6l-3.1-.5l-3.1-.5l-3.1-.5l-3.1-.4l-3.1-.3l-3.1-.3l-3.1-.3l-3.1-.3l-3-.2l-3.1-.1l-3.1-.2l-3.1 0l-3.1-.1l-3 0l-3.1 0l-3.1 .1l-3.1 .1l-3 .2l-3.1 .1M322.4 590.2l-3.1-1.9l-3-1.9l-3-1.8l-3-1.8l-3-1.7l-3-1.7l-3.1-1.7l-3-1.6l-3.1-1.5l-3-1.5l-3.1-1.5l-3-1.4l-3.1-1.3l-3-1.3l-3.1-1.3l-3.1-1.2l-3-1.2l-3.1-1.1l-3.1-1.1l-3.1-1l-3.1-1l-3-1l-3.1-.9l-3.1-.8l-3.1-.8l-3.1-.8l-3.1-.7l-3.1-.7l-3.1-.7l-3.1-.6l-3.1-.5l-3-.5l-3.1-.5l-3.1-.5l-3.1-.3l-3.1-.4l-3.1-.3l-3.1-.3l-3.1-.2l-3.1-.2l-3.1-.2l-3-.1l-3.1-.1l-3.1 0l-3.1 0l-3.1 0l-3 .1l-3.1 .1l-3.1 .2l-3 .2M325.5 588.9l-3.1-1.9l-3-1.9l-3-1.8l-3-1.8l-3-1.7l-3-1.7l-3.1-1.6l-3-1.6l-3.1-1.5l-3-1.5l-3.1-1.5l-3-1.3l-3.1-1.4l-3-1.3l-3.1-1.2l-3.1-1.3l-3-1.1l-3.1-1.1l-3.1-1.1l-3.1-1l-3.1-1l-3-1l-3.1-.8l-3.1-.9l-3.1-.8l-3.1-.8l-3.1-.7l-3.1-.7l-3.1-.6l-3.1-.6l-3.1-.5l-3.1-.6l-3.1-.4l-3.1-.5l-3-.3l-3.1-.4l-3.1-.3l-3.1-.3l-3.1-.2l-3.1-.2l-3.1-.1l-3.1-.1l-3.1-.1l-3 0l-3.1 0l-3.1 0l-3.1 .1l-3 .1l-3.1 .2l-3.1 .2M328.5 587.7l-3-1.9l-3-1.9l-3-1.8l-3-1.7l-3-1.8l-3-1.6l-3.1-1.6l-3-1.6l-3.1-1.5l-3-1.5l-3.1-1.5l-3-1.3l-3.1-1.4l-3-1.3l-3.1-1.2l-3.1-1.2l-3-1.2l-3.1-1.1l-3.1-1l-3.1-1l-3.1-1l-3-1l-3.1-.8l-3.1-.9l-3.1-.8l-3.1-.7l-3.1-.7l-3.1-.7l-3.1-.6l-3.1-.6l-3.1-.6l-3.1-.5l-3.1-.4l-3.1-.5l-3.1-.3l-3.1-.4l-3.1-.3l-3-.2l-3.1-.3l-3.1-.1l-3.1-.2l-3.1-.1l-3.1-.1l-3.1 0l-3.1 0l-3 .1l-3.1 .1l-3.1 .1l-3.1 .1l-3 .2M331.6 586.6l-3-1.9l-3-1.9l-3-1.8l-3-1.7l-3-1.7l-3-1.7l-3.1-1.6l-3-1.6l-3.1-1.5l-3-1.4l-3.1-1.5l-3-1.3l-3.1-1.4l-3-1.2l-3.1-1.3l-3.1-1.2l-3-1.1l-3.1-1.1l-3.1-1.1l-3.1-1l-3.1-.9l-3.1-1l-3-.8l-3.1-.9l-3.1-.8l-3.1-.7l-3.1-.7l-3.1-.7l-3.1-.6l-3.1-.6l-3.1-.5l-3.1-.5l-3.1-.5l-3.1-.4l-3.1-.4l-3.1-.3l-3.1-.3l-3.1-.2l-3.1-.3l-3.1-.1l-3-.2l-3.1-.1l-3.1 0l-3.1 0l-3.1 0l-3.1 0l-3.1 .1l-3 .1l-3.1 .2l-3.1 .2M334.7 585.6l-3-1.9l-3-1.9l-3-1.7l-3-1.8l-3-1.7l-3.1-1.6l-3-1.6l-3-1.6l-3.1-1.5l-3-1.5l-3.1-1.4l-3-1.3l-3.1-1.4l-3-1.2l-3.1-1.3l-3.1-1.1l-3.1-1.2l-3-1.1l-3.1-1l-3.1-1l-3.1-1l-3.1-.9l-3.1-.8l-3-.9l-3.1-.8l-3.1-.7l-3.1-.7l-3.1-.7l-3.1-.6l-3.1-.5l-3.1-.6l-3.1-.5l-3.1-.4l-3.1-.4l-3.1-.4l-3.1-.3l-3.1-.3l-3.1-.2l-3.1-.3l-3.1-.1l-3.1-.2l-3.1 0l-3.1-.1l-3 0l-3.1 0l-3.1 .1l-3.1 .1l-3.1 .1l-3 .2l-3.1 .2M337.8 584.7l-3-1.9l-3-1.9l-3-1.7l-3-1.8l-3-1.7l-3.1-1.6l-3-1.6l-3-1.5l-3.1-1.5l-3-1.5l-3.1-1.4l-3-1.3l-3.1-1.4l-3.1-1.2l-3-1.2l-3.1-1.2l-3.1-1.1l-3-1.1l-3.1-1.1l-3.1-.9l-3.1-1l-3.1-.9l-3.1-.9l-3.1-.8l-3-.8l-3.1-.7l-3.1-.7l-3.1-.6l-3.1-.6l-3.1-.6l-3.1-.5l-3.1-.5l-3.1-.5l-3.1-.4l-3.1-.3l-3.1-.3l-3.1-.3l-3.1-.3l-3.1-.2l-3.1-.1l-3.1-.2l-3.1 0l-3.1-.1l-3.1 0l-3.1 0l-3 .1l-3.1 .1l-3.1 .1l-3.1 .2l-3.1 .2M340.9 583.8l-3-1.8l-3-1.9l-3-1.7l-3-1.8l-3-1.6l-3.1-1.7l-3-1.6l-3-1.5l-3.1-1.5l-3-1.4l-3.1-1.4l-3-1.4l-3.1-1.3l-3.1-1.2l-3-1.2l-3.1-1.2l-3.1-1.1l-3-1.1l-3.1-1l-3.1-1l-3.1-.9l-3.1-.9l-3.1-.9l-3.1-.8l-3.1-.8l-3-.7l-3.1-.7l-3.1-.6l-3.1-.6l-3.1-.6l-3.1-.5l-3.1-.5l-3.1-.4l-3.1-.4l-3.1-.4l-3.1-.3l-3.1-.3l-3.1-.2l-3.1-.2l-3.1-.2l-3.1-.1l-3.1-.1l-3.1 0l-3.1 0l-3.1 0l-3.1 .1l-3.1 .1l-3 .1l-3.1 .2l-3.1 .2M344 583.1l-3-1.9l-3-1.8l-3-1.7l-3-1.8l-3.1-1.6l-3-1.7l-3-1.5l-3.1-1.6l-3-1.4l-3-1.5l-3.1-1.3l-3.1-1.4l-3-1.3l-3.1-1.2l-3-1.2l-3.1-1.2l-3.1-1.1l-3.1-1.1l-3-1l-3.1-1l-3.1-.9l-3.1-.9l-3.1-.8l-3.1-.8l-3.1-.8l-3.1-.7l-3.1-.7l-3.1-.6l-3.1-.6l-3.1-.6l-3.1-.5l-3.1-.5l-3.1-.4l-3.1-.4l-3.1-.3l-3.1-.3l-3.1-.3l-3.1-.2l-3.1-.2l-3.1-.2l-3.1-.1l-3-.1l-3.1 0l-3.1 0l-3.1 0l-3.1 .1l-3.1 .1l-3.1 .1l-3.1 .2l-3 .3M347.1 582.4l-3-1.8l-3-1.8l-3.1-1.8l-3-1.7l-3-1.6l-3-1.6l-3-1.6l-3.1-1.5l-3-1.5l-3.1-1.4l-3-1.4l-3.1-1.3l-3-1.3l-3.1-1.2l-3.1-1.2l-3-1.2l-3.1-1.1l-3.1-1l-3.1-1.1l-3-.9l-3.1-1l-3.1-.8l-3.1-.9l-3.1-.8l-3.1-.7l-3.1-.8l-3.1-.6l-3.1-.7l-3.1-.5l-3.1-.6l-3.1-.5l-3.1-.5l-3.1-.4l-3.1-.4l-3.1-.3l-3.1-.3l-3.1-.3l-3.1-.2l-3.1-.2l-3.1-.1l-3.1-.1l-3.1-.1l-3.1-.1l-3.1 0l-3.1 .1l-3 .1l-3.1 .1l-3.1 .1l-3.1 .2l-3.1 .2M350.1 581.9l-3-1.8l-3-1.8l-3-1.8l-3-1.7l-3-1.6l-3-1.6l-3.1-1.6l-3-1.5l-3-1.5l-3.1-1.4l-3-1.3l-3.1-1.4l-3-1.2l-3.1-1.3l-3.1-1.2l-3-1.1l-3.1-1.1l-3.1-1l-3.1-1.1l-3.1-.9l-3-.9l-3.1-.9l-3.1-.9l-3.1-.7l-3.1-.8l-3.1-.7l-3.1-.7l-3.1-.6l-3.1-.6l-3.1-.5l-3.1-.5l-3.1-.5l-3.1-.4l-3.1-.4l-3.1-.3l-3.1-.3l-3.1-.3l-3.1-.2l-3.1-.2l-3.1-.1l-3.1-.1l-3.1-.1l-3.1 0l-3.1 0l-3.1 0l-3.1 .1l-3.1 .1l-3 .2l-3.1 .2l-3.1 .2M353.2 581.4l-3-1.8l-3-1.8l-3-1.7l-3-1.7l-3-1.6l-3.1-1.6l-3-1.6l-3-1.5l-3.1-1.4l-3-1.4l-3.1-1.4l-3-1.3l-3.1-1.3l-3-1.2l-3.1-1.2l-3.1-1.1l-3-1.1l-3.1-1.1l-3.1-1l-3.1-.9l-3.1-.9l-3-.9l-3.1-.8l-3.1-.8l-3.1-.8l-3.1-.7l-3.1-.6l-3.1-.6l-3.1-.6l-3.1-.5l-3.1-.5l-3.1-.5l-3.1-.4l-3.1-.4l-3.1-.3l-3.1-.3l-3.1-.3l-3.1-.2l-3.1-.2l-3.1-.1l-3.1-.1l-3.1-.1l-3.1 0l-3.1 0l-3.1 .1l-3.1 .1l-3.1 .1M356.2 581.1l-3-1.9l-3-1.7l-3-1.8l-3-1.6l-3-1.7l-3-1.6l-3-1.5l-3.1-1.5l-3-1.4l-3-1.4l-3.1-1.4l-3-1.3l-3.1-1.2l-3.1-1.3l-3-1.1l-3.1-1.2l-3.1-1l-3-1.1l-3.1-1l-3.1-.9l-3.1-.9l-3.1-.9l-3.1-.8l-3.1-.8l-3-.7l-3.1-.7l-3.1-.7l-3.1-.6l-3.1-.6l-3.1-.5l-3.1-.5l-3.1-.4l-3.1-.4l-3.1-.4l-3.1-.3l-3.2-.3l-3.1-.3l-3.1-.2l-3.1-.2l-3.1-.1l-3.1-.1l-3.1 0l-3.1-.1l-3 0l-3.1 .1M359.3 580.8l-3-1.8l-3-1.8l-3-1.7l-3-1.7l-3-1.6l-3.1-1.6l-3-1.5l-3-1.5l-3-1.4l-3.1-1.4l-3-1.4l-3.1-1.3l-3-1.2l-3.1-1.2l-3.1-1.2l-3-1.1l-3.1-1.1l-3.1-1l-3.1-1l-3-1l-3.1-.9l-3.1-.8l-3.1-.8l-3.1-.8l-3.1-.7l-3.1-.7l-3.1-.7l-3.1-.6l-3.1-.5l-3.1-.6l-3.1-.4l-3.1-.5l-3.1-.4l-3.1-.4l-3.1-.3l-3.1-.3l-3.1-.2l-3.1-.2l-3.1-.2l-3.1-.1l-3.1-.1l-3.1-.1l-3.1 0M362.3 580.6l-3-1.8l-3-1.8l-3-1.7l-3-1.6l-3-1.7l-3-1.5l-3-1.5l-3.1-1.5l-3-1.4l-3-1.4l-3.1-1.4l-3-1.3l-3.1-1.2l-3-1.2l-3.1-1.2l-3.1-1.1l-3-1l-3.1-1.1l-3.1-1l-3.1-.9l-3-.9l-3.1-.8l-3.1-.8l-3.1-.8l-3.1-.7l-3.1-.7l-3.1-.7l-3.1-.6l-3.1-.5l-3.1-.5l-3.1-.5l-3.1-.5l-3.1-.4l-3.1-.3l-3.1-.3l-3.1-.3l-3.1-.3l-3.1-.2l-3.1-.1l-3.1-.1l-3.1-.1M365.3 580.5l-2.9-1.8l-3-1.8l-3-1.7l-3-1.6l-3-1.6l-3.1-1.6l-3-1.5l-3-1.5l-3-1.4l-3.1-1.4l-3-1.3l-3.1-1.3l-3-1.2l-3.1-1.2l-3-1.2l-3.1-1.1l-3.1-1l-3.1-1l-3-1l-3.1-.9l-3.1-.9l-3.1-.9l-3.1-.8l-3.1-.7l-3-.8l-3.1-.6l-3.1-.7l-3.1-.6l-3.1-.5l-3.1-.5l-3.1-.5l-3.1-.4l-3.1-.4l-3.1-.4l-3.1-.3l-3.1-.3l-3.1-.2l-3.1-.2l-3.2-.2M368.4 580.5l-3-1.8l-3-1.7l-3-1.7l-3-1.7l-3-1.6l-3-1.5l-3-1.5l-3.1-1.5l-3-1.4l-3-1.4l-3.1-1.3l-3-1.3l-3.1-1.2l-3-1.2l-3.1-1.2l-3.1-1l-3-1.1l-3.1-1l-3.1-1l-3.1-.9l-3-.9l-3.1-.8l-3.1-.8l-3.1-.8l-3.1-.7l-3.1-.7l-3.1-.6l-3.1-.6l-3.1-.5l-3.1-.6l-3.1-.4l-3.1-.5l-3.1-.3l-3.1-.4l-3.1-.3l-3.1-.3l-3.1-.2M371.4 580.6l-3-1.8l-3-1.8l-3-1.6l-3-1.7l-3-1.6l-3-1.5l-3-1.5l-3-1.5l-3.1-1.4l-3-1.3l-3-1.4l-3.1-1.2l-3-1.2l-3.1-1.2l-3.1-1.2l-3-1.1l-3.1-1l-3.1-1l-3-1l-3.1-.9l-3.1-.9l-3.1-.8l-3.1-.8l-3-.8l-3.1-.7l-3.1-.6l-3.1-.7l-3.1-.5l-3.1-.6l-3.1-.5l-3.1-.5l-3.1-.4l-3.1-.4l-3.1-.3l-3.1-.3M374.4 580.7l-3-1.8l-3-1.7l-3-1.7l-3-1.6l-3-1.6l-3-1.5l-3-1.5l-3-1.4l-3-1.4l-3.1-1.4l-3-1.3l-3.1-1.3l-3-1.2l-3.1-1.2l-3-1.1l-3.1-1.1l-3-1l-3.1-1l-3.1-1l-3.1-.9l-3-.9l-3.1-.8l-3.1-.8l-3.1-.7l-3.1-.7l-3.1-.7l-3.1-.6l-3.1-.6l-3.1-.5l-3.1-.5l-3.1-.5l-3.1-.4l-3.1-.4M377.4 581l-3-1.8l-3-1.7l-3-1.7l-3-1.6l-3-1.6l-3-1.5l-3-1.5l-3-1.4l-3-1.4l-3.1-1.4l-3-1.3l-3-1.2l-3.1-1.3l-3-1.1l-3.1-1.1l-3-1.1l-3.1-1.1l-3.1-1l-3-.9l-3.1-.9l-3.1-.9l-3.1-.8l-3.1-.8l-3.1-.7l-3-.7l-3.1-.7l-3.1-.6l-3.1-.6l-3.1-.5l-3.1-.5l-3.1-.5M380.4 581.3l-3-1.8l-3-1.7l-3-1.6l-3-1.6l-3-1.6l-3-1.5l-3-1.5l-3-1.4l-3-1.4l-3-1.4l-3.1-1.3l-3-1.2l-3.1-1.2l-3-1.2l-3.1-1.1l-3-1.1l-3.1-1l-3.1-1l-3-1l-3.1-.9l-3.1-.8l-3.1-.8l-3-.8l-3.1-.8l-3.1-.6l-3.1-.7l-3.1-.6l-3.1-.6l-3.1-.5M227.2 683l3-4.7l3-4.5l3-4.5l3-4.3l3-4.2l3-4.1l3-4l3.1-3.8l3-3.8l3.1-3.6l3-3.5l3.1-3.4l3.1-3.3l3-3.2l3.1-3.1l3.1-2.9l3.1-2.9l3.1-2.7l3.1-2.7l3.1-2.5l3.1-2.4l3.1-2.4l3.1-2.2l3.1-2.1l3.1-2l3.1-1.9l3.1-1.8l3.1-1.7l3.1-1.6l3.1-1.5l3.2-1.5l3.1-1.3l3-1.2l3.1-1.1l3.1-1l3.1-.9l3.1-.9l3.1-.7l3.1-.7l3-.5l3.1-.5l3-.3l3.1-.3l3-.2l3-.1l3.1 0l3 .1l3 .1l3 .3l3 .3M224.2 680.6l3-4.7l3-4.5l3-4.4l3-4.3l3-4.2l3-4.1l3-3.9l3.1-3.9l3-3.7l3.1-3.6l3-3.5l3.1-3.4l3.1-3.3l3-3.2l3.1-3l3.1-3l3.1-2.8l3.1-2.7l3.1-2.7l3.1-2.5l3.1-2.4l3.1-2.3l3.1-2.2l3.1-2.1l3.1-2l3.1-1.9l3.1-1.8l3.1-1.7l3.1-1.6l3.1-1.5l3.1-1.4l3.1-1.3l3.1-1.2l3.1-1.1l3.1-1l3.1-.9l3.1-.8l3.1-.8l3.1-.6l3-.5l3.1-.5l3-.4l3.1-.2l3-.2l3.1-.1l3 0l3 .1l3 .1l3 .3l3 .3M221.3 678.2l2.9-4.6l3-4.5l3-4.4l3-4.3l3-4.2l3-4l3.1-4l3-3.8l3-3.7l3.1-3.6l3-3.5l3.1-3.4l3.1-3.2l3-3.2l3.1-3l3.1-3l3.1-2.8l3.1-2.7l3.1-2.6l3.1-2.5l3.1-2.4l3.1-2.3l3.1-2.2l3.1-2.1l3.1-2l3.1-1.9l3.1-1.7l3.1-1.7l3.1-1.6l3.1-1.5l3.1-1.4l3.1-1.3l3.1-1.2l3.1-1.1l3.1-1l3.1-.9l3.1-.8l3.1-.7l3.1-.6l3-.5l3.1-.5l3-.3l3.1-.3l3-.2l3.1-.1l3 .1l3 0l3 .2l3 .3l3 .3M218.3 675.9l2.9-4.6l3-4.5l3-4.4l3-4.3l3-4.1l3-4l3.1-4l3-3.8l3-3.7l3.1-3.5l3-3.5l3.1-3.4l3.1-3.2l3-3.1l3.1-3.1l3.1-2.9l3.1-2.8l3.1-2.7l3.1-2.6l3.1-2.5l3.1-2.4l3.1-2.3l3.1-2.1l3.1-2.1l3.1-2l3.1-1.9l3.1-1.7l3.1-1.7l3.1-1.6l3.1-1.4l3.1-1.4l3.1-1.3l3.1-1.2l3.1-1.1l3.1-.9l3.1-.9l3.1-.8l3.1-.7l3-.7l3.1-.5l3.1-.4l3-.4l3.1-.2l3-.2l3.1-.1l3 .1l3 .1l3 .1l3 .3l3 .4M215.3 673.7l3-4.6l2.9-4.5l3-4.4l3-4.2l3-4.2l3-4l3.1-3.9l3-3.8l3-3.6l3.1-3.6l3-3.5l3.1-3.3l3.1-3.2l3-3.2l3.1-3l3.1-2.9l3.1-2.8l3.1-2.7l3.1-2.5l3.1-2.5l3.1-2.4l3.1-2.3l3.1-2.1l3.1-2.1l3.1-1.9l3.1-1.9l3.1-1.8l3.1-1.6l3.1-1.6l3.1-1.4l3.1-1.4l3.1-1.3l3.1-1.1l3.1-1.1l3.1-1l3.1-.9l3.1-.8l3.1-.7l3-.6l3.1-.5l3.1-.4l3-.3l3.1-.3l3-.1l3.1-.1l3 0l3 .1l3 .2l3 .3l3 .4M212.3 671.5l3-4.6l3-4.5l2.9-4.3l3-4.3l3-4.1l3-4l3.1-3.9l3-3.7l3-3.7l3.1-3.5l3-3.5l3.1-3.3l3.1-3.2l3-3.1l3.1-3l3.1-2.9l3.1-2.8l3.1-2.7l3-2.5l3.1-2.5l3.1-2.3l3.1-2.3l3.1-2.2l3.1-2l3.1-1.9l3.2-1.9l3.1-1.7l3.1-1.7l3.1-1.5l3.1-1.5l3.1-1.3l3.1-1.3l3.1-1.2l3.1-1l3.1-1l3.1-.9l3.1-.7l3-.7l3.1-.6l3.1-.5l3.1-.4l3-.4l3.1-.2l3-.2l3.1 0l3 0l3 .1l3 .2l3 .3l3 .4M209.3 669.3l3-4.6l3-4.4l2.9-4.3l3-4.2l3-4.1l3-4l3.1-3.9l3-3.7l3-3.7l3.1-3.5l3-3.4l3.1-3.3l3-3.2l3.1-3.1l3.1-3l3.1-2.9l3-2.7l3.1-2.7l3.1-2.6l3.1-2.4l3.1-2.4l3.1-2.2l3.1-2.1l3.1-2.1l3.1-1.9l3.1-1.8l3.1-1.8l3.1-1.6l3.1-1.6l3.2-1.4l3.1-1.3l3.1-1.3l3.1-1.1l3.1-1.1l3-.9l3.1-.9l3.1-.8l3.1-.7l3.1-.5l3.1-.5l3-.4l3.1-.4l3-.2l3.1-.1l3-.1l3.1 .1l3 .1l3 .2l3 .3l3 .4M206.3 667.2l3-4.5l3-4.5l3-4.3l2.9-4.2l3-4l3-4l3.1-3.9l3-3.7l3-3.6l3.1-3.5l3-3.4l3.1-3.3l3-3.2l3.1-3.1l3.1-2.9l3-2.9l3.1-2.8l3.1-2.6l3.1-2.5l3.1-2.5l3.1-2.3l3.1-2.2l3.1-2.2l3.1-2l3.1-1.9l3.1-1.8l3.1-1.8l3.1-1.6l3.1-1.5l3.1-1.4l3.1-1.4l3.1-1.2l3.1-1.1l3.1-1.1l3.1-.9l3.1-.9l3.1-.8l3.1-.6l3.1-.6l3-.5l3.1-.4l3.1-.3l3-.2l3.1-.1l3-.1l3.1 .1l3 .1l3 .2l3 .3l3 .4M203.4 665.2l2.9-4.6l3-4.4l3-4.3l2.9-4.1l3-4.1l3-3.9l3.1-3.9l3-3.7l3-3.6l3-3.5l3.1-3.4l3-3.3l3.1-3.1l3.1-3.1l3-2.9l3.1-2.9l3.1-2.7l3.1-2.7l3.1-2.5l3.1-2.4l3.1-2.3l3-2.2l3.1-2.2l3.2-2l3.1-1.9l3.1-1.8l3.1-1.7l3.1-1.6l3.1-1.5l3.1-1.4l3.1-1.4l3.1-1.2l3.1-1.1l3.1-1.1l3.1-.9l3.1-.8l3.1-.8l3-.7l3.1-.5l3.1-.5l3.1-.4l3-.3l3.1-.2l3-.1l3.1-.1l3 .1l3.1 .1l3 .3l3 .3l3 .4M200.4 663.2l2.9-4.5l3-4.4l3-4.3l2.9-4.1l3-4.1l3-3.9l3-3.8l3.1-3.7l3-3.6l3-3.5l3.1-3.4l3-3.2l3.1-3.2l3-3l3.1-3l3.1-2.8l3.1-2.7l3-2.7l3.1-2.5l3.1-2.4l3.1-2.3l3.1-2.2l3.1-2.1l3.1-2l3.1-1.9l3.1-1.8l3.1-1.7l3.1-1.6l3.1-1.5l3.1-1.4l3.1-1.3l3.1-1.2l3.1-1.1l3.1-1.1l3.1-.9l3.1-.8l3.1-.8l3.1-.6l3.1-.6l3.1-.5l3-.3l3.1-.3l3.1-.2l3-.1l3.1-.1l3 .1l3 .1l3.1 .3l3 .3l3 .4M197.4 661.2l2.9-4.4l3-4.4l2.9-4.3l3-4.1l3-4l3-3.9l3-3.8l3-3.7l3.1-3.6l3-3.5l3-3.3l3.1-3.3l3.1-3.1l3-3.1l3.1-2.9l3.1-2.8l3-2.7l3.1-2.6l3.1-2.5l3.1-2.4l3.1-2.3l3.1-2.2l3.1-2.1l3.1-2l3.1-1.9l3.1-1.7l3.1-1.7l3.1-1.6l3.1-1.5l3.1-1.4l3.1-1.3l3.1-1.2l3.1-1.1l3.1-1l3.1-1l3.1-.8l3.1-.7l3.1-.7l3-.5l3.1-.5l3.1-.3l3.1-.3l3-.2l3.1-.1l3-.1l3.1 .1l3 .2l3 .2l3 .3l3.1 .4M194.4 659.4l2.9-4.5l3-4.4l2.9-4.2l3-4.1l3-4l3-3.9l3-3.8l3-3.7l3.1-3.5l3-3.5l3-3.3l3.1-3.3l3-3.1l3.1-3l3-2.9l3.1-2.8l3.1-2.7l3.1-2.6l3.1-2.5l3-2.4l3.1-2.3l3.1-2.1l3.1-2.1l3.1-2l3.1-1.9l3.1-1.7l3.1-1.7l3.1-1.6l3.1-1.5l3.1-1.4l3.1-1.3l3.1-1.2l3.1-1.1l3.1-1l3.1-.9l3.1-.8l3.1-.7l3.1-.6l3.1-.6l3.1-.4l3-.4l3.1-.3l3.1-.2l3-.1l3.1 0l3 .1l3.1 .1l3 .3l3 .3l3 .4M191.4 657.5l2.9-4.4l3-4.4l2.9-4.2l3-4.1l3-4l3-3.9l3-3.7l3-3.7l3-3.5l3.1-3.5l3-3.3l3-3.2l3.1-3.1l3-3l3.1-2.9l3.1-2.8l3.1-2.7l3-2.6l3.1-2.4l3.1-2.4l3.1-2.3l3.1-2.1l3.1-2.1l3.1-2l3.1-1.8l3.1-1.8l3.1-1.7l3.1-1.5l3.1-1.5l3.1-1.4l3.1-1.3l3.1-1.1l3.1-1.1l3.1-1l3.1-.9l3.1-.8l3.1-.8l3-.6l3.1-.5l3.1-.5l3.1-.3l3.1-.3l3-.2l3.1-.1l3 0l3.1 .1l3 .2l3 .2l3.1 .4l3 .4M188.4 655.7l2.9-4.4l3-4.3l2.9-4.2l3-4.1l3-4l3-3.8l3-3.8l3-3.6l3-3.6l3-3.4l3.1-3.3l3-3.2l3.1-3.1l3-3l3.1-2.9l3-2.7l3.1-2.7l3.1-2.6l3.1-2.4l3-2.4l3.1-2.2l3.1-2.2l3.1-2.1l3.1-1.9l3.1-1.9l3.1-1.7l3.1-1.7l3.1-1.5l3.1-1.5l3.1-1.4l3.1-1.2l3.1-1.2l3.1-1.1l3.1-1l3.1-.9l3.1-.8l3.1-.7l3.1-.6l3.1-.5l3.1-.4l3-.4l3.1-.2l3.1-.2l3-.1l3.1 0l3 .1l3.1 .2l3 .2l3 .3l3 .5M185.4 654l2.9-4.4l3-4.3l2.9-4.2l3-4.1l3-3.9l3-3.9l3-3.7l3-3.6l3-3.5l3-3.4l3-3.3l3.1-3.2l3-3.1l3.1-3l3-2.9l3.1-2.7l3.1-2.7l3-2.5l3.1-2.5l3.1-2.3l3.1-2.3l3.1-2.1l3.1-2l3.1-2l3.1-1.8l3.1-1.8l3.1-1.6l3.1-1.6l3.1-1.4l3.1-1.4l3.1-1.2l3.1-1.2l3.1-1.1l3.1-.9l3.1-.9l3-.8l3.1-.7l3.1-.6l3.1-.5l3.1-.5l3.1-.3l3-.3l3.1-.1l3.1-.1l3 0l3.1 .1l3 .2l3 .2l3.1 .4l3 .4M182.4 652.3l2.9-4.4l2.9-4.3l3-4.1l3-4.1l2.9-3.9l3-3.8l3-3.8l3-3.6l3-3.5l3.1-3.4l3-3.2l3-3.2l3.1-3.1l3-2.9l3.1-2.9l3-2.7l3.1-2.7l3.1-2.5l3.1-2.5l3-2.3l3.1-2.2l3.1-2.2l3.1-2l3.1-1.9l3.1-1.9l3.1-1.7l3.1-1.6l3.1-1.6l3.1-1.4l3.1-1.3l3.1-1.3l3.1-1.1l3.1-1.1l3.1-1l3.1-.9l3.1-.7l3.1-.7l3.1-.6l3-.5l3.1-.5l3.1-.3l3.1-.2l3-.2l3.1-.1l3.1 0l3 .1l3 .2l3.1 .3l3 .4l3 .4M179.4 650.7l2.9-4.4l2.9-4.2l3-4.2l3-4l2.9-4l3-3.8l3-3.7l3-3.6l3-3.5l3-3.3l3.1-3.3l3-3.2l3-3l3.1-3l3-2.8l3.1-2.7l3.1-2.7l3-2.5l3.1-2.4l3.1-2.3l3.1-2.3l3.1-2.1l3-2l3.1-1.9l3.1-1.8l3.1-1.8l3.1-1.6l3.1-1.5l3.1-1.4l3.1-1.4l3.1-1.2l3.1-1.2l3.1-1l3.1-1l3.1-.8l3.1-.8l3.1-.7l3.1-.6l3.1-.5l3.1-.4l3-.3l3.1-.3l3.1-.1l3-.1l3.1 0l3 .2l3.1 .1l3 .3l3.1 .4l3 .4M176.4 649.1l2.9-4.3l2.9-4.3l3-4.1l2.9-4.1l3-3.9l3-3.8l3-3.6l3-3.6l3-3.5l3-3.4l3-3.2l3.1-3.2l3-3l3-2.9l3.1-2.8l3.1-2.8l3-2.6l3.1-2.5l3.1-2.4l3-2.3l3.1-2.2l3.1-2.1l3.1-2l3.1-2l3.1-1.8l3.1-1.7l3.1-1.6l3.1-1.5l3.1-1.4l3.1-1.4l3.1-1.2l3.1-1.1l3.1-1.1l3.1-.9l3-.9l3.1-.7l3.1-.7l3.1-.6l3.1-.5l3.1-.4l3.1-.3l3-.2l3.1-.2l3.1 0l3 0l3.1 .1l3 .2l3.1 .3l3 .3l3 .5M173.4 647.6l2.9-4.4l2.9-4.2l3-4.1l2.9-4l3-3.9l3-3.8l2.9-3.7l3-3.5l3.1-3.5l3-3.3l3-3.3l3-3.1l3.1-3l3-2.9l3-2.9l3.1-2.7l3.1-2.6l3-2.5l3.1-2.4l3.1-2.3l3.1-2.2l3-2.1l3.1-2l3.1-1.8l3.1-1.8l3.1-1.7l3.1-1.7l3.1-1.5l3.1-1.4l3.1-1.3l3.1-1.2l3.1-1.1l3.1-1.1l3.1-.9l3.1-.9l3.1-.7l3.1-.7l3-.6l3.1-.4l3.1-.4l3.1-.4l3.1-.2l3-.1l3.1-.1l3 .1l3.1 .1l3 .2l3.1 .3l3 .3l3 .5M170.3 646.1l3-4.3l2.9-4.2l2.9-4.1l3-4l3-3.9l2.9-3.8l3-3.6l3-3.6l3-3.4l3-3.4l3-3.2l3.1-3.1l3-3l3-2.9l3.1-2.8l3-2.7l3.1-2.6l3.1-2.5l3-2.4l3.1-2.3l3.1-2.1l3.1-2.1l3.1-2l3-1.9l3.1-1.8l3.1-1.7l3.1-1.6l3.1-1.5l3.1-1.4l3.1-1.3l3.1-1.2l3.1-1.1l3.1-1l3.1-1l3.1-.8l3.1-.8l3.1-.6l3.1-.6l3-.5l3.1-.4l3.1-.3l3.1-.2l3-.1l3.1-.1l3.1 .1l3 .1l3.1 .2l3 .3l3.1 .4l3 .4M167.3 644.7l3-4.3l2.9-4.2l2.9-4.1l3-4l2.9-3.9l3-3.7l3-3.7l3-3.5l3-3.4l3-3.3l3-3.2l3-3.1l3.1-3l3-2.9l3-2.8l3.1-2.7l3-2.6l3.1-2.5l3.1-2.3l3-2.3l3.1-2.2l3.1-2.1l3.1-1.9l3.1-1.9l3.1-1.8l3.1-1.7l3-1.5l3.1-1.5l3.1-1.4l3.1-1.3l3.1-1.2l3.1-1.1l3.1-1l3.1-1l3.1-.8l3.1-.7l3.1-.7l3.1-.6l3.1-.4l3-.4l3.1-.3l3.1-.2l3.1-.2l3 0l3.1 .1l3 .1l3.1 .2l3 .3l3.1 .4l3 .4M164.3 643.3l2.9-4.3l3-4.2l2.9-4.1l3-3.9l2.9-3.9l3-3.7l3-3.6l2.9-3.5l3-3.5l3-3.3l3.1-3.2l3-3l3-3l3-2.9l3.1-2.8l3-2.6l3.1-2.6l3-2.5l3.1-2.3l3.1-2.3l3.1-2.2l3-2l3.1-2l3.1-1.9l3.1-1.7l3.1-1.7l3.1-1.6l3.1-1.4l3.1-1.4l3-1.3l3.1-1.2l3.1-1.1l3.1-1l3.1-.9l3.1-.9l3.1-.7l3.1-.6l3.1-.6l3.1-.5l3.1-.3l3-.3l3.1-.2l3.1-.2l3.1 0l3 .1l3.1 .1l3 .2l3.1 .3l3 .4l3 .5M161.3 641.9l2.9-4.2l3-4.2l2.9-4l2.9-4l3-3.8l3-3.7l2.9-3.7l3-3.5l3-3.4l3-3.2l3-3.2l3-3.1l3.1-3l3-2.8l3-2.8l3.1-2.7l3-2.5l3.1-2.5l3-2.3l3.1-2.3l3.1-2.1l3.1-2.1l3-1.9l3.1-1.9l3.1-1.7l3.1-1.7l3.1-1.6l3.1-1.4l3.1-1.4l3.1-1.3l3.1-1.2l3.1-1.1l3.1-1l3-.9l3.1-.8l3.1-.7l3.1-.6l3.1-.6l3.1-.4l3.1-.4l3.1-.3l3-.2l3.1-.1l3.1 0l3 0l3.1 .2l3 .2l3.1 .3l3 .4l3 .5M158.3 640.7l2.9-4.3l2.9-4.2l3-4l2.9-3.9l3-3.8l2.9-3.7l3-3.6l3-3.5l3-3.4l3-3.3l3-3.1l3-3.1l3-3l3-2.8l3.1-2.8l3-2.6l3.1-2.6l3-2.4l3.1-2.3l3-2.3l3.1-2.1l3.1-2.1l3.1-1.9l3-1.8l3.1-1.8l3.1-1.6l3.1-1.6l3.1-1.5l3.1-1.3l3.1-1.3l3.1-1.2l3.1-1l3.1-1l3.1-.9l3-.8l3.1-.8l3.1-.6l3.1-.5l3.1-.5l3.1-.4l3.1-.2l3-.2l3.1-.1l3.1 0l3 0l3.1 .2l3 .2l3.1 .3l3 .4l3.1 .5M155.3 639.4l2.9-4.2l2.9-4.2l3-4l2.9-3.9l2.9-3.8l3-3.7l3-3.6l2.9-3.4l3-3.4l3-3.3l3-3.1l3-3.1l3.1-2.9l3-2.8l3-2.8l3.1-2.6l3-2.6l3.1-2.4l3-2.3l3.1-2.2l3-2.2l3.1-2l3.1-1.9l3.1-1.9l3.1-1.7l3-1.6l3.1-1.6l3.1-1.4l3.1-1.4l3.1-1.3l3.1-1.1l3.1-1.1l3.1-1l3.1-.9l3.1-.8l3-.7l3.1-.6l3.1-.5l3.1-.5l3.1-.3l3.1-.3l3-.2l3.1-.1l3.1 0l3 .1l3.1 .1l3.1 .2l3 .4l3 .4l3.1 .4M152.3 638.2l2.9-4.2l2.9-4.1l2.9-4l3-3.9l2.9-3.8l3-3.7l2.9-3.5l3-3.5l3-3.4l3-3.2l3-3.1l3-3.1l3-2.9l3-2.8l3.1-2.8l3-2.6l3-2.5l3.1-2.4l3-2.3l3.1-2.3l3.1-2.1l3-2l3.1-1.9l3.1-1.8l3.1-1.8l3.1-1.6l3-1.5l3.1-1.5l3.1-1.3l3.1-1.3l3.1-1.1l3.1-1.1l3.1-1l3.1-.9l3.1-.8l3.1-.7l3-.6l3.1-.5l3.1-.4l3.1-.4l3.1-.3l3.1-.1l3-.1l3.1 0l3.1 0l3 .2l3.1 .2l3 .4l3.1 .4l3 .5M149.3 637.1l2.9-4.2l2.9-4.1l2.9-4l2.9-3.9l3-3.8l2.9-3.6l3-3.6l3-3.4l2.9-3.4l3-3.2l3-3.1l3-3.1l3.1-2.9l3-2.8l3-2.7l3-2.6l3.1-2.5l3-2.4l3.1-2.3l3-2.2l3.1-2.1l3.1-2.1l3-1.9l3.1-1.8l3.1-1.7l3.1-1.6l3.1-1.5l3-1.5l3.1-1.3l3.1-1.3l3.1-1.1l3.1-1.1l3.1-.9l3.1-.9l3.1-.8l3.1-.7l3.1-.6l3-.5l3.1-.5l3.1-.3l3.1-.3l3.1-.1l3-.1l3.1 0l3.1 .1l3 .1l3.1 .3l3 .3l3.1 .4l3 .5M146.3 636l2.9-4.2l2.9-4.1l2.9-4l2.9-3.8l3-3.8l2.9-3.6l3-3.6l2.9-3.4l3-3.3l3-3.3l3-3.1l3-3l3-2.9l3-2.8l3-2.7l3.1-2.6l3-2.5l3.1-2.4l3-2.3l3.1-2.2l3-2.1l3.1-2l3.1-1.9l3-1.8l3.1-1.7l3.1-1.6l3.1-1.5l3.1-1.4l3-1.4l3.1-1.2l3.1-1.1l3.1-1.1l3.1-.9l3.1-.9l3.1-.8l3.1-.7l3.1-.6l3-.5l3.1-.4l3.1-.4l3.1-.2l3.1-.2l3-.1l3.1 0l3.1 .1l3 .2l3.1 .2l3 .4l3.1 .4l3 .5M143.3 634.9l2.9-4.2l2.9-4l2.9-4l2.9-3.8l2.9-3.8l3-3.6l2.9-3.5l3-3.4l3-3.4l3-3.2l2.9-3.1l3-3l3.1-2.8l3-2.8l3-2.7l3-2.6l3.1-2.5l3-2.4l3-2.3l3.1-2.2l3.1-2l3-2l3.1-1.9l3.1-1.8l3-1.7l3.1-1.6l3.1-1.5l3.1-1.4l3.1-1.4l3-1.2l3.1-1.1l3.1-1.1l3.1-.9l3.1-.9l3.1-.8l3.1-.6l3.1-.6l3-.5l3.1-.5l3.1-.3l3.1-.2l3.1-.2l3-.1l3.1 0l3.1 .1l3 .2l3.1 .3l3 .3l3.1 .4l3 .5M140.3 633.9l2.9-4.1l2.9-4.1l2.9-3.9l2.9-3.9l2.9-3.7l3-3.6l2.9-3.5l3-3.4l2.9-3.3l3-3.2l3-3.1l3-3l3-2.9l3-2.8l3-2.6l3.1-2.6l3-2.5l3-2.3l3.1-2.3l3-2.2l3.1-2.1l3-2l3.1-1.8l3.1-1.8l3-1.7l3.1-1.6l3.1-1.5l3.1-1.4l3.1-1.3l3-1.2l3.1-1.2l3.1-1l3.1-.9l3.1-.9l3.1-.8l3.1-.6l3.1-.6l3-.5l3.1-.4l3.1-.4l3.1-.2l3.1-.2l3 0l3.1 0l3.1 .1l3 .2l3.1 .2l3 .4l3.1 .4l3 .5M137.3 633l2.9-4.2l2.8-4l2.9-4l3-3.8l2.9-3.7l2.9-3.6l3-3.5l2.9-3.4l3-3.3l3-3.1l3-3.1l2.9-3l3-2.9l3.1-2.7l3-2.7l3-2.5l3-2.5l3.1-2.4l3-2.2l3.1-2.2l3-2.1l3.1-1.9l3-1.9l3.1-1.8l3.1-1.7l3-1.5l3.1-1.5l3.1-1.4l3.1-1.3l3.1-1.2l3-1.2l3.1-1l3.1-.9l3.1-.9l3.1-.7l3.1-.7l3.1-.6l3-.5l3.1-.4l3.1-.3l3.1-.2l3.1-.2l3-.1l3.1 .1l3.1 .1l3 .1l3.1 .3l3 .4l3.1 .4M134.3 632l2.8-4.1l2.9-4l2.9-3.9l2.9-3.8l3-3.7l2.9-3.6l2.9-3.5l3-3.4l3-3.2l2.9-3.2l3-3.1l3-2.9l3-2.9l3-2.7l3-2.7l3-2.5l3.1-2.5l3-2.3l3-2.3l3.1-2.2l3-2l3.1-2l3-1.8l3.1-1.8l3.1-1.7l3.1-1.5l3-1.5l3.1-1.4l3.1-1.3l3.1-1.2l3-1.1l3.1-1l3.1-1l3.1-.8l3.1-.8l3.1-.6l3.1-.6l3-.5l3.1-.4l3.1-.3l3.1-.2l3.1-.2l3 0l3.1 0l3.1 .1l3 .2l3.1 .2l3 .4l3.1 .4M131.3 631.2l2.8-4.1l2.9-4l2.9-3.9l2.9-3.8l2.9-3.7l3-3.6l2.9-3.5l3-3.3l2.9-3.3l3-3.1l3-3.1l3-2.9l2.9-2.9l3.1-2.7l3-2.7l3-2.5l3-2.4l3-2.4l3.1-2.2l3-2.2l3.1-2l3-2l3.1-1.8l3-1.8l3.1-1.6l3.1-1.6l3-1.5l3.1-1.4l3.1-1.2l3.1-1.2l3.1-1.1l3-1.1l3.1-.9l3.1-.8l3.1-.8l3.1-.6l3.1-.6l3-.5l3.1-.4l3.1-.3l3.1-.2l3.1-.1l3-.1l3.1 0l3.1 .2l3 .1l3.1 .3l3 .4M128.3 630.4l2.8-4.1l2.9-4l2.9-3.9l2.9-3.8l2.9-3.7l2.9-3.5l3-3.5l2.9-3.3l3-3.3l3-3.1l2.9-3.1l3-2.9l3-2.8l3-2.8l3-2.6l3-2.5l3-2.4l3.1-2.4l3-2.2l3-2.1l3.1-2.1l3-1.9l3.1-1.9l3.1-1.7l3-1.7l3.1-1.5l3.1-1.5l3-1.4l3.1-1.2l3.1-1.2l3.1-1.1l3-1l3.1-.9l3.1-.9l3.1-.7l3.1-.7l3.1-.5l3-.5l3.1-.4l3.1-.3l3.1-.2l3.1-.1l3-.1l3.1 0l3.1 .2l3 .2l3.1 .2l3 .4M125.3 629.6l2.8-4.1l2.9-4l2.9-3.9l2.9-3.7l2.9-3.7l2.9-3.5l3-3.5l2.9-3.3l3-3.2l2.9-3.2l3-3l3-2.9l3-2.8l2.9-2.7l3.1-2.7l3-2.5l3-2.4l3-2.3l3-2.2l3.1-2.2l3-2l3.1-1.9l3-1.9l3.1-1.7l3-1.6l3.1-1.6l3.1-1.4l3-1.4l3.1-1.3l3.1-1.2l3.1-1.1l3-1l3.1-.9l3.1-.8l3.1-.7l3.1-.7l3.1-.5l3-.5l3.1-.4l3.1-.3l3.1-.2l3.1-.1l3-.1l3.1 .1l3.1 .1l3 .2l3.1 .3M122.3 628.8l2.8-4l2.9-4l2.9-3.9l2.9-3.7l2.9-3.6l2.9-3.6l2.9-3.4l3-3.3l2.9-3.2l3-3.2l2.9-3l3-2.9l3-2.8l3-2.7l3-2.6l3-2.5l3-2.4l3-2.3l3.1-2.2l3-2.2l3-2l3.1-1.9l3-1.8l3.1-1.7l3.1-1.7l3-1.5l3.1-1.5l3.1-1.3l3-1.3l3.1-1.2l3.1-1l3.1-1l3-.9l3.1-.9l3.1-.7l3.1-.6l3.1-.6l3-.4l3.1-.4l3.1-.3l3.1-.2l3.1-.1l3-.1l3.1 .1l3.1 .1l3 .2l3.1 .3M119.3 628.1l2.8-4l2.9-4l2.9-3.8l2.9-3.7l2.9-3.7l2.9-3.5l2.9-3.4l2.9-3.3l3-3.2l2.9-3.1l3-3l3-2.9l3-2.8l2.9-2.7l3-2.6l3.1-2.5l3-2.4l3-2.3l3-2.2l3-2.1l3.1-2l3-1.9l3.1-1.8l3-1.8l3.1-1.6l3-1.5l3.1-1.5l3.1-1.3l3-1.3l3.1-1.1l3.1-1.1l3.1-1l3-.9l3.1-.8l3.1-.7l3.1-.6l3.1-.6l3-.4l3.1-.4l3.1-.3l3.1-.2l3-.1l3.1-.1l3.1 .1l3.1 .1l3 .2M116.3 627.5l2.8-4l2.9-4l2.9-3.8l2.9-3.7l2.9-3.6l2.9-3.5l2.9-3.4l2.9-3.3l3-3.2l2.9-3.1l3-3l2.9-2.9l3-2.8l3-2.7l3-2.6l3-2.4l3-2.4l3-2.3l3-2.2l3.1-2.1l3-2l3-1.9l3.1-1.8l3-1.7l3.1-1.6l3.1-1.6l3-1.4l3.1-1.3l3-1.3l3.1-1.1l3.1-1.1l3.1-1l3-.9l3.1-.8l3.1-.7l3.1-.6l3.1-.6l3-.4l3.1-.4l3.1-.3l3.1-.2l3-.1l3.1 0l3.1 0l3.1 .2l3 .2M113.3 626.9l2.8-4l2.9-4l2.9-3.8l2.9-3.7l2.8-3.6l3-3.5l2.9-3.3l2.9-3.3l2.9-3.2l3-3.1l2.9-3l3-2.8l3-2.8l3-2.7l2.9-2.6l3-2.4l3.1-2.4l3-2.3l3-2.2l3-2.1l3-2l3.1-1.8l3-1.8l3.1-1.7l3-1.7l3.1-1.5l3-1.4l3.1-1.3l3.1-1.3l3-1.1l3.1-1.1l3.1-1l3.1-.8l3-.8l3.1-.7l3.1-.7l3.1-.5l3-.4l3.1-.4l3.1-.3l3.1-.2l3-.1l3.1 0l3.1 0l3.1 .2M110.3 626.3l2.9-4l2.8-3.9l2.9-3.8l2.9-3.7l2.8-3.6l2.9-3.4l3-3.4l2.9-3.3l2.9-3.2l2.9-3l3-3l3-2.9l2.9-2.7l3-2.7l3-2.5l3-2.5l3-2.4l3-2.2l3-2.2l3-2.1l3.1-2l3-1.9l3-1.7l3.1-1.7l3-1.6l3.1-1.5l3.1-1.5l3-1.3l3.1-1.2l3-1.2l3.1-1l3.1-1l3.1-.9l3-.8l3.1-.7l3.1-.6l3.1-.5l3-.4l3.1-.4l3.1-.3l3.1-.2l3-.1l3.1 0l3.1 .1l3 .1M107.3 625.8l2.9-4l2.8-3.9l2.9-3.8l2.8-3.6l2.9-3.6l2.9-3.5l2.9-3.3l3-3.3l2.9-3.2l2.9-3l3-3l2.9-2.8l3-2.8l3-2.6l3-2.6l2.9-2.4l3-2.4l3.1-2.2l3-2.2l3-2.1l3-1.9l3-1.9l3.1-1.8l3-1.7l3.1-1.6l3-1.5l3.1-1.4l3-1.3l3.1-1.2l3.1-1.2l3-1l3.1-1l3.1-.8l3-.8l3.1-.7l3.1-.6l3.1-.6l3-.4l3.1-.3l3.1-.3l3.1-.2l3-.1l3.1 0l3.1 .1M104.4 625.3l2.8-4l2.8-3.8l2.9-3.8l2.9-3.7l2.8-3.5l2.9-3.5l2.9-3.3l2.9-3.3l3-3.1l2.9-3.1l2.9-2.9l3-2.8l3-2.8l2.9-2.6l3-2.6l3-2.4l3-2.3l3-2.3l3-2.2l3-2l3-2l3.1-1.8l3-1.8l3-1.7l3.1-1.6l3-1.5l3.1-1.4l3.1-1.3l3-1.2l3.1-1.1l3-1.1l3.1-.9l3.1-.9l3.1-.8l3-.7l3.1-.6l3.1-.5l3-.4l3.1-.3l3.1-.3l3.1-.2l3-.1l3.1 0l3.1 .1M101.4 624.9l2.8-4l2.8-3.8l2.9-3.8l2.9-3.6l2.8-3.6l2.9-3.4l2.9-3.4l2.9-3.2l2.9-3.1l3-3.1l2.9-2.9l3-2.8l2.9-2.7l3-2.7l3-2.5l3-2.4l2.9-2.4l3-2.2l3.1-2.2l3-2l3-2l3-1.8l3-1.8l3.1-1.7l3-1.5l3.1-1.5l3-1.4l3.1-1.3l3-1.2l3.1-1.2l3.1-1l3-.9l3.1-.9l3.1-.8l3-.6l3.1-.6l3.1-.6l3.1-.4l3-.3l3.1-.3l3.1-.2l3 0l3.1-.1M98.4 624.5l2.8-4l2.9-3.8l2.8-3.7l2.9-3.7l2.8-3.5l2.9-3.4l2.9-3.4l2.9-3.2l2.9-3.1l3-3l2.9-2.9l2.9-2.9l3-2.7l3-2.6l2.9-2.5l3-2.4l3-2.4l3-2.2l3-2.1l3-2.1l3-1.9l3.1-1.9l3-1.7l3-1.7l3.1-1.6l3-1.4l3-1.4l3.1-1.3l3.1-1.2l3-1.1l3.1-1.1l3-.9l3.1-.9l3.1-.7l3-.7l3.1-.6l3.1-.5l3.1-.4l3-.4l3.1-.2l3.1-.2l3-.1l3.1 0M95.4 624.1l2.8-3.9l2.9-3.8l2.8-3.7l2.9-3.7l2.8-3.5l2.9-3.4l2.9-3.3l2.9-3.2l2.9-3.1l2.9-3l3-2.9l2.9-2.9l3-2.7l2.9-2.6l3-2.5l3-2.4l3-2.3l3-2.2l3-2.2l3-2l3-1.9l3-1.9l3-1.7l3.1-1.7l3-1.5l3-1.5l3.1-1.4l3-1.3l3.1-1.2l3-1.1l3.1-1l3.1-.9l3-.9l3.1-.7l3.1-.7l3-.6l3.1-.5l3.1-.4l3-.4l3.1-.2l3.1-.2l3.1-.1M92.5 623.8l2.8-3.9l2.8-3.8l2.8-3.7l2.9-3.6l2.8-3.5l2.9-3.4l2.9-3.3l2.9-3.2l2.9-3.1l2.9-3l3-2.9l2.9-2.8l2.9-2.7l3-2.6l3-2.5l2.9-2.4l3-2.3l3-2.2l3-2.2l3-2l3-1.9l3-1.8l3.1-1.8l3-1.6l3-1.6l3.1-1.4l3-1.4l3.1-1.3l3-1.2l3.1-1.1l3-1l3.1-.9l3-.9l3.1-.7l3.1-.7l3-.6l3.1-.5l3.1-.4l3-.3l3.1-.3l3.1-.1l3.1-.1M89.5 623.6l2.8-3.9l2.8-3.8l2.9-3.7l2.8-3.6l2.9-3.5l2.8-3.4l2.9-3.3l2.9-3.2l2.9-3.1l2.9-3l2.9-2.9l3-2.7l2.9-2.7l3-2.6l2.9-2.5l3-2.4l3-2.3l3-2.2l3-2.1l3-2l3-1.9l3-1.9l3-1.7l3-1.6l3.1-1.6l3-1.4l3-1.4l3.1-1.3l3-1.2l3.1-1.1l3-1l3.1-.9l3.1-.8l3-.8l3.1-.6l3.1-.6l3-.5l3.1-.4l3.1-.3l3-.3l3.1-.1M86.5 623.3l2.8-3.9l2.9-3.7l2.8-3.7l2.8-3.6l2.9-3.5l2.8-3.4l2.9-3.3l2.9-3.1l2.9-3.1l2.9-3l2.9-2.8l3-2.8l2.9-2.7l3-2.6l2.9-2.5l3-2.3l3-2.3l2.9-2.2l3-2.1l3-2l3-1.9l3-1.8l3.1-1.8l3-1.6l3-1.5l3-1.5l3.1-1.4l3-1.2l3.1-1.2l3-1.1l3.1-1l3-.9l3.1-.8l3-.8l3.1-.6l3.1-.6l3-.5l3.1-.4l3.1-.3l3-.3l3.1-.1M83.6 623.2l2.8-3.9l2.8-3.8l2.8-3.7l2.8-3.6l2.9-3.4l2.9-3.4l2.8-3.2l2.9-3.2l2.9-3.1l2.9-2.9l2.9-2.9l3-2.8l2.9-2.6l2.9-2.6l3-2.5l3-2.3l2.9-2.3l3-2.2l3-2.1l3-2l3-1.9l3-1.8l3-1.7l3-1.6l3-1.6l3.1-1.4l3-1.4l3.1-1.2l3-1.2l3-1.1l3.1-1l3.1-.9l3-.8l3.1-.8l3-.6l3.1-.6l3.1-.5l3-.4l3.1-.3l3.1-.2M80.6 623l2.8-3.9l2.8-3.7l2.8-3.7l2.9-3.5l2.8-3.5l2.9-3.4l2.8-3.2l2.9-3.2l2.9-3l2.9-3l2.9-2.8l2.9-2.8l3-2.6l2.9-2.6l3-2.4l2.9-2.4l3-2.3l3-2.2l3-2l2.9-2l3-1.9l3-1.8l3.1-1.7l3-1.6l3-1.6l3-1.4l3.1-1.3l3-1.3l3-1.2l3.1-1l3-1l3.1-.9l3-.9l3.1-.7l3.1-.6l3-.6l3.1-.5l3-.4l3.1-.3l3.1-.2M77.7 622.9l2.8-3.9l2.8-3.7l2.8-3.7l2.8-3.5l2.8-3.4l2.9-3.4l2.9-3.2l2.8-3.2l2.9-3l2.9-2.9l2.9-2.9l2.9-2.7l3-2.7l2.9-2.5l3-2.5l2.9-2.3l3-2.3l2.9-2.2l3-2l3-2l3-1.9l3-1.8l3-1.7l3-1.6l3-1.5l3.1-1.4l3-1.4l3-1.2l3.1-1.2l3-1.1l3.1-.9l3-.9l3.1-.9l3-.7l3.1-.6l3-.6l3.1-.5l3.1-.3l3-.4l3.1-.2" fill="none" stroke="#000" stroke-width="0.2" stroke-opacity="1"/>
<ellipse cx="77.2" cy="623.4" rx="2.5" ry="1.8" fill="#f00" stroke="#900" stroke-width="0.5"/>
<ellipse cx="227.3" cy="682.4" rx="2.6" ry="1.9" fill="#ffd0d0" stroke="#777" stroke-width="0.6"/>
<ellipse cx="379.5" cy="579.9" rx="2.6" ry="1.9" fill="#ffd0d0" stroke="#777" stroke-width="0.6"/>
<ellipse cx="227" cy="557" rx="2.5" ry="1.8" fill="#f00" stroke="#900" stroke-width="0.5"/>
<text x="60.8" y="723.2" font-size="10.3" text-anchor="start" font-family='"Liberation Sans", sans-serif' textLength="74.3" lengthAdjust="spacingAndGlyphs" stroke="#000" stroke-width="0.55">C: Reaction time</text>
<text x="307.8" y="723.2" font-size="10.3" text-anchor="start" font-family='"Liberation Sans", sans-serif' textLength="94.5" lengthAdjust="spacingAndGlyphs" stroke="#000" stroke-width="0.55">A: Urea/Gelatin Ratio</text>
<text x="28" y="616.3" font-size="10.4" text-anchor="middle" font-family='"Liberation Sans", sans-serif' textLength="61.4" lengthAdjust="spacingAndGlyphs" transform="rotate(-90 28 616.3)" stroke="#000" stroke-width="0.55">Urea Loading</text>
<text x="221.5" y="772.6" font-size="21" text-anchor="middle" font-family='"Liberation Sans", sans-serif' textLength="12.6" lengthAdjust="spacingAndGlyphs" font-weight="bold" >B</text>
</g>
<g id="plot-C">
<path d="M484.9 653.5L635.6 620.9M635.6 620.9L785.9 653.7M483.8 639L635.6 607.8M635.6 607.8L787.1 639.2M482.7 624.5L635.6 594.7M635.6 594.7L788.2 624.7M481.6 609.9L635.6 581.6M635.6 581.6L789.4 610.2M480.5 595.4L635.6 568.5M635.6 568.5L790.6 595.7M479.4 580.9L635.6 555.5M635.6 555.5L791.8 581.3M478.3 566.3L635.6 542.4M635.6 542.4L793 566.8M477.2 551.8L635.6 529.3M635.6 529.3L794.2 552.3M522.5 645.4L516.8 546.2M560.2 637.2L556.4 540.5M597.9 629L596 534.9M755.8 647.1L762.5 547.7M725.8 640.5L730.8 543.1M695.7 634L699 538.5M665.7 627.4L667.3 533.9M487.2 684.8L477.2 551.8M635.6 649L635.6 529.3M783.3 684.8L794.2 552.3" stroke="#2a2a2a" stroke-width="0.9" fill="none"/>
<polygon points="487.2,684.8 635,729.5 783.3,684.8 635.6,649" fill="#ffff00"/>
<polyline points="746.1,696 746.8,695.4 747.6,694.9 748.8,693.9 749.4,693.3 750.1,692.8 751.1,691.8 751.7,691.2 752.2,690.6 753,689.9 753.7,689 754.2,688.4 754.6,687.9 755.1,687.2 755.7,686.4 756.2,685.5 756.5,685 756.9,684.4 757.2,683.8 757.4,683.2 757.8,682.4 758,681.7 758.3,680.9 758.4,680.2 758.6,679.5 758.7,678.8" fill="none" stroke="#6a9aa8" stroke-width="0.9"/>
<polyline points="617.8,724.3 620,724.4 620.4,724.4 622.4,724.4 623,724.4 624.8,724.4 625.5,724.4 627.3,724.4 627.9,724.4 629.9,724.4 630.3,724.4 632.5,724.3 632.7,724.3 634.9,724.3 635.1,724.3 637.2,724.2 637.9,724.2 639.4,724.1 640.7,724.1 641.6,724 643.6,723.9 643.7,723.9 645.8,723.8 646.7,723.8 647.8,723.7 649.8,723.6 649.8,723.6 651.8,723.4 653.1,723.3 653.8,723.3 655.7,723.1 656.5,723" fill="none" stroke="#6a9aa8" stroke-width="0.9"/>
<polyline points="497.6,682.3 497.7,682.6 497.8,682.9 497.9,683.3 498,683.5 498.2,684.1 498.2,684.1 498.5,684.7 498.6,684.9 498.8,685.3 499,685.7 499.1,685.9 499.4,686.5 499.4,686.5 499.8,687.1 499.9,687.3 500.2,687.7 500.5,688.1 500.6,688.3 501,688.8 501.1,689" fill="none" stroke="#6a9aa8" stroke-width="0.9"/>
<polyline points="662.4,694.4 664.9,693.7 666.4,693.3 668.4,692.6 670.6,691.8 672.6,691 673.8,690.5 675.4,689.7 677,688.9 677.9,688.4 679.2,687.6 680.2,687 680.9,686.5 682.1,685.5 682.7,684.9 683.2,684.4 683.9,683.7 684.5,682.8 684.9,682.2 685.2,681.6 685.5,681 685.7,680.4 685.8,679.8 685.9,679.1 686,678.5 685.9,677.8 685.8,677.1 685.6,676.4 685.3,675.7 684.8,674.9 684.4,674.3 684,673.8 683.6,673.3 682.7,672.4 681.9,671.8 681.3,671.3 680.1,670.5 679.2,670 678.2,669.4 676.8,668.7 675.4,668.1 674.1,667.5 672.1,666.8 670.3,666.1 668.9,665.7 666.6,665.1 664.2,664.5 661.6,663.9 659.6,663.5 657.4,663.1 654.4,662.6 652.4,662.3 649.6,662 647.7,661.7 644.3,661.4 642.4,661.3 640.3,661.1 637.2,661 634.3,660.9 631.9,660.8 629.6,660.8 627.1,660.8 624.4,660.9 622.2,660.9 620.1,661 618,661.1 615.2,661.3 612.3,661.5 610.5,661.7 607.1,662 605.5,662.2 602.4,662.7 600.9,662.9 598,663.4 595.2,664 592.7,664.5 590.2,665.1 587.9,665.8 585.7,666.5 583.6,667.2 582.6,667.6 580.8,668.3 579.8,668.8 578.2,669.5 577.3,670 575.9,670.9 575.2,671.3 574.2,672.1 573.4,672.7 572.8,673.2 572.2,673.8 571.5,674.7 571,675.3 570.7,675.9 570.4,676.5 570.2,677.1 570,677.7 569.9,678.3 569.9,679 569.9,679.6 570,680.3 570.2,681 570.4,681.7 570.8,682.5 571.2,683.2 571.7,683.8 572.1,684.4 572.8,685.1 573.7,685.9 574.3,686.5 575.1,687.1 576.3,687.9 577.1,688.4 578.7,689.3 579.6,689.8 581.4,690.7 583,691.4 584.4,691.9 586.5,692.7 588.8,693.4 591.2,694.2 593.8,694.8 596.5,695.5 599.4,696.1 600.9,696.4 604,696.9 605.7,697.1 609.1,697.6 610.9,697.8 613.5,698 616.6,698.2 618.7,698.4 620.8,698.5 623.1,698.5 625.4,698.6 627.9,698.6 630.5,698.5 633.2,698.5 636.2,698.3 638.6,698.2 640.5,698 643,697.8 646,697.5 647.7,697.3 651,696.8 652.5,696.5 655.5,696 658.4,695.4 661.1,694.7 662.4,694.4" fill="none" stroke="#7fe0b0" stroke-width="0.9"/>
<path d="M487.2 684.8L635 729.5L783.3 684.8" stroke="#222" stroke-width="0.7" fill="none"/>
<text x="638.3" y="736.3" font-size="7" text-anchor="start" font-family='"Liberation Sans", sans-serif' textLength="14" lengthAdjust="spacingAndGlyphs" stroke="#000" stroke-width="0.5">0.60</text>
<text x="675.4" y="725.1" font-size="7" text-anchor="start" font-family='"Liberation Sans", sans-serif' textLength="14" lengthAdjust="spacingAndGlyphs" stroke="#000" stroke-width="0.5">0.90</text>
<text x="712.4" y="713.9" font-size="7" text-anchor="start" font-family='"Liberation Sans", sans-serif' textLength="14" lengthAdjust="spacingAndGlyphs" stroke="#000" stroke-width="0.5">1.20</text>
<text x="749.5" y="702.8" font-size="7" text-anchor="start" font-family='"Liberation Sans", sans-serif' textLength="14" lengthAdjust="spacingAndGlyphs" stroke="#000" stroke-width="0.5">1.50</text>
<text x="786.6" y="691.6" font-size="7" text-anchor="start" font-family='"Liberation Sans", sans-serif' textLength="14" lengthAdjust="spacingAndGlyphs" stroke="#000" stroke-width="0.5">1.80</text>
<text x="631.2" y="736.5" font-size="7" text-anchor="end" font-family='"Liberation Sans", sans-serif' textLength="14" lengthAdjust="spacingAndGlyphs" stroke="#000" stroke-width="0.5">0.50</text>
<text x="601.6" y="727.6" font-size="7" text-anchor="end" font-family='"Liberation Sans", sans-serif' textLength="14" lengthAdjust="spacingAndGlyphs" stroke="#000" stroke-width="0.5">0.70</text>
<text x="572.1" y="718.6" font-size="7" text-anchor="end" font-family='"Liberation Sans", sans-serif' textLength="14" lengthAdjust="spacingAndGlyphs" stroke="#000" stroke-width="0.5">0.90</text>
<text x="542.5" y="709.7" font-size="7" text-anchor="end" font-family='"Liberation Sans", sans-serif' textLength="14" lengthAdjust="spacingAndGlyphs" stroke="#000" stroke-width="0.5">1.10</text>
<text x="513" y="700.7" font-size="7" text-anchor="end" font-family='"Liberation Sans", sans-serif' textLength="14" lengthAdjust="spacingAndGlyphs" stroke="#000" stroke-width="0.5">1.30</text>
<text x="483.4" y="691.8" font-size="7" text-anchor="end" font-family='"Liberation Sans", sans-serif' textLength="14" lengthAdjust="spacingAndGlyphs" stroke="#000" stroke-width="0.5">1.50</text>
<circle cx="635" cy="729.5" r="0.9" fill="#111"/>
<circle cx="672.1" cy="718.3" r="0.9" fill="#111"/>
<circle cx="709.1" cy="707.1" r="0.9" fill="#111"/>
<circle cx="746.2" cy="696" r="0.9" fill="#111"/>
<circle cx="783.3" cy="684.8" r="0.9" fill="#111"/>
<circle cx="635" cy="729.5" r="0.9" fill="#111"/>
<circle cx="605.4" cy="720.6" r="0.9" fill="#111"/>
<circle cx="575.9" cy="711.6" r="0.9" fill="#111"/>
<circle cx="546.3" cy="702.7" r="0.9" fill="#111"/>
<circle cx="516.8" cy="693.7" r="0.9" fill="#111"/>
<circle cx="487.2" cy="684.8" r="0.9" fill="#111"/>
<text x="481.3" y="652.3" font-size="7" text-anchor="end" font-family='"Liberation Sans", sans-serif' stroke="#000" stroke-width="0.5">4</text>
<line x1="483.4" y1="653.7" x2="484.9" y2="653.5" stroke="#222" stroke-width="0.8"/>
<text x="480.2" y="637.8" font-size="7" text-anchor="end" font-family='"Liberation Sans", sans-serif' stroke="#000" stroke-width="0.5">6</text>
<line x1="482.3" y1="639.2" x2="483.8" y2="639" stroke="#222" stroke-width="0.8"/>
<text x="479.1" y="623.3" font-size="7" text-anchor="end" font-family='"Liberation Sans", sans-serif' stroke="#000" stroke-width="0.5">8</text>
<line x1="481.2" y1="624.7" x2="482.7" y2="624.5" stroke="#222" stroke-width="0.8"/>
<text x="478" y="608.7" font-size="7" text-anchor="end" font-family='"Liberation Sans", sans-serif' stroke="#000" stroke-width="0.5">10</text>
<line x1="480.1" y1="610.1" x2="481.6" y2="609.9" stroke="#222" stroke-width="0.8"/>
<text x="476.9" y="594.2" font-size="7" text-anchor="end" font-family='"Liberation Sans", sans-serif' stroke="#000" stroke-width="0.5">12</text>
<line x1="479" y1="595.6" x2="480.5" y2="595.4" stroke="#222" stroke-width="0.8"/>
<text x="475.8" y="579.7" font-size="7" text-anchor="end" font-family='"Liberation Sans", sans-serif' stroke="#000" stroke-width="0.5">14</text>
<line x1="477.9" y1="581.1" x2="479.4" y2="580.9" stroke="#222" stroke-width="0.8"/>
<text x="474.7" y="565.1" font-size="7" text-anchor="end" font-family='"Liberation Sans", sans-serif' stroke="#000" stroke-width="0.5">16</text>
<line x1="476.8" y1="566.5" x2="478.3" y2="566.3" stroke="#222" stroke-width="0.8"/>
<text x="473.6" y="550.6" font-size="7" text-anchor="end" font-family='"Liberation Sans", sans-serif' stroke="#000" stroke-width="0.5">18</text>
<line x1="475.7" y1="552" x2="477.2" y2="551.8" stroke="#222" stroke-width="0.8"/>
<defs><linearGradient id="gC39" gradientUnits="userSpaceOnUse" x1="481.7" x2="637.6" y1="0" y2="0"><stop offset="0" stop-color="#778000"/><stop offset=".045" stop-color="#767900"/><stop offset=".089" stop-color="#6f6e00"/><stop offset=".134" stop-color="#645d00"/><stop offset=".179" stop-color="#564a00"/><stop offset=".224" stop-color="#473800"/><stop offset=".269" stop-color="#382900"/><stop offset=".315" stop-color="#291c00"/><stop offset=".36" stop-color="#1b1100"/><stop offset=".406" stop-color="#0e0800"/><stop offset=".451" stop-color="#090500"/><stop offset=".497" stop-color="#060300"/><stop offset=".542" stop-color="#010100"/><stop offset=".588" stop-color="#000000"/><stop offset=".634" stop-color="#000000"/><stop offset=".68" stop-color="#000000"/><stop offset=".725" stop-color="#000000"/><stop offset=".771" stop-color="#000000"/><stop offset=".817" stop-color="#000000"/><stop offset=".863" stop-color="#000000"/><stop offset=".909" stop-color="#000000"/><stop offset=".954" stop-color="#000000"/><stop offset="1" stop-color="#000000"/></linearGradient><linearGradient id="gC38" gradientUnits="userSpaceOnUse" x1="485.5" x2="641.5" y1="0" y2="0"><stop offset="0" stop-color="#7c8400"/><stop offset=".045" stop-color="#7c7d00"/><stop offset=".089" stop-color="#757100"/><stop offset=".134" stop-color="#6a5f00"/><stop offset=".179" stop-color="#5d4d00"/><stop offset=".224" stop-color="#4e3c00"/><stop offset=".27" stop-color="#3f2c00"/><stop offset=".315" stop-color="#312000"/><stop offset=".36" stop-color="#231500"/><stop offset=".406" stop-color="#140b00"/><stop offset=".451" stop-color="#0b0600"/><stop offset=".497" stop-color="#070400"/><stop offset=".543" stop-color="#040200"/><stop offset=".588" stop-color="#000000"/><stop offset=".634" stop-color="#000000"/><stop offset=".68" stop-color="#000000"/><stop offset=".726" stop-color="#000000"/><stop offset=".771" stop-color="#000000"/><stop offset=".817" stop-color="#000000"/><stop offset=".863" stop-color="#000000"/><stop offset=".909" stop-color="#000000"/><stop offset=".954" stop-color="#000000"/><stop offset="1" stop-color="#000000"/></linearGradient><linearGradient id="gC37" gradientUnits="userSpaceOnUse" x1="489.3" x2="645.4" y1="0" y2="0"><stop offset="0" stop-color="#818700"/><stop offset=".045" stop-color="#818000"/><stop offset=".089" stop-color="#797100"/><stop offset=".134" stop-color="#706000"/><stop offset=".179" stop-color="#644f00"/><stop offset=".224" stop-color="#563f00"/><stop offset=".27" stop-color="#473000"/><stop offset=".315" stop-color="#382300"/><stop offset=".36" stop-color="#2a1800"/><stop offset=".406" stop-color="#1c0f00"/><stop offset=".451" stop-color="#0e0700"/><stop offset=".497" stop-color="#090400"/><stop offset=".543" stop-color="#060200"/><stop offset=".588" stop-color="#020100"/><stop offset=".634" stop-color="#000000"/><stop offset=".68" stop-color="#000000"/><stop offset=".726" stop-color="#000000"/><stop offset=".771" stop-color="#000000"/><stop offset=".817" stop-color="#000000"/><stop offset=".863" stop-color="#000000"/><stop offset=".909" stop-color="#000000"/><stop offset=".954" stop-color="#000000"/><stop offset="1" stop-color="#000000"/></linearGradient><linearGradient id="gC36" gradientUnits="userSpaceOnUse" x1="493.2" x2="649.3" y1="0" y2="0"><stop offset="0" stop-color="#878a00"/><stop offset=".045" stop-color="#858100"/><stop offset=".089" stop-color="#7d7100"/><stop offset=".134" stop-color="#756100"/><stop offset=".179" stop-color="#6a5100"/><stop offset=".225" stop-color="#5e4200"/><stop offset=".27" stop-color="#4f3300"/><stop offset=".315" stop-color="#402500"/><stop offset=".361" stop-color="#311a00"/><stop offset=".406" stop-color="#231100"/><stop offset=".452" stop-color="#150900"/><stop offset=".497" stop-color="#0b0500"/><stop offset=".543" stop-color="#080300"/><stop offset=".589" stop-color="#040100"/><stop offset=".634" stop-color="#000000"/><stop offset=".68" stop-color="#000000"/><stop offset=".726" stop-color="#000000"/><stop offset=".772" stop-color="#000000"/><stop offset=".817" stop-color="#000000"/><stop offset=".863" stop-color="#000000"/><stop offset=".909" stop-color="#000000"/><stop offset=".954" stop-color="#000000"/><stop offset="1" stop-color="#000000"/></linearGradient><linearGradient id="gC35" gradientUnits="userSpaceOnUse" x1="497" x2="653.2" y1="0" y2="0"><stop offset="0" stop-color="#8c8d00"/><stop offset=".045" stop-color="#888100"/><stop offset=".089" stop-color="#817000"/><stop offset=".134" stop-color="#796100"/><stop offset=".179" stop-color="#705200"/><stop offset=".225" stop-color="#654400"/><stop offset=".27" stop-color="#563500"/><stop offset=".315" stop-color="#482800"/><stop offset=".361" stop-color="#381d00"/><stop offset=".406" stop-color="#2b1400"/><stop offset=".452" stop-color="#1d0c00"/><stop offset=".497" stop-color="#0f0600"/><stop offset=".543" stop-color="#0a0300"/><stop offset=".589" stop-color="#060200"/><stop offset=".634" stop-color="#020100"/><stop offset=".68" stop-color="#000000"/><stop offset=".726" stop-color="#000000"/><stop offset=".772" stop-color="#000000"/><stop offset=".817" stop-color="#000000"/><stop offset=".863" stop-color="#000000"/><stop offset=".909" stop-color="#000000"/><stop offset=".954" stop-color="#000000"/><stop offset="1" stop-color="#000000"/></linearGradient><linearGradient id="gC34" gradientUnits="userSpaceOnUse" x1="500.8" x2="657.2" y1="0" y2="0"><stop offset="0" stop-color="#908e00"/><stop offset=".045" stop-color="#8b8000"/><stop offset=".09" stop-color="#857000"/><stop offset=".134" stop-color="#7d6100"/><stop offset=".18" stop-color="#755300"/><stop offset=".225" stop-color="#6b4500"/><stop offset=".27" stop-color="#5e3700"/><stop offset=".315" stop-color="#4f2a00"/><stop offset=".361" stop-color="#401f00"/><stop offset=".406" stop-color="#321600"/><stop offset=".452" stop-color="#240e00"/><stop offset=".498" stop-color="#160800"/><stop offset=".543" stop-color="#0b0400"/><stop offset=".589" stop-color="#080200"/><stop offset=".635" stop-color="#040100"/><stop offset=".68" stop-color="#000000"/><stop offset=".726" stop-color="#000000"/><stop offset=".772" stop-color="#000000"/><stop offset=".817" stop-color="#000000"/><stop offset=".863" stop-color="#000000"/><stop offset=".909" stop-color="#000000"/><stop offset=".954" stop-color="#000000"/><stop offset="1" stop-color="#000000"/></linearGradient><linearGradient id="gC33" gradientUnits="userSpaceOnUse" x1="504.7" x2="661.1" y1="0" y2="0"><stop offset="0" stop-color="#928e00"/><stop offset=".045" stop-color="#8e7f00"/><stop offset=".09" stop-color="#886f00"/><stop offset=".135" stop-color="#816100"/><stop offset=".18" stop-color="#795300"/><stop offset=".225" stop-color="#714600"/><stop offset=".27" stop-color="#663900"/><stop offset=".316" stop-color="#572c00"/><stop offset=".361" stop-color="#482100"/><stop offset=".406" stop-color="#391800"/><stop offset=".452" stop-color="#2b1000"/><stop offset=".498" stop-color="#1e0a00"/><stop offset=".543" stop-color="#0f0500"/><stop offset=".589" stop-color="#0a0300"/><stop offset=".635" stop-color="#060200"/><stop offset=".68" stop-color="#030100"/><stop offset=".726" stop-color="#000000"/><stop offset=".772" stop-color="#000000"/><stop offset=".818" stop-color="#000000"/><stop offset=".863" stop-color="#000000"/><stop offset=".909" stop-color="#000000"/><stop offset=".954" stop-color="#000000"/><stop offset="1" stop-color="#000000"/></linearGradient><linearGradient id="gC32" gradientUnits="userSpaceOnUse" x1="508.6" x2="665" y1="0" y2="0"><stop offset="0" stop-color="#948d00"/><stop offset=".045" stop-color="#907d00"/><stop offset=".09" stop-color="#8b6f00"/><stop offset=".135" stop-color="#856100"/><stop offset=".18" stop-color="#7e5300"/><stop offset=".225" stop-color="#764600"/><stop offset=".27" stop-color="#6c3900"/><stop offset=".316" stop-color="#5f2d00"/><stop offset=".361" stop-color="#502300"/><stop offset=".407" stop-color="#411900"/><stop offset=".452" stop-color="#331200"/><stop offset=".498" stop-color="#250c00"/><stop offset=".543" stop-color="#170700"/><stop offset=".589" stop-color="#0c0300"/><stop offset=".635" stop-color="#080200"/><stop offset=".681" stop-color="#050100"/><stop offset=".726" stop-color="#010000"/><stop offset=".772" stop-color="#000000"/><stop offset=".818" stop-color="#000000"/><stop offset=".863" stop-color="#000000"/><stop offset=".909" stop-color="#000000"/><stop offset=".954" stop-color="#000000"/><stop offset="1" stop-color="#000000"/></linearGradient><linearGradient id="gC31" gradientUnits="userSpaceOnUse" x1="512.4" x2="668.9" y1="0" y2="0"><stop offset="0" stop-color="#968c00"/><stop offset=".045" stop-color="#927c00"/><stop offset=".09" stop-color="#8e6e00"/><stop offset=".135" stop-color="#886000"/><stop offset=".18" stop-color="#825300"/><stop offset=".225" stop-color="#7a4600"/><stop offset=".27" stop-color="#723a00"/><stop offset=".316" stop-color="#672f00"/><stop offset=".361" stop-color="#582400"/><stop offset=".407" stop-color="#491b00"/><stop offset=".452" stop-color="#3a1300"/><stop offset=".498" stop-color="#2d0d00"/><stop offset=".544" stop-color="#1f0900"/><stop offset=".589" stop-color="#110400"/><stop offset=".635" stop-color="#0a0300"/><stop offset=".681" stop-color="#070200"/><stop offset=".726" stop-color="#030100"/><stop offset=".772" stop-color="#000000"/><stop offset=".818" stop-color="#000000"/><stop offset=".863" stop-color="#000000"/><stop offset=".909" stop-color="#000000"/><stop offset=".955" stop-color="#000000"/><stop offset="1" stop-color="#000000"/></linearGradient><linearGradient id="gC30" gradientUnits="userSpaceOnUse" x1="516.3" x2="672.9" y1="0" y2="0"><stop offset="0" stop-color="#988a00"/><stop offset=".045" stop-color="#947b00"/><stop offset=".09" stop-color="#906d00"/><stop offset=".135" stop-color="#8c5f00"/><stop offset=".18" stop-color="#865300"/><stop offset=".225" stop-color="#7e4500"/><stop offset=".27" stop-color="#763a00"/><stop offset=".316" stop-color="#6d3000"/><stop offset=".361" stop-color="#602500"/><stop offset=".407" stop-color="#511c00"/><stop offset=".452" stop-color="#431500"/><stop offset=".498" stop-color="#340f00"/><stop offset=".544" stop-color="#270a00"/><stop offset=".589" stop-color="#190600"/><stop offset=".635" stop-color="#0c0300"/><stop offset=".681" stop-color="#090200"/><stop offset=".727" stop-color="#050100"/><stop offset=".772" stop-color="#010000"/><stop offset=".818" stop-color="#000000"/><stop offset=".863" stop-color="#000000"/><stop offset=".909" stop-color="#000000"/><stop offset=".955" stop-color="#000000"/><stop offset="1" stop-color="#000000"/></linearGradient><linearGradient id="gC29" gradientUnits="userSpaceOnUse" x1="520.1" x2="676.8" y1="0" y2="0"><stop offset="0" stop-color="#9a8900"/><stop offset=".045" stop-color="#977a00"/><stop offset=".09" stop-color="#926c00"/><stop offset=".135" stop-color="#8e5f00"/><stop offset=".18" stop-color="#895200"/><stop offset=".225" stop-color="#824500"/><stop offset=".271" stop-color="#7a3a00"/><stop offset=".316" stop-color="#723000"/><stop offset=".362" stop-color="#682600"/><stop offset=".407" stop-color="#591d00"/><stop offset=".453" stop-color="#4b1600"/><stop offset=".498" stop-color="#3c1000"/><stop offset=".544" stop-color="#2e0c00"/><stop offset=".59" stop-color="#210800"/><stop offset=".635" stop-color="#120400"/><stop offset=".681" stop-color="#0b0200"/><stop offset=".727" stop-color="#070200"/><stop offset=".772" stop-color="#040100"/><stop offset=".818" stop-color="#000000"/><stop offset=".864" stop-color="#000000"/><stop offset=".909" stop-color="#000000"/><stop offset=".955" stop-color="#000000"/><stop offset="1" stop-color="#000000"/></linearGradient><linearGradient id="gC28" gradientUnits="userSpaceOnUse" x1="524" x2="680.7" y1="0" y2="0"><stop offset="0" stop-color="#9c8800"/><stop offset=".045" stop-color="#997900"/><stop offset=".09" stop-color="#956b00"/><stop offset=".135" stop-color="#915e00"/><stop offset=".18" stop-color="#8c5200"/><stop offset=".225" stop-color="#864500"/><stop offset=".271" stop-color="#7f3a00"/><stop offset=".316" stop-color="#773000"/><stop offset=".362" stop-color="#6e2600"/><stop offset=".407" stop-color="#611e00"/><stop offset=".453" stop-color="#531700"/><stop offset=".498" stop-color="#441100"/><stop offset=".544" stop-color="#350d00"/><stop offset=".59" stop-color="#280900"/><stop offset=".635" stop-color="#1a0600"/><stop offset=".681" stop-color="#0d0300"/><stop offset=".727" stop-color="#090200"/><stop offset=".772" stop-color="#060100"/><stop offset=".818" stop-color="#020000"/><stop offset=".864" stop-color="#000000"/><stop offset=".909" stop-color="#000000"/><stop offset=".955" stop-color="#000000"/><stop offset="1" stop-color="#000000"/></linearGradient><linearGradient id="gC27" gradientUnits="userSpaceOnUse" x1="527.9" x2="684.6" y1="0" y2="0"><stop offset="0" stop-color="#9d8700"/><stop offset=".045" stop-color="#9b7900"/><stop offset=".09" stop-color="#976a00"/><stop offset=".135" stop-color="#935e00"/><stop offset=".18" stop-color="#8f5100"/><stop offset=".225" stop-color="#8a4500"/><stop offset=".271" stop-color="#833a00"/><stop offset=".316" stop-color="#7b3000"/><stop offset=".362" stop-color="#732700"/><stop offset=".407" stop-color="#691f00"/><stop offset=".453" stop-color="#5b1800"/><stop offset=".499" stop-color="#4c1300"/><stop offset=".544" stop-color="#3d0e00"/><stop offset=".59" stop-color="#300b00"/><stop offset=".636" stop-color="#220800"/><stop offset=".681" stop-color="#140500"/><stop offset=".727" stop-color="#0b0300"/><stop offset=".773" stop-color="#080200"/><stop offset=".818" stop-color="#040100"/><stop offset=".864" stop-color="#000000"/><stop offset=".909" stop-color="#000000"/><stop offset=".955" stop-color="#000000"/><stop offset="1" stop-color="#000000"/></linearGradient><linearGradient id="gC26" gradientUnits="userSpaceOnUse" x1="531.8" x2="688.5" y1="0" y2="0"><stop offset="0" stop-color="#9f8600"/><stop offset=".045" stop-color="#9d7800"/><stop offset=".09" stop-color="#996a00"/><stop offset=".135" stop-color="#955d00"/><stop offset=".18" stop-color="#915000"/><stop offset=".226" stop-color="#8d4500"/><stop offset=".271" stop-color="#873a00"/><stop offset=".316" stop-color="#7f3000"/><stop offset=".362" stop-color="#772700"/><stop offset=".407" stop-color="#6f2000"/><stop offset=".453" stop-color="#631a00"/><stop offset=".499" stop-color="#541400"/><stop offset=".544" stop-color="#461000"/><stop offset=".59" stop-color="#370c00"/><stop offset=".636" stop-color="#2a0900"/><stop offset=".681" stop-color="#1d0700"/><stop offset=".727" stop-color="#0e0400"/><stop offset=".773" stop-color="#0a0300"/><stop offset=".818" stop-color="#060200"/><stop offset=".864" stop-color="#030100"/><stop offset=".909" stop-color="#000000"/><stop offset=".955" stop-color="#000000"/><stop offset="1" stop-color="#000000"/></linearGradient><linearGradient id="gC25" gradientUnits="userSpaceOnUse" x1="535.7" x2="692.5" y1="0" y2="0"><stop offset="0" stop-color="#a08600"/><stop offset=".045" stop-color="#9e7800"/><stop offset=".09" stop-color="#9b6a00"/><stop offset=".135" stop-color="#975d00"/><stop offset=".18" stop-color="#935000"/><stop offset=".226" stop-color="#8f4500"/><stop offset=".271" stop-color="#8a3b00"/><stop offset=".317" stop-color="#833000"/><stop offset=".362" stop-color="#7c2700"/><stop offset=".408" stop-color="#742100"/><stop offset=".453" stop-color="#6a1b00"/><stop offset=".499" stop-color="#5c1600"/><stop offset=".545" stop-color="#4e1100"/><stop offset=".59" stop-color="#3f0e00"/><stop offset=".636" stop-color="#310b00"/><stop offset=".681" stop-color="#240900"/><stop offset=".727" stop-color="#170600"/><stop offset=".773" stop-color="#0c0300"/><stop offset=".818" stop-color="#090300"/><stop offset=".864" stop-color="#050200"/><stop offset=".909" stop-color="#010000"/><stop offset=".955" stop-color="#000000"/><stop offset="1" stop-color="#000000"/></linearGradient><linearGradient id="gC24" gradientUnits="userSpaceOnUse" x1="539.5" x2="696.4" y1="0" y2="0"><stop offset="0" stop-color="#a18500"/><stop offset=".045" stop-color="#a07700"/><stop offset=".09" stop-color="#9d6a00"/><stop offset=".135" stop-color="#995d00"/><stop offset=".18" stop-color="#955000"/><stop offset=".226" stop-color="#914500"/><stop offset=".271" stop-color="#8d3b00"/><stop offset=".317" stop-color="#883100"/><stop offset=".362" stop-color="#802800"/><stop offset=".408" stop-color="#782200"/><stop offset=".453" stop-color="#701c00"/><stop offset=".499" stop-color="#641700"/><stop offset=".545" stop-color="#561300"/><stop offset=".59" stop-color="#481000"/><stop offset=".636" stop-color="#390d00"/><stop offset=".682" stop-color="#2c0b00"/><stop offset=".727" stop-color="#1f0800"/><stop offset=".773" stop-color="#110500"/><stop offset=".818" stop-color="#0a0300"/><stop offset=".864" stop-color="#070300"/><stop offset=".909" stop-color="#040100"/><stop offset=".955" stop-color="#000000"/><stop offset="1" stop-color="#000000"/></linearGradient><linearGradient id="gC23" gradientUnits="userSpaceOnUse" x1="543.4" x2="700.3" y1="0" y2="0"><stop offset="0" stop-color="#a28500"/><stop offset=".045" stop-color="#a17700"/><stop offset=".09" stop-color="#9f6a00"/><stop offset=".135" stop-color="#9c5d00"/><stop offset=".181" stop-color="#975100"/><stop offset=".226" stop-color="#934500"/><stop offset=".271" stop-color="#8f3b00"/><stop offset=".317" stop-color="#8b3200"/><stop offset=".362" stop-color="#842a00"/><stop offset=".408" stop-color="#7c2300"/><stop offset=".454" stop-color="#751d00"/><stop offset=".499" stop-color="#6c1900"/><stop offset=".545" stop-color="#5e1500"/><stop offset=".59" stop-color="#501200"/><stop offset=".636" stop-color="#420f00"/><stop offset=".682" stop-color="#340d00"/><stop offset=".727" stop-color="#270b00"/><stop offset=".773" stop-color="#190800"/><stop offset=".818" stop-color="#0d0400"/><stop offset=".864" stop-color="#090400"/><stop offset=".909" stop-color="#060300"/><stop offset=".955" stop-color="#020100"/><stop offset="1" stop-color="#000000"/></linearGradient><linearGradient id="gC22" gradientUnits="userSpaceOnUse" x1="547.3" x2="704.2" y1="0" y2="0"><stop offset="0" stop-color="#a38400"/><stop offset=".045" stop-color="#a27700"/><stop offset=".09" stop-color="#a06b00"/><stop offset=".135" stop-color="#9e5e00"/><stop offset=".181" stop-color="#9a5100"/><stop offset=".226" stop-color="#964600"/><stop offset=".271" stop-color="#913c00"/><stop offset=".317" stop-color="#8d3300"/><stop offset=".362" stop-color="#892b00"/><stop offset=".408" stop-color="#812400"/><stop offset=".454" stop-color="#791f00"/><stop offset=".499" stop-color="#711b00"/><stop offset=".545" stop-color="#661700"/><stop offset=".591" stop-color="#581400"/><stop offset=".636" stop-color="#4a1200"/><stop offset=".682" stop-color="#3c0f00"/><stop offset=".727" stop-color="#2e0d00"/><stop offset=".773" stop-color="#210b00"/><stop offset=".819" stop-color="#140700"/><stop offset=".864" stop-color="#0b0500"/><stop offset=".909" stop-color="#080400"/><stop offset=".955" stop-color="#050200"/><stop offset="1" stop-color="#010100"/></linearGradient><linearGradient id="gC21" gradientUnits="userSpaceOnUse" x1="551.2" x2="708.1" y1="0" y2="0"><stop offset="0" stop-color="#a38400"/><stop offset=".045" stop-color="#a27700"/><stop offset=".09" stop-color="#a16b00"/><stop offset=".135" stop-color="#9f5f00"/><stop offset=".181" stop-color="#9c5200"/><stop offset=".226" stop-color="#984700"/><stop offset=".272" stop-color="#943d00"/><stop offset=".317" stop-color="#903400"/><stop offset=".363" stop-color="#8c2d00"/><stop offset=".408" stop-color="#852600"/><stop offset=".454" stop-color="#7d2100"/><stop offset=".499" stop-color="#761d00"/><stop offset=".545" stop-color="#6e1a00"/><stop offset=".591" stop-color="#601700"/><stop offset=".636" stop-color="#521500"/><stop offset=".682" stop-color="#441200"/><stop offset=".728" stop-color="#361000"/><stop offset=".773" stop-color="#290e00"/><stop offset=".819" stop-color="#1c0b00"/><stop offset=".864" stop-color="#0f0600"/><stop offset=".909" stop-color="#0a0500"/><stop offset=".955" stop-color="#070400"/><stop offset="1" stop-color="#040200"/></linearGradient><linearGradient id="gC20" gradientUnits="userSpaceOnUse" x1="555.1" x2="712" y1="0" y2="0"><stop offset="0" stop-color="#a48400"/><stop offset=".045" stop-color="#a37700"/><stop offset=".09" stop-color="#a26c00"/><stop offset=".135" stop-color="#a06000"/><stop offset=".181" stop-color="#9e5400"/><stop offset=".226" stop-color="#9a4900"/><stop offset=".272" stop-color="#963f00"/><stop offset=".317" stop-color="#923500"/><stop offset=".363" stop-color="#8e2e00"/><stop offset=".408" stop-color="#8a2800"/><stop offset=".454" stop-color="#822300"/><stop offset=".5" stop-color="#7a1f00"/><stop offset=".545" stop-color="#721c00"/><stop offset=".591" stop-color="#681a00"/><stop offset=".637" stop-color="#5b1800"/><stop offset=".682" stop-color="#4d1600"/><stop offset=".728" stop-color="#3e1300"/><stop offset=".773" stop-color="#311100"/><stop offset=".819" stop-color="#240e00"/><stop offset=".864" stop-color="#170a00"/><stop offset=".91" stop-color="#0c0600"/><stop offset=".955" stop-color="#090500"/><stop offset="1" stop-color="#060400"/></linearGradient><linearGradient id="gC19" gradientUnits="userSpaceOnUse" x1="559" x2="715.9" y1="0" y2="0"><stop offset="0" stop-color="#a48500"/><stop offset=".045" stop-color="#a37800"/><stop offset=".09" stop-color="#a26c00"/><stop offset=".136" stop-color="#a16100"/><stop offset=".181" stop-color="#a05500"/><stop offset=".226" stop-color="#9c4b00"/><stop offset=".272" stop-color="#984100"/><stop offset=".317" stop-color="#943700"/><stop offset=".363" stop-color="#903000"/><stop offset=".408" stop-color="#8c2b00"/><stop offset=".454" stop-color="#862600"/><stop offset=".5" stop-color="#7f2200"/><stop offset=".545" stop-color="#771f00"/><stop offset=".591" stop-color="#6f1e00"/><stop offset=".637" stop-color="#631c00"/><stop offset=".682" stop-color="#551a00"/><stop offset=".728" stop-color="#471800"/><stop offset=".773" stop-color="#391500"/><stop offset=".819" stop-color="#2c1300"/><stop offset=".864" stop-color="#1f0f00"/><stop offset=".91" stop-color="#120900"/><stop offset=".955" stop-color="#0b0600"/><stop offset="1" stop-color="#080500"/></linearGradient><linearGradient id="gC18" gradientUnits="userSpaceOnUse" x1="562.9" x2="719.8" y1="0" y2="0"><stop offset="0" stop-color="#a58600"/><stop offset=".045" stop-color="#a47900"/><stop offset=".09" stop-color="#a36e00"/><stop offset=".136" stop-color="#a26200"/><stop offset=".181" stop-color="#a15700"/><stop offset=".226" stop-color="#9f4d00"/><stop offset=".272" stop-color="#9b4300"/><stop offset=".317" stop-color="#963a00"/><stop offset=".363" stop-color="#923300"/><stop offset=".409" stop-color="#8e2d00"/><stop offset=".454" stop-color="#8b2900"/><stop offset=".5" stop-color="#832500"/><stop offset=".546" stop-color="#7b2200"/><stop offset=".591" stop-color="#742100"/><stop offset=".637" stop-color="#6b2000"/><stop offset=".682" stop-color="#5d1e00"/><stop offset=".728" stop-color="#4f1c00"/><stop offset=".773" stop-color="#411a00"/><stop offset=".819" stop-color="#341700"/><stop offset=".864" stop-color="#271300"/><stop offset=".91" stop-color="#1a0e00"/><stop offset=".955" stop-color="#0e0900"/><stop offset="1" stop-color="#0a0700"/></linearGradient><linearGradient id="gC17" gradientUnits="userSpaceOnUse" x1="566.8" x2="723.7" y1="0" y2="0"><stop offset="0" stop-color="#a68800"/><stop offset=".045" stop-color="#a57b00"/><stop offset=".09" stop-color="#a36f00"/><stop offset=".136" stop-color="#a26400"/><stop offset=".181" stop-color="#a15900"/><stop offset=".226" stop-color="#a04f00"/><stop offset=".272" stop-color="#9d4600"/><stop offset=".318" stop-color="#993d00"/><stop offset=".363" stop-color="#953600"/><stop offset=".409" stop-color="#913000"/><stop offset=".454" stop-color="#8d2c00"/><stop offset=".5" stop-color="#872900"/><stop offset=".546" stop-color="#802600"/><stop offset=".591" stop-color="#782400"/><stop offset=".637" stop-color="#712400"/><stop offset=".683" stop-color="#652300"/><stop offset=".728" stop-color="#582100"/><stop offset=".774" stop-color="#4a1f00"/><stop offset=".819" stop-color="#3c1c00"/><stop offset=".864" stop-color="#2f1800"/><stop offset=".91" stop-color="#221400"/><stop offset=".955" stop-color="#150d00"/><stop offset="1" stop-color="#0d0900"/></linearGradient><linearGradient id="gC16" gradientUnits="userSpaceOnUse" x1="570.7" x2="727.6" y1="0" y2="0"><stop offset="0" stop-color="#a78900"/><stop offset=".045" stop-color="#a57c00"/><stop offset=".09" stop-color="#a47000"/><stop offset=".136" stop-color="#a36600"/><stop offset=".181" stop-color="#a25b00"/><stop offset=".227" stop-color="#a15200"/><stop offset=".272" stop-color="#9f4900"/><stop offset=".318" stop-color="#9b4100"/><stop offset=".363" stop-color="#973900"/><stop offset=".409" stop-color="#933400"/><stop offset=".455" stop-color="#8f2f00"/><stop offset=".5" stop-color="#8b2c00"/><stop offset=".546" stop-color="#842a00"/><stop offset=".591" stop-color="#7d2900"/><stop offset=".637" stop-color="#752800"/><stop offset=".683" stop-color="#6d2800"/><stop offset=".728" stop-color="#602600"/><stop offset=".774" stop-color="#522500"/><stop offset=".819" stop-color="#452100"/><stop offset=".864" stop-color="#371e00"/><stop offset=".91" stop-color="#2a1900"/><stop offset=".955" stop-color="#1e1400"/><stop offset="1" stop-color="#120d00"/></linearGradient><linearGradient id="gC15" gradientUnits="userSpaceOnUse" x1="574.6" x2="731.5" y1="0" y2="0"><stop offset="0" stop-color="#a78c00"/><stop offset=".045" stop-color="#a67e00"/><stop offset=".09" stop-color="#a57300"/><stop offset=".136" stop-color="#a46800"/><stop offset=".181" stop-color="#a25e00"/><stop offset=".227" stop-color="#a15500"/><stop offset=".272" stop-color="#a04c00"/><stop offset=".318" stop-color="#9d4500"/><stop offset=".363" stop-color="#993e00"/><stop offset=".409" stop-color="#953800"/><stop offset=".455" stop-color="#913400"/><stop offset=".5" stop-color="#8d3000"/><stop offset=".546" stop-color="#892f00"/><stop offset=".592" stop-color="#812d00"/><stop offset=".637" stop-color="#7a2d00"/><stop offset=".683" stop-color="#722d00"/><stop offset=".728" stop-color="#682d00"/><stop offset=".774" stop-color="#5b2a00"/><stop offset=".819" stop-color="#4d2800"/><stop offset=".865" stop-color="#3f2400"/><stop offset=".91" stop-color="#321f00"/><stop offset=".955" stop-color="#261a00"/><stop offset="1" stop-color="#1b1400"/></linearGradient><linearGradient id="gC14" gradientUnits="userSpaceOnUse" x1="578.5" x2="735.4" y1="0" y2="0"><stop offset="0" stop-color="#a88e00"/><stop offset=".045" stop-color="#a78100"/><stop offset=".09" stop-color="#a57500"/><stop offset=".136" stop-color="#a46b00"/><stop offset=".181" stop-color="#a36100"/><stop offset=".227" stop-color="#a25700"/><stop offset=".272" stop-color="#a14f00"/><stop offset=".318" stop-color="#a04900"/><stop offset=".364" stop-color="#9c4200"/><stop offset=".409" stop-color="#983c00"/><stop offset=".455" stop-color="#943800"/><stop offset=".501" stop-color="#903500"/><stop offset=".546" stop-color="#8c3400"/><stop offset=".592" stop-color="#863300"/><stop offset=".637" stop-color="#7e3200"/><stop offset=".683" stop-color="#773200"/><stop offset=".728" stop-color="#6f3200"/><stop offset=".774" stop-color="#633100"/><stop offset=".819" stop-color="#562e00"/><stop offset=".865" stop-color="#482b00"/><stop offset=".91" stop-color="#3a2600"/><stop offset=".955" stop-color="#2e2100"/><stop offset="1" stop-color="#231b00"/></linearGradient><linearGradient id="gC13" gradientUnits="userSpaceOnUse" x1="582.4" x2="739.3" y1="0" y2="0"><stop offset="0" stop-color="#a99100"/><stop offset=".045" stop-color="#a88400"/><stop offset=".091" stop-color="#a67800"/><stop offset=".136" stop-color="#a56e00"/><stop offset=".181" stop-color="#a46500"/><stop offset=".227" stop-color="#a35b00"/><stop offset=".272" stop-color="#a15300"/><stop offset=".318" stop-color="#a04d00"/><stop offset=".364" stop-color="#9e4600"/><stop offset=".409" stop-color="#9a4100"/><stop offset=".455" stop-color="#963d00"/><stop offset=".501" stop-color="#923a00"/><stop offset=".546" stop-color="#8e3900"/><stop offset=".592" stop-color="#8a3900"/><stop offset=".638" stop-color="#833800"/><stop offset=".683" stop-color="#7b3800"/><stop offset=".729" stop-color="#743800"/><stop offset=".774" stop-color="#6a3800"/><stop offset=".819" stop-color="#5e3600"/><stop offset=".865" stop-color="#513300"/><stop offset=".91" stop-color="#432e00"/><stop offset=".955" stop-color="#362800"/><stop offset="1" stop-color="#2b2300"/></linearGradient><linearGradient id="gC12" gradientUnits="userSpaceOnUse" x1="586.3" x2="743.2" y1="0" y2="0"><stop offset="0" stop-color="#a99400"/><stop offset=".045" stop-color="#a88700"/><stop offset=".091" stop-color="#a77c00"/><stop offset=".136" stop-color="#a67200"/><stop offset=".181" stop-color="#a46800"/><stop offset=".227" stop-color="#a35f00"/><stop offset=".273" stop-color="#a25700"/><stop offset=".318" stop-color="#a15100"/><stop offset=".364" stop-color="#a04c00"/><stop offset=".409" stop-color="#9c4600"/><stop offset=".455" stop-color="#984300"/><stop offset=".501" stop-color="#944000"/><stop offset=".546" stop-color="#903f00"/><stop offset=".592" stop-color="#8d3f00"/><stop offset=".638" stop-color="#873e00"/><stop offset=".683" stop-color="#803e00"/><stop offset=".729" stop-color="#783f00"/><stop offset=".774" stop-color="#713f00"/><stop offset=".819" stop-color="#663e00"/><stop offset=".865" stop-color="#593b00"/><stop offset=".91" stop-color="#4c3600"/><stop offset=".955" stop-color="#3e3000"/><stop offset="1" stop-color="#332b00"/></linearGradient><linearGradient id="gC11" gradientUnits="userSpaceOnUse" x1="590.2" x2="747" y1="0" y2="0"><stop offset="0" stop-color="#aa9700"/><stop offset=".045" stop-color="#a98a00"/><stop offset=".091" stop-color="#a87f00"/><stop offset=".136" stop-color="#a67500"/><stop offset=".182" stop-color="#a56c00"/><stop offset=".227" stop-color="#a46300"/><stop offset=".273" stop-color="#a35c00"/><stop offset=".318" stop-color="#a25500"/><stop offset=".364" stop-color="#a15000"/><stop offset=".41" stop-color="#9f4c00"/><stop offset=".455" stop-color="#9b4800"/><stop offset=".501" stop-color="#974500"/><stop offset=".547" stop-color="#934400"/><stop offset=".592" stop-color="#8f4400"/><stop offset=".638" stop-color="#8a4400"/><stop offset=".683" stop-color="#844500"/><stop offset=".729" stop-color="#7d4500"/><stop offset=".774" stop-color="#764600"/><stop offset=".82" stop-color="#6d4600"/><stop offset=".865" stop-color="#614300"/><stop offset=".91" stop-color="#543f00"/><stop offset=".955" stop-color="#473900"/><stop offset="1" stop-color="#3b3400"/></linearGradient><linearGradient id="gC10" gradientUnits="userSpaceOnUse" x1="594.1" x2="750.9" y1="0" y2="0"><stop offset="0" stop-color="#ab9c00"/><stop offset=".045" stop-color="#aa8e00"/><stop offset=".091" stop-color="#a88300"/><stop offset=".136" stop-color="#a77900"/><stop offset=".182" stop-color="#a67000"/><stop offset=".227" stop-color="#a56800"/><stop offset=".273" stop-color="#a36100"/><stop offset=".318" stop-color="#a25a00"/><stop offset=".364" stop-color="#a15500"/><stop offset=".41" stop-color="#a05100"/><stop offset=".455" stop-color="#9d4e00"/><stop offset=".501" stop-color="#994b00"/><stop offset=".547" stop-color="#954a00"/><stop offset=".592" stop-color="#914a00"/><stop offset=".638" stop-color="#8d4b00"/><stop offset=".683" stop-color="#884c00"/><stop offset=".729" stop-color="#814c00"/><stop offset=".774" stop-color="#7a4d00"/><stop offset=".82" stop-color="#734d00"/><stop offset=".865" stop-color="#694c00"/><stop offset=".91" stop-color="#5d4800"/><stop offset=".955" stop-color="#504300"/><stop offset="1" stop-color="#443d00"/></linearGradient><linearGradient id="gC9" gradientUnits="userSpaceOnUse" x1="598" x2="754.7" y1="0" y2="0"><stop offset="0" stop-color="#aca000"/><stop offset=".045" stop-color="#ab9300"/><stop offset=".091" stop-color="#a98800"/><stop offset=".136" stop-color="#a87e00"/><stop offset=".182" stop-color="#a77500"/><stop offset=".227" stop-color="#a56d00"/><stop offset=".273" stop-color="#a46600"/><stop offset=".319" stop-color="#a36000"/><stop offset=".364" stop-color="#a25b00"/><stop offset=".41" stop-color="#a15700"/><stop offset=".456" stop-color="#9f5400"/><stop offset=".501" stop-color="#9b5200"/><stop offset=".547" stop-color="#975000"/><stop offset=".593" stop-color="#935100"/><stop offset=".638" stop-color="#905100"/><stop offset=".684" stop-color="#8b5300"/><stop offset=".729" stop-color="#865400"/><stop offset=".774" stop-color="#7f5400"/><stop offset=".82" stop-color="#775500"/><stop offset=".865" stop-color="#6f5400"/><stop offset=".91" stop-color="#655200"/><stop offset=".955" stop-color="#584d00"/><stop offset="1" stop-color="#4d4800"/></linearGradient><linearGradient id="gC8" gradientUnits="userSpaceOnUse" x1="601.9" x2="758.6" y1="0" y2="0"><stop offset="0" stop-color="#ada400"/><stop offset=".045" stop-color="#ab9800"/><stop offset=".091" stop-color="#aa8d00"/><stop offset=".136" stop-color="#a98200"/><stop offset=".182" stop-color="#a77900"/><stop offset=".227" stop-color="#a67200"/><stop offset=".273" stop-color="#a56b00"/><stop offset=".319" stop-color="#a46600"/><stop offset=".364" stop-color="#a26100"/><stop offset=".41" stop-color="#a15d00"/><stop offset=".456" stop-color="#a05b00"/><stop offset=".501" stop-color="#9e5900"/><stop offset=".547" stop-color="#9a5800"/><stop offset=".593" stop-color="#965800"/><stop offset=".638" stop-color="#925900"/><stop offset=".684" stop-color="#8e5a00"/><stop offset=".729" stop-color="#895b00"/><stop offset=".775" stop-color="#835c00"/><stop offset=".82" stop-color="#7c5c00"/><stop offset=".865" stop-color="#755d00"/><stop offset=".91" stop-color="#6b5b00"/><stop offset=".955" stop-color="#605800"/><stop offset="1" stop-color="#555300"/></linearGradient><linearGradient id="gC7" gradientUnits="userSpaceOnUse" x1="605.8" x2="762.4" y1="0" y2="0"><stop offset="0" stop-color="#ada900"/><stop offset=".045" stop-color="#ac9d00"/><stop offset=".091" stop-color="#ab9200"/><stop offset=".136" stop-color="#a98700"/><stop offset=".182" stop-color="#a87e00"/><stop offset=".228" stop-color="#a77700"/><stop offset=".273" stop-color="#a57100"/><stop offset=".319" stop-color="#a46b00"/><stop offset=".365" stop-color="#a36700"/><stop offset=".41" stop-color="#a26400"/><stop offset=".456" stop-color="#a16200"/><stop offset=".502" stop-color="#9f6000"/><stop offset=".547" stop-color="#9c5f00"/><stop offset=".593" stop-color="#985f00"/><stop offset=".638" stop-color="#946000"/><stop offset=".684" stop-color="#916100"/><stop offset=".729" stop-color="#8d6300"/><stop offset=".775" stop-color="#876400"/><stop offset=".82" stop-color="#816500"/><stop offset=".865" stop-color="#796500"/><stop offset=".91" stop-color="#726500"/><stop offset=".955" stop-color="#686300"/><stop offset="1" stop-color="#5e5d00"/></linearGradient><linearGradient id="gC6" gradientUnits="userSpaceOnUse" x1="609.7" x2="766.3" y1="0" y2="0"><stop offset="0" stop-color="#aeab00"/><stop offset=".045" stop-color="#ada300"/><stop offset=".091" stop-color="#ab9700"/><stop offset=".136" stop-color="#aa8d00"/><stop offset=".182" stop-color="#a98400"/><stop offset=".228" stop-color="#a77d00"/><stop offset=".273" stop-color="#a67600"/><stop offset=".319" stop-color="#a57100"/><stop offset=".365" stop-color="#a46d00"/><stop offset=".41" stop-color="#a36a00"/><stop offset=".456" stop-color="#a26800"/><stop offset=".502" stop-color="#a06800"/><stop offset=".547" stop-color="#9e6700"/><stop offset=".593" stop-color="#9b6600"/><stop offset=".638" stop-color="#976700"/><stop offset=".684" stop-color="#936800"/><stop offset=".729" stop-color="#8f6a00"/><stop offset=".775" stop-color="#8a6c00"/><stop offset=".82" stop-color="#856d00"/><stop offset=".865" stop-color="#7e6e00"/><stop offset=".91" stop-color="#776f00"/><stop offset=".955" stop-color="#6e6c00"/><stop offset="1" stop-color="#636500"/></linearGradient><linearGradient id="gC5" gradientUnits="userSpaceOnUse" x1="613.6" x2="770.1" y1="0" y2="0"><stop offset="0" stop-color="#aeaf00"/><stop offset=".045" stop-color="#aea800"/><stop offset=".091" stop-color="#ac9d00"/><stop offset=".136" stop-color="#ab9300"/><stop offset=".182" stop-color="#aa8a00"/><stop offset=".228" stop-color="#a88200"/><stop offset=".273" stop-color="#a77c00"/><stop offset=".319" stop-color="#a67700"/><stop offset=".365" stop-color="#a47300"/><stop offset=".411" stop-color="#a37100"/><stop offset=".456" stop-color="#a26f00"/><stop offset=".502" stop-color="#a16e00"/><stop offset=".547" stop-color="#9f6e00"/><stop offset=".593" stop-color="#9d6e00"/><stop offset=".639" stop-color="#996e00"/><stop offset=".684" stop-color="#957000"/><stop offset=".73" stop-color="#917100"/><stop offset=".775" stop-color="#8e7400"/><stop offset=".82" stop-color="#887600"/><stop offset=".865" stop-color="#837800"/><stop offset=".91" stop-color="#7b7800"/><stop offset=".955" stop-color="#737400"/><stop offset="1" stop-color="#676c00"/></linearGradient><linearGradient id="gC4" gradientUnits="userSpaceOnUse" x1="617.5" x2="773.9" y1="0" y2="0"><stop offset="0" stop-color="#acb000"/><stop offset=".045" stop-color="#afac00"/><stop offset=".091" stop-color="#ada400"/><stop offset=".137" stop-color="#ac9900"/><stop offset=".182" stop-color="#aa9100"/><stop offset=".228" stop-color="#a98900"/><stop offset=".274" stop-color="#a88300"/><stop offset=".319" stop-color="#a67e00"/><stop offset=".365" stop-color="#a57a00"/><stop offset=".411" stop-color="#a47700"/><stop offset=".456" stop-color="#a37500"/><stop offset=".502" stop-color="#a27500"/><stop offset=".548" stop-color="#a17500"/><stop offset=".593" stop-color="#9e7600"/><stop offset=".639" stop-color="#9b7700"/><stop offset=".684" stop-color="#987800"/><stop offset=".73" stop-color="#947a00"/><stop offset=".775" stop-color="#907c00"/><stop offset=".82" stop-color="#8c7f00"/><stop offset=".865" stop-color="#868100"/><stop offset=".91" stop-color="#807f00"/><stop offset=".955" stop-color="#757900"/><stop offset="1" stop-color="#6a7200"/></linearGradient><linearGradient id="gC3" gradientUnits="userSpaceOnUse" x1="621.4" x2="777.8" y1="0" y2="0"><stop offset="0" stop-color="#aab000"/><stop offset=".045" stop-color="#afaf00"/><stop offset=".091" stop-color="#aea900"/><stop offset=".137" stop-color="#aca000"/><stop offset=".182" stop-color="#ab9800"/><stop offset=".228" stop-color="#aa9000"/><stop offset=".274" stop-color="#a88a00"/><stop offset=".319" stop-color="#a78500"/><stop offset=".365" stop-color="#a68100"/><stop offset=".411" stop-color="#a57e00"/><stop offset=".456" stop-color="#a47c00"/><stop offset=".502" stop-color="#a27c00"/><stop offset=".548" stop-color="#a17d00"/><stop offset=".593" stop-color="#a07d00"/><stop offset=".639" stop-color="#9d7f00"/><stop offset=".684" stop-color="#9a8100"/><stop offset=".73" stop-color="#968200"/><stop offset=".775" stop-color="#928500"/><stop offset=".82" stop-color="#8f8900"/><stop offset=".865" stop-color="#898800"/><stop offset=".91" stop-color="#818400"/><stop offset=".955" stop-color="#777e00"/><stop offset="1" stop-color="#6c7800"/></linearGradient><linearGradient id="gC2" gradientUnits="userSpaceOnUse" x1="625.3" x2="781.6" y1="0" y2="0"><stop offset="0" stop-color="#a7b000"/><stop offset=".046" stop-color="#acb000"/><stop offset=".091" stop-color="#afad00"/><stop offset=".137" stop-color="#ada700"/><stop offset=".182" stop-color="#ac9f00"/><stop offset=".228" stop-color="#ab9700"/><stop offset=".274" stop-color="#a99100"/><stop offset=".319" stop-color="#a88c00"/><stop offset=".365" stop-color="#a78800"/><stop offset=".411" stop-color="#a58600"/><stop offset=".457" stop-color="#a48400"/><stop offset=".502" stop-color="#a38400"/><stop offset=".548" stop-color="#a28400"/><stop offset=".594" stop-color="#a18600"/><stop offset=".639" stop-color="#9e8700"/><stop offset=".685" stop-color="#9c8900"/><stop offset=".73" stop-color="#998b00"/><stop offset=".775" stop-color="#958e00"/><stop offset=".82" stop-color="#918f00"/><stop offset=".865" stop-color="#8b8d00"/><stop offset=".91" stop-color="#818700"/><stop offset=".955" stop-color="#788200"/><stop offset="1" stop-color="#6b7c00"/></linearGradient><linearGradient id="gC1" gradientUnits="userSpaceOnUse" x1="629.2" x2="785.4" y1="0" y2="0"><stop offset="0" stop-color="#a4b100"/><stop offset=".046" stop-color="#a9b000"/><stop offset=".091" stop-color="#adaf00"/><stop offset=".137" stop-color="#aeab00"/><stop offset=".182" stop-color="#ada700"/><stop offset=".228" stop-color="#ab9f00"/><stop offset=".274" stop-color="#aa9900"/><stop offset=".32" stop-color="#a99400"/><stop offset=".365" stop-color="#a79000"/><stop offset=".411" stop-color="#a68d00"/><stop offset=".457" stop-color="#a58c00"/><stop offset=".502" stop-color="#a48b00"/><stop offset=".548" stop-color="#a38c00"/><stop offset=".594" stop-color="#a28e00"/><stop offset=".639" stop-color="#a09000"/><stop offset=".685" stop-color="#9d9200"/><stop offset=".73" stop-color="#9b9500"/><stop offset=".775" stop-color="#979500"/><stop offset=".82" stop-color="#929300"/><stop offset=".866" stop-color="#8a9000"/><stop offset=".911" stop-color="#818b00"/><stop offset=".955" stop-color="#758600"/><stop offset="1" stop-color="#688100"/></linearGradient><linearGradient id="gC0" gradientUnits="userSpaceOnUse" x1="633.1" x2="789.2" y1="0" y2="0"><stop offset="0" stop-color="#a0b100"/><stop offset=".046" stop-color="#a6b000"/><stop offset=".091" stop-color="#aab000"/><stop offset=".137" stop-color="#adaf00"/><stop offset=".183" stop-color="#aeab00"/><stop offset=".228" stop-color="#aca700"/><stop offset=".274" stop-color="#aba100"/><stop offset=".32" stop-color="#a99c00"/><stop offset=".366" stop-color="#a89800"/><stop offset=".411" stop-color="#a79600"/><stop offset=".457" stop-color="#a69400"/><stop offset=".503" stop-color="#a49400"/><stop offset=".548" stop-color="#a39500"/><stop offset=".594" stop-color="#a29600"/><stop offset=".639" stop-color="#a19900"/><stop offset=".685" stop-color="#9f9a00"/><stop offset=".73" stop-color="#9c9b00"/><stop offset=".775" stop-color="#979a00"/><stop offset=".821" stop-color="#909600"/><stop offset=".866" stop-color="#889200"/><stop offset=".911" stop-color="#7f8e00"/><stop offset=".955" stop-color="#718900"/><stop offset="1" stop-color="#648400"/></linearGradient></defs>
<g stroke-width="0.6" stroke-linejoin="round"><path d="M483.6,585.9L490.5,582.8L497.5,579.8L504.5,577L511.5,574.4L518.6,571.9L525.6,569.6L532.7,567.4L539.8,565.4L546.8,563.5L553.9,561.7L561.1,560.1L568.2,558.6L575.3,557.3L582.4,556.1L589.6,555L596.7,554L603.9,553.2L611,552.5L618.1,552L625.3,551.5L632.4,551.2L639.5,551L635.6,550.8L628.5,551L621.4,551.4L614.2,551.8L607.1,552.4L599.9,553.1L592.8,553.9L585.7,554.9L578.5,556L571.4,557.2L564.3,558.5L557.2,560L550.1,561.6L543,563.4L535.9,565.3L528.8,567.4L521.7,569.5L514.7,571.9L507.7,574.4L500.7,577L493.7,579.8L486.7,582.8L479.8,585.9Z" fill="url(#gC39)" stroke="url(#gC39)"/><path d="M487.4,585.9L494.4,582.8L501.4,579.9L508.4,577.1L515.4,574.5L522.4,572L529.5,569.7L536.5,567.5L543.6,565.5L550.7,563.6L557.8,561.8L565,560.2L572.1,558.7L579.2,557.4L586.3,556.2L593.5,555.1L600.6,554.2L607.8,553.4L614.9,552.7L622.1,552.2L629.2,551.7L636.3,551.4L643.4,551.2L639.5,551L632.4,551.2L625.3,551.5L618.1,552L611,552.5L603.9,553.2L596.7,554L589.6,555L582.4,556.1L575.3,557.3L568.2,558.6L561.1,560.1L553.9,561.7L546.8,563.5L539.8,565.4L532.7,567.4L525.6,569.6L518.6,571.9L511.5,574.4L504.5,577L497.5,579.8L490.5,582.8L483.6,585.9Z" fill="url(#gC38)" stroke="url(#gC38)"/><path d="M491.2,586L498.2,582.9L505.2,580L512.2,577.2L519.2,574.6L526.3,572.1L533.3,569.8L540.4,567.6L547.5,565.6L554.6,563.7L561.7,562L568.9,560.4L576,558.9L583.1,557.6L590.3,556.4L597.4,555.3L604.5,554.4L611.7,553.6L618.8,552.9L626,552.4L633.1,552L640.2,551.7L647.4,551.5L643.4,551.2L636.3,551.4L629.2,551.7L622.1,552.2L614.9,552.7L607.8,553.4L600.6,554.2L593.5,555.1L586.3,556.2L579.2,557.4L572.1,558.7L565,560.2L557.8,561.8L550.7,563.6L543.6,565.5L536.5,567.5L529.5,569.7L522.4,572L515.4,574.5L508.4,577.1L501.4,579.9L494.4,582.8L487.4,585.9Z" fill="url(#gC37)" stroke="url(#gC37)"/><path d="M495.1,586.1L502.1,583L509.1,580.1L516.1,577.3L523.1,574.7L530.2,572.3L537.2,569.9L544.3,567.8L551.4,565.8L558.5,563.9L565.6,562.2L572.8,560.6L579.9,559.1L587,557.8L594.2,556.6L601.3,555.6L608.5,554.6L615.6,553.9L622.8,553.2L629.9,552.7L637,552.3L644.2,552L651.3,551.8L647.4,551.5L640.2,551.7L633.1,552L626,552.4L618.8,552.9L611.7,553.6L604.5,554.4L597.4,555.3L590.3,556.4L583.1,557.6L576,558.9L568.9,560.4L561.7,562L554.6,563.7L547.5,565.6L540.4,567.6L533.3,569.8L526.3,572.1L519.2,574.6L512.2,577.2L505.2,580L498.2,582.9L491.2,586Z" fill="url(#gC36)" stroke="url(#gC36)"/><path d="M498.9,586.3L505.9,583.2L512.9,580.3L519.9,577.5L527,574.9L534,572.4L541.1,570.1L548.2,568L555.3,566L562.4,564.1L569.5,562.4L576.7,560.8L583.8,559.4L590.9,558L598.1,556.9L605.2,555.8L612.4,554.9L619.5,554.2L626.7,553.5L633.8,553L640.9,552.6L648.1,552.3L655.2,552.1L651.3,551.8L644.2,552L637,552.3L629.9,552.7L622.8,553.2L615.6,553.9L608.5,554.6L601.3,555.6L594.2,556.6L587,557.8L579.9,559.1L572.8,560.6L565.6,562.2L558.5,563.9L551.4,565.8L544.3,567.8L537.2,569.9L530.2,572.3L523.1,574.7L516.1,577.3L509.1,580.1L502.1,583L495.1,586.1Z" fill="url(#gC35)" stroke="url(#gC35)"/><path d="M502.8,586.5L509.8,583.4L516.8,580.5L523.8,577.7L530.9,575.1L537.9,572.7L545,570.4L552.1,568.2L559.2,566.2L566.3,564.4L573.4,562.6L580.6,561.1L587.7,559.6L594.9,558.3L602,557.2L609.2,556.1L616.3,555.2L623.5,554.5L630.6,553.8L637.7,553.3L644.9,552.9L652,552.7L659.1,552.5L655.2,552.1L648.1,552.3L640.9,552.6L633.8,553L626.7,553.5L619.5,554.2L612.4,554.9L605.2,555.8L598.1,556.9L590.9,558L583.8,559.4L576.7,560.8L569.5,562.4L562.4,564.1L555.3,566L548.2,568L541.1,570.1L534,572.4L527,574.9L519.9,577.5L512.9,580.3L505.9,583.2L498.9,586.3Z" fill="url(#gC34)" stroke="url(#gC34)"/><path d="M506.6,586.7L513.6,583.6L520.6,580.7L527.7,578L534.7,575.4L541.8,572.9L548.9,570.7L556,568.5L563.1,566.5L570.2,564.7L577.3,563L584.5,561.4L591.6,560L598.8,558.7L605.9,557.5L613.1,556.5L620.2,555.6L627.4,554.8L634.5,554.2L641.7,553.7L648.8,553.3L655.9,553.1L663,552.9L659.1,552.5L652,552.7L644.9,552.9L637.7,553.3L630.6,553.8L623.5,554.5L616.3,555.2L609.2,556.1L602,557.2L594.9,558.3L587.7,559.6L580.6,561.1L573.4,562.6L566.3,564.4L559.2,566.2L552.1,568.2L545,570.4L537.9,572.7L530.9,575.1L523.8,577.7L516.8,580.5L509.8,583.4L502.8,586.5Z" fill="url(#gC33)" stroke="url(#gC33)"/><path d="M510.5,587L517.5,583.9L524.5,581L531.6,578.3L538.6,575.7L545.7,573.3L552.8,571L559.9,568.8L567,566.8L574.1,565L581.3,563.3L588.4,561.7L595.5,560.3L602.7,559L609.8,557.9L617,556.9L624.2,556L631.3,555.3L638.4,554.6L645.6,554.1L652.7,553.8L659.9,553.5L667,553.4L663,552.9L655.9,553.1L648.8,553.3L641.7,553.7L634.5,554.2L627.4,554.8L620.2,555.6L613.1,556.5L605.9,557.5L598.8,558.7L591.6,560L584.5,561.4L577.3,563L570.2,564.7L563.1,566.5L556,568.5L548.9,570.7L541.8,572.9L534.7,575.4L527.7,578L520.6,580.7L513.6,583.6L506.6,586.7Z" fill="url(#gC32)" stroke="url(#gC32)"/><path d="M514.3,587.3L521.4,584.3L528.4,581.4L535.4,578.6L542.5,576L549.6,573.6L556.7,571.3L563.8,569.2L570.9,567.2L578,565.4L585.2,563.7L592.3,562.1L599.5,560.7L606.6,559.5L613.8,558.3L620.9,557.3L628.1,556.4L635.2,555.7L642.4,555.1L649.5,554.6L656.7,554.2L663.8,554L670.9,553.9L667,553.4L659.9,553.5L652.7,553.8L645.6,554.1L638.4,554.6L631.3,555.3L624.2,556L617,556.9L609.8,557.9L602.7,559L595.5,560.3L588.4,561.7L581.3,563.3L574.1,565L567,566.8L559.9,568.8L552.8,571L545.7,573.3L538.6,575.7L531.6,578.3L524.5,581L517.5,583.9L510.5,587Z" fill="url(#gC31)" stroke="url(#gC31)"/><path d="M518.2,587.7L525.2,584.6L532.3,581.7L539.3,579L546.4,576.4L553.5,574L560.6,571.7L567.7,569.6L574.8,567.6L581.9,565.8L589.1,564.1L596.2,562.6L603.4,561.2L610.5,559.9L617.7,558.8L624.8,557.8L632,556.9L639.2,556.2L646.3,555.6L653.4,555.1L660.6,554.8L667.7,554.5L674.8,554.4L670.9,553.9L663.8,554L656.7,554.2L649.5,554.6L642.4,555.1L635.2,555.7L628.1,556.4L620.9,557.3L613.8,558.3L606.6,559.5L599.5,560.7L592.3,562.1L585.2,563.7L578,565.4L570.9,567.2L563.8,569.2L556.7,571.3L549.6,573.6L542.5,576L535.4,578.6L528.4,581.4L521.4,584.3L514.3,587.3Z" fill="url(#gC30)" stroke="url(#gC30)"/><path d="M522.1,588.1L529.1,585.1L536.2,582.2L543.2,579.4L550.3,576.9L557.4,574.4L564.5,572.2L571.6,570.1L578.7,568.1L585.9,566.3L593,564.6L600.2,563.1L607.3,561.7L614.5,560.4L621.6,559.3L628.8,558.3L635.9,557.4L643.1,556.7L650.2,556.1L657.4,555.7L664.5,555.3L671.6,555.1L678.7,555L674.8,554.4L667.7,554.5L660.6,554.8L653.4,555.1L646.3,555.6L639.2,556.2L632,556.9L624.8,557.8L617.7,558.8L610.5,559.9L603.4,561.2L596.2,562.6L589.1,564.1L581.9,565.8L574.8,567.6L567.7,569.6L560.6,571.7L553.5,574L546.4,576.4L539.3,579L532.3,581.7L525.2,584.6L518.2,587.7Z" fill="url(#gC29)" stroke="url(#gC29)"/><path d="M526,588.6L533,585.5L540,582.6L547.1,579.9L554.2,577.3L561.3,574.9L568.4,572.7L575.5,570.6L582.6,568.6L589.8,566.8L596.9,565.1L604.1,563.6L611.2,562.2L618.4,560.9L625.5,559.8L632.7,558.9L639.9,558L647,557.3L654.2,556.7L661.3,556.2L668.4,555.9L675.6,555.7L682.7,555.6L678.7,555L671.6,555.1L664.5,555.3L657.4,555.7L650.2,556.1L643.1,556.7L635.9,557.4L628.8,558.3L621.6,559.3L614.5,560.4L607.3,561.7L600.2,563.1L593,564.6L585.9,566.3L578.7,568.1L571.6,570.1L564.5,572.2L557.4,574.4L550.3,576.9L543.2,579.4L536.2,582.2L529.1,585.1L522.1,588.1Z" fill="url(#gC28)" stroke="url(#gC28)"/><path d="M529.8,589.1L536.9,586L543.9,583.1L551,580.4L558.1,577.9L565.2,575.5L572.3,573.2L579.4,571.1L586.6,569.1L593.7,567.3L600.8,565.7L608,564.1L615.2,562.8L622.3,561.5L629.5,560.4L636.6,559.4L643.8,558.6L650.9,557.9L658.1,557.3L665.2,556.9L672.4,556.5L679.5,556.3L686.6,556.3L682.7,555.6L675.6,555.7L668.4,555.9L661.3,556.2L654.2,556.7L647,557.3L639.9,558L632.7,558.9L625.5,559.8L618.4,560.9L611.2,562.2L604.1,563.6L596.9,565.1L589.8,566.8L582.6,568.6L575.5,570.6L568.4,572.7L561.3,574.9L554.2,577.3L547.1,579.9L540,582.6L533,585.5L526,588.6Z" fill="url(#gC27)" stroke="url(#gC27)"/><path d="M533.7,589.6L540.8,586.6L547.8,583.7L554.9,581L562,578.4L569.1,576L576.2,573.8L583.3,571.7L590.5,569.7L597.6,567.9L604.8,566.3L611.9,564.8L619.1,563.4L626.2,562.1L633.4,561L640.6,560.1L647.7,559.3L654.9,558.6L662,558L669.2,557.5L676.3,557.2L683.4,557L690.5,557L686.6,556.3L679.5,556.3L672.4,556.5L665.2,556.9L658.1,557.3L650.9,557.9L643.8,558.6L636.6,559.4L629.5,560.4L622.3,561.5L615.2,562.8L608,564.1L600.8,565.7L593.7,567.3L586.6,569.1L579.4,571.1L572.3,573.2L565.2,575.5L558.1,577.9L551,580.4L543.9,583.1L536.9,586L529.8,589.1Z" fill="url(#gC26)" stroke="url(#gC26)"/><path d="M537.6,590.2L544.7,587.2L551.7,584.3L558.8,581.6L565.9,579L573,576.6L580.1,574.4L587.3,572.3L594.4,570.4L601.5,568.6L608.7,566.9L615.8,565.4L623,564L630.2,562.8L637.3,561.7L644.5,560.8L651.6,559.9L658.8,559.3L665.9,558.7L673.1,558.3L680.2,558L687.3,557.8L694.4,557.7L690.5,557L683.4,557L676.3,557.2L669.2,557.5L662,558L654.9,558.6L647.7,559.3L640.6,560.1L633.4,561L626.2,562.1L619.1,563.4L611.9,564.8L604.8,566.3L597.6,567.9L590.5,569.7L583.3,571.7L576.2,573.8L569.1,576L562,578.4L554.9,581L547.8,583.7L540.8,586.6L533.7,589.6Z" fill="url(#gC25)" stroke="url(#gC25)"/><path d="M541.5,590.8L548.5,587.8L555.6,584.9L562.7,582.2L569.8,579.7L576.9,577.3L584,575L591.2,573L598.3,571L605.5,569.2L612.6,567.6L619.8,566.1L626.9,564.7L634.1,563.5L641.3,562.4L648.4,561.5L655.6,560.7L662.7,560L669.9,559.4L677,559L684.1,558.7L691.2,558.5L698.3,558.5L694.4,557.7L687.3,557.8L680.2,558L673.1,558.3L665.9,558.7L658.8,559.3L651.6,559.9L644.5,560.8L637.3,561.7L630.2,562.8L623,564L615.8,565.4L608.7,566.9L601.5,568.6L594.4,570.4L587.3,572.3L580.1,574.4L573,576.6L565.9,579L558.8,581.6L551.7,584.3L544.7,587.2L537.6,590.2Z" fill="url(#gC24)" stroke="url(#gC24)"/><path d="M545.4,591.5L552.4,588.5L559.5,585.6L566.6,582.9L573.7,580.4L580.8,578L588,575.8L595.1,573.7L602.2,571.7L609.4,570L616.5,568.3L623.7,566.8L630.9,565.5L638,564.3L645.2,563.2L652.3,562.3L659.5,561.4L666.6,560.8L673.8,560.2L680.9,559.8L688,559.5L695.2,559.4L702.3,559.3L698.3,558.5L691.2,558.5L684.1,558.7L677,559L669.9,559.4L662.7,560L655.6,560.7L648.4,561.5L641.3,562.4L634.1,563.5L626.9,564.7L619.8,566.1L612.6,567.6L605.5,569.2L598.3,571L591.2,573L584,575L576.9,577.3L569.8,579.7L562.7,582.2L555.6,584.9L548.5,587.8L541.5,590.8Z" fill="url(#gC23)" stroke="url(#gC23)"/><path d="M549.3,592.2L556.3,589.2L563.4,586.3L570.5,583.6L577.6,581.1L584.7,578.7L591.9,576.5L599,574.4L606.2,572.5L613.3,570.7L620.5,569.1L627.6,567.6L634.8,566.3L641.9,565.1L649.1,564L656.3,563.1L663.4,562.3L670.6,561.6L677.7,561.1L684.8,560.7L692,560.4L699.1,560.2L706.2,560.2L702.3,559.3L695.2,559.4L688,559.5L680.9,559.8L673.8,560.2L666.6,560.8L659.5,561.4L652.3,562.3L645.2,563.2L638,564.3L630.9,565.5L623.7,566.8L616.5,568.3L609.4,570L602.2,571.7L595.1,573.7L588,575.8L580.8,578L573.7,580.4L566.6,582.9L559.5,585.6L552.4,588.5L545.4,591.5Z" fill="url(#gC22)" stroke="url(#gC22)"/><path d="M553.2,593L560.2,590L567.3,587.1L574.4,584.4L581.5,581.9L588.7,579.5L595.8,577.3L602.9,575.2L610.1,573.3L617.2,571.5L624.4,569.9L631.5,568.4L638.7,567.1L645.9,565.9L653,564.8L660.2,563.9L667.3,563.1L674.5,562.5L681.6,561.9L688.8,561.5L695.9,561.3L703,561.1L710.1,561.1L706.2,560.2L699.1,560.2L692,560.4L684.8,560.7L677.7,561.1L670.6,561.6L663.4,562.3L656.3,563.1L649.1,564L641.9,565.1L634.8,566.3L627.6,567.6L620.5,569.1L613.3,570.7L606.2,572.5L599,574.4L591.9,576.5L584.7,578.7L577.6,581.1L570.5,583.6L563.4,586.3L556.3,589.2L549.3,592.2Z" fill="url(#gC21)" stroke="url(#gC21)"/><path d="M557.1,593.8L564.1,590.8L571.2,587.9L578.3,585.3L585.4,582.7L592.6,580.4L599.7,578.1L606.8,576.1L614,574.2L621.2,572.4L628.3,570.8L635.5,569.3L642.6,568L649.8,566.8L657,565.7L664.1,564.8L671.3,564L678.4,563.4L685.5,562.9L692.7,562.5L699.8,562.2L706.9,562.1L714,562L710.1,561.1L703,561.1L695.9,561.3L688.8,561.5L681.6,561.9L674.5,562.5L667.3,563.1L660.2,563.9L653,564.8L645.9,565.9L638.7,567.1L631.5,568.4L624.4,569.9L617.2,571.5L610.1,573.3L602.9,575.2L595.8,577.3L588.7,579.5L581.5,581.9L574.4,584.4L567.3,587.1L560.2,590L553.2,593Z" fill="url(#gC20)" stroke="url(#gC20)"/><path d="M561,594.7L568,591.6L575.1,588.8L582.2,586.1L589.4,583.6L596.5,581.2L603.6,579L610.8,577L617.9,575.1L625.1,573.3L632.2,571.7L639.4,570.2L646.6,568.9L653.7,567.7L660.9,566.7L668,565.8L675.2,565L682.3,564.3L689.5,563.8L696.6,563.4L703.7,563.2L710.8,563L717.9,563L714,562L706.9,562.1L699.8,562.2L692.7,562.5L685.5,562.9L678.4,563.4L671.3,564L664.1,564.8L657,565.7L649.8,566.8L642.6,568L635.5,569.3L628.3,570.8L621.2,572.4L614,574.2L606.8,576.1L599.7,578.1L592.6,580.4L585.4,582.7L578.3,585.3L571.2,587.9L564.1,590.8L557.1,593.8Z" fill="url(#gC19)" stroke="url(#gC19)"/><path d="M564.9,595.6L571.9,592.6L579,589.7L586.1,587L593.3,584.5L600.4,582.2L607.5,580L614.7,577.9L621.8,576L629,574.2L636.2,572.6L643.3,571.2L650.5,569.9L657.6,568.7L664.8,567.6L672,566.7L679.1,566L686.2,565.3L693.4,564.8L700.5,564.5L707.6,564.2L714.7,564.1L721.8,564.1L717.9,563L710.8,563L703.7,563.2L696.6,563.4L689.5,563.8L682.3,564.3L675.2,565L668,565.8L660.9,566.7L653.7,567.7L646.6,568.9L639.4,570.2L632.2,571.7L625.1,573.3L617.9,575.1L610.8,577L603.6,579L596.5,581.2L589.4,583.6L582.2,586.1L575.1,588.8L568,591.6L561,594.7Z" fill="url(#gC18)" stroke="url(#gC18)"/><path d="M568.8,596.5L575.8,593.5L582.9,590.7L590.1,588L597.2,585.5L604.3,583.1L611.5,580.9L618.6,578.9L625.8,577L632.9,575.2L640.1,573.6L647.2,572.2L654.4,570.9L661.6,569.7L668.7,568.7L675.9,567.8L683,567L690.2,566.4L697.3,565.9L704.4,565.5L711.5,565.3L718.6,565.1L725.7,565.2L721.8,564.1L714.7,564.1L707.6,564.2L700.5,564.5L693.4,564.8L686.2,565.3L679.1,566L672,566.7L664.8,567.6L657.6,568.7L650.5,569.9L643.3,571.2L636.2,572.6L629,574.2L621.8,576L614.7,577.9L607.5,580L600.4,582.2L593.3,584.5L586.1,587L579,589.7L571.9,592.6L564.9,595.6Z" fill="url(#gC17)" stroke="url(#gC17)"/><path d="M572.7,597.5L579.8,594.5L586.9,591.7L594,589L601.1,586.5L608.2,584.2L615.4,582L622.5,579.9L629.7,578L636.8,576.3L644,574.7L651.2,573.2L658.3,571.9L665.5,570.8L672.6,569.7L679.8,568.8L686.9,568.1L694.1,567.5L701.2,567L708.3,566.6L715.4,566.4L722.5,566.3L729.6,566.3L725.7,565.2L718.6,565.1L711.5,565.3L704.4,565.5L697.3,565.9L690.2,566.4L683,567L675.9,567.8L668.7,568.7L661.6,569.7L654.4,570.9L647.2,572.2L640.1,573.6L632.9,575.2L625.8,577L618.6,578.9L611.5,580.9L604.3,583.1L597.2,585.5L590.1,588L582.9,590.7L575.8,593.5L568.8,596.5Z" fill="url(#gC16)" stroke="url(#gC16)"/><path d="M576.6,598.6L583.7,595.6L590.8,592.7L597.9,590.1L605,587.6L612.1,585.2L619.3,583L626.4,581L633.6,579.1L640.8,577.4L647.9,575.8L655.1,574.3L662.2,573L669.4,571.9L676.6,570.9L683.7,570L690.8,569.2L698,568.6L705.1,568.1L712.2,567.8L719.3,567.5L726.4,567.4L733.5,567.5L729.6,566.3L722.5,566.3L715.4,566.4L708.3,566.6L701.2,567L694.1,567.5L686.9,568.1L679.8,568.8L672.6,569.7L665.5,570.8L658.3,571.9L651.2,573.2L644,574.7L636.8,576.3L629.7,578L622.5,579.9L615.4,582L608.2,584.2L601.1,586.5L594,589L586.9,591.7L579.8,594.5L572.7,597.5Z" fill="url(#gC15)" stroke="url(#gC15)"/><path d="M580.5,599.7L587.6,596.7L594.7,593.8L601.8,591.2L608.9,588.7L616.1,586.3L623.2,584.1L630.4,582.1L637.5,580.2L644.7,578.5L651.8,576.9L659,575.5L666.2,574.2L673.3,573L680.5,572L687.6,571.1L694.7,570.4L701.9,569.8L709,569.3L716.1,569L723.2,568.7L730.3,568.6L737.3,568.7L733.5,567.5L726.4,567.4L719.3,567.5L712.2,567.8L705.1,568.1L698,568.6L690.8,569.2L683.7,570L676.6,570.9L669.4,571.9L662.2,573L655.1,574.3L647.9,575.8L640.8,577.4L633.6,579.1L626.4,581L619.3,583L612.1,585.2L605,587.6L597.9,590.1L590.8,592.7L583.7,595.6L576.6,598.6Z" fill="url(#gC14)" stroke="url(#gC14)"/><path d="M584.4,600.8L591.5,597.8L598.6,595L605.7,592.3L612.8,589.8L620,587.5L627.1,585.3L634.3,583.3L641.4,581.4L648.6,579.7L655.7,578.1L662.9,576.7L670.1,575.4L677.2,574.2L684.4,573.2L691.5,572.4L698.7,571.6L705.8,571L712.9,570.5L720,570.2L727.1,570L734.2,569.9L741.2,569.9L737.3,568.7L730.3,568.6L723.2,568.7L716.1,569L709,569.3L701.9,569.8L694.7,570.4L687.6,571.1L680.5,572L673.3,573L666.2,574.2L659,575.5L651.8,576.9L644.7,578.5L637.5,580.2L630.4,582.1L623.2,584.1L616.1,586.3L608.9,588.7L601.8,591.2L594.7,593.8L587.6,596.7L580.5,599.7Z" fill="url(#gC13)" stroke="url(#gC13)"/><path d="M588.3,602L595.4,599L602.5,596.2L609.6,593.5L616.7,591L623.9,588.7L631,586.5L638.2,584.5L645.3,582.6L652.5,580.9L659.7,579.3L666.8,577.9L674,576.6L681.1,575.5L688.3,574.5L695.4,573.6L702.6,572.9L709.7,572.3L716.8,571.8L723.9,571.5L731,571.3L738,571.2L745.1,571.2L741.2,569.9L734.2,569.9L727.1,570L720,570.2L712.9,570.5L705.8,571L698.7,571.6L691.5,572.4L684.4,573.2L677.2,574.2L670.1,575.4L662.9,576.7L655.7,578.1L648.6,579.7L641.4,581.4L634.3,583.3L627.1,585.3L620,587.5L612.8,589.8L605.7,592.3L598.6,595L591.5,597.8L584.4,600.8Z" fill="url(#gC12)" stroke="url(#gC12)"/><path d="M592.2,603.2L599.3,600.3L606.4,597.4L613.5,594.8L620.6,592.3L627.8,590L634.9,587.8L642.1,585.8L649.2,583.9L656.4,582.2L663.6,580.6L670.7,579.2L677.9,577.9L685,576.8L692.2,575.8L699.3,574.9L706.4,574.2L713.6,573.6L720.7,573.2L727.8,572.8L734.8,572.6L741.9,572.5L749,572.6L745.1,571.2L738,571.2L731,571.3L723.9,571.5L716.8,571.8L709.7,572.3L702.6,572.9L695.4,573.6L688.3,574.5L681.1,575.5L674,576.6L666.8,577.9L659.7,579.3L652.5,580.9L645.3,582.6L638.2,584.5L631,586.5L623.9,588.7L616.7,591L609.6,593.5L602.5,596.2L595.4,599L588.3,602Z" fill="url(#gC11)" stroke="url(#gC11)"/><path d="M596.1,604.5L603.2,601.6L610.3,598.7L617.4,596.1L624.6,593.6L631.7,591.3L638.8,589.1L646,587.1L653.2,585.2L660.3,583.5L667.5,581.9L674.6,580.5L681.8,579.3L688.9,578.1L696.1,577.1L703.2,576.3L710.3,575.6L717.5,575L724.6,574.5L731.6,574.2L738.7,574L745.8,573.9L752.8,574L749,572.6L741.9,572.5L734.8,572.6L727.8,572.8L720.7,573.2L713.6,573.6L706.4,574.2L699.3,574.9L692.2,575.8L685,576.8L677.9,577.9L670.7,579.2L663.6,580.6L656.4,582.2L649.2,583.9L642.1,585.8L634.9,587.8L627.8,590L620.6,592.3L613.5,594.8L606.4,597.4L599.3,600.3L592.2,603.2Z" fill="url(#gC10)" stroke="url(#gC10)"/><path d="M600,605.9L607.1,602.9L614.2,600.1L621.3,597.4L628.5,595L635.6,592.6L642.8,590.5L649.9,588.5L657.1,586.6L664.2,584.9L671.4,583.3L678.5,581.9L685.7,580.6L692.8,579.5L700,578.5L707.1,577.7L714.2,577L721.3,576.4L728.4,575.9L735.5,575.6L742.6,575.4L749.6,575.4L756.7,575.4L752.8,574L745.8,573.9L738.7,574L731.6,574.2L724.6,574.5L717.5,575L710.3,575.6L703.2,576.3L696.1,577.1L688.9,578.1L681.8,579.3L674.6,580.5L667.5,581.9L660.3,583.5L653.2,585.2L646,587.1L638.8,589.1L631.7,591.3L624.6,593.6L617.4,596.1L610.3,598.7L603.2,601.6L596.1,604.5Z" fill="url(#gC9)" stroke="url(#gC9)"/><path d="M603.9,607.3L611,604.3L618.1,601.5L625.2,598.8L632.4,596.4L639.5,594L646.7,591.9L653.8,589.9L661,588L668.1,586.3L675.3,584.8L682.4,583.3L689.6,582.1L696.7,581L703.9,580L711,579.1L718.1,578.4L725.2,577.9L732.3,577.4L739.4,577.1L746.4,576.9L753.5,576.9L760.5,576.9L756.7,575.4L749.6,575.4L742.6,575.4L735.5,575.6L728.4,575.9L721.3,576.4L714.2,577L707.1,577.7L700,578.5L692.8,579.5L685.7,580.6L678.5,581.9L671.4,583.3L664.2,584.9L657.1,586.6L649.9,588.5L642.8,590.5L635.6,592.6L628.5,595L621.3,597.4L614.2,600.1L607.1,602.9L600,605.9Z" fill="url(#gC8)" stroke="url(#gC8)"/><path d="M607.8,608.7L614.9,605.8L622,602.9L629.1,600.3L636.3,597.8L643.4,595.5L650.6,593.3L657.7,591.3L664.9,589.5L672,587.8L679.2,586.2L686.3,584.8L693.5,583.6L700.6,582.4L707.7,581.5L714.9,580.6L722,579.9L729.1,579.4L736.2,578.9L743.2,578.6L750.3,578.5L757.3,578.4L764.4,578.5L760.5,576.9L753.5,576.9L746.4,576.9L739.4,577.1L732.3,577.4L725.2,577.9L718.1,578.4L711,579.1L703.9,580L696.7,581L689.6,582.1L682.4,583.3L675.3,584.8L668.1,586.3L661,588L653.8,589.9L646.7,591.9L639.5,594L632.4,596.4L625.2,598.8L618.1,601.5L611,604.3L603.9,607.3Z" fill="url(#gC7)" stroke="url(#gC7)"/><path d="M611.7,610.2L618.8,607.2L625.9,604.4L633,601.8L640.2,599.3L647.3,597L654.5,594.8L661.6,592.8L668.8,591L675.9,589.3L683.1,587.8L690.2,586.4L697.4,585.1L704.5,584L711.6,583L718.7,582.2L725.9,581.5L732.9,580.9L740,580.5L747.1,580.2L754.2,580L761.2,580L768.2,580.1L764.4,578.5L757.3,578.4L750.3,578.5L743.2,578.6L736.2,578.9L729.1,579.4L722,579.9L714.9,580.6L707.7,581.5L700.6,582.4L693.5,583.6L686.3,584.8L679.2,586.2L672,587.8L664.9,589.5L657.7,591.3L650.6,593.3L643.4,595.5L636.3,597.8L629.1,600.3L622,602.9L614.9,605.8L607.8,608.7Z" fill="url(#gC6)" stroke="url(#gC6)"/><path d="M615.6,611.8L622.7,608.8L629.8,606L636.9,603.4L644.1,600.9L651.2,598.6L658.4,596.4L665.5,594.4L672.7,592.6L679.8,590.9L687,589.3L694.1,587.9L701.2,586.7L708.4,585.6L715.5,584.6L722.6,583.8L729.7,583.1L736.8,582.5L743.9,582.1L750.9,581.8L758,581.7L765,581.6L772,581.7L768.2,580.1L761.2,580L754.2,580L747.1,580.2L740,580.5L732.9,580.9L725.9,581.5L718.7,582.2L711.6,583L704.5,584L697.4,585.1L690.2,586.4L683.1,587.8L675.9,589.3L668.8,591L661.6,592.8L654.5,594.8L647.3,597L640.2,599.3L633,601.8L625.9,604.4L618.8,607.2L611.7,610.2Z" fill="url(#gC5)" stroke="url(#gC5)"/><path d="M619.5,613.4L626.6,610.4L633.7,607.6L640.8,605L648,602.5L655.1,600.2L662.2,598L669.4,596L676.5,594.2L683.7,592.5L690.8,591L698,589.6L705.1,588.3L712.2,587.2L719.4,586.3L726.5,585.4L733.6,584.7L740.7,584.2L747.7,583.8L754.8,583.5L761.8,583.3L768.8,583.3L775.8,583.4L772,581.7L765,581.6L758,581.7L750.9,581.8L743.9,582.1L736.8,582.5L729.7,583.1L722.6,583.8L715.5,584.6L708.4,585.6L701.2,586.7L694.1,587.9L687,589.3L679.8,590.9L672.7,592.6L665.5,594.4L658.4,596.4L651.2,598.6L644.1,600.9L636.9,603.4L629.8,606L622.7,608.8L615.6,611.8Z" fill="url(#gC4)" stroke="url(#gC4)"/><path d="M623.3,615L630.5,612.1L637.6,609.3L644.7,606.6L651.8,604.1L659,601.8L666.1,599.7L673.3,597.7L680.4,595.9L687.6,594.2L694.7,592.6L701.9,591.2L709,590L716.1,588.9L723.2,587.9L730.3,587.1L737.4,586.4L744.5,585.9L751.6,585.5L758.6,585.2L765.7,585L772.7,585L779.7,585.1L775.8,583.4L768.8,583.3L761.8,583.3L754.8,583.5L747.7,583.8L740.7,584.2L733.6,584.7L726.5,585.4L719.4,586.3L712.2,587.2L705.1,588.3L698,589.6L690.8,591L683.7,592.5L676.5,594.2L669.4,596L662.2,598L655.1,600.2L648,602.5L640.8,605L633.7,607.6L626.6,610.4L619.5,613.4Z" fill="url(#gC3)" stroke="url(#gC3)"/><path d="M627.2,616.7L634.3,613.8L641.5,611L648.6,608.3L655.7,605.9L662.9,603.6L670,601.4L677.2,599.4L684.3,597.6L691.4,595.9L698.6,594.4L705.7,593L712.9,591.7L720,590.6L727.1,589.7L734.2,588.9L741.3,588.2L748.4,587.7L755.4,587.2L762.5,587L769.5,586.8L776.5,586.8L783.5,586.9L779.7,585.1L772.7,585L765.7,585L758.6,585.2L751.6,585.5L744.5,585.9L737.4,586.4L730.3,587.1L723.2,587.9L716.1,588.9L709,590L701.9,591.2L694.7,592.6L687.6,594.2L680.4,595.9L673.3,597.7L666.1,599.7L659,601.8L651.8,604.1L644.7,606.6L637.6,609.3L630.5,612.1L623.3,615Z" fill="url(#gC2)" stroke="url(#gC2)"/><path d="M631.1,618.5L638.2,615.5L645.4,612.7L652.5,610.1L659.6,607.6L666.8,605.3L673.9,603.2L681,601.2L688.2,599.3L695.3,597.7L702.5,596.1L709.6,594.8L716.7,593.5L723.8,592.4L730.9,591.5L738,590.7L745.1,590L752.2,589.5L759.2,589.1L766.3,588.8L773.3,588.6L780.3,588.6L787.3,588.7L783.5,586.9L776.5,586.8L769.5,586.8L762.5,587L755.4,587.2L748.4,587.7L741.3,588.2L734.2,588.9L727.1,589.7L720,590.6L712.9,591.7L705.7,593L698.6,594.4L691.4,595.9L684.3,597.6L677.2,599.4L670,601.4L662.9,603.6L655.7,605.9L648.6,608.3L641.5,611L634.3,613.8L627.2,616.7Z" fill="url(#gC1)" stroke="url(#gC1)"/><path d="M635,620.3L642.1,617.3L649.2,614.5L656.4,611.9L663.5,609.4L670.6,607.1L677.8,605L684.9,603L692,601.2L699.2,599.5L706.3,598L713.4,596.6L720.6,595.4L727.7,594.3L734.8,593.3L741.9,592.5L749,591.8L756,591.3L763.1,590.9L770.1,590.6L777.1,590.5L784.1,590.5L791,590.6L787.3,588.7L780.3,588.6L773.3,588.6L766.3,588.8L759.2,589.1L752.2,589.5L745.1,590L738,590.7L730.9,591.5L723.8,592.4L716.7,593.5L709.6,594.8L702.5,596.1L695.3,597.7L688.2,599.3L681,601.2L673.9,603.2L666.8,605.3L659.6,607.6L652.5,610.1L645.4,612.7L638.2,615.5L631.1,618.5Z" fill="url(#gC0)" stroke="url(#gC0)"/></g>
<path d="M635 620.3l-3.1-1.5l-3.1-1.4l-3.1-1.4l-3.1-1.3l-3.1-1.3l-3.2-1.3l-3.1-1.3l-3.1-1.2l-3.1-1.2l-3.1-1.1l-3.1-1.1l-3.2-1.1l-3.1-1.1l-3.1-1l-3.1-1l-3.1-1l-3.2-.9l-3.1-.9l-3.1-.9l-3.1-.8l-3.2-.8l-3.1-.8l-3.1-.7l-3.1-.7l-3.1-.7l-3.2-.7l-3.1-.6l-3.1-.6l-3.1-.5l-3.1-.6l-3.1-.5l-3.1-.5l-3.1-.4l-3.1-.4l-3.1-.4l-3.1-.4l-3.1-.3l-3.1-.4l-3.1-.2l-3.1-.3l-3.1-.2l-3.1-.2l-3.1-.2l-3-.2l-3.1-.1l-3.1-.1l-3.1-.1l-3 0l-3.1 0l-3 0M638.1 619l-3.1-1.5l-3.1-1.4l-3.1-1.4l-3.1-1.3l-3.1-1.4l-3.1-1.2l-3.1-1.3l-3.2-1.2l-3.1-1.2l-3.1-1.2l-3.1-1.1l-3.1-1.1l-3.2-1l-3.1-1l-3.1-1l-3.1-1l-3.1-.9l-3.2-.9l-3.1-.9l-3.1-.8l-3.1-.8l-3.2-.8l-3.1-.7l-3.1-.8l-3.1-.6l-3.1-.7l-3.2-.6l-3.1-.6l-3.1-.6l-3.1-.5l-3.1-.5l-3.1-.5l-3.1-.5l-3.1-.4l-3.2-.4l-3.1-.4l-3.1-.3l-3.1-.3l-3-.3l-3.1-.3l-3.1-.2l-3.1-.2l-3.1-.2l-3.1-.1l-3.1-.2l-3-.1l-3.1 0l-3.1-.1l-3 0l-3.1 0M641.3 617.7l-3.1-1.5l-3.2-1.4l-3.1-1.4l-3.1-1.3l-3.1-1.4l-3.1-1.2l-3.1-1.3l-3.1-1.2l-3.2-1.2l-3.1-1.1l-3.1-1.2l-3.1-1.1l-3.1-1l-3.2-1l-3.1-1l-3.1-1l-3.1-.9l-3.2-.9l-3.1-.9l-3.1-.8l-3.1-.8l-3.1-.8l-3.2-.8l-3.1-.7l-3.1-.7l-3.1-.6l-3.2-.6l-3.1-.6l-3.1-.6l-3.1-.6l-3.1-.5l-3.1-.4l-3.1-.5l-3.1-.4l-3.2-.4l-3.1-.4l-3.1-.3l-3.1-.4l-3.1-.2l-3.1-.3l-3-.2l-3.1-.2l-3.1-.2l-3.1-.2l-3.1-.1l-3.1-.1l-3-.1l-3.1 0l-3.1-.1l-3 0M644.4 616.4l-3.1-1.4l-3.1-1.5l-3.1-1.3l-3.1-1.4l-3.2-1.3l-3.1-1.3l-3.1-1.3l-3.1-1.2l-3.1-1.2l-3.1-1.1l-3.2-1.1l-3.1-1.1l-3.1-1.1l-3.1-1l-3.2-1l-3.1-1l-3.1-.9l-3.1-.9l-3.2-.9l-3.1-.8l-3.1-.8l-3.1-.8l-3.2-.7l-3.1-.8l-3.1-.6l-3.1-.7l-3.1-.6l-3.2-.6l-3.1-.6l-3.1-.5l-3.1-.6l-3.1-.4l-3.1-.5l-3.1-.4l-3.2-.4l-3.1-.4l-3.1-.3l-3.1-.4l-3.1-.2l-3.1-.3l-3.1-.2l-3.1-.3l-3-.1l-3.1-.2l-3.1-.1l-3.1-.1l-3.1-.1l-3-.1l-3.1 0l-3.1 0M647.5 615.2l-3.1-1.5l-3.1-1.4l-3.1-1.4l-3.1-1.3l-3.1-1.3l-3.1-1.3l-3.2-1.3l-3.1-1.2l-3.1-1.2l-3.1-1.1l-3.1-1.2l-3.2-1.1l-3.1-1l-3.1-1l-3.1-1l-3.1-1l-3.2-.9l-3.1-.9l-3.1-.9l-3.2-.8l-3.1-.9l-3.1-.7l-3.1-.8l-3.2-.7l-3.1-.7l-3.1-.7l-3.1-.6l-3.1-.6l-3.2-.6l-3.1-.5l-3.1-.5l-3.1-.5l-3.1-.5l-3.1-.4l-3.2-.4l-3.1-.4l-3.1-.3l-3.1-.3l-3.1-.3l-3.1-.3l-3.1-.2l-3.1-.2l-3.1-.2l-3-.2l-3.1-.1l-3.1-.1l-3.1-.1l-3.1-.1l-3 0l-3.1 0M650.7 614l-3.1-1.5l-3.2-1.4l-3.1-1.4l-3.1-1.3l-3.1-1.3l-3.1-1.3l-3.1-1.3l-3.1-1.2l-3.2-1.2l-3.1-1.1l-3.1-1.2l-3.1-1.1l-3.1-1l-3.2-1.1l-3.1-.9l-3.1-1l-3.1-.9l-3.2-.9l-3.1-.9l-3.1-.9l-3.2-.8l-3.1-.8l-3.1-.7l-3.1-.7l-3.2-.7l-3.1-.7l-3.1-.6l-3.1-.6l-3.2-.6l-3.1-.5l-3.1-.5l-3.1-.5l-3.1-.5l-3.1-.4l-3.2-.4l-3.1-.4l-3.1-.3l-3.1-.4l-3.1-.3l-3.1-.2l-3.1-.3l-3.1-.2l-3.1-.2l-3.1-.1l-3-.2l-3.1-.1l-3.1-.1l-3.1 0l-3.1 0l-3-.1M653.8 612.8l-3.1-1.4l-3.1-1.4l-3.1-1.4l-3.1-1.4l-3.1-1.3l-3.2-1.3l-3.1-1.3l-3.1-1.2l-3.1-1.2l-3.1-1.1l-3.2-1.1l-3.1-1.1l-3.1-1.1l-3.1-1l-3.2-1l-3.1-1l-3.1-.9l-3.1-.9l-3.2-.9l-3.1-.8l-3.1-.9l-3.2-.7l-3.1-.8l-3.1-.7l-3.1-.7l-3.2-.7l-3.1-.6l-3.1-.6l-3.1-.6l-3.2-.5l-3.1-.5l-3.1-.5l-3.1-.5l-3.1-.4l-3.1-.4l-3.2-.4l-3.1-.4l-3.1-.3l-3.1-.3l-3.1-.2l-3.1-.3l-3.1-.2l-3.1-.2l-3.1-.2l-3.1-.1l-3-.1l-3.1-.1l-3.1 0l-3.1-.1l-3.1 0M656.9 611.7l-3.1-1.5l-3.1-1.4l-3.1-1.4l-3.1-1.3l-3.1-1.3l-3.1-1.3l-3.1-1.3l-3.2-1.2l-3.1-1.2l-3.1-1.2l-3.1-1.1l-3.1-1.1l-3.2-1l-3.1-1.1l-3.1-1l-3.2-.9l-3.1-1l-3.1-.9l-3.1-.8l-3.2-.9l-3.1-.8l-3.1-.8l-3.2-.7l-3.1-.8l-3.1-.7l-3.1-.6l-3.2-.7l-3.1-.6l-3.1-.5l-3.1-.6l-3.2-.5l-3.1-.5l-3.1-.5l-3.1-.4l-3.1-.4l-3.1-.4l-3.2-.3l-3.1-.4l-3.1-.3l-3.1-.2l-3.1-.3l-3.1-.2l-3.1-.2l-3.1-.1l-3.1-.2l-3.1-.1l-3-.1l-3.1 0l-3.1-.1l-3.1 0M660.1 610.6l-3.1-1.5l-3.1-1.4l-3.1-1.4l-3.2-1.3l-3.1-1.3l-3.1-1.3l-3.1-1.3l-3.1-1.2l-3.1-1.2l-3.2-1.2l-3.1-1.1l-3.1-1.1l-3.1-1l-3.2-1.1l-3.1-1l-3.1-.9l-3.1-1l-3.2-.9l-3.1-.9l-3.1-.8l-3.2-.8l-3.1-.8l-3.1-.8l-3.1-.7l-3.2-.7l-3.1-.6l-3.1-.7l-3.2-.6l-3.1-.6l-3.1-.5l-3.1-.5l-3.2-.5l-3.1-.5l-3.1-.4l-3.1-.4l-3.1-.4l-3.1-.4l-3.2-.3l-3.1-.3l-3.1-.3l-3.1-.2l-3.1-.2l-3.1-.2l-3.1-.2l-3.1-.1l-3.1-.2l-3.1-.1l-3 0l-3.1-.1l-3.1 0M663.2 609.5l-3.1-1.4l-3.1-1.4l-3.1-1.4l-3.1-1.4l-3.1-1.3l-3.1-1.3l-3.2-1.3l-3.1-1.2l-3.1-1.2l-3.1-1.1l-3.1-1.2l-3.2-1.1l-3.1-1l-3.1-1.1l-3.1-1l-3.2-.9l-3.1-1l-3.1-.9l-3.2-.9l-3.1-.8l-3.1-.8l-3.2-.8l-3.1-.8l-3.1-.7l-3.1-.7l-3.2-.6l-3.1-.7l-3.1-.6l-3.2-.6l-3.1-.5l-3.1-.5l-3.1-.5l-3.2-.5l-3.1-.4l-3.1-.5l-3.1-.3l-3.1-.4l-3.1-.3l-3.2-.3l-3.1-.3l-3.1-.3l-3.1-.2l-3.1-.2l-3.1-.1l-3.1-.2l-3.1-.1l-3.1-.1l-3-.1l-3.1 0l-3.1 0M666.3 608.5l-3.1-1.5l-3.1-1.4l-3.1-1.4l-3.1-1.3l-3.1-1.4l-3.1-1.2l-3.1-1.3l-3.1-1.2l-3.2-1.2l-3.1-1.2l-3.1-1.1l-3.1-1.1l-3.2-1.1l-3.1-1l-3.1-1l-3.1-1l-3.2-.9l-3.1-.9l-3.1-.9l-3.2-.9l-3.1-.8l-3.1-.8l-3.1-.7l-3.2-.7l-3.1-.7l-3.1-.7l-3.2-.7l-3.1-.6l-3.1-.5l-3.2-.6l-3.1-.5l-3.1-.5l-3.1-.5l-3.2-.4l-3.1-.4l-3.1-.4l-3.1-.4l-3.1-.3l-3.1-.3l-3.2-.3l-3.1-.2l-3.1-.3l-3.1-.2l-3.1-.1l-3.1-.2l-3.1-.1l-3.1-.1l-3.1-.1l-3 0l-3.1 0M669.5 607.5l-3.1-1.5l-3.1-1.4l-3.1-1.4l-3.1-1.3l-3.1-1.4l-3.2-1.3l-3.1-1.2l-3.1-1.2l-3.1-1.2l-3.1-1.2l-3.2-1.1l-3.1-1.1l-3.1-1.1l-3.1-1l-3.2-1l-3.1-1l-3.1-.9l-3.2-1l-3.1-.8l-3.1-.9l-3.1-.8l-3.2-.8l-3.1-.7l-3.1-.8l-3.2-.7l-3.1-.6l-3.1-.7l-3.2-.6l-3.1-.6l-3.1-.5l-3.2-.6l-3.1-.5l-3.1-.4l-3.1-.5l-3.2-.4l-3.1-.4l-3.1-.3l-3.1-.4l-3.1-.3l-3.1-.3l-3.2-.2l-3.1-.2l-3.1-.2l-3.1-.2l-3.1-.2l-3.1-.1l-3.1-.1l-3.1-.1l-3 0l-3.1 0M672.6 606.5l-3.1-1.4l-3.1-1.5l-3.1-1.4l-3.1-1.3l-3.1-1.3l-3.1-1.3l-3.1-1.3l-3.1-1.2l-3.2-1.2l-3.1-1.2l-3.1-1.1l-3.1-1.1l-3.2-1.1l-3.1-1l-3.1-1l-3.1-1l-3.2-.9l-3.1-.9l-3.1-.9l-3.2-.9l-3.1-.8l-3.1-.8l-3.2-.8l-3.1-.7l-3.1-.7l-3.2-.7l-3.1-.6l-3.1-.6l-3.2-.6l-3.1-.6l-3.1-.5l-3.2-.5l-3.1-.5l-3.1-.4l-3.1-.4l-3.2-.4l-3.1-.4l-3.1-.3l-3.1-.3l-3.1-.3l-3.1-.3l-3.1-.2l-3.2-.2l-3.1-.2l-3.1-.1l-3.1-.1l-3.1-.1l-3.1-.1l-3-.1l-3.1 0M675.8 605.6l-3.1-1.5l-3.1-1.4l-3.1-1.4l-3.1-1.4l-3.2-1.3l-3.1-1.3l-3.1-1.2l-3.1-1.3l-3.1-1.2l-3.1-1.1l-3.2-1.2l-3.1-1.1l-3.1-1l-3.1-1.1l-3.2-1l-3.1-1l-3.1-.9l-3.2-.9l-3.1-.9l-3.1-.8l-3.2-.9l-3.1-.8l-3.1-.7l-3.2-.8l-3.1-.7l-3.1-.6l-3.2-.7l-3.1-.6l-3.1-.6l-3.2-.5l-3.1-.6l-3.1-.5l-3.1-.4l-3.2-.5l-3.1-.4l-3.1-.4l-3.1-.4l-3.2-.3l-3.1-.3l-3.1-.3l-3.1-.3l-3.1-.2l-3.1-.2l-3.1-.2l-3.2-.1l-3.1-.2l-3.1-.1l-3 0l-3.1-.1l-3.1 0M678.9 604.7l-3.1-1.5l-3.1-1.4l-3.1-1.4l-3.1-1.4l-3.1-1.3l-3.1-1.3l-3.1-1.3l-3.2-1.2l-3.1-1.2l-3.1-1.2l-3.1-1.1l-3.1-1.1l-3.2-1.1l-3.1-1l-3.1-1l-3.2-1l-3.1-.9l-3.1-.9l-3.2-.9l-3.1-.9l-3.1-.8l-3.2-.8l-3.1-.8l-3.1-.7l-3.2-.7l-3.1-.7l-3.1-.6l-3.2-.6l-3.1-.6l-3.1-.6l-3.2-.5l-3.1-.5l-3.1-.5l-3.1-.5l-3.2-.4l-3.1-.4l-3.1-.3l-3.1-.4l-3.2-.3l-3.1-.3l-3.1-.2l-3.1-.3l-3.1-.2l-3.1-.2l-3.1-.1l-3.1-.1l-3.1-.2l-3.1 0l-3.1-.1l-3.1 0M682.1 603.8l-3.1-1.5l-3.1-1.4l-3.2-1.4l-3.1-1.4l-3.1-1.3l-3.1-1.3l-3.1-1.3l-3.1-1.2l-3.1-1.2l-3.2-1.1l-3.1-1.2l-3.1-1.1l-3.1-1.1l-3.2-1l-3.1-1l-3.1-1l-3.1-.9l-3.2-.9l-3.1-.9l-3.1-.9l-3.2-.8l-3.1-.8l-3.1-.8l-3.2-.7l-3.1-.7l-3.1-.7l-3.2-.6l-3.1-.7l-3.2-.6l-3.1-.5l-3.1-.6l-3.1-.5l-3.2-.4l-3.1-.5l-3.1-.4l-3.2-.4l-3.1-.4l-3.1-.3l-3.1-.3l-3.2-.3l-3.1-.3l-3.1-.2l-3.1-.2l-3.1-.2l-3.1-.2l-3.1-.1l-3.1-.1l-3.1-.1l-3.1-.1l-3.1 0M685.2 602.9l-3.1-1.4l-3.1-1.5l-3.1-1.4l-3.1-1.3l-3.1-1.3l-3.1-1.3l-3.1-1.3l-3.2-1.2l-3.1-1.2l-3.1-1.2l-3.1-1.1l-3.1-1.2l-3.2-1l-3.1-1.1l-3.1-1l-3.2-1l-3.1-.9l-3.1-.9l-3.2-.9l-3.1-.9l-3.1-.8l-3.2-.8l-3.1-.8l-3.1-.7l-3.2-.7l-3.1-.7l-3.1-.6l-3.2-.7l-3.1-.6l-3.1-.5l-3.2-.6l-3.1-.5l-3.1-.4l-3.2-.5l-3.1-.4l-3.1-.4l-3.2-.4l-3.1-.3l-3.1-.4l-3.1-.2l-3.1-.3l-3.2-.2l-3.1-.3l-3.1-.1l-3.1-.2l-3.1-.1l-3.1-.2l-3.1 0l-3.1-.1l-3.1 0M688.3 602.1l-3.1-1.5l-3.1-1.4l-3.1-1.4l-3.1-1.3l-3.1-1.4l-3.1-1.3l-3.1-1.2l-3.1-1.3l-3.1-1.2l-3.2-1.1l-3.1-1.2l-3.1-1.1l-3.1-1.1l-3.2-1l-3.1-1l-3.1-1l-3.1-.9l-3.2-1l-3.1-.9l-3.1-.8l-3.2-.8l-3.1-.8l-3.2-.8l-3.1-.8l-3.1-.7l-3.2-.6l-3.1-.7l-3.1-.6l-3.2-.6l-3.1-.6l-3.1-.5l-3.2-.5l-3.1-.5l-3.1-.5l-3.2-.4l-3.1-.4l-3.1-.4l-3.2-.3l-3.1-.3l-3.1-.3l-3.1-.3l-3.1-.2l-3.2-.3l-3.1-.1l-3.1-.2l-3.1-.1l-3.1-.2l-3.1 0l-3.1-.1l-3.1 0M691.5 601.3l-3.1-1.4l-3.1-1.5l-3.1-1.4l-3.1-1.3l-3.1-1.4l-3.1-1.3l-3.2-1.2l-3.1-1.3l-3.1-1.2l-3.1-1.1l-3.1-1.2l-3.2-1.1l-3.1-1.1l-3.1-1l-3.1-1l-3.2-1l-3.1-1l-3.1-.9l-3.2-.9l-3.1-.8l-3.1-.9l-3.2-.8l-3.1-.7l-3.1-.8l-3.2-.7l-3.1-.7l-3.2-.6l-3.1-.7l-3.1-.6l-3.2-.5l-3.1-.6l-3.1-.5l-3.2-.5l-3.1-.4l-3.1-.5l-3.2-.4l-3.1-.3l-3.1-.4l-3.1-.3l-3.2-.3l-3.1-.3l-3.1-.2l-3.1-.2l-3.1-.2l-3.2-.2l-3.1-.1l-3.1-.1l-3.1-.1l-3.1-.1l-3.1 0M694.6 600.6l-3.1-1.5l-3.1-1.4l-3.1-1.4l-3.1-1.4l-3.1-1.3l-3.1-1.3l-3.1-1.3l-3.1-1.2l-3.1-1.2l-3.2-1.2l-3.1-1.2l-3.1-1.1l-3.1-1l-3.2-1.1l-3.1-1l-3.1-1l-3.1-.9l-3.2-1l-3.1-.9l-3.1-.8l-3.2-.9l-3.1-.8l-3.2-.7l-3.1-.8l-3.1-.7l-3.2-.7l-3.1-.6l-3.1-.7l-3.2-.6l-3.1-.5l-3.2-.6l-3.1-.5l-3.1-.5l-3.2-.4l-3.1-.5l-3.1-.4l-3.2-.4l-3.1-.3l-3.1-.3l-3.1-.3l-3.2-.3l-3.1-.3l-3.1-.2l-3.1-.2l-3.1-.1l-3.1-.2l-3.2-.1l-3.1-.1l-3.1-.1l-3.1 0M697.8 599.8l-3.1-1.4l-3.1-1.5l-3.1-1.4l-3.1-1.3l-3.1-1.4l-3.1-1.3l-3.2-1.3l-3.1-1.2l-3.1-1.2l-3.1-1.2l-3.1-1.1l-3.2-1.1l-3.1-1.1l-3.1-1l-3.1-1.1l-3.2-.9l-3.1-1l-3.1-.9l-3.2-.9l-3.1-.9l-3.1-.8l-3.2-.8l-3.1-.8l-3.1-.7l-3.2-.8l-3.1-.7l-3.2-.6l-3.1-.6l-3.1-.6l-3.2-.6l-3.1-.6l-3.1-.5l-3.2-.5l-3.1-.4l-3.1-.5l-3.2-.4l-3.1-.4l-3.1-.3l-3.2-.3l-3.1-.3l-3.1-.3l-3.1-.3l-3.2-.2l-3.1-.2l-3.1-.2l-3.1-.1l-3.1-.1l-3.1-.1l-3.2-.1l-3.1 0M700.9 599.1l-3.1-1.5l-3.1-1.4l-3.1-1.4l-3.1-1.4l-3.1-1.3l-3.1-1.3l-3.1-1.3l-3.1-1.2l-3.1-1.2l-3.2-1.2l-3.1-1.1l-3.1-1.1l-3.1-1.1l-3.2-1.1l-3.1-1l-3.1-1l-3.1-.9l-3.2-1l-3.1-.9l-3.1-.8l-3.2-.9l-3.1-.8l-3.2-.7l-3.1-.8l-3.1-.7l-3.2-.7l-3.1-.7l-3.1-.6l-3.2-.6l-3.1-.6l-3.2-.5l-3.1-.5l-3.1-.5l-3.2-.5l-3.1-.4l-3.1-.4l-3.2-.4l-3.1-.4l-3.1-.3l-3.2-.3l-3.1-.3l-3.1-.2l-3.1-.3l-3.2-.2l-3.1-.1l-3.1-.2l-3.1-.1l-3.1-.1l-3.1-.1l-3.1 0M704 598.4l-3.1-1.4l-3-1.5l-3.1-1.4l-3.1-1.3l-3.2-1.4l-3.1-1.3l-3.1-1.2l-3.1-1.3l-3.1-1.2l-3.1-1.2l-3.1-1.1l-3.2-1.1l-3.1-1.1l-3.1-1.1l-3.1-1l-3.2-1l-3.1-.9l-3.1-1l-3.2-.9l-3.1-.8l-3.1-.9l-3.2-.8l-3.1-.7l-3.1-.8l-3.2-.7l-3.1-.7l-3.2-.7l-3.1-.6l-3.1-.6l-3.2-.6l-3.1-.5l-3.2-.6l-3.1-.5l-3.1-.4l-3.2-.5l-3.1-.4l-3.1-.4l-3.2-.3l-3.1-.4l-3.1-.3l-3.2-.2l-3.1-.3l-3.1-.2l-3.1-.2l-3.1-.2l-3.2-.2l-3.1-.1l-3.1-.1l-3.1-.1l-3.1 0M707.2 597.8l-3.1-1.5l-3.1-1.4l-3.1-1.4l-3.1-1.4l-3.1-1.3l-3.1-1.3l-3.1-1.3l-3.1-1.2l-3.1-1.2l-3.2-1.2l-3.1-1.2l-3.1-1.1l-3.1-1.1l-3.2-1l-3.1-1l-3.1-1l-3.1-1l-3.2-.9l-3.1-.9l-3.1-.9l-3.2-.8l-3.1-.8l-3.2-.8l-3.1-.8l-3.1-.7l-3.2-.7l-3.1-.7l-3.1-.6l-3.2-.6l-3.1-.6l-3.2-.5l-3.1-.6l-3.1-.5l-3.2-.4l-3.1-.5l-3.2-.4l-3.1-.4l-3.1-.3l-3.2-.4l-3.1-.3l-3.1-.3l-3.1-.2l-3.2-.3l-3.1-.2l-3.1-.1l-3.1-.2l-3.1-.1l-3.2-.1l-3.1-.1l-3.1-.1M710.3 597.2l-3.1-1.5l-3.1-1.4l-3.1-1.4l-3.1-1.4l-3.1-1.3l-3.1-1.3l-3.1-1.3l-3.1-1.3l-3.1-1.2l-3.1-1.2l-3.1-1.1l-3.2-1.1l-3.1-1.1l-3.1-1.1l-3.1-1l-3.2-1l-3.1-.9l-3.1-1l-3.2-.9l-3.1-.8l-3.1-.9l-3.2-.8l-3.1-.8l-3.1-.7l-3.2-.8l-3.1-.7l-3.2-.6l-3.1-.7l-3.1-.6l-3.2-.6l-3.1-.5l-3.2-.5l-3.1-.5l-3.1-.5l-3.2-.5l-3.1-.4l-3.1-.4l-3.2-.3l-3.1-.4l-3.1-.3l-3.2-.3l-3.1-.2l-3.1-.3l-3.2-.2l-3.1-.2l-3.1-.1l-3.1-.1l-3.1-.2l-3.1 0l-3.2-.1M713.4 596.6l-3-1.5l-3.1-1.4l-3.1-1.4l-3.1-1.4l-3.1-1.3l-3.1-1.3l-3.1-1.3l-3.1-1.3l-3.2-1.2l-3.1-1.2l-3.1-1.1l-3.1-1.1l-3.1-1.1l-3.2-1.1l-3.1-1l-3.1-1l-3.1-1l-3.2-.9l-3.1-.9l-3.1-.9l-3.2-.8l-3.1-.8l-3.1-.8l-3.2-.8l-3.1-.7l-3.2-.7l-3.1-.7l-3.1-.6l-3.2-.6l-3.1-.6l-3.2-.6l-3.1-.5l-3.1-.5l-3.2-.5l-3.1-.4l-3.2-.4l-3.1-.4l-3.1-.4l-3.2-.3l-3.1-.4l-3.1-.2l-3.2-.3l-3.1-.2l-3.1-.3l-3.1-.1l-3.2-.2l-3.1-.1l-3.1-.1l-3.1-.1l-3.1-.1M716.6 596l-3.1-1.4l-3.1-1.5l-3.1-1.4l-3.1-1.4l-3.1-1.3l-3.1-1.3l-3.1-1.3l-3.1-1.2l-3.1-1.2l-3.1-1.2l-3.1-1.2l-3.2-1.1l-3.1-1.1l-3.1-1l-3.1-1.1l-3.2-1l-3.1-.9l-3.1-1l-3.2-.9l-3.1-.9l-3.1-.8l-3.2-.8l-3.1-.8l-3.1-.8l-3.2-.7l-3.1-.7l-3.2-.7l-3.1-.6l-3.1-.6l-3.2-.6l-3.1-.6l-3.2-.5l-3.1-.5l-3.1-.5l-3.2-.4l-3.1-.5l-3.2-.4l-3.1-.3l-3.1-.4l-3.2-.3l-3.1-.3l-3.1-.3l-3.2-.2l-3.1-.2l-3.1-.2l-3.1-.2l-3.1-.1l-3.2-.1l-3.1-.1l-3.1-.1M719.7 595.5l-3.1-1.5l-3.1-1.4l-3-1.4l-3.1-1.4l-3.1-1.3l-3.1-1.4l-3.1-1.2l-3.2-1.3l-3.1-1.2l-3.1-1.2l-3.1-1.1l-3.1-1.2l-3.1-1l-3.2-1.1l-3.1-1l-3.1-1l-3.1-1l-3.2-.9l-3.1-.9l-3.1-.9l-3.2-.9l-3.1-.8l-3.1-.8l-3.2-.7l-3.1-.8l-3.2-.7l-3.1-.7l-3.1-.6l-3.2-.6l-3.1-.6l-3.2-.6l-3.1-.5l-3.1-.5l-3.2-.5l-3.1-.4l-3.2-.5l-3.1-.4l-3.1-.3l-3.2-.4l-3.1-.3l-3.1-.3l-3.2-.3l-3.1-.2l-3.1-.2l-3.2-.2l-3.1-.2l-3.1-.1l-3.1-.1l-3.2-.1l-3.1-.1M722.8 595l-3-1.5l-3.1-1.4l-3.1-1.4l-3.1-1.4l-3.1-1.4l-3.1-1.3l-3.1-1.2l-3.1-1.3l-3.1-1.2l-3.1-1.2l-3.1-1.2l-3.2-1.1l-3.1-1.1l-3.1-1l-3.1-1.1l-3.2-1l-3.1-.9l-3.1-1l-3.2-.9l-3.1-.9l-3.1-.8l-3.2-.8l-3.1-.8l-3.1-.8l-3.2-.7l-3.1-.7l-3.2-.7l-3.1-.7l-3.1-.6l-3.2-.6l-3.1-.5l-3.2-.6l-3.1-.5l-3.1-.5l-3.2-.4l-3.1-.4l-3.2-.5l-3.1-.3l-3.1-.4l-3.2-.3l-3.1-.3l-3.1-.3l-3.2-.2l-3.1-.2l-3.1-.2l-3.2-.2l-3.1-.1l-3.1-.2l-3.1-.1l-3.1 0M726 594.5l-3.1-1.5l-3.1-1.4l-3.1-1.4l-3.1-1.4l-3.1-1.3l-3.1-1.3l-3.1-1.3l-3.1-1.3l-3.1-1.2l-3.1-1.2l-3.1-1.1l-3.1-1.2l-3.1-1.1l-3.2-1l-3.1-1.1l-3.1-1l-3.1-.9l-3.2-1l-3.1-.9l-3.1-.9l-3.2-.8l-3.1-.8l-3.1-.8l-3.2-.8l-3.1-.7l-3.2-.8l-3.1-.6l-3.1-.7l-3.2-.6l-3.1-.6l-3.2-.6l-3.1-.5l-3.1-.5l-3.2-.5l-3.1-.5l-3.2-.4l-3.1-.4l-3.1-.4l-3.2-.3l-3.1-.4l-3.2-.3l-3.1-.2l-3.1-.3l-3.2-.2l-3.1-.2l-3.1-.2l-3.1-.1l-3.2-.1l-3.1-.1l-3.1-.1M729.1 594.1l-3.1-1.5l-3.1-1.5l-3-1.4l-3.1-1.3l-3.1-1.4l-3.1-1.3l-3.1-1.3l-3.1-1.2l-3.1-1.3l-3.1-1.2l-3.2-1.1l-3.1-1.1l-3.1-1.1l-3.1-1.1l-3.1-1l-3.2-1l-3.1-1l-3.1-1l-3.2-.9l-3.1-.9l-3.1-.8l-3.2-.8l-3.1-.8l-3.1-.8l-3.2-.7l-3.1-.7l-3.1-.7l-3.2-.7l-3.1-.6l-3.2-.6l-3.1-.6l-3.2-.5l-3.1-.5l-3.1-.5l-3.2-.5l-3.1-.4l-3.2-.4l-3.1-.4l-3.1-.4l-3.2-.3l-3.1-.3l-3.1-.3l-3.2-.2l-3.1-.3l-3.1-.2l-3.2-.1l-3.1-.2l-3.1-.1l-3.1-.1l-3.2-.1M732.2 593.6l-3-1.4l-3.1-1.5l-3.1-1.4l-3.1-1.4l-3.1-1.3l-3.1-1.3l-3.1-1.3l-3.1-1.3l-3.1-1.2l-3.1-1.2l-3.1-1.1l-3.1-1.2l-3.2-1.1l-3.1-1l-3.1-1.1l-3.1-1l-3.1-1l-3.2-.9l-3.1-.9l-3.1-.9l-3.2-.9l-3.1-.8l-3.1-.8l-3.2-.8l-3.1-.7l-3.2-.7l-3.1-.7l-3.1-.7l-3.2-.6l-3.1-.6l-3.2-.6l-3.1-.5l-3.1-.5l-3.2-.5l-3.1-.5l-3.2-.4l-3.1-.4l-3.2-.4l-3.1-.4l-3.1-.3l-3.2-.3l-3.1-.3l-3.1-.2l-3.2-.3l-3.1-.2l-3.1-.2l-3.2-.1l-3.1-.1l-3.1-.1l-3.1-.1M735.4 593.3l-3.1-1.5l-3.1-1.5l-3.1-1.4l-3.1-1.4l-3.1-1.3l-3.1-1.3l-3.1-1.3l-3.1-1.3l-3.1-1.2l-3.1-1.2l-3.1-1.2l-3.1-1.1l-3.1-1.1l-3.1-1.1l-3.2-1l-3.1-1l-3.1-1l-3.1-.9l-3.2-.9l-3.1-.9l-3.1-.9l-3.2-.8l-3.1-.8l-3.1-.8l-3.2-.7l-3.1-.8l-3.1-.7l-3.2-.6l-3.1-.6l-3.2-.6l-3.1-.6l-3.2-.6l-3.1-.5l-3.1-.5l-3.2-.5l-3.1-.4l-3.2-.4l-3.1-.4l-3.1-.4l-3.2-.3l-3.1-.3l-3.2-.3l-3.1-.2l-3.1-.3l-3.2-.2l-3.1-.2l-3.1-.1l-3.1-.1l-3.2-.2l-3.1 0M738.5 592.9l-3.1-1.5l-3.1-1.4l-3.1-1.5l-3-1.3l-3.1-1.4l-3.1-1.3l-3.1-1.3l-3.1-1.3l-3.1-1.2l-3.1-1.2l-3.1-1.1l-3.2-1.2l-3.1-1.1l-3.1-1l-3.1-1.1l-3.1-1l-3.2-1l-3.1-.9l-3.1-1l-3.1-.8l-3.2-.9l-3.1-.8l-3.1-.8l-3.2-.8l-3.1-.8l-3.2-.7l-3.1-.7l-3.1-.6l-3.2-.7l-3.1-.6l-3.2-.6l-3.1-.5l-3.1-.5l-3.2-.5l-3.1-.5l-3.2-.4l-3.1-.5l-3.2-.3l-3.1-.4l-3.1-.3l-3.2-.4l-3.1-.2l-3.1-.3l-3.2-.2l-3.1-.2l-3.1-.2l-3.2-.2l-3.1-.1l-3.1-.1l-3.2-.1M741.6 592.5l-3.1-1.4l-3.1-1.5l-3-1.4l-3.1-1.4l-3.1-1.3l-3.1-1.4l-3.1-1.3l-3.1-1.2l-3.1-1.2l-3.1-1.2l-3.1-1.2l-3.1-1.1l-3.1-1.1l-3.1-1.1l-3.2-1.1l-3.1-1l-3.1-.9l-3.1-1l-3.2-.9l-3.1-.9l-3.1-.9l-3.2-.8l-3.1-.8l-3.1-.8l-3.2-.8l-3.1-.7l-3.1-.7l-3.2-.6l-3.1-.7l-3.2-.6l-3.1-.6l-3.2-.5l-3.1-.5l-3.1-.5l-3.2-.5l-3.1-.5l-3.2-.4l-3.1-.4l-3.1-.3l-3.2-.4l-3.1-.3l-3.2-.3l-3.1-.2l-3.1-.3l-3.2-.2l-3.1-.2l-3.1-.1l-3.2-.2l-3.1-.1l-3.1-.1M744.7 592.2l-3.1-1.4l-3-1.5l-3.1-1.4l-3.1-1.4l-3.1-1.4l-3.1-1.3l-3.1-1.3l-3.1-1.2l-3.1-1.3l-3.1-1.2l-3.1-1.1l-3.1-1.2l-3.1-1.1l-3.1-1l-3.1-1.1l-3.1-1l-3.2-1l-3.1-.9l-3.1-1l-3.2-.9l-3.1-.8l-3.1-.9l-3.1-.8l-3.2-.8l-3.1-.7l-3.2-.7l-3.1-.7l-3.1-.7l-3.2-.6l-3.1-.7l-3.2-.5l-3.1-.6l-3.1-.5l-3.2-.5l-3.1-.5l-3.2-.4l-3.1-.5l-3.2-.4l-3.1-.3l-3.1-.4l-3.2-.3l-3.1-.3l-3.2-.3l-3.1-.2l-3.1-.2l-3.2-.2l-3.1-.2l-3.1-.1l-3.1-.1l-3.2-.1M747.8 591.9l-3-1.4l-3.1-1.5l-3.1-1.4l-3.1-1.4l-3.1-1.4l-3-1.3l-3.1-1.3l-3.1-1.2l-3.1-1.3l-3.1-1.2l-3.1-1.1l-3.1-1.2l-3.2-1.1l-3.1-1.1l-3.1-1l-3.1-1l-3.1-1l-3.2-1l-3.1-.9l-3.1-.9l-3.1-.9l-3.2-.8l-3.1-.8l-3.1-.8l-3.2-.8l-3.1-.7l-3.2-.7l-3.1-.6l-3.1-.7l-3.2-.6l-3.1-.6l-3.2-.5l-3.1-.6l-3.1-.5l-3.2-.5l-3.1-.4l-3.2-.4l-3.1-.4l-3.2-.4l-3.1-.4l-3.1-.3l-3.2-.3l-3.1-.2l-3.1-.3l-3.2-.2l-3.1-.2l-3.1-.2l-3.2-.1l-3.1-.1l-3.1-.1M750.9 591.7l-3-1.5l-3.1-1.5l-3.1-1.4l-3.1-1.4l-3-1.3l-3.1-1.4l-3.1-1.2l-3.1-1.3l-3.1-1.2l-3.1-1.2l-3.1-1.2l-3.1-1.2l-3.1-1.1l-3.1-1l-3.2-1.1l-3.1-1l-3.1-1l-3.1-1l-3.1-.9l-3.2-.9l-3.1-.9l-3.1-.8l-3.2-.8l-3.1-.8l-3.1-.8l-3.2-.7l-3.1-.7l-3.1-.7l-3.2-.6l-3.1-.6l-3.2-.6l-3.1-.6l-3.2-.5l-3.1-.5l-3.1-.5l-3.2-.5l-3.1-.4l-3.2-.4l-3.1-.4l-3.1-.3l-3.2-.3l-3.1-.3l-3.2-.3l-3.1-.3l-3.1-.2l-3.2-.2l-3.1-.2l-3.1-.1l-3.2-.1l-3.1-.1M754 591.5l-3-1.5l-3.1-1.5l-3.1-1.4l-3-1.4l-3.1-1.4l-3.1-1.3l-3.1-1.3l-3.1-1.3l-3.1-1.2l-3.1-1.2l-3.1-1.2l-3.1-1.1l-3.1-1.1l-3.1-1.1l-3.1-1.1l-3.1-1l-3.2-1l-3.1-.9l-3.1-1l-3.1-.9l-3.2-.8l-3.1-.9l-3.1-.8l-3.2-.8l-3.1-.8l-3.1-.7l-3.2-.7l-3.1-.7l-3.1-.6l-3.2-.6l-3.1-.6l-3.2-.6l-3.1-.5l-3.1-.5l-3.2-.5l-3.1-.5l-3.2-.4l-3.1-.4l-3.2-.4l-3.1-.3l-3.1-.4l-3.2-.3l-3.1-.3l-3.2-.2l-3.1-.2l-3.1-.2l-3.2-.2l-3.1-.2l-3.1-.1l-3.2-.1M757.1 591.2l-3-1.4l-3.1-1.5l-3.1-1.4l-3-1.4l-3.1-1.4l-3.1-1.3l-3.1-1.3l-3.1-1.3l-3.1-1.2l-3.1-1.2l-3.1-1.2l-3.1-1.1l-3.1-1.2l-3.1-1l-3.1-1.1l-3.1-1l-3.1-1l-3.1-1l-3.2-.9l-3.1-.9l-3.1-.9l-3.1-.8l-3.2-.9l-3.1-.7l-3.1-.8l-3.2-.7l-3.1-.8l-3.2-.6l-3.1-.7l-3.1-.6l-3.2-.6l-3.1-.6l-3.2-.5l-3.1-.5l-3.1-.5l-3.2-.5l-3.1-.4l-3.2-.4l-3.1-.4l-3.2-.4l-3.1-.3l-3.1-.3l-3.2-.3l-3.1-.2l-3.2-.3l-3.1-.2l-3.1-.1l-3.2-.2l-3.1-.1l-3.1-.1M760.2 591.1l-3-1.5l-3.1-1.5l-3-1.4l-3.1-1.4l-3.1-1.4l-3.1-1.3l-3.1-1.3l-3-1.3l-3.1-1.2l-3.1-1.2l-3.1-1.2l-3.1-1.1l-3.1-1.2l-3.1-1l-3.2-1.1l-3.1-1l-3.1-1l-3.1-1l-3.1-.9l-3.2-.9l-3.1-.9l-3.1-.9l-3.1-.8l-3.2-.8l-3.1-.7l-3.1-.8l-3.2-.7l-3.1-.7l-3.2-.6l-3.1-.7l-3.1-.6l-3.2-.5l-3.1-.6l-3.2-.5l-3.1-.5l-3.1-.4l-3.2-.5l-3.1-.4l-3.2-.4l-3.1-.3l-3.2-.4l-3.1-.3l-3.1-.3l-3.2-.2l-3.1-.3l-3.1-.2l-3.2-.1l-3.1-.2l-3.1-.1l-3.2-.1M763.3 590.9l-3-1.5l-3.1-1.5l-3-1.4l-3.1-1.4l-3.1-1.3l-3.1-1.4l-3-1.3l-3.1-1.2l-3.1-1.3l-3.1-1.2l-3.1-1.2l-3.1-1.1l-3.1-1.1l-3.1-1.1l-3.1-1.1l-3.1-1l-3.2-1l-3.1-1l-3.1-.9l-3.1-.9l-3.1-.9l-3.2-.9l-3.1-.8l-3.1-.8l-3.2-.8l-3.1-.7l-3.1-.7l-3.2-.7l-3.1-.6l-3.2-.7l-3.1-.6l-3.1-.6l-3.2-.5l-3.1-.5l-3.2-.5l-3.1-.5l-3.1-.4l-3.2-.4l-3.1-.4l-3.2-.4l-3.1-.3l-3.1-.3l-3.2-.3l-3.1-.3l-3.2-.2l-3.1-.2l-3.1-.2l-3.2-.2l-3.1-.1l-3.1-.1M766.4 590.8l-3-1.5l-3.1-1.5l-3-1.4l-3.1-1.4l-3.1-1.4l-3.1-1.3l-3-1.3l-3.1-1.3l-3.1-1.2l-3.1-1.2l-3.1-1.2l-3.1-1.2l-3.1-1.1l-3.1-1.1l-3.1-1.1l-3.1-1l-3.1-1l-3.1-1l-3.2-.9l-3.1-.9l-3.1-.9l-3.1-.8l-3.2-.9l-3.1-.8l-3.1-.7l-3.2-.8l-3.1-.7l-3.1-.7l-3.2-.6l-3.1-.7l-3.1-.6l-3.2-.6l-3.1-.5l-3.2-.5l-3.1-.5l-3.2-.5l-3.1-.4l-3.1-.5l-3.2-.4l-3.1-.3l-3.2-.4l-3.1-.3l-3.1-.3l-3.2-.2l-3.1-.3l-3.2-.2l-3.1-.2l-3.1-.1l-3.2-.2l-3.1-.1M769.5 590.7l-3-1.5l-3.1-1.5l-3-1.4l-3.1-1.4l-3.1-1.4l-3-1.3l-3.1-1.3l-3.1-1.3l-3.1-1.3l-3.1-1.2l-3.1-1.2l-3.1-1.1l-3.1-1.1l-3.1-1.1l-3.1-1.1l-3.1-1l-3.1-1l-3.1-1l-3.1-.9l-3.2-1l-3.1-.8l-3.1-.9l-3.1-.8l-3.2-.8l-3.1-.8l-3.1-.8l-3.2-.7l-3.1-.7l-3.1-.6l-3.2-.7l-3.1-.6l-3.1-.5l-3.2-.6l-3.1-.5l-3.2-.5l-3.1-.5l-3.2-.4l-3.1-.5l-3.1-.4l-3.2-.3l-3.1-.4l-3.2-.3l-3.1-.3l-3.1-.3l-3.2-.2l-3.1-.2l-3.2-.2l-3.1-.2l-3.1-.1l-3.2-.1M772.6 590.6l-3-1.5l-3.1-1.5l-3-1.4l-3.1-1.4l-3.1-1.4l-3-1.3l-3.1-1.3l-3.1-1.3l-3.1-1.3l-3.1-1.2l-3.1-1.2l-3.1-1.1l-3.1-1.1l-3.1-1.1l-3.1-1.1l-3.1-1l-3.1-1l-3.1-1l-3.1-1l-3.1-.9l-3.2-.9l-3.1-.8l-3.1-.9l-3.1-.8l-3.2-.7l-3.1-.8l-3.1-.7l-3.2-.7l-3.1-.7l-3.1-.6l-3.2-.6l-3.1-.6l-3.2-.6l-3.1-.5l-3.1-.5l-3.2-.5l-3.1-.4l-3.2-.4l-3.1-.4l-3.1-.4l-3.2-.4l-3.1-.3l-3.2-.3l-3.1-.3l-3.1-.2l-3.2-.2l-3.1-.2l-3.1-.2l-3.2-.1l-3.1-.2M775.7 590.5l-3-1.5l-3.1-1.4l-3.1-1.5l-3-1.4l-3.1-1.4l-3-1.3l-3.1-1.3l-3.1-1.3l-3.1-1.2l-3.1-1.3l-3.1-1.1l-3-1.2l-3.1-1.1l-3.1-1.1l-3.1-1.1l-3.2-1l-3.1-1l-3.1-1l-3.1-1l-3.1-.9l-3.1-.9l-3.2-.8l-3.1-.9l-3.1-.8l-3.1-.8l-3.2-.7l-3.1-.7l-3.1-.7l-3.2-.7l-3.1-.6l-3.1-.6l-3.2-.6l-3.1-.6l-3.2-.5l-3.1-.5l-3.1-.5l-3.2-.5l-3.1-.4l-3.2-.4l-3.1-.4l-3.1-.3l-3.2-.3l-3.1-.4l-3.2-.2l-3.1-.3l-3.1-.2l-3.2-.2l-3.1-.2l-3.1-.1l-3.2-.2M778.8 590.5l-3.1-1.5l-3-1.5l-3.1-1.4l-3-1.4l-3.1-1.4l-3.1-1.3l-3-1.4l-3.1-1.2l-3.1-1.3l-3.1-1.2l-3-1.2l-3.1-1.2l-3.1-1.1l-3.1-1.1l-3.1-1l-3.1-1.1l-3.1-1l-3.2-1l-3.1-.9l-3.1-1l-3.1-.9l-3.1-.8l-3.1-.9l-3.2-.8l-3.1-.7l-3.1-.8l-3.2-.7l-3.1-.7l-3.1-.7l-3.2-.6l-3.1-.7l-3.1-.5l-3.2-.6l-3.1-.5l-3.2-.6l-3.1-.4l-3.1-.5l-3.2-.4l-3.1-.4l-3.2-.4l-3.1-.4l-3.1-.3l-3.2-.3l-3.1-.3l-3.2-.2l-3.1-.3l-3.1-.2l-3.2-.1l-3.1-.2l-3.1-.1M781.9 590.5l-3.1-1.5l-3-1.5l-3.1-1.4l-3-1.4l-3.1-1.4l-3.1-1.4l-3-1.3l-3.1-1.3l-3.1-1.2l-3.1-1.2l-3-1.2l-3.1-1.2l-3.1-1.1l-3.1-1.1l-3.1-1.1l-3.1-1l-3.1-1l-3.1-1l-3.2-1l-3.1-.9l-3.1-.9l-3.1-.9l-3.1-.8l-3.2-.8l-3.1-.8l-3.1-.8l-3.1-.7l-3.2-.7l-3.1-.7l-3.1-.6l-3.2-.6l-3.1-.6l-3.1-.6l-3.2-.5l-3.1-.5l-3.2-.5l-3.1-.5l-3.1-.4l-3.2-.4l-3.1-.4l-3.2-.4l-3.1-.3l-3.1-.3l-3.2-.3l-3.1-.3l-3.2-.2l-3.1-.2l-3.1-.2l-3.2-.1l-3.1-.2M784.9 590.5l-3-1.5l-3.1-1.5l-3-1.4l-3.1-1.4l-3-1.4l-3.1-1.4l-3-1.3l-3.1-1.3l-3.1-1.2l-3.1-1.2l-3-1.2l-3.1-1.2l-3.1-1.1l-3.1-1.1l-3.1-1.1l-3.1-1l-3.1-1.1l-3.1-1l-3.1-.9l-3.2-.9l-3.1-.9l-3.1-.9l-3.1-.9l-3.1-.8l-3.2-.8l-3.1-.7l-3.1-.7l-3.1-.7l-3.2-.7l-3.1-.7l-3.1-.6l-3.2-.6l-3.1-.6l-3.2-.5l-3.1-.5l-3.1-.5l-3.2-.5l-3.1-.4l-3.2-.4l-3.1-.4l-3.1-.4l-3.2-.3l-3.1-.3l-3.2-.3l-3.1-.3l-3.1-.2l-3.2-.2l-3.1-.2l-3.1-.2l-3.2-.1M788 590.5l-3-1.5l-3.1-1.4l-3-1.5l-3.1-1.4l-3-1.4l-3.1-1.3l-3.1-1.3l-3-1.3l-3.1-1.3l-3.1-1.2l-3.1-1.2l-3-1.2l-3.1-1.1l-3.1-1.1l-3.1-1.1l-3.1-1l-3.1-1.1l-3.1-.9l-3.1-1l-3.1-.9l-3.2-.9l-3.1-.9l-3.1-.9l-3.1-.8l-3.1-.8l-3.2-.7l-3.1-.8l-3.1-.7l-3.1-.7l-3.2-.6l-3.1-.6l-3.2-.6l-3.1-.6l-3.1-.6l-3.2-.5l-3.1-.5l-3.1-.4l-3.2-.5l-3.1-.4l-3.2-.4l-3.1-.3l-3.1-.4l-3.2-.3l-3.1-.3l-3.2-.3l-3.1-.2l-3.1-.2l-3.2-.2l-3.1-.2l-3.1-.1M791 590.6l-3-1.5l-3-1.5l-3.1-1.4l-3-1.4l-3.1-1.4l-3-1.4l-3.1-1.3l-3-1.3l-3.1-1.2l-3.1-1.3l-3.1-1.2l-3-1.1l-3.1-1.2l-3.1-1.1l-3.1-1.1l-3.1-1l-3.1-1l-3.1-1l-3.1-1l-3.1-.9l-3.1-.9l-3.2-.9l-3.1-.9l-3.1-.8l-3.1-.8l-3.1-.7l-3.2-.8l-3.1-.7l-3.1-.7l-3.2-.6l-3.1-.6l-3.1-.6l-3.2-.6l-3.1-.6l-3.1-.5l-3.2-.5l-3.1-.5l-3.1-.4l-3.2-.4l-3.1-.4l-3.2-.4l-3.1-.3l-3.1-.4l-3.2-.2l-3.1-.3l-3.2-.3l-3.1-.2l-3.1-.2l-3.2-.1l-3.1-.2M635 620.3l3.1-1.3l3.2-1.3l3.1-1.3l3.1-1.2l3.2-1.2l3.1-1.2l3.1-1.1l3.2-1.1l3.1-1.1l3.1-1l3.2-1l3.1-1l3.2-.9l3.1-.9l3.2-.9l3.1-.9l3.1-.8l3.2-.8l3.1-.7l3.2-.8l3.1-.7l3.1-.7l3.2-.6l3.1-.6l3.1-.6l3.2-.6l3.1-.5l3.1-.5l3.2-.5l3.1-.4l3.1-.5l3.2-.3l3.1-.4l3.1-.4l3.1-.3l3.1-.3l3.1-.2l3.1-.2l3.1-.3l3.1-.1l3.1-.2l3.1-.1l3.1-.1l3.1-.1l3.1-.1l3.1 0l3.1 0l3 0l3.1 0l3 .1M631.9 618.8l3.1-1.3l3.2-1.3l3.1-1.2l3.1-1.3l3.2-1.2l3.1-1.1l3.1-1.2l3.2-1.1l3.1-1l3.1-1.1l3.2-1l3.1-.9l3.2-1l3.1-.9l3.2-.9l3.1-.8l3.1-.9l3.2-.7l3.1-.8l3.2-.7l3.1-.8l3.1-.6l3.2-.7l3.1-.6l3.2-.6l3.1-.5l3.1-.6l3.2-.5l3.1-.5l3.1-.4l3.2-.4l3.1-.4l3.1-.4l3.1-.3l3.1-.3l3.2-.3l3.1-.3l3.1-.2l3.1-.2l3.1-.2l3.1-.2l3.1-.1l3.1-.1l3.1-.1l3.1-.1l3 0l3.1 0l3.1 0l3.1 0l3 .1M628.8 617.4l3.1-1.3l3.1-1.3l3.2-1.3l3.1-1.2l3.1-1.2l3.2-1.1l3.1-1.2l3.2-1.1l3.1-1l3.1-1.1l3.2-1l3.1-1l3.2-.9l3.1-.9l3.2-.9l3.1-.9l3.1-.8l3.2-.8l3.1-.7l3.2-.8l3.1-.7l3.2-.7l3.1-.6l3.1-.6l3.2-.6l3.1-.6l3.1-.5l3.2-.5l3.1-.5l3.1-.5l3.2-.4l3.1-.4l3.1-.3l3.1-.4l3.2-.3l3.1-.3l3.1-.3l3.1-.2l3.1-.2l3.1-.2l3.1-.2l3.1-.1l3.1-.1l3.1-.1l3.1 0l3.1-.1l3.1 0l3 0l3.1 .1l3.1 0M625.7 616l3.1-1.3l3.1-1.3l3.2-1.2l3.1-1.3l3.1-1.2l3.2-1.1l3.1-1.2l3.2-1.1l3.1-1l3.1-1.1l3.2-1l3.1-1l3.2-.9l3.1-.9l3.1-.9l3.2-.9l3.1-.8l3.2-.8l3.1-.7l3.2-.8l3.1-.7l3.2-.7l3.1-.6l3.1-.6l3.2-.6l3.1-.6l3.2-.5l3.1-.5l3.1-.5l3.2-.5l3.1-.4l3.1-.4l3.1-.4l3.2-.3l3.1-.3l3.1-.3l3.1-.3l3.1-.2l3.1-.2l3.2-.2l3.1-.2l3.1-.1l3.1-.1l3.1-.1l3-.1l3.1 0l3.1 0l3.1 0l3.1 0l3 .1M622.6 614.7l3.1-1.3l3.1-1.3l3.2-1.3l3.1-1.2l3.1-1.2l3.2-1.2l3.1-1.1l3.1-1.1l3.2-1.1l3.1-1l3.2-1l3.1-1l3.2-1l3.1-.9l3.1-.9l3.2-.8l3.1-.8l3.2-.8l3.1-.8l3.2-.7l3.1-.8l3.2-.6l3.1-.7l3.1-.6l3.2-.6l3.1-.6l3.2-.5l3.1-.5l3.1-.5l3.2-.4l3.1-.5l3.1-.4l3.2-.3l3.1-.4l3.1-.3l3.1-.3l3.1-.3l3.2-.2l3.1-.2l3.1-.2l3.1-.2l3.1-.1l3.1-.1l3.1-.1l3.1-.1l3.1 0l3.1 0l3 0l3.1 0l3.1 .1M619.5 613.4l3.1-1.4l3.1-1.3l3.1-1.2l3.2-1.2l3.1-1.2l3.2-1.2l3.1-1.1l3.1-1.1l3.2-1.1l3.1-1.1l3.2-1l3.1-.9l3.1-1l3.2-.9l3.1-.9l3.2-.8l3.1-.9l3.2-.8l3.1-.7l3.2-.8l3.1-.7l3.1-.7l3.2-.6l3.1-.6l3.2-.6l3.1-.6l3.2-.5l3.1-.6l3.1-.4l3.2-.5l3.1-.4l3.1-.4l3.2-.4l3.1-.3l3.1-.4l3.1-.3l3.2-.2l3.1-.3l3.1-.2l3.1-.2l3.1-.1l3.1-.2l3.1-.1l3.1-.1l3.1-.1l3.1 0l3.1 0l3.1 0l3.1 0l3 .1M616.3 612.1l3.2-1.3l3.1-1.3l3.1-1.3l3.2-1.2l3.1-1.2l3.1-1.2l3.2-1.1l3.1-1.1l3.2-1.1l3.1-1l3.1-1.1l3.2-.9l3.1-1l3.2-.9l3.1-.9l3.2-.8l3.1-.9l3.2-.8l3.1-.7l3.2-.8l3.1-.7l3.1-.7l3.2-.6l3.1-.6l3.2-.6l3.1-.6l3.2-.6l3.1-.5l3.1-.4l3.2-.5l3.1-.4l3.1-.4l3.2-.4l3.1-.4l3.1-.3l3.2-.3l3.1-.3l3.1-.2l3.1-.2l3.1-.2l3.1-.2l3.1-.1l3.2-.1l3.1-.1l3.1-.1l3 0l3.1-.1l3.1 0l3.1 .1l3.1 0M613.2 610.8l3.2-1.3l3.1-1.3l3.1-1.3l3.1-1.2l3.2-1.2l3.1-1.2l3.2-1.1l3.1-1.1l3.1-1.1l3.2-1l3.1-1l3.2-1l3.1-.9l3.2-1l3.1-.9l3.2-.8l3.1-.8l3.1-.8l3.2-.8l3.1-.8l3.2-.7l3.1-.6l3.2-.7l3.1-.6l3.2-.6l3.1-.6l3.2-.5l3.1-.5l3.1-.5l3.2-.5l3.1-.4l3.1-.4l3.2-.4l3.1-.4l3.1-.3l3.2-.3l3.1-.2l3.1-.3l3.1-.2l3.1-.2l3.2-.2l3.1-.1l3.1-.1l3.1-.1l3.1-.1l3.1-.1l3.1 0l3.1 0l3 .1l3.1 0M610.1 609.6l3.1-1.3l3.2-1.3l3.1-1.3l3.1-1.2l3.2-1.2l3.1-1.2l3.1-1.1l3.2-1.1l3.1-1.1l3.2-1l3.1-1l3.2-1l3.1-1l3.1-.9l3.2-.9l3.1-.8l3.2-.9l3.1-.8l3.2-.7l3.1-.8l3.2-.7l3.1-.7l3.2-.6l3.1-.7l3.2-.6l3.1-.5l3.1-.6l3.2-.5l3.1-.5l3.2-.4l3.1-.5l3.1-.4l3.2-.4l3.1-.3l3.1-.3l3.2-.3l3.1-.3l3.1-.3l3.1-.2l3.2-.2l3.1-.1l3.1-.2l3.1-.1l3.1-.1l3.1-.1l3.1 0l3.1-.1l3.1 0l3.1 .1l3.1 0M607 608.4l3.1-1.3l3.1-1.3l3.2-1.3l3.1-1.2l3.1-1.2l3.2-1.2l3.1-1.1l3.2-1.1l3.1-1.1l3.1-1l3.2-1l3.1-1l3.2-1l3.1-.9l3.2-.9l3.1-.8l3.2-.9l3.1-.8l3.2-.7l3.1-.8l3.2-.7l3.1-.7l3.2-.6l3.1-.7l3.1-.6l3.2-.5l3.1-.6l3.2-.5l3.1-.5l3.2-.5l3.1-.4l3.1-.4l3.2-.4l3.1-.3l3.1-.4l3.2-.3l3.1-.2l3.1-.3l3.1-.2l3.2-.2l3.1-.2l3.1-.1l3.1-.2l3.1-.1l3.1 0l3.1-.1l3.1 0l3.1 0l3.1 0l3.1 .1M603.9 607.3l3.1-1.4l3.1-1.2l3.2-1.3l3.1-1.2l3.1-1.2l3.2-1.2l3.1-1.2l3.1-1.1l3.2-1l3.1-1.1l3.2-1l3.1-1l3.2-.9l3.1-1l3.1-.8l3.2-.9l3.1-.8l3.2-.8l3.1-.8l3.2-.8l3.1-.7l3.2-.7l3.1-.6l3.2-.7l3.1-.6l3.2-.5l3.1-.6l3.2-.5l3.1-.5l3.2-.5l3.1-.4l3.1-.4l3.2-.4l3.1-.3l3.1-.4l3.2-.3l3.1-.2l3.1-.3l3.1-.2l3.2-.2l3.1-.2l3.1-.1l3.1-.2l3.1-.1l3.1-.1l3.1 0l3.1 0l3.1 0l3.1 0l3.1 0M600.8 606.2l3.1-1.4l3.1-1.3l3.1-1.2l3.2-1.3l3.1-1.2l3.1-1.1l3.2-1.2l3.1-1.1l3.2-1.1l3.1-1l3.1-1l3.2-1l3.1-1l3.2-.9l3.1-.9l3.2-.8l3.1-.9l3.2-.8l3.1-.8l3.2-.7l3.1-.7l3.2-.7l3.1-.7l3.2-.6l3.1-.6l3.2-.6l3.1-.5l3.2-.6l3.1-.4l3.1-.5l3.2-.4l3.1-.5l3.2-.3l3.1-.4l3.1-.3l3.2-.3l3.1-.3l3.1-.3l3.1-.2l3.2-.2l3.1-.2l3.1-.1l3.1-.2l3.1-.1l3.1 0l3.2-.1l3.1 0l3.1 0l3 0l3.1 0M597.6 605.1l3.2-1.4l3.1-1.3l3.1-1.2l3.1-1.3l3.2-1.2l3.1-1.1l3.2-1.2l3.1-1.1l3.1-1.1l3.2-1l3.1-1l3.2-1l3.1-1l3.2-.9l3.1-.9l3.2-.9l3.1-.8l3.1-.8l3.2-.8l3.1-.7l3.2-.7l3.1-.7l3.2-.7l3.1-.6l3.2-.6l3.1-.6l3.2-.6l3.1-.5l3.2-.5l3.1-.4l3.2-.5l3.1-.4l3.1-.4l3.2-.3l3.1-.4l3.2-.3l3.1-.3l3.1-.2l3.1-.2l3.2-.2l3.1-.2l3.1-.2l3.1-.1l3.1-.1l3.2-.1l3.1-.1l3.1 0l3.1 0l3.1 0l3.1 .1M594.5 604l3.1-1.3l3.2-1.3l3.1-1.3l3.1-1.2l3.2-1.2l3.1-1.2l3.1-1.1l3.2-1.1l3.1-1.1l3.1-1.1l3.2-1l3.1-1l3.2-.9l3.1-1l3.2-.9l3.1-.8l3.2-.9l3.1-.8l3.2-.7l3.1-.8l3.2-.7l3.1-.7l3.2-.7l3.1-.6l3.2-.6l3.1-.6l3.2-.5l3.1-.6l3.2-.5l3.1-.4l3.1-.5l3.2-.4l3.1-.4l3.2-.3l3.1-.4l3.1-.3l3.2-.3l3.1-.2l3.1-.3l3.2-.2l3.1-.1l3.1-.2l3.1-.1l3.1-.1l3.2-.1l3.1-.1l3.1 0l3.1 0l3.1 0l3.1 0M591.4 603l3.1-1.3l3.1-1.3l3.2-1.3l3.1-1.2l3.1-1.3l3.2-1.1l3.1-1.2l3.1-1.1l3.2-1.1l3.1-1l3.2-1l3.1-1l3.2-1l3.1-.9l3.1-.9l3.2-.9l3.1-.8l3.2-.8l3.1-.8l3.2-.7l3.1-.8l3.2-.7l3.1-.6l3.2-.7l3.1-.6l3.2-.5l3.1-.6l3.2-.5l3.1-.5l3.2-.5l3.1-.4l3.2-.5l3.1-.3l3.2-.4l3.1-.3l3.1-.4l3.2-.2l3.1-.3l3.1-.2l3.2-.2l3.1-.2l3.1-.2l3.1-.1l3.1-.1l3.2-.1l3.1-.1l3.1 0l3.1 0l3.1 0l3.1 0M588.3 602l3.1-1.3l3.1-1.3l3.1-1.3l3.2-1.2l3.1-1.2l3.1-1.2l3.2-1.2l3.1-1.1l3.2-1.1l3.1-1l3.1-1l3.2-1l3.1-1l3.2-.9l3.1-.9l3.2-.9l3.1-.8l3.2-.8l3.1-.8l3.2-.8l3.1-.7l3.2-.7l3.1-.6l3.2-.7l3.1-.6l3.2-.6l3.1-.5l3.2-.6l3.1-.5l3.2-.4l3.1-.5l3.1-.4l3.2-.4l3.1-.4l3.2-.3l3.1-.3l3.1-.3l3.2-.3l3.1-.2l3.1-.2l3.2-.2l3.1-.2l3.1-.1l3.1-.1l3.2-.1l3.1 0l3.1-.1l3.1 0l3.1 0l3.1 0M585.2 601l3.1-1.3l3.1-1.3l3.1-1.3l3.2-1.2l3.1-1.2l3.1-1.2l3.1-1.1l3.2-1.1l3.1-1.1l3.2-1.1l3.1-1l3.2-1l3.1-1l3.1-.9l3.2-.9l3.1-.9l3.2-.8l3.1-.8l3.2-.8l3.1-.7l3.2-.8l3.1-.7l3.2-.6l3.1-.7l3.2-.6l3.1-.6l3.2-.5l3.1-.6l3.2-.5l3.1-.4l3.2-.5l3.1-.4l3.2-.4l3.1-.4l3.2-.3l3.1-.3l3.1-.3l3.2-.3l3.1-.2l3.1-.2l3.2-.2l3.1-.2l3.1-.1l3.1-.1l3.1-.1l3.2-.1l3.1 0l3.1 0l3.1 0l3.1 0M582 600.1l3.2-1.3l3.1-1.3l3.1-1.3l3.1-1.2l3.2-1.2l3.1-1.2l3.1-1.2l3.2-1.1l3.1-1.1l3.1-1l3.2-1l3.1-1l3.2-1l3.1-.9l3.2-.9l3.1-.9l3.2-.8l3.1-.9l3.2-.7l3.1-.8l3.2-.7l3.1-.7l3.2-.7l3.1-.6l3.2-.7l3.1-.5l3.2-.6l3.1-.5l3.2-.5l3.1-.5l3.2-.5l3.1-.4l3.1-.4l3.2-.3l3.1-.4l3.2-.3l3.1-.3l3.1-.3l3.2-.2l3.1-.2l3.1-.2l3.2-.2l3.1-.1l3.1-.1l3.1-.1l3.2-.1l3.1 0l3.1-.1l3.1 0l3.1 .1M578.9 599.2l3.1-1.3l3.1-1.3l3.2-1.3l3.1-1.2l3.1-1.2l3.2-1.2l3.1-1.2l3.1-1.1l3.2-1.1l3.1-1l3.1-1.1l3.2-.9l3.1-1l3.2-.9l3.1-.9l3.2-.9l3.1-.9l3.2-.8l3.1-.8l3.2-.7l3.1-.8l3.2-.7l3.1-.6l3.2-.7l3.1-.6l3.2-.6l3.1-.5l3.2-.6l3.1-.5l3.2-.5l3.1-.4l3.2-.4l3.1-.4l3.2-.4l3.1-.3l3.1-.4l3.2-.3l3.1-.2l3.2-.3l3.1-.2l3.1-.2l3.2-.2l3.1-.1l3.1-.1l3.1-.1l3.1-.1l3.2 0l3.1-.1l3.1 .1l3.1 0M575.8 598.3l3.1-1.3l3.1-1.3l3.1-1.3l3.2-1.2l3.1-1.2l3.1-1.2l3.2-1.1l3.1-1.2l3.1-1.1l3.2-1l3.1-1l3.2-1l3.1-1l3.1-.9l3.2-.9l3.1-.9l3.2-.9l3.1-.8l3.2-.8l3.1-.7l3.2-.8l3.1-.7l3.2-.6l3.1-.7l3.2-.6l3.1-.6l3.2-.5l3.1-.6l3.2-.5l3.1-.5l3.2-.4l3.1-.4l3.2-.5l3.1-.3l3.2-.4l3.1-.3l3.2-.3l3.1-.3l3.1-.2l3.2-.2l3.1-.2l3.1-.2l3.2-.1l3.1-.2l3.1-.1l3.1 0l3.1-.1l3.2 0l3.1 0l3.1 0M572.7 597.5l3.1-1.3l3.1-1.3l3.1-1.3l3.1-1.2l3.2-1.3l3.1-1.1l3.1-1.2l3.2-1.1l3.1-1.1l3.1-1.1l3.2-1l3.1-1l3.2-.9l3.1-1l3.2-.9l3.1-.9l3.2-.8l3.1-.8l3.2-.8l3.1-.8l3.2-.7l3.1-.7l3.2-.7l3.1-.6l3.2-.7l3.1-.6l3.2-.5l3.1-.6l3.2-.5l3.1-.5l3.2-.4l3.1-.4l3.2-.4l3.1-.4l3.1-.4l3.2-.3l3.1-.3l3.2-.3l3.1-.2l3.1-.2l3.2-.2l3.1-.2l3.1-.2l3.2-.1l3.1-.1l3.1-.1l3.1 0l3.1 0l3.2 0l3.1 0M569.5 596.7l3.2-1.3l3.1-1.3l3.1-1.3l3.1-1.3l3.1-1.2l3.2-1.2l3.1-1.1l3.1-1.1l3.2-1.1l3.1-1.1l3.2-1l3.1-1l3.1-1l3.2-.9l3.1-.9l3.2-.9l3.1-.8l3.2-.9l3.1-.8l3.2-.7l3.1-.8l3.2-.7l3.1-.6l3.2-.7l3.1-.6l3.2-.6l3.1-.6l3.2-.5l3.1-.5l3.2-.5l3.1-.5l3.2-.4l3.1-.4l3.2-.4l3.1-.3l3.2-.4l3.1-.3l3.1-.2l3.2-.3l3.1-.2l3.2-.2l3.1-.2l3.1-.1l3.1-.2l3.2-.1l3.1-.1l3.1 0l3.1 0l3.1 0l3.2 0M566.4 595.9l3.1-1.3l3.2-1.3l3.1-1.3l3.1-1.2l3.1-1.3l3.1-1.1l3.2-1.2l3.1-1.1l3.1-1.1l3.2-1.1l3.1-1l3.2-1l3.1-1l3.1-.9l3.2-.9l3.1-.9l3.2-.8l3.1-.9l3.2-.8l3.1-.7l3.2-.8l3.1-.7l3.2-.6l3.1-.7l3.2-.6l3.1-.6l3.2-.6l3.1-.5l3.2-.5l3.1-.5l3.2-.5l3.1-.4l3.2-.4l3.1-.4l3.2-.4l3.1-.3l3.2-.3l3.1-.3l3.2-.2l3.1-.3l3.1-.2l3.2-.1l3.1-.2l3.1-.1l3.1-.1l3.2-.1l3.1-.1l3.1 0l3.1 0l3.1 0M563.3 595.2l3.1-1.3l3.1-1.4l3.1-1.2l3.2-1.3l3.1-1.2l3.1-1.2l3.1-1.1l3.2-1.2l3.1-1.1l3.2-1l3.1-1l3.1-1.1l3.2-.9l3.1-1l3.2-.9l3.1-.9l3.1-.8l3.2-.8l3.1-.8l3.2-.8l3.1-.7l3.2-.7l3.1-.7l3.2-.7l3.2-.6l3.1-.6l3.2-.6l3.1-.5l3.2-.5l3.1-.5l3.2-.5l3.1-.4l3.2-.4l3.1-.4l3.2-.4l3.1-.3l3.1-.3l3.2-.3l3.1-.3l3.2-.2l3.1-.2l3.1-.2l3.2-.1l3.1-.2l3.1-.1l3.2-.1l3.1 0l3.1-.1l3.1 0l3.1 0M560.2 594.5l3.1-1.4l3.1-1.3l3.1-1.3l3.1-1.2l3.2-1.2l3.1-1.2l3.1-1.2l3.2-1.1l3.1-1.1l3.1-1l3.2-1.1l3.1-1l3.1-1l3.2-.9l3.1-.9l3.2-.9l3.1-.9l3.2-.8l3.1-.8l3.2-.7l3.1-.8l3.2-.7l3.1-.7l3.2-.6l3.1-.7l3.2-.6l3.1-.5l3.2-.6l3.1-.5l3.2-.5l3.1-.5l3.2-.4l3.1-.4l3.2-.4l3.1-.4l3.2-.3l3.1-.3l3.1-.3l3.2-.2l3.1-.3l3.2-.2l3.1-.2l3.1-.1l3.2-.2l3.1-.1l3.1-.1l3.1 0l3.2-.1l3.1 0l3.1 0M557.1 593.8l3.1-1.3l3.1-1.4l3.1-1.2l3.1-1.3l3.1-1.2l3.2-1.2l3.1-1.2l3.1-1.1l3.2-1.1l3.1-1l3.1-1.1l3.2-1l3.1-1l3.1-.9l3.2-.9l3.1-.9l3.2-.9l3.1-.8l3.2-.8l3.1-.8l3.2-.7l3.1-.7l3.2-.7l3.1-.7l3.2-.6l3.1-.6l3.2-.6l3.1-.5l3.2-.5l3.1-.5l3.2-.5l3.1-.4l3.2-.5l3.1-.4l3.2-.3l3.1-.4l3.2-.3l3.1-.3l3.2-.2l3.1-.2l3.1-.3l3.2-.1l3.1-.2l3.1-.1l3.2-.2l3.1 0l3.1-.1l3.1-.1l3.2 0l3.1 0M553.9 593.1l3.2-1.3l3.1-1.3l3.1-1.3l3.1-1.3l3.1-1.2l3.1-1.2l3.2-1.1l3.1-1.1l3.1-1.1l3.2-1.1l3.1-1l3.1-1.1l3.2-.9l3.1-1l3.2-.9l3.1-.9l3.1-.8l3.2-.9l3.1-.8l3.2-.8l3.1-.7l3.2-.7l3.1-.7l3.2-.7l3.1-.6l3.2-.6l3.1-.6l3.2-.5l3.1-.6l3.2-.4l3.1-.5l3.2-.5l3.1-.4l3.2-.4l3.1-.3l3.2-.4l3.1-.3l3.2-.3l3.1-.2l3.2-.3l3.1-.2l3.1-.2l3.2-.2l3.1-.1l3.1-.1l3.2-.1l3.1-.1l3.1 0l3.1 0l3.2 0M550.8 592.5l3.1-1.3l3.1-1.3l3.2-1.3l3.1-1.3l3.1-1.2l3.1-1.2l3.1-1.2l3.2-1.1l3.1-1.1l3.1-1.1l3.2-1l3.1-1l3.1-1l3.2-.9l3.1-.9l3.2-.9l3.1-.9l3.1-.8l3.2-.8l3.1-.8l3.2-.8l3.1-.7l3.2-.7l3.1-.6l3.2-.7l3.1-.6l3.2-.6l3.1-.5l3.2-.5l3.2-.5l3.1-.5l3.2-.5l3.1-.4l3.2-.4l3.1-.3l3.1-.4l3.2-.3l3.1-.3l3.2-.3l3.1-.2l3.2-.2l3.1-.2l3.1-.2l3.2-.1l3.1-.1l3.1-.1l3.2-.1l3.1 0l3.1-.1l3.1 0M547.7 591.9l3.1-1.3l3.1-1.3l3.1-1.3l3.2-1.3l3.1-1.2l3.1-1.2l3.1-1.2l3.1-1.1l3.2-1.1l3.1-1.1l3.1-1l3.2-1l3.1-1l3.1-.9l3.2-1l3.1-.9l3.2-.8l3.1-.9l3.2-.8l3.1-.7l3.2-.8l3.1-.7l3.2-.7l3.1-.7l3.2-.6l3.1-.6l3.2-.6l3.1-.6l3.2-.5l3.1-.5l3.2-.5l3.1-.4l3.2-.4l3.1-.4l3.2-.4l3.1-.3l3.2-.4l3.1-.3l3.1-.2l3.2-.3l3.1-.2l3.2-.2l3.1-.2l3.1-.1l3.2-.1l3.1-.1l3.1-.1l3.2 0l3.1-.1l3.1 0M544.6 591.4l3.1-1.4l3.1-1.3l3.1-1.3l3.1-1.3l3.1-1.2l3.2-1.2l3.1-1.1l3.1-1.2l3.1-1.1l3.2-1l3.1-1.1l3.1-1l3.2-1l3.1-.9l3.1-1l3.2-.9l3.1-.8l3.2-.9l3.1-.8l3.2-.7l3.1-.8l3.2-.7l3.1-.7l3.2-.7l3.1-.6l3.2-.6l3.1-.6l3.2-.6l3.1-.5l3.2-.5l3.1-.5l3.2-.4l3.1-.5l3.2-.4l3.1-.3l3.2-.4l3.1-.3l3.2-.3l3.1-.3l3.1-.2l3.2-.2l3.1-.2l3.2-.2l3.1-.2l3.1-.1l3.2-.1l3.1-.1l3.1 0l3.2-.1l3.1 0M541.5 590.8l3.1-1.3l3.1-1.4l3.1-1.2l3.1-1.3l3.1-1.2l3.1-1.2l3.2-1.2l3.1-1.1l3.1-1.1l3.1-1.1l3.2-1l3.1-1.1l3.1-.9l3.2-1l3.1-.9l3.2-.9l3.1-.9l3.1-.8l3.2-.8l3.1-.8l3.2-.8l3.1-.7l3.2-.7l3.1-.7l3.2-.6l3.1-.6l3.2-.6l3.1-.6l3.2-.5l3.1-.5l3.2-.5l3.1-.4l3.2-.5l3.1-.4l3.2-.4l3.1-.3l3.2-.3l3.1-.3l3.2-.3l3.1-.3l3.1-.2l3.2-.2l3.1-.2l3.2-.1l3.1-.1l3.1-.1l3.2-.1l3.1-.1l3.1 0l3.1 0M538.4 590.3l3.1-1.3l3.1-1.4l3.1-1.3l3.1-1.2l3.1-1.2l3.1-1.2l3.1-1.2l3.2-1.1l3.1-1.1l3.1-1.1l3.1-1.1l3.2-1l3.1-1l3.1-.9l3.2-1l3.1-.9l3.2-.8l3.1-.9l3.1-.8l3.2-.8l3.1-.7l3.2-.7l3.1-.7l3.2-.7l3.1-.7l3.2-.6l3.1-.6l3.2-.5l3.1-.6l3.2-.5l3.1-.5l3.2-.4l3.1-.5l3.2-.4l3.1-.3l3.2-.4l3.1-.3l3.2-.3l3.1-.3l3.2-.3l3.1-.2l3.2-.2l3.1-.2l3.1-.1l3.2-.1l3.1-.2l3.1 0l3.2-.1l3.1 0l3.1 0M535.3 589.8l3.1-1.3l3.1-1.3l3.1-1.3l3.1-1.3l3.1-1.2l3.1-1.2l3.1-1.2l3.1-1.1l3.2-1.1l3.1-1.1l3.1-1.1l3.1-1l3.2-1l3.1-.9l3.2-1l3.1-.9l3.1-.8l3.2-.9l3.1-.8l3.2-.8l3.1-.7l3.1-.8l3.2-.7l3.1-.6l3.2-.7l3.1-.6l3.2-.6l3.1-.6l3.2-.5l3.1-.5l3.2-.5l3.1-.5l3.2-.4l3.1-.4l3.2-.4l3.1-.3l3.2-.4l3.1-.3l3.2-.3l3.1-.2l3.2-.3l3.1-.2l3.2-.1l3.1-.2l3.1-.1l3.2-.1l3.1-.1l3.1-.1l3.1 0l3.2 0M532.2 589.4l3.1-1.4l3.1-1.3l3.1-1.3l3.1-1.3l3.1-1.2l3.1-1.2l3.1-1.2l3.1-1.1l3.1-1.1l3.2-1.1l3.1-1l3.1-1.1l3.2-.9l3.1-1l3.1-.9l3.2-.9l3.1-.9l3.1-.9l3.2-.8l3.1-.8l3.2-.7l3.1-.8l3.2-.7l3.1-.6l3.2-.7l3.1-.6l3.2-.6l3.1-.6l3.2-.5l3.1-.5l3.2-.5l3.1-.5l3.2-.4l3.1-.4l3.2-.4l3.1-.4l3.1-.3l3.2-.3l3.1-.3l3.2-.3l3.1-.2l3.2-.2l3.1-.2l3.1-.2l3.2-.1l3.1-.1l3.2-.1l3.1-.1l3.1 0l3.1 0M529.1 589l3.1-1.4l3.1-1.3l3.1-1.3l3.1-1.3l3.1-1.2l3.1-1.2l3.1-1.2l3.1-1.1l3.1-1.1l3.1-1.1l3.2-1.1l3.1-1l3.1-1l3.2-1l3.1-.9l3.1-.9l3.2-.9l3.1-.8l3.1-.8l3.2-.8l3.1-.8l3.2-.7l3.1-.7l3.2-.7l3.1-.7l3.2-.6l3.1-.6l3.2-.6l3.1-.5l3.2-.5l3.1-.5l3.2-.5l3.1-.4l3.2-.4l3.1-.4l3.2-.4l3.1-.3l3.2-.3l3.1-.3l3.1-.3l3.2-.2l3.1-.2l3.2-.2l3.1-.2l3.1-.1l3.2-.1l3.1-.1l3.1-.1l3.2-.1l3.1 0M526 588.6l3-1.4l3.1-1.3l3.1-1.3l3.1-1.3l3.1-1.2l3.2-1.2l3.1-1.2l3.1-1.1l3.1-1.2l3.1-1l3.1-1.1l3.2-1l3.1-1l3.1-1l3.2-.9l3.1-.9l3.1-.9l3.2-.9l3.1-.8l3.2-.8l3.1-.7l3.1-.8l3.2-.7l3.1-.7l3.2-.6l3.1-.6l3.2-.6l3.1-.6l3.2-.6l3.1-.5l3.2-.5l3.1-.5l3.2-.4l3.1-.4l3.2-.4l3.1-.4l3.2-.3l3.1-.3l3.2-.3l3.1-.3l3.1-.2l3.2-.2l3.1-.2l3.2-.2l3.1-.1l3.1-.2l3.2 0l3.1-.1l3.1-.1l3.2 0M522.9 588.2l3-1.4l3.1-1.3l3.1-1.3l3.1-1.3l3.1-1.2l3.1-1.2l3.2-1.2l3.1-1.1l3.1-1.1l3.1-1.1l3.1-1.1l3.1-1l3.2-1l3.1-1l3.1-.9l3.2-.9l3.1-.9l3.1-.9l3.2-.8l3.1-.8l3.2-.7l3.1-.8l3.1-.7l3.2-.7l3.1-.6l3.2-.7l3.1-.6l3.2-.5l3.1-.6l3.2-.5l3.1-.5l3.2-.5l3.1-.4l3.2-.5l3.1-.3l3.2-.4l3.1-.4l3.2-.3l3.1-.3l3.2-.2l3.1-.3l3.1-.2l3.2-.2l3.1-.2l3.2-.1l3.1-.1l3.1-.1l3.2-.1l3.1-.1l3.1 0M519.8 587.9l3-1.4l3.1-1.3l3.1-1.3l3.1-1.3l3.1-1.2l3.1-1.3l3.1-1.1l3.2-1.2l3.1-1.1l3.1-1.1l3.1-1l3.1-1.1l3.2-1l3.1-.9l3.1-1l3.1-.9l3.2-.9l3.1-.8l3.1-.9l3.2-.8l3.1-.7l3.2-.8l3.1-.7l3.2-.7l3.1-.6l3.1-.7l3.2-.6l3.1-.6l3.2-.5l3.1-.5l3.2-.5l3.1-.5l3.2-.5l3.1-.4l3.2-.4l3.1-.3l3.2-.4l3.1-.3l3.2-.3l3.1-.3l3.2-.2l3.1-.2l3.1-.2l3.2-.2l3.1-.2l3.2-.1l3.1-.1l3.1-.1l3.2 0l3.1-.1M516.7 587.5l3-1.3l3.1-1.4l3.1-1.3l3.1-1.2l3.1-1.3l3.1-1.2l3.1-1.2l3.1-1.1l3.2-1.1l3.1-1.1l3.1-1.1l3.1-1l3.1-1l3.2-1l3.1-.9l3.1-.9l3.1-.9l3.2-.9l3.1-.8l3.2-.8l3.1-.8l3.1-.7l3.2-.7l3.1-.7l3.2-.7l3.1-.6l3.2-.6l3.1-.6l3.2-.6l3.1-.5l3.1-.5l3.2-.5l3.1-.4l3.2-.5l3.1-.4l3.2-.3l3.1-.4l3.2-.3l3.1-.3l3.2-.3l3.1-.2l3.2-.3l3.1-.2l3.1-.1l3.2-.2l3.1-.1l3.2-.1l3.1-.1l3.1-.1l3.2 0M513.6 587.3l3.1-1.4l3-1.3l3.1-1.3l3.1-1.3l3.1-1.3l3.1-1.2l3.1-1.2l3.1-1.1l3.1-1.1l3.2-1.1l3.1-1.1l3.1-1l3.1-1l3.1-1l3.2-.9l3.1-1l3.1-.8l3.2-.9l3.1-.8l3.1-.8l3.2-.8l3.1-.8l3.1-.7l3.2-.7l3.1-.6l3.2-.7l3.1-.6l3.2-.6l3.1-.5l3.2-.6l3.1-.5l3.2-.5l3.1-.4l3.2-.4l3.1-.4l3.1-.4l3.2-.4l3.1-.3l3.2-.3l3.1-.3l3.2-.2l3.1-.3l3.2-.2l3.1-.1l3.1-.2l3.2-.1l3.1-.1l3.1-.1l3.2-.1l3.1 0M510.5 587l3.1-1.4l3-1.3l3.1-1.3l3.1-1.3l3.1-1.2l3.1-1.2l3.1-1.2l3.1-1.2l3.1-1.1l3.1-1.1l3.2-1.1l3.1-1l3.1-1l3.1-1l3.1-.9l3.2-.9l3.1-.9l3.1-.9l3.2-.8l3.1-.8l3.1-.8l3.2-.8l3.1-.7l3.2-.7l3.1-.7l3.1-.6l3.2-.6l3.1-.6l3.2-.6l3.1-.5l3.2-.5l3.1-.5l3.2-.4l3.1-.5l3.2-.4l3.1-.4l3.2-.3l3.1-.3l3.1-.4l3.2-.2l3.1-.3l3.2-.2l3.1-.2l3.2-.2l3.1-.2l3.1-.1l3.2-.1l3.1-.1l3.1-.1l3.2 0M507.4 586.8l3.1-1.4l3.1-1.3l3-1.3l3.1-1.3l3.1-1.3l3.1-1.2l3.1-1.2l3.1-1.1l3.1-1.2l3.1-1l3.1-1.1l3.2-1.1l3.1-1l3.1-.9l3.1-1l3.2-.9l3.1-.9l3.1-.9l3.1-.8l3.2-.8l3.1-.8l3.1-.7l3.2-.8l3.1-.7l3.2-.6l3.1-.7l3.2-.6l3.1-.6l3.1-.6l3.2-.5l3.1-.5l3.2-.5l3.1-.5l3.2-.4l3.1-.4l3.2-.4l3.1-.3l3.2-.4l3.1-.3l3.1-.3l3.2-.2l3.1-.3l3.2-.2l3.1-.2l3.2-.1l3.1-.2l3.1-.1l3.2-.1l3.1 0l3.1-.1M504.3 586.6l3.1-1.4l3.1-1.3l3-1.4l3.1-1.2l3.1-1.3l3.1-1.2l3.1-1.2l3.1-1.1l3.1-1.2l3.1-1.1l3.1-1l3.2-1.1l3.1-1l3.1-1l3.1-.9l3.1-.9l3.2-.9l3.1-.9l3.1-.9l3.2-.8l3.1-.7l3.1-.8l3.2-.7l3.1-.7l3.1-.7l3.2-.7l3.1-.6l3.2-.6l3.1-.5l3.2-.6l3.1-.5l3.1-.5l3.2-.4l3.1-.5l3.2-.4l3.1-.4l3.2-.3l3.1-.4l3.2-.3l3.1-.3l3.2-.2l3.1-.3l3.1-.2l3.2-.2l3.1-.1l3.2-.2l3.1-.1l3.1-.1l3.2-.1l3.1 0M501.2 586.4l3.1-1.4l3.1-1.3l3.1-1.3l3-1.3l3.1-1.3l3.1-1.2l3.1-1.2l3.1-1.1l3.1-1.2l3.1-1.1l3.1-1l3.1-1.1l3.2-1l3.1-1l3.1-.9l3.1-1l3.1-.9l3.2-.8l3.1-.9l3.1-.8l3.2-.8l3.1-.7l3.1-.8l3.2-.7l3.1-.6l3.1-.7l3.2-.6l3.1-.6l3.2-.6l3.1-.5l3.2-.5l3.1-.5l3.2-.5l3.1-.4l3.1-.5l3.2-.3l3.1-.4l3.2-.4l3.1-.3l3.2-.3l3.1-.2l3.2-.3l3.1-.2l3.1-.2l3.2-.2l3.1-.1l3.2-.1l3.1-.1l3.1-.1l3.2-.1M498.2 586.2l3-1.3l3.1-1.4l3.1-1.3l3.1-1.3l3-1.2l3.1-1.3l3.1-1.1l3.1-1.2l3.1-1.1l3.1-1.1l3.1-1.1l3.1-1.1l3.2-1l3.1-1l3.1-.9l3.1-.9l3.1-.9l3.2-.9l3.1-.9l3.1-.8l3.1-.8l3.2-.7l3.1-.8l3.1-.7l3.2-.7l3.1-.6l3.2-.6l3.1-.6l3.1-.6l3.2-.6l3.1-.5l3.2-.5l3.1-.4l3.2-.5l3.1-.4l3.2-.4l3.1-.4l3.1-.3l3.2-.3l3.1-.3l3.2-.3l3.1-.2l3.2-.3l3.1-.2l3.1-.1l3.2-.2l3.1-.1l3.1-.1l3.2-.1l3.1 0M495.1 586.1l3-1.4l3.1-1.3l3.1-1.3l3.1-1.3l3.1-1.3l3-1.2l3.1-1.2l3.1-1.1l3.1-1.2l3.1-1.1l3.1-1.1l3.1-1l3.1-1l3.2-1l3.1-1l3.1-.9l3.1-.9l3.1-.9l3.2-.8l3.1-.9l3.1-.7l3.2-.8l3.1-.7l3.1-.8l3.2-.6l3.1-.7l3.1-.6l3.2-.6l3.1-.6l3.2-.6l3.1-.5l3.1-.5l3.2-.4l3.1-.5l3.2-.4l3.1-.4l3.2-.4l3.1-.3l3.1-.4l3.2-.3l3.1-.2l3.2-.3l3.1-.2l3.2-.2l3.1-.2l3.1-.1l3.2-.2l3.1-.1l3.1-.1l3.2 0M492 586l3.1-1.4l3-1.3l3.1-1.3l3.1-1.3l3.1-1.3l3.1-1.2l3-1.2l3.1-1.2l3.1-1.1l3.1-1.1l3.1-1.1l3.1-1l3.1-1.1l3.2-.9l3.1-1l3.1-.9l3.1-.9l3.1-.9l3.2-.9l3.1-.8l3.1-.8l3.1-.8l3.2-.7l3.1-.7l3.1-.7l3.2-.7l3.1-.6l3.1-.6l3.2-.6l3.1-.5l3.2-.6l3.1-.5l3.2-.4l3.1-.5l3.1-.4l3.2-.4l3.1-.4l3.2-.3l3.1-.4l3.2-.3l3.1-.2l3.1-.3l3.2-.2l3.1-.2l3.2-.2l3.1-.2l3.1-.1l3.2-.1l3.1-.1l3.1-.1M488.9 585.9l3.1-1.3l3.1-1.4l3-1.3l3.1-1.3l3.1-1.3l3.1-1.2l3.1-1.2l3-1.2l3.1-1.1l3.1-1.1l3.1-1.1l3.1-1l3.1-1.1l3.2-1l3.1-.9l3.1-1l3.1-.9l3.1-.8l3.1-.9l3.2-.8l3.1-.8l3.1-.8l3.2-.7l3.1-.7l3.1-.7l3.2-.7l3.1-.6l3.1-.6l3.2-.6l3.1-.6l3.1-.5l3.2-.5l3.1-.5l3.2-.4l3.1-.5l3.2-.4l3.1-.4l3.1-.3l3.2-.3l3.1-.3l3.2-.3l3.1-.3l3.1-.2l3.2-.2l3.1-.2l3.2-.2l3.1-.1l3.1-.1l3.2-.1l3.1-.1M485.9 585.9l3-1.4l3.1-1.3l3.1-1.4l3-1.3l3.1-1.2l3.1-1.2l3.1-1.2l3.1-1.2l3.1-1.2l3-1.1l3.1-1.1l3.1-1l3.2-1l3.1-1l3.1-1l3.1-.9l3.1-.9l3.1-.9l3.1-.9l3.2-.8l3.1-.8l3.1-.8l3.1-.7l3.2-.8l3.1-.6l3.1-.7l3.2-.6l3.1-.7l3.1-.5l3.2-.6l3.1-.5l3.2-.5l3.1-.5l3.1-.5l3.2-.4l3.1-.4l3.2-.4l3.1-.4l3.1-.3l3.2-.3l3.1-.3l3.2-.2l3.1-.3l3.2-.2l3.1-.2l3.1-.1l3.2-.2l3.1-.1l3.1-.1l3.2-.1M482.8 585.9l3.1-1.4l3-1.4l3.1-1.3l3.1-1.3l3-1.2l3.1-1.3l3.1-1.2l3.1-1.2l3.1-1.1l3.1-1.1l3.1-1.1l3.1-1.1l3.1-1l3.1-1l3.1-1l3.1-.9l3.1-.9l3.1-.9l3.1-.9l3.1-.8l3.2-.8l3.1-.8l3.1-.7l3.2-.7l3.1-.7l3.1-.7l3.1-.6l3.2-.7l3.1-.5l3.2-.6l3.1-.5l3.1-.6l3.2-.4l3.1-.5l3.2-.4l3.1-.4l3.1-.4l3.2-.4l3.1-.3l3.2-.3l3.1-.3l3.1-.3l3.2-.2l3.1-.2l3.2-.2l3.1-.2l3.1-.1l3.2-.2l3.1-.1l3.1 0M479.8 585.9l3-1.4l3.1-1.4l3-1.3l3.1-1.3l3.1-1.3l3-1.2l3.1-1.2l3.1-1.2l3.1-1.1l3.1-1.1l3.1-1.1l3.1-1.1l3.1-1l3.1-1l3.1-1l3.1-.9l3.1-.9l3.1-.9l3.1-.9l3.1-.8l3.2-.8l3.1-.8l3.1-.8l3.1-.7l3.2-.7l3.1-.7l3.1-.6l3.2-.6l3.1-.6l3.1-.6l3.2-.5l3.1-.5l3.1-.5l3.2-.5l3.1-.4l3.2-.4l3.1-.4l3.1-.4l3.2-.3l3.1-.3l3.2-.3l3.1-.3l3.1-.2l3.2-.3l3.1-.2l3.2-.1l3.1-.2l3.1-.1l3.2-.1l3.1-.1" fill="none" stroke="#000" stroke-width="0.2" stroke-opacity="1"/>
<ellipse cx="479.2" cy="586.8" rx="2.6" ry="1.9" fill="#ffd0d0" stroke="#777" stroke-width="0.6"/>
<ellipse cx="635.2" cy="615.3" rx="2.5" ry="1.8" fill="#f00" stroke="#900" stroke-width="0.5"/>
<ellipse cx="791" cy="591" rx="2.5" ry="1.8" fill="#f00" stroke="#900" stroke-width="0.5"/>
<ellipse cx="635.2" cy="559.8" rx="2.5" ry="1.8" fill="#f00" stroke="#900" stroke-width="0.5"/>
<text x="465.3" y="729.8" font-size="10.3" text-anchor="start" font-family='"Liberation Sans", sans-serif' textLength="76.3" lengthAdjust="spacingAndGlyphs" stroke="#000" stroke-width="0.55">C: Reaction time</text>
<text x="735.3" y="729.8" font-size="10.3" text-anchor="start" font-family='"Liberation Sans", sans-serif' textLength="62.2" lengthAdjust="spacingAndGlyphs" stroke="#000" stroke-width="0.55">B: GA content</text>
<text x="431.6" y="621.2" font-size="10.4" text-anchor="middle" font-family='"Liberation Sans", sans-serif' textLength="61.9" lengthAdjust="spacingAndGlyphs" transform="rotate(-90 431.6 621.2)" stroke="#000" stroke-width="0.55">Urea Loading</text>
<text x="635.4" y="772.2" font-size="21" text-anchor="middle" font-family='"Liberation Sans", sans-serif' textLength="14" lengthAdjust="spacingAndGlyphs" font-weight="bold" >C</text>
</g>
</svg>
</body></html>
